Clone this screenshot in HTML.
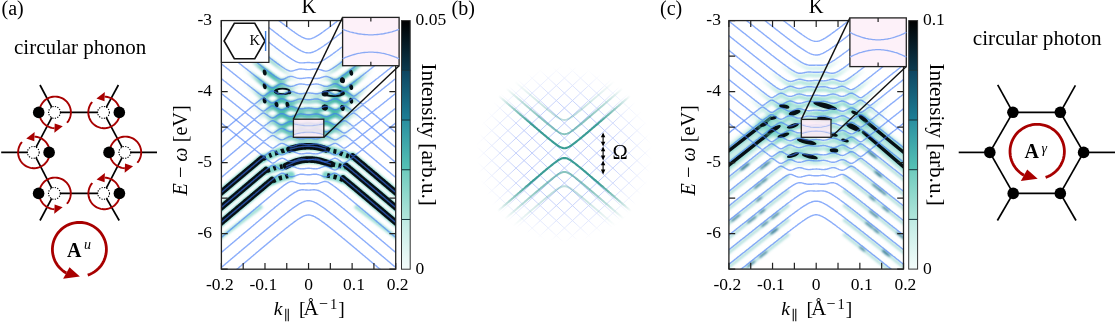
<!DOCTYPE html>
<html><head><meta charset="utf-8"><style>html,body{margin:0;padding:0;background:#fff;overflow:hidden}svg{display:block}</style></head><body>
<svg width="1115" height="322" viewBox="0 0 1115 322" font-family="'Liberation Serif', 'DejaVu Serif', serif">
<rect width="100%" height="100%" fill="#fff"/>
<text x="1.50" y="15.00" font-size="20" text-anchor="start" >(a)</text>
<text x="451.60" y="15.10" font-size="20" text-anchor="start" >(b)</text>
<text x="660.00" y="15.20" font-size="20" text-anchor="start" >(c)</text>
<text x="14.00" y="54.00" font-size="21" text-anchor="start" >circular phonon</text>
<text x="972.80" y="45.20" font-size="21.2" text-anchor="start" >circular photon</text>
<line x1="54.5" y1="112.4" x2="103.5" y2="112.4" stroke="#000" stroke-width="1.7"/>
<line x1="54.5" y1="112.4" x2="33.3" y2="152.4" stroke="#000" stroke-width="1.7"/>
<line x1="33.3" y1="152.4" x2="54.4" y2="193.4" stroke="#000" stroke-width="1.7"/>
<line x1="54.4" y1="193.4" x2="103.6" y2="193.4" stroke="#000" stroke-width="1.7"/>
<line x1="103.6" y1="193.4" x2="124.8" y2="152.4" stroke="#000" stroke-width="1.7"/>
<line x1="124.8" y1="152.4" x2="103.5" y2="112.4" stroke="#000" stroke-width="1.7"/>
<line x1="54.5" y1="112.4" x2="40.0" y2="85.0" stroke="#000" stroke-width="1.7"/>
<line x1="103.5" y1="112.4" x2="118.4" y2="85.0" stroke="#000" stroke-width="1.7"/>
<line x1="33.3" y1="152.4" x2="1.2" y2="152.4" stroke="#000" stroke-width="1.7"/>
<line x1="124.8" y1="152.4" x2="157.0" y2="152.4" stroke="#000" stroke-width="1.7"/>
<line x1="54.4" y1="193.4" x2="40.0" y2="220.5" stroke="#000" stroke-width="1.7"/>
<line x1="103.6" y1="193.4" x2="119.2" y2="220.5" stroke="#000" stroke-width="1.7"/>
<path d="M67.02,122.77 L67.91,121.65 L68.69,120.47 L69.35,119.21 L69.91,117.91 L70.34,116.56 L70.66,115.17 L70.84,113.76 L70.90,112.34 L70.83,110.93 L70.64,109.52 L70.31,108.14 L69.87,106.79 L69.31,105.49 L68.63,104.24 L67.84,103.06 L66.95,101.95 L65.97,100.93 L64.89,100.00 L63.74,99.17 L62.52,98.45 L61.24,97.84 L59.90,97.35 L58.53,96.98 L57.13,96.73 L55.72,96.61 L54.30,96.62 L52.89,96.76 L51.49,97.02 L50.13,97.40 L48.80,97.91 L47.52,98.53 L46.31,99.27 L45.17,100.11 L44.10,101.05 L43.13,102.09 L42.25,103.20 L41.48,104.39 L40.82,105.65 L40.27,106.96 L39.84,108.31 L39.53,109.70 L39.35,111.11 L39.30,112.52 L39.38,113.94 L39.58,115.35 L39.90,116.73 L40.35,118.08 L40.92,119.38 L41.61,120.62 L42.40,121.80 L43.29,122.90 L44.28,123.92 L45.36,124.84 L46.52,125.67 L47.74,126.38 L49.03,126.99 L50.36,127.47 L51.73,127.84 L53.13,128.08 L54.55,128.19" fill="none" stroke="#a80000" stroke-width="1.9"/>
<path d="M62.76,126.22 L54.39,132.79 L54.71,123.59 Z" fill="#a80000"/>
<path d="M92.18,102.03 L91.29,103.15 L90.51,104.33 L89.85,105.59 L89.29,106.89 L88.86,108.24 L88.54,109.63 L88.36,111.04 L88.30,112.46 L88.37,113.87 L88.56,115.28 L88.89,116.66 L89.33,118.01 L89.89,119.31 L90.57,120.56 L91.36,121.74 L92.25,122.85 L93.23,123.87 L94.31,124.80 L95.46,125.63 L96.68,126.35 L97.96,126.96 L99.30,127.45 L100.67,127.82 L102.07,128.07 L103.48,128.19 L104.90,128.18 L106.31,128.04 L107.71,127.78 L109.07,127.40 L110.40,126.89 L111.68,126.27 L112.89,125.53 L114.03,124.69 L115.10,123.75 L116.07,122.71 L116.95,121.60 L117.72,120.41 L118.38,119.15 L118.93,117.84 L119.36,116.49 L119.67,115.10 L119.85,113.69 L119.90,112.28 L119.82,110.86 L119.62,109.45 L119.30,108.07 L118.85,106.72 L118.28,105.42 L117.59,104.18 L116.80,103.00 L115.91,101.90 L114.92,100.88 L113.84,99.96 L112.68,99.13 L111.46,98.42 L110.17,97.81 L108.84,97.33 L107.47,96.96 L106.07,96.72 L104.65,96.61" fill="none" stroke="#a80000" stroke-width="1.9"/>
<path d="M96.44,98.58 L104.81,92.01 L104.49,101.21 Z" fill="#a80000"/>
<path d="M21.98,142.03 L21.09,143.15 L20.31,144.33 L19.65,145.59 L19.09,146.89 L18.66,148.24 L18.34,149.63 L18.16,151.04 L18.10,152.46 L18.17,153.87 L18.36,155.28 L18.69,156.66 L19.13,158.01 L19.69,159.31 L20.37,160.56 L21.16,161.74 L22.05,162.85 L23.03,163.87 L24.11,164.80 L25.26,165.63 L26.48,166.35 L27.76,166.96 L29.10,167.45 L30.47,167.82 L31.87,168.07 L33.28,168.19 L34.70,168.18 L36.11,168.04 L37.51,167.78 L38.87,167.40 L40.20,166.89 L41.48,166.27 L42.69,165.53 L43.83,164.69 L44.90,163.75 L45.87,162.71 L46.75,161.60 L47.52,160.41 L48.18,159.15 L48.73,157.84 L49.16,156.49 L49.47,155.10 L49.65,153.69 L49.70,152.28 L49.62,150.86 L49.42,149.45 L49.10,148.07 L48.65,146.72 L48.08,145.42 L47.39,144.18 L46.60,143.00 L45.71,141.90 L44.72,140.88 L43.64,139.96 L42.48,139.13 L41.26,138.42 L39.97,137.81 L38.64,137.33 L37.27,136.96 L35.87,136.72 L34.45,136.61" fill="none" stroke="#a80000" stroke-width="1.9"/>
<path d="M26.24,138.58 L34.61,132.01 L34.29,141.21 Z" fill="#a80000"/>
<path d="M137.32,162.77 L138.21,161.65 L138.99,160.47 L139.65,159.21 L140.21,157.91 L140.64,156.56 L140.96,155.17 L141.14,153.76 L141.20,152.34 L141.13,150.93 L140.94,149.52 L140.61,148.14 L140.17,146.79 L139.61,145.49 L138.93,144.24 L138.14,143.06 L137.25,141.95 L136.27,140.93 L135.19,140.00 L134.04,139.17 L132.82,138.45 L131.54,137.84 L130.20,137.35 L128.83,136.98 L127.43,136.73 L126.02,136.61 L124.60,136.62 L123.19,136.76 L121.79,137.02 L120.43,137.40 L119.10,137.91 L117.82,138.53 L116.61,139.27 L115.47,140.11 L114.40,141.05 L113.43,142.09 L112.55,143.20 L111.78,144.39 L111.12,145.65 L110.57,146.96 L110.14,148.31 L109.83,149.70 L109.65,151.11 L109.60,152.52 L109.68,153.94 L109.88,155.35 L110.20,156.73 L110.65,158.08 L111.22,159.38 L111.91,160.62 L112.70,161.80 L113.59,162.90 L114.58,163.92 L115.66,164.84 L116.82,165.67 L118.04,166.38 L119.33,166.99 L120.66,167.47 L122.03,167.84 L123.43,168.08 L124.85,168.19" fill="none" stroke="#a80000" stroke-width="1.9"/>
<path d="M133.06,166.22 L124.69,172.79 L125.01,163.59 Z" fill="#a80000"/>
<path d="M66.92,203.77 L67.81,202.65 L68.59,201.47 L69.25,200.21 L69.81,198.91 L70.24,197.56 L70.56,196.17 L70.74,194.76 L70.80,193.34 L70.73,191.93 L70.54,190.52 L70.21,189.14 L69.77,187.79 L69.21,186.49 L68.53,185.24 L67.74,184.06 L66.85,182.95 L65.87,181.93 L64.79,181.00 L63.64,180.17 L62.42,179.45 L61.14,178.84 L59.80,178.35 L58.43,177.98 L57.03,177.73 L55.62,177.61 L54.20,177.62 L52.79,177.76 L51.39,178.02 L50.03,178.40 L48.70,178.91 L47.42,179.53 L46.21,180.27 L45.07,181.11 L44.00,182.05 L43.03,183.09 L42.15,184.20 L41.38,185.39 L40.72,186.65 L40.17,187.96 L39.74,189.31 L39.43,190.70 L39.25,192.11 L39.20,193.52 L39.28,194.94 L39.48,196.35 L39.80,197.73 L40.25,199.08 L40.82,200.38 L41.51,201.62 L42.30,202.80 L43.19,203.90 L44.18,204.92 L45.26,205.84 L46.42,206.67 L47.64,207.38 L48.93,207.99 L50.26,208.47 L51.63,208.84 L53.03,209.08 L54.45,209.19" fill="none" stroke="#a80000" stroke-width="1.9"/>
<path d="M62.66,207.22 L54.29,213.79 L54.61,204.59 Z" fill="#a80000"/>
<path d="M92.28,183.03 L91.39,184.15 L90.61,185.33 L89.95,186.59 L89.39,187.89 L88.96,189.24 L88.64,190.63 L88.46,192.04 L88.40,193.46 L88.47,194.87 L88.66,196.28 L88.99,197.66 L89.43,199.01 L89.99,200.31 L90.67,201.56 L91.46,202.74 L92.35,203.85 L93.33,204.87 L94.41,205.80 L95.56,206.63 L96.78,207.35 L98.06,207.96 L99.40,208.45 L100.77,208.82 L102.17,209.07 L103.58,209.19 L105.00,209.18 L106.41,209.04 L107.81,208.78 L109.17,208.40 L110.50,207.89 L111.78,207.27 L112.99,206.53 L114.13,205.69 L115.20,204.75 L116.17,203.71 L117.05,202.60 L117.82,201.41 L118.48,200.15 L119.03,198.84 L119.46,197.49 L119.77,196.10 L119.95,194.69 L120.00,193.28 L119.92,191.86 L119.72,190.45 L119.40,189.07 L118.95,187.72 L118.38,186.42 L117.69,185.18 L116.90,184.00 L116.01,182.90 L115.02,181.88 L113.94,180.96 L112.78,180.13 L111.56,179.42 L110.27,178.81 L108.94,178.33 L107.57,177.96 L106.17,177.72 L104.75,177.61" fill="none" stroke="#a80000" stroke-width="1.9"/>
<path d="M96.54,179.58 L104.91,173.01 L104.59,182.21 Z" fill="#a80000"/>
<circle cx="54.5" cy="112.4" r="5.9" fill="#fff" stroke="#000" stroke-width="1.1" stroke-dasharray="1.2,1.3"/>
<circle cx="38.7" cy="112.4" r="5.8" fill="#000"/>
<circle cx="103.5" cy="112.4" r="5.9" fill="#fff" stroke="#000" stroke-width="1.1" stroke-dasharray="1.2,1.3"/>
<circle cx="119.3" cy="112.4" r="5.8" fill="#000"/>
<circle cx="33.3" cy="152.4" r="5.9" fill="#fff" stroke="#000" stroke-width="1.1" stroke-dasharray="1.2,1.3"/>
<circle cx="49.099999999999994" cy="152.4" r="5.8" fill="#000"/>
<circle cx="124.8" cy="152.4" r="5.9" fill="#fff" stroke="#000" stroke-width="1.1" stroke-dasharray="1.2,1.3"/>
<circle cx="109.0" cy="152.4" r="5.8" fill="#000"/>
<circle cx="54.4" cy="193.4" r="5.9" fill="#fff" stroke="#000" stroke-width="1.1" stroke-dasharray="1.2,1.3"/>
<circle cx="38.599999999999994" cy="193.4" r="5.8" fill="#000"/>
<circle cx="103.6" cy="193.4" r="5.9" fill="#fff" stroke="#000" stroke-width="1.1" stroke-dasharray="1.2,1.3"/>
<circle cx="119.39999999999999" cy="193.4" r="5.8" fill="#000"/>
<line x1="1012.9" y1="112.3" x2="1060.3" y2="112.3" stroke="#000" stroke-width="1.7"/>
<line x1="1012.9" y1="112.3" x2="989.8" y2="152.4" stroke="#000" stroke-width="1.7"/>
<line x1="989.8" y1="152.4" x2="1013.2" y2="193.4" stroke="#000" stroke-width="1.7"/>
<line x1="1013.2" y1="193.4" x2="1060.3" y2="193.4" stroke="#000" stroke-width="1.7"/>
<line x1="1060.3" y1="193.4" x2="1083.6" y2="152.4" stroke="#000" stroke-width="1.7"/>
<line x1="1083.6" y1="152.4" x2="1060.3" y2="112.3" stroke="#000" stroke-width="1.7"/>
<line x1="1012.9" y1="112.3" x2="997.7" y2="84.8" stroke="#000" stroke-width="1.7"/>
<line x1="1060.3" y1="112.3" x2="1075.4" y2="85.3" stroke="#000" stroke-width="1.7"/>
<line x1="989.8" y1="152.4" x2="958.7" y2="152.4" stroke="#000" stroke-width="1.7"/>
<line x1="1083.6" y1="152.4" x2="1115" y2="152.4" stroke="#000" stroke-width="1.7"/>
<line x1="1013.2" y1="193.4" x2="997.4" y2="220.5" stroke="#000" stroke-width="1.7"/>
<line x1="1060.3" y1="193.4" x2="1076.0" y2="220.5" stroke="#000" stroke-width="1.7"/>
<circle cx="1012.9" cy="112.3" r="5.8" fill="#000"/>
<circle cx="1060.3" cy="112.3" r="5.8" fill="#000"/>
<circle cx="989.8" cy="152.4" r="5.8" fill="#000"/>
<circle cx="1083.6" cy="152.4" r="5.8" fill="#000"/>
<circle cx="1013.2" cy="193.4" r="5.8" fill="#000"/>
<circle cx="1060.3" cy="193.4" r="5.8" fill="#000"/>
<path d="M87.74,275.08 L90.04,274.21 L92.26,273.14 L94.36,271.88 L96.34,270.42 L98.18,268.79 L99.87,267.01 L101.39,265.07 L102.72,263.01 L103.86,260.83 L104.80,258.56 L105.53,256.21 L106.04,253.81 L106.33,251.37 L106.40,248.91 L106.24,246.46 L105.86,244.03 L105.26,241.65 L104.45,239.33 L103.43,237.09 L102.21,234.96 L100.81,232.94 L99.22,231.07 L97.47,229.34 L95.57,227.78 L93.54,226.40 L91.39,225.21 L89.14,224.22 L86.81,223.44 L84.42,222.87 L81.99,222.52 L79.53,222.40 L77.08,222.50 L74.64,222.82 L72.25,223.37 L69.91,224.12 L67.65,225.09 L65.49,226.26 L63.44,227.62 L61.53,229.16 L59.76,230.87 L58.16,232.73 L56.73,234.73 L55.49,236.86 L54.45,239.08 L53.61,241.39 L52.99,243.77 L52.59,246.20 L52.41,248.65 L52.45,251.10 L52.72,253.55 L53.21,255.95 L53.91,258.31 L54.83,260.59 L55.95,262.78 L57.26,264.85 L58.76,266.80 L60.43,268.61 L62.25,270.25 L64.22,271.73 L66.31,273.01" fill="none" stroke="#a80000" stroke-width="2.8"/>
<path d="M79.87,276.40 L63.11,278.79 L69.51,267.24 Z" fill="#a80000"/>
<text x="67.00" y="257.20" font-size="20" text-anchor="start" font-weight="bold">A</text>
<text x="84.00" y="248.50" font-size="14" text-anchor="start" font-style="italic">u</text>
<path d="M1045.61,177.37 L1047.92,176.50 L1050.15,175.42 L1052.27,174.14 L1054.27,172.68 L1056.12,171.04 L1057.82,169.24 L1059.35,167.29 L1060.69,165.21 L1061.84,163.02 L1062.79,160.73 L1063.52,158.36 L1064.03,155.94 L1064.33,153.48 L1064.40,151.01 L1064.24,148.54 L1063.86,146.09 L1063.26,143.69 L1062.44,141.35 L1061.41,139.10 L1060.18,136.95 L1058.76,134.92 L1057.17,133.03 L1055.41,131.29 L1053.49,129.72 L1051.45,128.33 L1049.28,127.13 L1047.01,126.13 L1044.67,125.34 L1042.26,124.77 L1039.81,124.43 L1037.33,124.30 L1034.86,124.40 L1032.41,124.73 L1029.99,125.27 L1027.64,126.04 L1025.36,127.01 L1023.18,128.19 L1021.12,129.56 L1019.19,131.11 L1017.42,132.83 L1015.80,134.71 L1014.36,136.73 L1013.11,138.86 L1012.06,141.11 L1011.22,143.43 L1010.60,145.83 L1010.19,148.27 L1010.01,150.74 L1010.05,153.22 L1010.32,155.68 L1010.81,158.10 L1011.52,160.48 L1012.45,162.77 L1013.57,164.98 L1014.90,167.07 L1016.40,169.03 L1018.08,170.85 L1019.92,172.51 L1021.90,173.99 L1024.01,175.29" fill="none" stroke="#a80000" stroke-width="2.8"/>
<path d="M1037.67,178.70 L1020.81,181.06 L1027.21,169.52 Z" fill="#a80000"/>
<text x="1024.60" y="157.80" font-size="20" text-anchor="start" font-weight="bold">A</text>
<text x="1041.50" y="153.00" font-size="14" text-anchor="start" font-style="italic">γ</text>
<defs>
<clipPath id="clipA"><rect x="221.4" y="20.6" width="174.30" height="248.60"/></clipPath>
<clipPath id="clipC"><rect x="728.9" y="20.6" width="174.60" height="248.50"/></clipPath>
<filter id="blur2" x="-20%" y="-20%" width="140%" height="140%"><feGaussianBlur stdDeviation="2.2"/></filter>
<filter id="blur1" x="-20%" y="-20%" width="140%" height="140%"><feGaussianBlur stdDeviation="0.9"/></filter>
<filter id="blur15" x="-20%" y="-20%" width="140%" height="140%"><feGaussianBlur stdDeviation="1.3"/></filter>
<filter id="blur3" x="-30%" y="-30%" width="160%" height="160%"><feGaussianBlur stdDeviation="3.5"/></filter>
</defs>
<g clip-path="url(#clipA)">
<defs><filter id="mblur" x="-50%" y="-50%" width="200%" height="200%"><feGaussianBlur stdDeviation="7"/></filter><mask id="mhazeA" maskUnits="userSpaceOnUse" x="221" y="20" width="175" height="250"><g filter="url(#mblur)" fill="#fff"><ellipse cx="277" cy="98" rx="15" ry="44" transform="rotate(-22 277 98)"/><ellipse cx="339" cy="98" rx="15" ry="44" transform="rotate(22 339 98)"/><ellipse cx="308" cy="128" rx="34" ry="14"/><ellipse cx="308" cy="106" rx="26" ry="10" fill-opacity="0.6"/></g></mask></defs>
<g mask="url(#mhazeA)"><g filter="url(#blur1)" fill="none" stroke="#45b8aa" stroke-width="5.2" stroke-opacity="1">
<path d="M219.4,-10.2 L220.4,-9.4 L221.4,-8.6 L222.4,-7.8 L223.4,-7.0 L224.4,-6.2 L225.4,-5.5 L226.4,-4.7 L227.4,-3.9 L228.4,-3.1 L229.4,-2.3 L230.4,-1.5 L231.4,-0.7 L232.4,0.1 L233.4,0.9 L234.4,1.7 L235.4,2.5 L236.4,3.3 L237.4,4.1 L238.4,4.9 L239.4,5.7 L240.4,6.5 L241.4,7.3 L242.4,8.1 L243.4,8.9 L244.4,9.7 L245.4,10.5 L246.4,11.3 L247.4,12.0 L248.4,12.8 L249.4,13.6 L250.4,14.4 L251.4,15.2 L252.4,16.0 L253.4,16.8 L254.4,17.6 L255.4,18.4 L256.4,19.2 L257.4,20.0 L258.4,20.8 L259.4,21.5 L260.4,22.3 L261.4,23.1 L262.4,23.9 L263.4,24.7 L264.4,25.5 L265.4,26.3 L266.4,27.1 L267.4,27.8 L268.4,28.6 L269.4,29.4 L270.4,30.2 L271.4,31.0 L272.4,31.8 L273.4,32.5 L274.4,33.3 L275.4,34.1 L276.4,34.9 L277.4,35.6 L278.4,36.4 L279.4,37.2 L280.4,37.9 L281.4,38.7 L282.4,39.5 L283.4,40.2 L284.4,41.0 L285.4,41.7 L286.4,42.5 L287.4,43.2 L288.4,43.9 L289.4,44.7 L290.4,45.4 L291.4,46.1 L292.4,46.8 L293.4,47.5 L294.4,48.2 L295.4,48.9 L296.4,49.5 L297.4,50.2 L298.4,50.8 L299.4,51.4 L300.4,51.9 L301.4,52.4 L302.4,52.9 L303.4,53.3 L304.4,53.7 L305.4,54.0 L306.4,54.2 L307.4,54.4 L308.4,54.4 L309.4,54.4 L310.4,54.3 L311.4,54.1 L312.4,53.8 L313.4,53.4 L314.4,53.0 L315.4,52.5 L316.4,52.0 L317.4,51.5 L318.4,50.9 L319.4,50.3 L320.4,49.7 L321.4,49.0 L322.4,48.3 L323.4,47.7 L324.4,47.0 L325.4,46.3 L326.4,45.5 L327.4,44.8 L328.4,44.1 L329.4,43.4 L330.4,42.6 L331.4,41.9 L332.4,41.1 L333.4,40.4 L334.4,39.6 L335.4,38.8 L336.4,38.1 L337.4,37.3 L338.4,36.6 L339.4,35.8 L340.4,35.0 L341.4,34.2 L342.4,33.5 L343.4,32.7 L344.4,31.9 L345.4,31.1 L346.4,30.3 L347.4,29.6 L348.4,28.8 L349.4,28.0 L350.4,27.2 L351.4,26.4 L352.4,25.6 L353.4,24.9 L354.4,24.1 L355.4,23.3 L356.4,22.5 L357.4,21.7 L358.4,20.9 L359.4,20.1 L360.4,19.3 L361.4,18.5 L362.4,17.8 L363.4,17.0 L364.4,16.2 L365.4,15.4 L366.4,14.6 L367.4,13.8 L368.4,13.0 L369.4,12.2 L370.4,11.4 L371.4,10.6 L372.4,9.8 L373.4,9.0 L374.4,8.2 L375.4,7.4 L376.4,6.6 L377.4,5.9 L378.4,5.1 L379.4,4.3 L380.4,3.5 L381.4,2.7 L382.4,1.9 L383.4,1.1 L384.4,0.3 L385.4,-0.5 L386.4,-1.3 L387.4,-2.1 L388.4,-2.9 L389.4,-3.7 L390.4,-4.5 L391.4,-5.3 L392.4,-6.1 L393.4,-6.9 L394.4,-7.7 L395.4,-8.5 L396.4,-9.3 L397.4,-10.1 L398.4,-10.9"/>
<path d="M219.4,4.6 L220.4,5.4 L221.4,6.2 L222.4,7.0 L223.4,7.8 L224.4,8.6 L225.4,9.3 L226.4,10.1 L227.4,10.9 L228.4,11.7 L229.4,12.5 L230.4,13.3 L231.4,14.1 L232.4,14.9 L233.4,15.7 L234.4,16.5 L235.4,17.3 L236.4,18.1 L237.4,18.9 L238.4,19.7 L239.4,20.5 L240.4,21.3 L241.4,22.1 L242.4,22.9 L243.4,23.7 L244.4,24.5 L245.4,25.3 L246.4,26.1 L247.4,26.8 L248.4,27.6 L249.4,28.4 L250.4,29.2 L251.4,30.0 L252.4,30.8 L253.4,31.6 L254.4,32.4 L255.4,33.2 L256.4,34.0 L257.4,34.8 L258.4,35.5 L259.4,36.3 L260.4,37.1 L261.4,37.9 L262.4,38.7 L263.4,39.5 L264.4,40.3 L265.4,41.0 L266.4,41.8 L267.4,42.6 L268.4,43.4 L269.4,44.2 L270.4,44.9 L271.4,45.7 L272.4,46.5 L273.4,47.3 L274.4,48.0 L275.4,48.8 L276.4,49.6 L277.4,50.3 L278.4,51.1 L279.4,51.8 L280.4,52.6 L281.4,53.3 L282.4,54.1 L283.4,54.8 L284.4,55.5 L285.4,56.3 L286.4,57.0 L287.4,57.7 L288.4,58.4 L289.4,59.1 L290.4,59.7 L291.4,60.4 L292.4,61.0 L293.4,61.6 L294.4,62.2 L295.4,62.7 L296.4,63.2 L297.4,63.6 L298.4,64.0 L299.4,64.2 L300.4,64.4 L301.4,64.4 L302.4,64.4 L303.4,64.4 L304.4,64.3 L305.4,64.2 L306.4,64.1 L307.4,64.0 L308.4,64.0 L309.4,64.0 L310.4,64.1 L311.4,64.2 L312.4,64.2 L313.4,64.3 L314.4,64.4 L315.4,64.4 L316.4,64.4 L317.4,64.3 L318.4,64.0 L319.4,63.7 L320.4,63.3 L321.4,62.8 L322.4,62.3 L323.4,61.8 L324.4,61.2 L325.4,60.5 L326.4,59.9 L327.4,59.2 L328.4,58.5 L329.4,57.8 L330.4,57.1 L331.4,56.4 L332.4,55.7 L333.4,55.0 L334.4,54.2 L335.4,53.5 L336.4,52.7 L337.4,52.0 L338.4,51.2 L339.4,50.5 L340.4,49.7 L341.4,49.0 L342.4,48.2 L343.4,47.4 L344.4,46.6 L345.4,45.9 L346.4,45.1 L347.4,44.3 L348.4,43.5 L349.4,42.8 L350.4,42.0 L351.4,41.2 L352.4,40.4 L353.4,39.6 L354.4,38.9 L355.4,38.1 L356.4,37.3 L357.4,36.5 L358.4,35.7 L359.4,34.9 L360.4,34.1 L361.4,33.3 L362.4,32.5 L363.4,31.8 L364.4,31.0 L365.4,30.2 L366.4,29.4 L367.4,28.6 L368.4,27.8 L369.4,27.0 L370.4,26.2 L371.4,25.4 L372.4,24.6 L373.4,23.8 L374.4,23.0 L375.4,22.2 L376.4,21.4 L377.4,20.7 L378.4,19.9 L379.4,19.1 L380.4,18.3 L381.4,17.5 L382.4,16.7 L383.4,15.9 L384.4,15.1 L385.4,14.3 L386.4,13.5 L387.4,12.7 L388.4,11.9 L389.4,11.1 L390.4,10.3 L391.4,9.5 L392.4,8.7 L393.4,7.9 L394.4,7.1 L395.4,6.3 L396.4,5.5 L397.4,4.7 L398.4,3.9"/>
<path d="M219.4,19.4 L220.4,20.2 L221.4,21.0 L222.4,21.8 L223.4,22.6 L224.4,23.4 L225.4,24.1 L226.4,24.9 L227.4,25.7 L228.4,26.5 L229.4,27.3 L230.4,28.1 L231.4,28.9 L232.4,29.7 L233.4,30.5 L234.4,31.3 L235.4,32.1 L236.4,32.9 L237.4,33.7 L238.4,34.5 L239.4,35.3 L240.4,36.1 L241.4,36.9 L242.4,37.7 L243.4,38.5 L244.4,39.3 L245.4,40.1 L246.4,40.9 L247.4,41.6 L248.4,42.4 L249.4,43.2 L250.4,44.0 L251.4,44.8 L252.4,45.6 L253.4,46.4 L254.4,47.2 L255.4,48.0 L256.4,48.8 L257.4,49.5 L258.4,50.3 L259.4,51.1 L260.4,51.9 L261.4,52.7 L262.4,53.5 L263.4,54.3 L264.4,55.0 L265.4,55.8 L266.4,56.6 L267.4,57.4 L268.4,58.1 L269.4,58.9 L270.4,59.7 L271.4,60.4 L272.4,61.2 L273.4,62.0 L274.4,62.7 L275.4,63.5 L276.4,64.2 L277.4,65.0 L278.4,65.7 L279.4,66.4 L280.4,67.1 L281.4,67.8 L282.4,68.5 L283.4,69.2 L284.4,69.9 L285.4,70.5 L286.4,71.1 L287.4,71.6 L288.4,72.0 L289.4,72.4 L290.4,72.6 L291.4,72.6 L292.4,72.5 L293.4,72.3 L294.4,71.9 L295.4,71.6 L296.4,71.3 L297.4,71.0 L298.4,70.7 L299.4,70.6 L300.4,70.5 L301.4,70.5 L302.4,70.5 L303.4,70.6 L304.4,70.8 L305.4,70.9 L306.4,71.0 L307.4,71.1 L308.4,71.1 L309.4,71.1 L310.4,71.1 L311.4,70.9 L312.4,70.8 L313.4,70.7 L314.4,70.6 L315.4,70.5 L316.4,70.5 L317.4,70.5 L318.4,70.7 L319.4,70.9 L320.4,71.2 L321.4,71.5 L322.4,71.9 L323.4,72.2 L324.4,72.4 L325.4,72.6 L326.4,72.6 L327.4,72.4 L328.4,72.1 L329.4,71.7 L330.4,71.2 L331.4,70.6 L332.4,70.0 L333.4,69.3 L334.4,68.7 L335.4,68.0 L336.4,67.3 L337.4,66.6 L338.4,65.8 L339.4,65.1 L340.4,64.4 L341.4,63.6 L342.4,62.9 L343.4,62.1 L344.4,61.4 L345.4,60.6 L346.4,59.8 L347.4,59.1 L348.4,58.3 L349.4,57.5 L350.4,56.7 L351.4,56.0 L352.4,55.2 L353.4,54.4 L354.4,53.6 L355.4,52.8 L356.4,52.1 L357.4,51.3 L358.4,50.5 L359.4,49.7 L360.4,48.9 L361.4,48.1 L362.4,47.3 L363.4,46.6 L364.4,45.8 L365.4,45.0 L366.4,44.2 L367.4,43.4 L368.4,42.6 L369.4,41.8 L370.4,41.0 L371.4,40.2 L372.4,39.4 L373.4,38.6 L374.4,37.8 L375.4,37.0 L376.4,36.2 L377.4,35.5 L378.4,34.7 L379.4,33.9 L380.4,33.1 L381.4,32.3 L382.4,31.5 L383.4,30.7 L384.4,29.9 L385.4,29.1 L386.4,28.3 L387.4,27.5 L388.4,26.7 L389.4,25.9 L390.4,25.1 L391.4,24.3 L392.4,23.5 L393.4,22.7 L394.4,21.9 L395.4,21.1 L396.4,20.3 L397.4,19.5 L398.4,18.7"/>
<path d="M219.4,34.2 L220.4,35.0 L221.4,35.8 L222.4,36.6 L223.4,37.4 L224.4,38.2 L225.4,38.9 L226.4,39.7 L227.4,40.5 L228.4,41.3 L229.4,42.1 L230.4,42.9 L231.4,43.7 L232.4,44.5 L233.4,45.3 L234.4,46.1 L235.4,46.9 L236.4,47.7 L237.4,48.5 L238.4,49.3 L239.4,50.1 L240.4,50.9 L241.4,51.7 L242.4,52.5 L243.4,53.3 L244.4,54.1 L245.4,54.9 L246.4,55.6 L247.4,56.4 L248.4,57.2 L249.4,58.0 L250.4,58.8 L251.4,59.6 L252.4,60.4 L253.4,61.2 L254.4,62.0 L255.4,62.8 L256.4,63.6 L257.4,64.3 L258.4,65.1 L259.4,65.9 L260.4,66.7 L261.4,67.5 L262.4,68.2 L263.4,69.0 L264.4,69.8 L265.4,70.6 L266.4,71.3 L267.4,72.1 L268.4,72.9 L269.4,73.6 L270.4,74.4 L271.4,75.1 L272.4,75.9 L273.4,76.6 L274.4,77.3 L275.4,78.0 L276.4,78.7 L277.4,79.3 L278.4,79.9 L279.4,80.4 L280.4,80.8 L281.4,81.0 L282.4,80.9 L283.4,80.7 L284.4,80.3 L285.4,79.8 L286.4,79.3 L287.4,78.9 L288.4,78.4 L289.4,78.1 L290.4,77.9 L291.4,77.9 L292.4,78.0 L293.4,78.3 L294.4,78.6 L295.4,78.9 L296.4,79.3 L297.4,79.6 L298.4,79.8 L299.4,80.0 L300.4,80.0 L301.4,80.0 L302.4,79.9 L303.4,79.8 L304.4,79.7 L305.4,79.5 L306.4,79.4 L307.4,79.3 L308.4,79.3 L309.4,79.3 L310.4,79.4 L311.4,79.5 L312.4,79.6 L313.4,79.8 L314.4,79.9 L315.4,80.0 L316.4,80.1 L317.4,80.0 L318.4,79.8 L319.4,79.6 L320.4,79.3 L321.4,79.0 L322.4,78.6 L323.4,78.3 L324.4,78.1 L325.4,77.9 L326.4,77.9 L327.4,78.1 L328.4,78.4 L329.4,78.8 L330.4,79.2 L331.4,79.7 L332.4,80.2 L333.4,80.6 L334.4,80.9 L335.4,81.0 L336.4,80.8 L337.4,80.5 L338.4,80.0 L339.4,79.4 L340.4,78.8 L341.4,78.1 L342.4,77.4 L343.4,76.7 L344.4,76.0 L345.4,75.3 L346.4,74.5 L347.4,73.8 L348.4,73.0 L349.4,72.3 L350.4,71.5 L351.4,70.7 L352.4,70.0 L353.4,69.2 L354.4,68.4 L355.4,67.6 L356.4,66.8 L357.4,66.1 L358.4,65.3 L359.4,64.5 L360.4,63.7 L361.4,62.9 L362.4,62.1 L363.4,61.3 L364.4,60.6 L365.4,59.8 L366.4,59.0 L367.4,58.2 L368.4,57.4 L369.4,56.6 L370.4,55.8 L371.4,55.0 L372.4,54.2 L373.4,53.4 L374.4,52.6 L375.4,51.8 L376.4,51.0 L377.4,50.3 L378.4,49.5 L379.4,48.7 L380.4,47.9 L381.4,47.1 L382.4,46.3 L383.4,45.5 L384.4,44.7 L385.4,43.9 L386.4,43.1 L387.4,42.3 L388.4,41.5 L389.4,40.7 L390.4,39.9 L391.4,39.1 L392.4,38.3 L393.4,37.5 L394.4,36.7 L395.4,35.9 L396.4,35.1 L397.4,34.3 L398.4,33.5"/>
<path d="M219.4,49.0 L220.4,49.8 L221.4,50.6 L222.4,51.4 L223.4,52.2 L224.4,53.0 L225.4,53.7 L226.4,54.5 L227.4,55.3 L228.4,56.1 L229.4,56.9 L230.4,57.7 L231.4,58.5 L232.4,59.3 L233.4,60.1 L234.4,60.9 L235.4,61.7 L236.4,62.5 L237.4,63.3 L238.4,64.1 L239.4,64.9 L240.4,65.7 L241.4,66.5 L242.4,67.3 L243.4,68.1 L244.4,68.9 L245.4,69.7 L246.4,70.4 L247.4,71.2 L248.4,72.0 L249.4,72.8 L250.4,73.6 L251.4,74.4 L252.4,75.2 L253.4,76.0 L254.4,76.8 L255.4,77.6 L256.4,78.3 L257.4,79.1 L258.4,79.9 L259.4,80.7 L260.4,81.5 L261.4,82.2 L262.4,83.0 L263.4,83.8 L264.4,84.5 L265.4,85.3 L266.4,86.0 L267.4,86.7 L268.4,87.4 L269.4,88.1 L270.4,88.7 L271.4,89.2 L272.4,89.3 L273.4,89.2 L274.4,88.7 L275.4,88.2 L276.4,87.6 L277.4,86.9 L278.4,86.3 L279.4,85.8 L280.4,85.4 L281.4,85.2 L282.4,85.2 L283.4,85.5 L284.4,85.8 L285.4,86.3 L286.4,86.7 L287.4,87.2 L288.4,87.5 L289.4,87.8 L290.4,87.9 L291.4,87.9 L292.4,87.7 L293.4,87.4 L294.4,87.1 L295.4,86.7 L296.4,86.3 L297.4,86.0 L298.4,85.7 L299.4,85.5 L300.4,85.5 L301.4,85.5 L302.4,85.6 L303.4,85.7 L304.4,85.9 L305.4,86.0 L306.4,86.1 L307.4,86.2 L308.4,86.3 L309.4,86.2 L310.4,86.2 L311.4,86.0 L312.4,85.9 L313.4,85.7 L314.4,85.6 L315.4,85.5 L316.4,85.5 L317.4,85.5 L318.4,85.7 L319.4,85.9 L320.4,86.3 L321.4,86.6 L322.4,87.0 L323.4,87.4 L324.4,87.7 L325.4,87.9 L326.4,88.0 L327.4,87.9 L328.4,87.6 L329.4,87.3 L330.4,86.8 L331.4,86.4 L332.4,85.9 L333.4,85.5 L334.4,85.3 L335.4,85.2 L336.4,85.4 L337.4,85.7 L338.4,86.2 L339.4,86.8 L340.4,87.4 L341.4,88.1 L342.4,88.6 L343.4,89.1 L344.4,89.3 L345.4,89.2 L346.4,88.8 L347.4,88.2 L348.4,87.6 L349.4,86.9 L350.4,86.2 L351.4,85.4 L352.4,84.7 L353.4,83.9 L354.4,83.2 L355.4,82.4 L356.4,81.6 L357.4,80.8 L358.4,80.1 L359.4,79.3 L360.4,78.5 L361.4,77.7 L362.4,76.9 L363.4,76.1 L364.4,75.4 L365.4,74.6 L366.4,73.8 L367.4,73.0 L368.4,72.2 L369.4,71.4 L370.4,70.6 L371.4,69.8 L372.4,69.0 L373.4,68.2 L374.4,67.4 L375.4,66.6 L376.4,65.8 L377.4,65.1 L378.4,64.3 L379.4,63.5 L380.4,62.7 L381.4,61.9 L382.4,61.1 L383.4,60.3 L384.4,59.5 L385.4,58.7 L386.4,57.9 L387.4,57.1 L388.4,56.3 L389.4,55.5 L390.4,54.7 L391.4,53.9 L392.4,53.1 L393.4,52.3 L394.4,51.5 L395.4,50.7 L396.4,49.9 L397.4,49.1 L398.4,48.3"/>
<path d="M219.4,63.8 L220.4,64.6 L221.4,65.4 L222.4,66.2 L223.4,67.0 L224.4,67.8 L225.4,68.5 L226.4,69.3 L227.4,70.1 L228.4,70.9 L229.4,71.7 L230.4,72.5 L231.4,73.3 L232.4,74.1 L233.4,74.9 L234.4,75.7 L235.4,76.5 L236.4,77.3 L237.4,78.1 L238.4,78.9 L239.4,79.7 L240.4,80.5 L241.4,81.3 L242.4,82.1 L243.4,82.9 L244.4,83.7 L245.4,84.5 L246.4,85.2 L247.4,86.0 L248.4,86.8 L249.4,87.6 L250.4,88.4 L251.4,89.2 L252.4,90.0 L253.4,90.8 L254.4,91.6 L255.4,92.3 L256.4,93.1 L257.4,93.9 L258.4,94.6 L259.4,95.4 L260.4,96.1 L261.4,96.8 L262.4,97.4 L263.4,97.6 L264.4,97.2 L265.4,96.6 L266.4,95.9 L267.4,95.2 L268.4,94.5 L269.4,93.8 L270.4,93.1 L271.4,92.6 L272.4,92.4 L273.4,92.5 L274.4,92.9 L275.4,93.5 L276.4,94.0 L277.4,94.6 L278.4,95.2 L279.4,95.7 L280.4,96.0 L281.4,96.2 L282.4,96.1 L283.4,95.8 L284.4,95.4 L285.4,94.9 L286.4,94.3 L287.4,93.9 L288.4,93.4 L289.4,93.1 L290.4,93.0 L291.4,93.0 L292.4,93.1 L293.4,93.4 L294.4,93.7 L295.4,94.1 L296.4,94.4 L297.4,94.7 L298.4,95.0 L299.4,95.2 L300.4,95.2 L301.4,95.2 L302.4,95.1 L303.4,95.0 L304.4,94.8 L305.4,94.7 L306.4,94.6 L307.4,94.5 L308.4,94.4 L309.4,94.5 L310.4,94.5 L311.4,94.6 L312.4,94.8 L313.4,95.0 L314.4,95.1 L315.4,95.2 L316.4,95.2 L317.4,95.2 L318.4,95.0 L319.4,94.8 L320.4,94.5 L321.4,94.1 L322.4,93.8 L323.4,93.4 L324.4,93.1 L325.4,93.0 L326.4,92.9 L327.4,93.1 L328.4,93.4 L329.4,93.8 L330.4,94.2 L331.4,94.8 L332.4,95.3 L333.4,95.7 L334.4,96.0 L335.4,96.2 L336.4,96.1 L337.4,95.7 L338.4,95.3 L339.4,94.7 L340.4,94.2 L341.4,93.6 L342.4,93.0 L343.4,92.6 L344.4,92.4 L345.4,92.6 L346.4,93.0 L347.4,93.6 L348.4,94.3 L349.4,95.0 L350.4,95.8 L351.4,96.5 L352.4,97.1 L353.4,97.6 L354.4,97.5 L355.4,96.9 L356.4,96.3 L357.4,95.5 L358.4,94.8 L359.4,94.0 L360.4,93.3 L361.4,92.5 L362.4,91.7 L363.4,90.9 L364.4,90.1 L365.4,89.4 L366.4,88.6 L367.4,87.8 L368.4,87.0 L369.4,86.2 L370.4,85.4 L371.4,84.6 L372.4,83.8 L373.4,83.0 L374.4,82.2 L375.4,81.4 L376.4,80.6 L377.4,79.9 L378.4,79.1 L379.4,78.3 L380.4,77.5 L381.4,76.7 L382.4,75.9 L383.4,75.1 L384.4,74.3 L385.4,73.5 L386.4,72.7 L387.4,71.9 L388.4,71.1 L389.4,70.3 L390.4,69.5 L391.4,68.7 L392.4,67.9 L393.4,67.1 L394.4,66.3 L395.4,65.5 L396.4,64.7 L397.4,63.9 L398.4,63.1"/>
<path d="M219.4,78.6 L220.4,79.4 L221.4,80.2 L222.4,81.0 L223.4,81.8 L224.4,82.6 L225.4,83.3 L226.4,84.1 L227.4,84.9 L228.4,85.7 L229.4,86.5 L230.4,87.3 L231.4,88.1 L232.4,88.9 L233.4,89.7 L234.4,90.5 L235.4,91.3 L236.4,92.1 L237.4,92.9 L238.4,93.7 L239.4,94.5 L240.4,95.3 L241.4,96.1 L242.4,96.9 L243.4,97.7 L244.4,98.5 L245.4,99.3 L246.4,100.0 L247.4,100.8 L248.4,101.6 L249.4,102.4 L250.4,103.2 L251.4,104.0 L252.4,104.7 L253.4,105.4 L254.4,105.6 L255.4,105.1 L256.4,104.3 L257.4,103.5 L258.4,102.7 L259.4,101.9 L260.4,101.2 L261.4,100.4 L262.4,99.8 L263.4,99.6 L264.4,99.9 L265.4,100.5 L266.4,101.1 L267.4,101.8 L268.4,102.5 L269.4,103.2 L270.4,103.8 L271.4,104.3 L272.4,104.5 L273.4,104.3 L274.4,103.8 L275.4,103.2 L276.4,102.6 L277.4,101.9 L278.4,101.3 L279.4,100.8 L280.4,100.4 L281.4,100.2 L282.4,100.2 L283.4,100.5 L284.4,100.9 L285.4,101.3 L286.4,101.8 L287.4,102.3 L288.4,102.7 L289.4,102.9 L290.4,103.1 L291.4,103.0 L292.4,102.8 L293.4,102.5 L294.4,102.2 L295.4,101.8 L296.4,101.4 L297.4,101.0 L298.4,100.7 L299.4,100.5 L300.4,100.5 L301.4,100.5 L302.4,100.6 L303.4,100.7 L304.4,100.9 L305.4,101.0 L306.4,101.1 L307.4,101.2 L308.4,101.3 L309.4,101.2 L310.4,101.2 L311.4,101.0 L312.4,100.9 L313.4,100.7 L314.4,100.6 L315.4,100.5 L316.4,100.4 L317.4,100.5 L318.4,100.7 L319.4,101.0 L320.4,101.3 L321.4,101.7 L322.4,102.1 L323.4,102.5 L324.4,102.8 L325.4,103.0 L326.4,103.1 L327.4,103.0 L328.4,102.7 L329.4,102.4 L330.4,101.9 L331.4,101.4 L332.4,101.0 L333.4,100.6 L334.4,100.3 L335.4,100.2 L336.4,100.3 L337.4,100.7 L338.4,101.2 L339.4,101.8 L340.4,102.5 L341.4,103.1 L342.4,103.7 L343.4,104.2 L344.4,104.4 L345.4,104.3 L346.4,103.9 L347.4,103.3 L348.4,102.7 L349.4,102.0 L350.4,101.3 L351.4,100.6 L352.4,100.0 L353.4,99.6 L354.4,99.7 L355.4,100.3 L356.4,101.0 L357.4,101.8 L358.4,102.6 L359.4,103.4 L360.4,104.1 L361.4,104.9 L362.4,105.6 L363.4,105.5 L364.4,104.9 L365.4,104.1 L366.4,103.3 L367.4,102.6 L368.4,101.8 L369.4,101.0 L370.4,100.2 L371.4,99.4 L372.4,98.6 L373.4,97.8 L374.4,97.0 L375.4,96.2 L376.4,95.4 L377.4,94.7 L378.4,93.9 L379.4,93.1 L380.4,92.3 L381.4,91.5 L382.4,90.7 L383.4,89.9 L384.4,89.1 L385.4,88.3 L386.4,87.5 L387.4,86.7 L388.4,85.9 L389.4,85.1 L390.4,84.3 L391.4,83.5 L392.4,82.7 L393.4,81.9 L394.4,81.1 L395.4,80.3 L396.4,79.5 L397.4,78.7 L398.4,77.9"/>
<path d="M219.4,93.4 L220.4,94.2 L221.4,95.0 L222.4,95.8 L223.4,96.6 L224.4,97.4 L225.4,98.1 L226.4,98.9 L227.4,99.7 L228.4,100.5 L229.4,101.3 L230.4,102.1 L231.4,102.9 L232.4,103.7 L233.4,104.5 L234.4,105.3 L235.4,106.1 L236.4,106.9 L237.4,107.7 L238.4,108.5 L239.4,109.3 L240.4,110.1 L241.4,110.9 L242.4,111.7 L243.4,112.5 L244.4,113.2 L245.4,113.5 L246.4,112.7 L247.4,111.9 L248.4,111.1 L249.4,110.3 L250.4,109.4 L251.4,108.6 L252.4,107.8 L253.4,107.1 L254.4,106.8 L255.4,107.3 L256.4,108.0 L257.4,108.8 L258.4,109.6 L259.4,110.3 L260.4,111.1 L261.4,111.8 L262.4,112.4 L263.4,112.6 L264.4,112.3 L265.4,111.7 L266.4,110.9 L267.4,110.2 L268.4,109.4 L269.4,108.7 L270.4,108.1 L271.4,107.6 L272.4,107.3 L273.4,107.4 L274.4,107.9 L275.4,108.4 L276.4,109.0 L277.4,109.6 L278.4,110.2 L279.4,110.7 L280.4,111.1 L281.4,111.3 L282.4,111.2 L283.4,110.9 L284.4,110.4 L285.4,109.9 L286.4,109.4 L287.4,108.9 L288.4,108.4 L289.4,108.1 L290.4,107.9 L291.4,107.9 L292.4,108.1 L293.4,108.4 L294.4,108.7 L295.4,109.1 L296.4,109.4 L297.4,109.8 L298.4,110.0 L299.4,110.2 L300.4,110.3 L301.4,110.3 L302.4,110.2 L303.4,110.1 L304.4,109.9 L305.4,109.8 L306.4,109.6 L307.4,109.6 L308.4,109.5 L309.4,109.5 L310.4,109.6 L311.4,109.7 L312.4,109.9 L313.4,110.0 L314.4,110.2 L315.4,110.3 L316.4,110.3 L317.4,110.3 L318.4,110.1 L319.4,109.8 L320.4,109.5 L321.4,109.2 L322.4,108.8 L323.4,108.4 L324.4,108.1 L325.4,107.9 L326.4,107.9 L327.4,108.1 L328.4,108.4 L329.4,108.8 L330.4,109.3 L331.4,109.8 L332.4,110.3 L333.4,110.8 L334.4,111.1 L335.4,111.3 L336.4,111.1 L337.4,110.8 L338.4,110.3 L339.4,109.7 L340.4,109.1 L341.4,108.5 L342.4,108.0 L343.4,107.5 L344.4,107.3 L345.4,107.5 L346.4,108.0 L347.4,108.6 L348.4,109.3 L349.4,110.0 L350.4,110.8 L351.4,111.5 L352.4,112.2 L353.4,112.6 L354.4,112.5 L355.4,111.9 L356.4,111.2 L357.4,110.5 L358.4,109.7 L359.4,109.0 L360.4,108.2 L361.4,107.5 L362.4,106.9 L363.4,107.0 L364.4,107.7 L365.4,108.4 L366.4,109.3 L367.4,110.1 L368.4,110.9 L369.4,111.7 L370.4,112.6 L371.4,113.3 L372.4,113.3 L373.4,112.6 L374.4,111.8 L375.4,111.0 L376.4,110.2 L377.4,109.4 L378.4,108.7 L379.4,107.9 L380.4,107.1 L381.4,106.3 L382.4,105.5 L383.4,104.7 L384.4,103.9 L385.4,103.1 L386.4,102.3 L387.4,101.5 L388.4,100.7 L389.4,99.9 L390.4,99.1 L391.4,98.3 L392.4,97.5 L393.4,96.7 L394.4,95.9 L395.4,95.1 L396.4,94.3 L397.4,93.5 L398.4,92.7"/>
<path d="M219.4,108.2 L220.4,109.0 L221.4,109.8 L222.4,110.6 L223.4,111.4 L224.4,112.2 L225.4,112.9 L226.4,113.7 L227.4,114.5 L228.4,115.3 L229.4,116.1 L230.4,116.9 L231.4,117.7 L232.4,118.5 L233.4,119.3 L234.4,120.1 L235.4,120.9 L236.4,121.2 L237.4,120.3 L238.4,119.5 L239.4,118.7 L240.4,117.8 L241.4,117.0 L242.4,116.1 L243.4,115.3 L244.4,114.5 L245.4,114.2 L246.4,114.9 L247.4,115.7 L248.4,116.5 L249.4,117.2 L250.4,118.0 L251.4,118.8 L252.4,119.6 L253.4,120.3 L254.4,120.6 L255.4,120.1 L256.4,119.3 L257.4,118.5 L258.4,117.7 L259.4,116.9 L260.4,116.1 L261.4,115.4 L262.4,114.7 L263.4,114.4 L264.4,114.7 L265.4,115.3 L266.4,116.0 L267.4,116.7 L268.4,117.4 L269.4,118.1 L270.4,118.7 L271.4,119.3 L272.4,119.5 L273.4,119.3 L274.4,118.9 L275.4,118.3 L276.4,117.6 L277.4,117.0 L278.4,116.3 L279.4,115.8 L280.4,115.3 L281.4,115.1 L282.4,115.2 L283.4,115.4 L284.4,115.8 L285.4,116.3 L286.4,116.8 L287.4,117.3 L288.4,117.7 L289.4,118.0 L290.4,118.1 L291.4,118.1 L292.4,117.9 L293.4,117.6 L294.4,117.2 L295.4,116.8 L296.4,116.4 L297.4,116.0 L298.4,115.8 L299.4,115.5 L300.4,115.4 L301.4,115.4 L302.4,115.5 L303.4,115.7 L304.4,115.8 L305.4,116.0 L306.4,116.1 L307.4,116.2 L308.4,116.2 L309.4,116.2 L310.4,116.1 L311.4,116.0 L312.4,115.9 L313.4,115.7 L314.4,115.6 L315.4,115.5 L316.4,115.4 L317.4,115.5 L318.4,115.7 L319.4,116.0 L320.4,116.3 L321.4,116.7 L322.4,117.1 L323.4,117.5 L324.4,117.9 L325.4,118.1 L326.4,118.1 L327.4,118.0 L328.4,117.7 L329.4,117.3 L330.4,116.9 L331.4,116.4 L332.4,115.9 L333.4,115.5 L334.4,115.2 L335.4,115.1 L336.4,115.3 L337.4,115.7 L338.4,116.2 L339.4,116.8 L340.4,117.5 L341.4,118.1 L342.4,118.8 L343.4,119.3 L344.4,119.5 L345.4,119.3 L346.4,118.9 L347.4,118.2 L348.4,117.6 L349.4,116.9 L350.4,116.1 L351.4,115.4 L352.4,114.8 L353.4,114.4 L354.4,114.6 L355.4,115.2 L356.4,116.0 L357.4,116.7 L358.4,117.5 L359.4,118.4 L360.4,119.2 L361.4,119.9 L362.4,120.6 L363.4,120.4 L364.4,119.7 L365.4,119.0 L366.4,118.2 L367.4,117.4 L368.4,116.6 L369.4,115.8 L370.4,115.0 L371.4,114.3 L372.4,114.4 L373.4,115.1 L374.4,116.0 L375.4,116.8 L376.4,117.7 L377.4,118.5 L378.4,119.3 L379.4,120.2 L380.4,121.0 L381.4,121.1 L382.4,120.3 L383.4,119.5 L384.4,118.7 L385.4,117.9 L386.4,117.1 L387.4,116.3 L388.4,115.5 L389.4,114.7 L390.4,113.9 L391.4,113.1 L392.4,112.3 L393.4,111.5 L394.4,110.7 L395.4,109.9 L396.4,109.1 L397.4,108.3 L398.4,107.5"/>
<path d="M219.4,123.0 L220.4,123.8 L221.4,124.6 L222.4,125.4 L223.4,126.2 L224.4,127.0 L225.4,127.7 L226.4,128.5 L227.4,128.8 L228.4,127.9 L229.4,127.1 L230.4,126.3 L231.4,125.4 L232.4,124.6 L233.4,123.7 L234.4,122.9 L235.4,122.0 L236.4,121.7 L237.4,122.5 L238.4,123.3 L239.4,124.1 L240.4,124.9 L241.4,125.7 L242.4,126.5 L243.4,127.3 L244.4,128.0 L245.4,128.5 L246.4,127.7 L247.4,126.9 L248.4,126.1 L249.4,125.2 L250.4,124.4 L251.4,123.6 L252.4,122.8 L253.4,122.0 L254.4,121.6 L255.4,122.1 L256.4,122.9 L257.4,123.6 L258.4,124.4 L259.4,125.2 L260.4,125.9 L261.4,126.6 L262.4,127.3 L263.4,127.7 L264.4,127.3 L265.4,126.7 L266.4,125.9 L267.4,125.2 L268.4,124.4 L269.4,123.7 L270.4,123.0 L271.4,122.5 L272.4,122.2 L273.4,122.3 L274.4,122.7 L275.4,123.3 L276.4,123.9 L277.4,124.5 L278.4,125.1 L279.4,125.7 L280.4,126.1 L281.4,126.3 L282.4,126.3 L283.4,125.9 L284.4,125.5 L285.4,125.0 L286.4,124.4 L287.4,123.9 L288.4,123.4 L289.4,123.1 L290.4,122.9 L291.4,122.9 L292.4,123.0 L293.4,123.3 L294.4,123.7 L295.4,124.0 L296.4,124.4 L297.4,124.8 L298.4,125.0 L299.4,125.2 L300.4,125.3 L301.4,125.3 L302.4,125.3 L303.4,125.1 L304.4,125.0 L305.4,124.8 L306.4,124.7 L307.4,124.6 L308.4,124.6 L309.4,124.6 L310.4,124.7 L311.4,124.8 L312.4,125.0 L313.4,125.1 L314.4,125.2 L315.4,125.3 L316.4,125.4 L317.4,125.3 L318.4,125.1 L319.4,124.8 L320.4,124.5 L321.4,124.1 L322.4,123.7 L323.4,123.4 L324.4,123.1 L325.4,122.9 L326.4,122.9 L327.4,123.0 L328.4,123.4 L329.4,123.8 L330.4,124.3 L331.4,124.9 L332.4,125.4 L333.4,125.9 L334.4,126.2 L335.4,126.3 L336.4,126.2 L337.4,125.8 L338.4,125.2 L339.4,124.7 L340.4,124.0 L341.4,123.4 L342.4,122.8 L343.4,122.4 L344.4,122.2 L345.4,122.4 L346.4,122.9 L347.4,123.6 L348.4,124.3 L349.4,125.0 L350.4,125.8 L351.4,126.5 L352.4,127.2 L353.4,127.6 L354.4,127.4 L355.4,126.8 L356.4,126.1 L357.4,125.3 L358.4,124.5 L359.4,123.8 L360.4,123.0 L361.4,122.3 L362.4,121.7 L363.4,121.9 L364.4,122.6 L365.4,123.4 L366.4,124.2 L367.4,125.1 L368.4,125.9 L369.4,126.7 L370.4,127.6 L371.4,128.4 L372.4,128.2 L373.4,127.4 L374.4,126.6 L375.4,125.8 L376.4,125.0 L377.4,124.3 L378.4,123.5 L379.4,122.7 L380.4,121.9 L381.4,121.9 L382.4,122.7 L383.4,123.6 L384.4,124.4 L385.4,125.2 L386.4,126.1 L387.4,126.9 L388.4,127.8 L389.4,128.6 L390.4,128.7 L391.4,127.9 L392.4,127.1 L393.4,126.3 L394.4,125.5 L395.4,124.7 L396.4,123.9 L397.4,123.1 L398.4,122.3"/>
<path d="M219.4,135.6 L220.4,134.7 L221.4,133.9 L222.4,133.0 L223.4,132.2 L224.4,131.3 L225.4,130.5 L226.4,129.6 L227.4,129.3 L228.4,130.1 L229.4,130.9 L230.4,131.7 L231.4,132.5 L232.4,133.3 L233.4,134.1 L234.4,134.9 L235.4,135.7 L236.4,136.2 L237.4,135.3 L238.4,134.5 L239.4,133.7 L240.4,132.8 L241.4,132.0 L242.4,131.1 L243.4,130.3 L244.4,129.5 L245.4,129.0 L246.4,129.7 L247.4,130.5 L248.4,131.3 L249.4,132.0 L250.4,132.8 L251.4,133.6 L252.4,134.4 L253.4,135.1 L254.4,135.6 L255.4,135.1 L256.4,134.3 L257.4,133.5 L258.4,132.7 L259.4,131.9 L260.4,131.1 L261.4,130.3 L262.4,129.6 L263.4,129.2 L264.4,129.5 L265.4,130.1 L266.4,130.8 L267.4,131.6 L268.4,132.3 L269.4,133.0 L270.4,133.7 L271.4,134.2 L272.4,134.5 L273.4,134.4 L274.4,133.9 L275.4,133.3 L276.4,132.6 L277.4,132.0 L278.4,131.3 L279.4,130.7 L280.4,130.3 L281.4,130.0 L282.4,130.0 L283.4,130.3 L284.4,130.7 L285.4,131.2 L286.4,131.7 L287.4,132.2 L288.4,132.6 L289.4,133.0 L290.4,133.2 L291.4,133.2 L292.4,133.0 L293.4,132.7 L294.4,132.3 L295.4,131.9 L296.4,131.5 L297.4,131.1 L298.4,130.8 L299.4,130.6 L300.4,130.5 L301.4,130.4 L302.4,130.5 L303.4,130.6 L304.4,130.8 L305.4,131.0 L306.4,131.1 L307.4,131.2 L308.4,131.2 L309.4,131.2 L310.4,131.1 L311.4,131.0 L312.4,130.8 L313.4,130.7 L314.4,130.5 L315.4,130.4 L316.4,130.4 L317.4,130.5 L318.4,130.7 L319.4,131.0 L320.4,131.4 L321.4,131.8 L322.4,132.2 L323.4,132.6 L324.4,132.9 L325.4,133.1 L326.4,133.2 L327.4,133.0 L328.4,132.7 L329.4,132.3 L330.4,131.8 L331.4,131.3 L332.4,130.8 L333.4,130.4 L334.4,130.1 L335.4,130.0 L336.4,130.2 L337.4,130.6 L338.4,131.2 L339.4,131.8 L340.4,132.5 L341.4,133.2 L342.4,133.8 L343.4,134.3 L344.4,134.6 L345.4,134.3 L346.4,133.8 L347.4,133.1 L348.4,132.4 L349.4,131.7 L350.4,131.0 L351.4,130.3 L352.4,129.6 L353.4,129.2 L354.4,129.5 L355.4,130.2 L356.4,130.9 L357.4,131.7 L358.4,132.5 L359.4,133.4 L360.4,134.2 L361.4,135.0 L362.4,135.6 L363.4,135.3 L364.4,134.6 L365.4,133.8 L366.4,133.0 L367.4,132.2 L368.4,131.4 L369.4,130.6 L370.4,129.8 L371.4,129.1 L372.4,129.3 L373.4,130.1 L374.4,131.0 L375.4,131.8 L376.4,132.6 L377.4,133.5 L378.4,134.3 L379.4,135.2 L380.4,136.0 L381.4,135.9 L382.4,135.1 L383.4,134.3 L384.4,133.5 L385.4,132.7 L386.4,131.9 L387.4,131.1 L388.4,130.3 L389.4,129.5 L390.4,129.5 L391.4,130.3 L392.4,131.2 L393.4,132.0 L394.4,132.9 L395.4,133.7 L396.4,134.5 L397.4,135.4 L398.4,136.2"/>
<path d="M219.4,150.6 L220.4,149.7 L221.4,148.9 L222.4,148.0 L223.4,147.2 L224.4,146.3 L225.4,145.5 L226.4,144.6 L227.4,143.8 L228.4,142.9 L229.4,142.1 L230.4,141.3 L231.4,140.4 L232.4,139.6 L233.4,138.7 L234.4,137.9 L235.4,137.0 L236.4,136.5 L237.4,137.3 L238.4,138.1 L239.4,138.9 L240.4,139.7 L241.4,140.5 L242.4,141.3 L243.4,142.1 L244.4,142.9 L245.4,143.5 L246.4,142.7 L247.4,141.9 L248.4,141.1 L249.4,140.2 L250.4,139.4 L251.4,138.6 L252.4,137.8 L253.4,137.0 L254.4,136.4 L255.4,136.9 L256.4,137.7 L257.4,138.4 L258.4,139.2 L259.4,140.0 L260.4,140.7 L261.4,141.5 L262.4,142.2 L263.4,142.7 L264.4,142.4 L265.4,141.7 L266.4,141.0 L267.4,140.2 L268.4,139.4 L269.4,138.7 L270.4,138.0 L271.4,137.4 L272.4,137.0 L273.4,137.1 L274.4,137.5 L275.4,138.1 L276.4,138.8 L277.4,139.4 L278.4,140.0 L279.4,140.6 L280.4,141.1 L281.4,141.3 L282.4,141.3 L283.4,141.0 L284.4,140.6 L285.4,140.0 L286.4,139.5 L287.4,138.9 L288.4,138.5 L289.4,138.1 L290.4,137.9 L291.4,137.8 L292.4,138.0 L293.4,138.2 L294.4,138.6 L295.4,139.0 L296.4,139.4 L297.4,139.7 L298.4,140.0 L299.4,140.2 L300.4,140.3 L301.4,140.4 L302.4,140.3 L303.4,140.2 L304.4,140.0 L305.4,139.9 L306.4,139.8 L307.4,139.7 L308.4,139.7 L309.4,139.7 L310.4,139.8 L311.4,139.9 L312.4,140.0 L313.4,140.2 L314.4,140.3 L315.4,140.4 L316.4,140.4 L317.4,140.3 L318.4,140.1 L319.4,139.8 L320.4,139.4 L321.4,139.0 L322.4,138.7 L323.4,138.3 L324.4,138.0 L325.4,137.8 L326.4,137.8 L327.4,138.0 L328.4,138.4 L329.4,138.8 L330.4,139.4 L331.4,139.9 L332.4,140.5 L333.4,140.9 L334.4,141.3 L335.4,141.4 L336.4,141.1 L337.4,140.7 L338.4,140.2 L339.4,139.5 L340.4,138.9 L341.4,138.2 L342.4,137.6 L343.4,137.2 L344.4,137.0 L345.4,137.3 L346.4,137.8 L347.4,138.5 L348.4,139.3 L349.4,140.0 L350.4,140.8 L351.4,141.6 L352.4,142.3 L353.4,142.7 L354.4,142.3 L355.4,141.6 L356.4,140.9 L357.4,140.1 L358.4,139.4 L359.4,138.6 L360.4,137.8 L361.4,137.0 L362.4,136.4 L363.4,136.8 L364.4,137.6 L365.4,138.4 L366.4,139.2 L367.4,140.1 L368.4,140.9 L369.4,141.7 L370.4,142.6 L371.4,143.4 L372.4,143.0 L373.4,142.2 L374.4,141.4 L375.4,140.6 L376.4,139.9 L377.4,139.1 L378.4,138.3 L379.4,137.5 L380.4,136.7 L381.4,136.9 L382.4,137.7 L383.4,138.6 L384.4,139.4 L385.4,140.2 L386.4,141.1 L387.4,141.9 L388.4,142.8 L389.4,143.6 L390.4,144.5 L391.4,145.3 L392.4,146.2 L393.4,147.0 L394.4,147.9 L395.4,148.7 L396.4,149.5 L397.4,150.4 L398.4,151.2"/>
<path d="M219.4,165.6 L220.4,164.7 L221.4,163.9 L222.4,163.0 L223.4,162.2 L224.4,161.3 L225.4,160.5 L226.4,159.6 L227.4,158.8 L228.4,157.9 L229.4,157.1 L230.4,156.3 L231.4,155.4 L232.4,154.6 L233.4,153.7 L234.4,152.9 L235.4,152.0 L236.4,151.2 L237.4,150.3 L238.4,149.5 L239.4,148.7 L240.4,147.8 L241.4,147.0 L242.4,146.1 L243.4,145.3 L244.4,144.5 L245.4,143.8 L246.4,144.5 L247.4,145.3 L248.4,146.1 L249.4,146.8 L250.4,147.6 L251.4,148.4 L252.4,149.2 L253.4,150.0 L254.4,150.6 L255.4,150.1 L256.4,149.3 L257.4,148.5 L258.4,147.7 L259.4,146.9 L260.4,146.1 L261.4,145.3 L262.4,144.5 L263.4,144.0 L264.4,144.3 L265.4,144.9 L266.4,145.6 L267.4,146.4 L268.4,147.1 L269.4,147.8 L270.4,148.5 L271.4,149.2 L272.4,149.6 L273.4,149.5 L274.4,149.0 L275.4,148.4 L276.4,147.7 L277.4,147.0 L278.4,146.3 L279.4,145.7 L280.4,145.2 L281.4,144.9 L282.4,144.9 L283.4,145.1 L284.4,145.6 L285.4,146.1 L286.4,146.6 L287.4,147.1 L288.4,147.6 L289.4,147.9 L290.4,148.2 L291.4,148.2 L292.4,148.1 L293.4,147.8 L294.4,147.4 L295.4,147.0 L296.4,146.6 L297.4,146.2 L298.4,145.9 L299.4,145.6 L300.4,145.5 L301.4,145.5 L302.4,145.5 L303.4,145.6 L304.4,145.8 L305.4,145.9 L306.4,146.1 L307.4,146.1 L308.4,146.2 L309.4,146.2 L310.4,146.1 L311.4,146.0 L312.4,145.8 L313.4,145.7 L314.4,145.5 L315.4,145.5 L316.4,145.5 L317.4,145.6 L318.4,145.8 L319.4,146.1 L320.4,146.5 L321.4,146.9 L322.4,147.3 L323.4,147.7 L324.4,148.0 L325.4,148.2 L326.4,148.2 L327.4,148.0 L328.4,147.7 L329.4,147.2 L330.4,146.7 L331.4,146.2 L332.4,145.7 L333.4,145.2 L334.4,144.9 L335.4,144.9 L336.4,145.1 L337.4,145.6 L338.4,146.2 L339.4,146.9 L340.4,147.5 L341.4,148.2 L342.4,148.9 L343.4,149.4 L344.4,149.6 L345.4,149.3 L346.4,148.7 L347.4,148.0 L348.4,147.3 L349.4,146.5 L350.4,145.8 L351.4,145.0 L352.4,144.4 L353.4,144.0 L354.4,144.4 L355.4,145.1 L356.4,145.9 L357.4,146.7 L358.4,147.5 L359.4,148.4 L360.4,149.2 L361.4,150.0 L362.4,150.6 L363.4,150.1 L364.4,149.4 L365.4,148.6 L366.4,147.8 L367.4,147.0 L368.4,146.2 L369.4,145.4 L370.4,144.6 L371.4,143.9 L372.4,144.3 L373.4,145.1 L374.4,146.0 L375.4,146.8 L376.4,147.6 L377.4,148.5 L378.4,149.3 L379.4,150.2 L380.4,151.0 L381.4,151.9 L382.4,152.7 L383.4,153.5 L384.4,154.4 L385.4,155.2 L386.4,156.1 L387.4,156.9 L388.4,157.8 L389.4,158.6 L390.4,159.5 L391.4,160.3 L392.4,161.2 L393.4,162.0 L394.4,162.8 L395.4,163.7 L396.4,164.5 L397.4,165.4 L398.4,166.2"/>
<path d="M219.4,180.6 L220.4,179.7 L221.4,178.9 L222.4,178.0 L223.4,177.2 L224.4,176.3 L225.4,175.5 L226.4,174.6 L227.4,173.8 L228.4,172.9 L229.4,172.1 L230.4,171.3 L231.4,170.4 L232.4,169.6 L233.4,168.7 L234.4,167.9 L235.4,167.0 L236.4,166.2 L237.4,165.3 L238.4,164.5 L239.4,163.7 L240.4,162.8 L241.4,162.0 L242.4,161.1 L243.4,160.3 L244.4,159.4 L245.4,158.6 L246.4,157.8 L247.4,156.9 L248.4,156.1 L249.4,155.2 L250.4,154.4 L251.4,153.6 L252.4,152.7 L253.4,151.9 L254.4,151.2 L255.4,151.7 L256.4,152.4 L257.4,153.2 L258.4,154.0 L259.4,154.8 L260.4,155.6 L261.4,156.3 L262.4,157.1 L263.4,157.6 L264.4,157.5 L265.4,156.8 L266.4,156.0 L267.4,155.2 L268.4,154.4 L269.4,153.6 L270.4,152.9 L271.4,152.3 L272.4,151.8 L273.4,151.9 L274.4,152.3 L275.4,152.9 L276.4,153.6 L277.4,154.3 L278.4,154.9 L279.4,155.5 L280.4,156.0 L281.4,156.4 L282.4,156.4 L283.4,156.1 L284.4,155.7 L285.4,155.1 L286.4,154.6 L287.4,154.0 L288.4,153.5 L289.4,153.1 L290.4,152.9 L291.4,152.8 L292.4,152.9 L293.4,153.2 L294.4,153.5 L295.4,153.9 L296.4,154.3 L297.4,154.6 L298.4,155.0 L299.4,155.2 L300.4,155.3 L301.4,155.4 L302.4,155.3 L303.4,155.2 L304.4,155.1 L305.4,154.9 L306.4,154.8 L307.4,154.8 L308.4,154.7 L309.4,154.7 L310.4,154.8 L311.4,154.9 L312.4,155.1 L313.4,155.2 L314.4,155.3 L315.4,155.4 L316.4,155.3 L317.4,155.2 L318.4,155.0 L319.4,154.7 L320.4,154.4 L321.4,154.0 L322.4,153.6 L323.4,153.2 L324.4,152.9 L325.4,152.8 L326.4,152.8 L327.4,153.0 L328.4,153.4 L329.4,153.9 L330.4,154.4 L331.4,155.0 L332.4,155.6 L333.4,156.0 L334.4,156.4 L335.4,156.4 L336.4,156.1 L337.4,155.6 L338.4,155.0 L339.4,154.4 L340.4,153.7 L341.4,153.1 L342.4,152.4 L343.4,151.9 L344.4,151.8 L345.4,152.2 L346.4,152.8 L347.4,153.5 L348.4,154.3 L349.4,155.0 L350.4,155.8 L351.4,156.6 L352.4,157.3 L353.4,157.7 L354.4,157.2 L355.4,156.5 L356.4,155.7 L357.4,154.9 L358.4,154.2 L359.4,153.4 L360.4,152.6 L361.4,151.8 L362.4,151.2 L363.4,151.8 L364.4,152.6 L365.4,153.4 L366.4,154.2 L367.4,155.1 L368.4,155.9 L369.4,156.7 L370.4,157.6 L371.4,158.4 L372.4,159.3 L373.4,160.1 L374.4,161.0 L375.4,161.8 L376.4,162.6 L377.4,163.5 L378.4,164.3 L379.4,165.2 L380.4,166.0 L381.4,166.9 L382.4,167.7 L383.4,168.5 L384.4,169.4 L385.4,170.2 L386.4,171.1 L387.4,171.9 L388.4,172.8 L389.4,173.6 L390.4,174.5 L391.4,175.3 L392.4,176.2 L393.4,177.0 L394.4,177.8 L395.4,178.7 L396.4,179.5 L397.4,180.4 L398.4,181.2"/>
<path d="M219.4,195.6 L220.4,194.7 L221.4,193.9 L222.4,193.0 L223.4,192.2 L224.4,191.3 L225.4,190.5 L226.4,189.6 L227.4,188.8 L228.4,187.9 L229.4,187.1 L230.4,186.3 L231.4,185.4 L232.4,184.6 L233.4,183.7 L234.4,182.9 L235.4,182.0 L236.4,181.2 L237.4,180.3 L238.4,179.5 L239.4,178.7 L240.4,177.8 L241.4,177.0 L242.4,176.1 L243.4,175.3 L244.4,174.4 L245.4,173.6 L246.4,172.8 L247.4,171.9 L248.4,171.1 L249.4,170.2 L250.4,169.4 L251.4,168.5 L252.4,167.7 L253.4,166.9 L254.4,166.0 L255.4,165.2 L256.4,164.4 L257.4,163.5 L258.4,162.7 L259.4,161.9 L260.4,161.1 L261.4,160.2 L262.4,159.5 L263.4,158.9 L264.4,159.0 L265.4,159.7 L266.4,160.4 L267.4,161.2 L268.4,161.9 L269.4,162.7 L270.4,163.4 L271.4,164.1 L272.4,164.6 L273.4,164.6 L274.4,164.1 L275.4,163.4 L276.4,162.7 L277.4,162.0 L278.4,161.3 L279.4,160.7 L280.4,160.2 L281.4,159.8 L282.4,159.7 L283.4,160.0 L284.4,160.4 L285.4,160.9 L286.4,161.5 L287.4,162.0 L288.4,162.5 L289.4,162.9 L290.4,163.2 L291.4,163.2 L292.4,163.1 L293.4,162.9 L294.4,162.5 L295.4,162.1 L296.4,161.7 L297.4,161.3 L298.4,161.0 L299.4,160.7 L300.4,160.6 L301.4,160.5 L302.4,160.6 L303.4,160.7 L304.4,160.8 L305.4,160.9 L306.4,161.1 L307.4,161.1 L308.4,161.2 L309.4,161.1 L310.4,161.1 L311.4,161.0 L312.4,160.8 L313.4,160.7 L314.4,160.6 L315.4,160.5 L316.4,160.6 L317.4,160.7 L318.4,160.9 L319.4,161.2 L320.4,161.6 L321.4,162.0 L322.4,162.4 L323.4,162.8 L324.4,163.1 L325.4,163.2 L326.4,163.2 L327.4,163.0 L328.4,162.6 L329.4,162.1 L330.4,161.6 L331.4,161.0 L332.4,160.5 L333.4,160.1 L334.4,159.8 L335.4,159.8 L336.4,160.1 L337.4,160.6 L338.4,161.2 L339.4,161.9 L340.4,162.6 L341.4,163.3 L342.4,164.0 L343.4,164.5 L344.4,164.6 L345.4,164.2 L346.4,163.5 L347.4,162.8 L348.4,162.1 L349.4,161.3 L350.4,160.6 L351.4,159.8 L352.4,159.1 L353.4,158.8 L354.4,159.3 L355.4,160.1 L356.4,160.9 L357.4,161.7 L358.4,162.5 L359.4,163.4 L360.4,164.2 L361.4,165.0 L362.4,165.9 L363.4,166.7 L364.4,167.5 L365.4,168.4 L366.4,169.2 L367.4,170.1 L368.4,170.9 L369.4,171.7 L370.4,172.6 L371.4,173.4 L372.4,174.3 L373.4,175.1 L374.4,176.0 L375.4,176.8 L376.4,177.6 L377.4,178.5 L378.4,179.3 L379.4,180.2 L380.4,181.0 L381.4,181.9 L382.4,182.7 L383.4,183.5 L384.4,184.4 L385.4,185.2 L386.4,186.1 L387.4,186.9 L388.4,187.8 L389.4,188.6 L390.4,189.5 L391.4,190.3 L392.4,191.2 L393.4,192.0 L394.4,192.8 L395.4,193.7 L396.4,194.5 L397.4,195.4 L398.4,196.2"/>
<path d="M219.4,210.6 L220.4,209.7 L221.4,208.9 L222.4,208.0 L223.4,207.2 L224.4,206.3 L225.4,205.5 L226.4,204.6 L227.4,203.8 L228.4,202.9 L229.4,202.1 L230.4,201.3 L231.4,200.4 L232.4,199.6 L233.4,198.7 L234.4,197.9 L235.4,197.0 L236.4,196.2 L237.4,195.3 L238.4,194.5 L239.4,193.7 L240.4,192.8 L241.4,192.0 L242.4,191.1 L243.4,190.3 L244.4,189.4 L245.4,188.6 L246.4,187.7 L247.4,186.9 L248.4,186.1 L249.4,185.2 L250.4,184.4 L251.4,183.5 L252.4,182.7 L253.4,181.9 L254.4,181.0 L255.4,180.2 L256.4,179.3 L257.4,178.5 L258.4,177.7 L259.4,176.8 L260.4,176.0 L261.4,175.2 L262.4,174.3 L263.4,173.5 L264.4,172.7 L265.4,171.9 L266.4,171.1 L267.4,170.2 L268.4,169.4 L269.4,168.7 L270.4,167.9 L271.4,167.2 L272.4,166.7 L273.4,166.6 L274.4,167.1 L275.4,167.7 L276.4,168.4 L277.4,169.1 L278.4,169.8 L279.4,170.4 L280.4,171.0 L281.4,171.4 L282.4,171.5 L283.4,171.2 L284.4,170.8 L285.4,170.3 L286.4,169.7 L287.4,169.1 L288.4,168.6 L289.4,168.2 L290.4,167.9 L291.4,167.8 L292.4,167.9 L293.4,168.1 L294.4,168.4 L295.4,168.8 L296.4,169.2 L297.4,169.6 L298.4,169.9 L299.4,170.1 L300.4,170.3 L301.4,170.4 L302.4,170.3 L303.4,170.3 L304.4,170.1 L305.4,170.0 L306.4,169.9 L307.4,169.8 L308.4,169.8 L309.4,169.8 L310.4,169.9 L311.4,170.0 L312.4,170.1 L313.4,170.2 L314.4,170.3 L315.4,170.4 L316.4,170.3 L317.4,170.2 L318.4,169.9 L319.4,169.6 L320.4,169.3 L321.4,168.9 L322.4,168.5 L323.4,168.2 L324.4,167.9 L325.4,167.8 L326.4,167.8 L327.4,168.1 L328.4,168.5 L329.4,169.0 L330.4,169.6 L331.4,170.1 L332.4,170.7 L333.4,171.2 L334.4,171.5 L335.4,171.4 L336.4,171.1 L337.4,170.5 L338.4,169.9 L339.4,169.2 L340.4,168.5 L341.4,167.9 L342.4,167.2 L343.4,166.7 L344.4,166.6 L345.4,167.1 L346.4,167.7 L347.4,168.5 L348.4,169.3 L349.4,170.1 L350.4,170.9 L351.4,171.7 L352.4,172.5 L353.4,173.3 L354.4,174.2 L355.4,175.0 L356.4,175.8 L357.4,176.7 L358.4,177.5 L359.4,178.3 L360.4,179.2 L361.4,180.0 L362.4,180.9 L363.4,181.7 L364.4,182.5 L365.4,183.4 L366.4,184.2 L367.4,185.1 L368.4,185.9 L369.4,186.7 L370.4,187.6 L371.4,188.4 L372.4,189.3 L373.4,190.1 L374.4,191.0 L375.4,191.8 L376.4,192.6 L377.4,193.5 L378.4,194.3 L379.4,195.2 L380.4,196.0 L381.4,196.9 L382.4,197.7 L383.4,198.5 L384.4,199.4 L385.4,200.2 L386.4,201.1 L387.4,201.9 L388.4,202.8 L389.4,203.6 L390.4,204.5 L391.4,205.3 L392.4,206.2 L393.4,207.0 L394.4,207.8 L395.4,208.7 L396.4,209.5 L397.4,210.4 L398.4,211.2"/>
<path d="M219.4,225.6 L220.4,224.7 L221.4,223.9 L222.4,223.0 L223.4,222.2 L224.4,221.3 L225.4,220.5 L226.4,219.6 L227.4,218.8 L228.4,217.9 L229.4,217.1 L230.4,216.3 L231.4,215.4 L232.4,214.6 L233.4,213.7 L234.4,212.9 L235.4,212.0 L236.4,211.2 L237.4,210.3 L238.4,209.5 L239.4,208.7 L240.4,207.8 L241.4,207.0 L242.4,206.1 L243.4,205.3 L244.4,204.4 L245.4,203.6 L246.4,202.7 L247.4,201.9 L248.4,201.1 L249.4,200.2 L250.4,199.4 L251.4,198.5 L252.4,197.7 L253.4,196.9 L254.4,196.0 L255.4,195.2 L256.4,194.3 L257.4,193.5 L258.4,192.7 L259.4,191.8 L260.4,191.0 L261.4,190.2 L262.4,189.3 L263.4,188.5 L264.4,187.7 L265.4,186.8 L266.4,186.0 L267.4,185.2 L268.4,184.3 L269.4,183.5 L270.4,182.7 L271.4,181.9 L272.4,181.1 L273.4,180.3 L274.4,179.5 L275.4,178.7 L276.4,177.9 L277.4,177.2 L278.4,176.5 L279.4,175.8 L280.4,175.2 L281.4,174.8 L282.4,174.6 L283.4,174.8 L284.4,175.3 L285.4,175.8 L286.4,176.3 L287.4,176.9 L288.4,177.4 L289.4,177.8 L290.4,178.1 L291.4,178.3 L292.4,178.2 L293.4,178.0 L294.4,177.7 L295.4,177.3 L296.4,176.9 L297.4,176.5 L298.4,176.2 L299.4,175.9 L300.4,175.8 L301.4,175.7 L302.4,175.7 L303.4,175.8 L304.4,175.9 L305.4,176.0 L306.4,176.1 L307.4,176.2 L308.4,176.2 L309.4,176.2 L310.4,176.2 L311.4,176.1 L312.4,175.9 L313.4,175.8 L314.4,175.7 L315.4,175.7 L316.4,175.8 L317.4,175.9 L318.4,176.1 L319.4,176.5 L320.4,176.8 L321.4,177.2 L322.4,177.6 L323.4,178.0 L324.4,178.2 L325.4,178.3 L326.4,178.2 L327.4,177.9 L328.4,177.5 L329.4,177.0 L330.4,176.5 L331.4,175.9 L332.4,175.4 L333.4,174.9 L334.4,174.7 L335.4,174.7 L336.4,175.1 L337.4,175.7 L338.4,176.3 L339.4,177.0 L340.4,177.8 L341.4,178.5 L342.4,179.3 L343.4,180.1 L344.4,180.9 L345.4,181.7 L346.4,182.5 L347.4,183.4 L348.4,184.2 L349.4,185.0 L350.4,185.8 L351.4,186.7 L352.4,187.5 L353.4,188.3 L354.4,189.2 L355.4,190.0 L356.4,190.8 L357.4,191.7 L358.4,192.5 L359.4,193.3 L360.4,194.2 L361.4,195.0 L362.4,195.9 L363.4,196.7 L364.4,197.5 L365.4,198.4 L366.4,199.2 L367.4,200.1 L368.4,200.9 L369.4,201.7 L370.4,202.6 L371.4,203.4 L372.4,204.3 L373.4,205.1 L374.4,206.0 L375.4,206.8 L376.4,207.6 L377.4,208.5 L378.4,209.3 L379.4,210.2 L380.4,211.0 L381.4,211.9 L382.4,212.7 L383.4,213.5 L384.4,214.4 L385.4,215.2 L386.4,216.1 L387.4,216.9 L388.4,217.8 L389.4,218.6 L390.4,219.5 L391.4,220.3 L392.4,221.2 L393.4,222.0 L394.4,222.8 L395.4,223.7 L396.4,224.5 L397.4,225.4 L398.4,226.2"/>
</g></g>
<g filter="url(#blur1)" fill="none" stroke="#5cc9bb" stroke-width="7.6" stroke-opacity="0.8" stroke-linecap="round">
<path d="M214.0,198.6 L214.2,198.4 L214.5,198.2 L214.9,197.9 L215.3,197.6 L215.7,197.2 L216.1,196.8 L216.6,196.4 L217.1,196.0 L217.5,195.7 L218.0,195.3 L218.4,194.9 L218.8,194.6 L219.2,194.3 L219.6,193.9 L220.0,193.6 L220.3,193.3 L220.7,192.9 L221.1,192.6 L221.5,192.2 L221.9,191.9 L222.3,191.6 L222.7,191.2 L223.1,190.9 L223.5,190.6 L223.9,190.2 L224.3,189.9 L224.7,189.6 L225.1,189.2 L225.5,188.9 L225.9,188.6 L226.3,188.2 L226.7,187.9 L227.1,187.6 L227.5,187.2 L227.9,186.9 L228.3,186.5 L228.7,186.2 L229.1,185.9 L229.5,185.5 L229.9,185.2 L230.3,184.9 L230.7,184.5 L231.1,184.2 L231.5,183.9 L231.9,183.5 L232.2,183.2 L232.6,182.9 L233.0,182.5 L233.4,182.2 L233.8,181.9 L234.2,181.5 L234.6,181.2 L235.0,180.8 L235.4,180.5 L235.8,180.2 L236.2,179.8 L236.6,179.5 L237.0,179.2 L237.4,178.8 L237.8,178.5 L238.2,178.2 L238.6,177.8 L239.0,177.5 L239.4,177.2 L239.8,176.8 L240.2,176.5 L240.6,176.2 L241.0,175.8 L241.4,175.5 L241.8,175.2 L242.2,174.8 L242.6,174.5 L243.0,174.1 L243.4,173.8 L243.8,173.5 L244.1,173.1 L244.5,172.8 L244.9,172.5 L245.3,172.1 L245.7,171.8 L246.1,171.5 L246.5,171.1 L246.9,170.8 L247.3,170.5 L247.7,170.1 L248.1,169.8 L248.5,169.5 L248.9,169.1 L249.3,168.8 L249.7,168.5 L250.1,168.1 L250.5,167.8 L250.9,167.5 L251.3,167.1 L251.7,166.8 L252.1,166.5 L252.5,166.1 L252.9,165.8 L253.3,165.5 L253.7,165.1 L254.1,164.8 L254.5,164.5 L254.9,164.1 L255.3,163.8 L255.7,163.5 L256.0,163.1 L256.4,162.8 L256.8,162.5 L257.2,162.1 L257.6,161.8 L258.0,161.5 L258.5,161.1 L258.9,160.7 L259.4,160.3 L259.9,159.9 L260.3,159.6 L260.7,159.2 L261.1,158.9 L261.5,158.6 L261.8,158.3 L262.0,158.1"/>
<path d="M262.0,159.3 L262.2,159.2 L262.5,159.0 L262.9,158.9 L263.2,158.7 L263.6,158.5 L264.0,158.3 L264.5,158.1 L264.9,157.9 L265.4,157.6 L265.9,157.4 L266.4,157.2 L267.0,156.9 L267.5,156.6 L268.0,156.4 L268.5,156.1 L269.1,155.9 L269.6,155.7 L270.1,155.4 L270.6,155.2 L271.1,155.0 L271.6,154.8 L272.0,154.6 L272.5,154.4 L273.0,154.2 L273.5,154.0 L274.0,153.8 L274.4,153.6 L274.9,153.4 L275.4,153.3 L275.9,153.1 L276.3,152.9 L276.8,152.8 L277.3,152.6 L277.7,152.4 L278.2,152.3 L278.7,152.1 L279.1,152.0 L279.6,151.8 L280.1,151.7 L280.5,151.5 L281.0,151.4 L281.5,151.2 L282.0,151.1 L282.6,151.0 L283.2,150.8 L283.8,150.7 L284.3,150.5 L284.9,150.4 L285.5,150.2 L286.1,150.1 L286.6,150.0 L287.2,149.8 L287.7,149.7 L288.2,149.6 L288.6,149.5 L289.0,149.4 L289.4,149.3 L289.7,149.3 L290.0,149.2"/>
<path d="M289.5,149.3 L289.8,149.2 L290.1,149.1 L290.5,149.0 L290.9,148.9 L291.3,148.8 L291.8,148.7 L292.3,148.6 L292.8,148.4 L293.4,148.3 L294.0,148.1 L294.5,148.0 L295.1,147.8 L295.7,147.7 L296.3,147.5 L296.9,147.4 L297.4,147.3 L298.0,147.2 L298.5,147.1 L299.0,147.0 L299.5,146.9 L300.0,146.8 L300.6,146.8 L301.1,146.7 L301.6,146.7 L302.1,146.6 L302.6,146.5 L303.1,146.5 L303.6,146.5 L304.2,146.4 L304.7,146.4 L305.2,146.4 L305.7,146.3 L306.2,146.3 L306.7,146.3 L307.2,146.3 L307.7,146.3 L308.2,146.3 L308.7,146.3 L309.3,146.3 L309.8,146.3 L310.3,146.3 L310.8,146.4 L311.3,146.4 L311.8,146.4 L312.4,146.4 L312.9,146.5 L313.4,146.5 L313.9,146.6 L314.4,146.6 L314.9,146.7 L315.4,146.8 L316.0,146.8 L316.5,146.9 L317.0,147.0 L317.5,147.1 L318.0,147.2 L318.6,147.3 L319.2,147.4 L319.7,147.6 L320.3,147.7 L320.9,147.9 L321.5,148.0 L322.1,148.2 L322.6,148.3 L323.1,148.5 L323.7,148.6 L324.1,148.8 L324.6,148.9 L325.0,149.0 L325.4,149.1 L325.7,149.2 L326.0,149.3"/>
<path d="M326.0,149.3 L326.3,149.4 L326.6,149.4 L327.0,149.5 L327.4,149.6 L327.8,149.7 L328.3,149.8 L328.8,149.9 L329.4,150.0 L329.9,150.2 L330.5,150.3 L331.1,150.4 L331.7,150.5 L332.2,150.7 L332.8,150.8 L333.4,151.0 L334.0,151.1 L334.5,151.3 L335.0,151.4 L335.5,151.5 L335.9,151.7 L336.4,151.8 L336.9,152.0 L337.4,152.2 L337.9,152.3 L338.3,152.5 L338.8,152.7 L339.3,152.9 L339.8,153.0 L340.2,153.2 L340.7,153.4 L341.2,153.6 L341.7,153.8 L342.1,153.9 L342.6,154.1 L343.1,154.3 L343.5,154.4 L344.0,154.6 L344.5,154.8 L345.0,154.9 L345.6,155.1 L346.1,155.3 L346.7,155.5 L347.2,155.7 L347.8,155.8 L348.3,156.0 L348.9,156.2 L349.4,156.4 L349.9,156.5 L350.4,156.7 L350.8,156.8 L351.3,157.0 L351.7,157.1 L352.0,157.2 L352.3,157.3 L352.6,157.4"/>
<path d="M352.6,156.1 L352.8,156.3 L353.2,156.6 L353.5,156.9 L353.9,157.2 L354.4,157.6 L354.8,158.0 L355.3,158.4 L355.8,158.8 L356.3,159.2 L356.7,159.6 L357.2,160.0 L357.6,160.3 L358.0,160.7 L358.4,161.0 L358.8,161.4 L359.3,161.7 L359.7,162.1 L360.1,162.4 L360.5,162.8 L360.9,163.1 L361.3,163.5 L361.8,163.8 L362.2,164.2 L362.6,164.5 L363.0,164.9 L363.4,165.2 L363.8,165.6 L364.3,165.9 L364.7,166.3 L365.1,166.6 L365.5,167.0 L365.9,167.3 L366.3,167.7 L366.8,168.0 L367.2,168.4 L367.6,168.7 L368.0,169.1 L368.4,169.4 L368.8,169.8 L369.3,170.1 L369.7,170.5 L370.1,170.8 L370.5,171.2 L370.9,171.5 L371.3,171.9 L371.8,172.2 L372.2,172.6 L372.6,172.9 L373.0,173.3 L373.4,173.6 L373.8,174.0 L374.3,174.3 L374.7,174.7 L375.1,175.0 L375.5,175.4 L375.9,175.7 L376.3,176.1 L376.8,176.4 L377.2,176.8 L377.6,177.1 L378.0,177.5 L378.4,177.8 L378.8,178.2 L379.3,178.6 L379.7,178.9 L380.1,179.3 L380.5,179.6 L380.9,180.0 L381.3,180.3 L381.8,180.7 L382.2,181.0 L382.6,181.4 L383.0,181.7 L383.4,182.1 L383.8,182.4 L384.3,182.8 L384.7,183.1 L385.1,183.5 L385.5,183.8 L385.9,184.2 L386.3,184.5 L386.8,184.9 L387.2,185.2 L387.6,185.6 L388.0,185.9 L388.4,186.3 L388.8,186.6 L389.3,187.0 L389.6,187.3 L390.0,187.6 L390.4,188.0 L390.8,188.3 L391.2,188.6 L391.5,188.9 L391.9,189.3 L392.3,189.6 L392.7,189.9 L393.1,190.2 L393.5,190.5 L393.8,190.9 L394.2,191.2 L394.6,191.5 L395.0,191.8 L395.4,192.2 L395.7,192.5 L396.1,192.8 L396.5,193.1 L396.9,193.5 L397.3,193.8 L397.7,194.1 L398.0,194.4 L398.4,194.8 L398.8,195.1 L399.2,195.4 L399.7,195.8 L400.1,196.2 L400.6,196.6 L401.0,196.9 L401.4,197.3 L401.8,197.6 L402.2,197.9 L402.5,198.2 L402.8,198.4 L403.0,198.6"/>
<path d="M214.0,213.6 L214.2,213.4 L214.5,213.2 L214.8,212.9 L215.2,212.6 L215.6,212.2 L216.1,211.9 L216.5,211.5 L217.0,211.1 L217.4,210.7 L217.9,210.3 L218.3,210.0 L218.7,209.6 L219.1,209.3 L219.5,209.0 L219.9,208.6 L220.3,208.3 L220.7,208.0 L221.1,207.6 L221.5,207.3 L221.9,207.0 L222.3,206.6 L222.7,206.3 L223.1,206.0 L223.5,205.6 L223.8,205.3 L224.2,205.0 L224.6,204.6 L225.0,204.3 L225.4,204.0 L225.8,203.6 L226.2,203.3 L226.6,203.0 L227.0,202.6 L227.4,202.3 L227.8,202.0 L228.2,201.6 L228.6,201.3 L229.0,201.0 L229.4,200.6 L229.8,200.3 L230.2,200.0 L230.5,199.6 L230.9,199.3 L231.3,199.0 L231.7,198.6 L232.1,198.3 L232.5,198.0 L232.9,197.6 L233.3,197.3 L233.7,197.0 L234.1,196.6 L234.5,196.3 L234.9,196.0 L235.3,195.6 L235.7,195.3 L236.1,195.0 L236.5,194.6 L236.8,194.3 L237.2,194.0 L237.6,193.6 L238.0,193.3 L238.4,193.0 L238.8,192.6 L239.2,192.3 L239.6,192.0 L240.0,191.6 L240.4,191.3 L240.8,191.0 L241.2,190.6 L241.6,190.3 L242.0,190.0 L242.4,189.7 L242.8,189.3 L243.2,189.0 L243.5,188.7 L243.9,188.3 L244.3,188.0 L244.7,187.7 L245.1,187.3 L245.5,187.0 L245.9,186.7 L246.3,186.3 L246.7,186.0 L247.1,185.7 L247.5,185.3 L247.9,185.0 L248.3,184.7 L248.7,184.3 L249.1,184.0 L249.5,183.7 L249.8,183.3 L250.2,183.0 L250.6,182.7 L251.0,182.3 L251.4,182.0 L251.8,181.7 L252.2,181.4 L252.6,181.0 L253.0,180.7 L253.4,180.4 L253.8,180.0 L254.2,179.7 L254.6,179.4 L255.0,179.0 L255.4,178.7 L255.8,178.4 L256.2,178.0 L256.5,177.7 L256.9,177.4 L257.3,177.1 L257.7,176.7 L258.1,176.4 L258.5,176.1 L258.9,175.7 L259.3,175.4 L259.7,175.1 L260.1,174.7 L260.5,174.4 L260.9,174.1 L261.3,173.7 L261.7,173.4 L262.1,173.0 L262.6,172.7 L263.0,172.3 L263.5,171.9 L263.9,171.5 L264.4,171.2 L264.8,170.8 L265.2,170.5 L265.5,170.2 L265.8,170.0 L266.0,169.8"/>
<path d="M266.0,171.1 L266.3,171.0 L266.6,170.9 L266.9,170.8 L267.3,170.7 L267.7,170.5 L268.1,170.4 L268.6,170.2 L269.1,170.0 L269.6,169.8 L270.1,169.7 L270.6,169.5 L271.2,169.3 L271.7,169.1 L272.3,168.9 L272.8,168.7 L273.4,168.6 L273.9,168.4 L274.5,168.2 L275.0,168.1 L275.5,167.9 L276.0,167.8 L276.5,167.7 L277.0,167.6 L277.6,167.4 L278.1,167.3 L278.7,167.2 L279.3,167.1 L279.9,167.0 L280.4,166.9 L281.0,166.7 L281.6,166.6 L282.2,166.5 L282.7,166.4 L283.2,166.4 L283.8,166.3 L284.3,166.2 L284.7,166.1 L285.1,166.0 L285.5,166.0 L285.9,165.9 L286.2,165.9 L286.5,165.8"/>
<path d="M286.0,166.0 L286.3,165.9 L286.6,165.7 L286.9,165.6 L287.3,165.4 L287.7,165.2 L288.1,165.0 L288.6,164.8 L289.0,164.5 L289.5,164.3 L290.1,164.0 L290.6,163.8 L291.1,163.5 L291.7,163.3 L292.2,163.1 L292.8,162.8 L293.3,162.6 L293.9,162.4 L294.4,162.1 L295.0,161.9 L295.5,161.8 L296.0,161.6 L296.5,161.4 L297.0,161.3 L297.5,161.2 L298.0,161.0 L298.5,160.9 L299.0,160.8 L299.5,160.7 L300.0,160.5 L300.6,160.4 L301.1,160.3 L301.6,160.2 L302.1,160.1 L302.6,160.0 L303.1,160.0 L303.7,159.9 L304.2,159.8 L304.7,159.8 L305.2,159.7 L305.8,159.7 L306.3,159.6 L306.8,159.6 L307.3,159.6 L307.8,159.6 L308.3,159.5 L308.8,159.5 L309.3,159.5 L309.8,159.5 L310.3,159.5 L310.8,159.6 L311.3,159.6 L311.8,159.6 L312.3,159.6 L312.8,159.7 L313.3,159.7 L313.8,159.8 L314.3,159.8 L314.8,159.9 L315.3,160.0 L315.8,160.0 L316.4,160.1 L316.9,160.2 L317.5,160.3 L318.0,160.4 L318.5,160.5 L318.9,160.6 L319.4,160.7 L320.0,160.8 L320.5,161.0 L321.0,161.1 L321.6,161.3 L322.1,161.4 L322.7,161.6 L323.2,161.8 L323.8,161.9 L324.4,162.1 L324.9,162.3 L325.5,162.4 L326.0,162.6 L326.5,162.8 L327.1,162.9 L327.6,163.1 L328.0,163.3 L328.5,163.4 L329.0,163.6 L329.4,163.7 L329.8,163.8 L330.1,163.9 L330.4,164.0 L330.7,164.1 L331.0,164.2"/>
<path d="M331.0,164.2 L331.3,164.2 L331.6,164.3 L332.0,164.4 L332.5,164.4 L332.9,164.5 L333.5,164.6 L334.0,164.7 L334.6,164.8 L335.1,164.9 L335.7,165.0 L336.3,165.1 L336.9,165.2 L337.5,165.3 L338.0,165.4 L338.5,165.5 L339.0,165.6 L339.6,165.7 L340.1,165.8 L340.7,166.0 L341.3,166.1 L341.9,166.2 L342.4,166.3 L343.0,166.4 L343.5,166.6 L344.1,166.7 L344.5,166.8 L345.0,166.9 L345.4,167.0 L345.7,167.0 L346.0,167.1"/>
<path d="M346.0,165.6 L346.2,165.8 L346.5,166.1 L346.8,166.3 L347.2,166.6 L347.6,167.0 L348.0,167.3 L348.5,167.7 L349.0,168.1 L349.4,168.5 L349.9,168.9 L350.3,169.2 L350.8,169.6 L351.2,169.9 L351.6,170.3 L352.0,170.6 L352.4,170.9 L352.8,171.3 L353.2,171.6 L353.6,171.9 L354.0,172.3 L354.4,172.6 L354.8,172.9 L355.2,173.3 L355.6,173.6 L356.0,173.9 L356.4,174.3 L356.8,174.6 L357.2,174.9 L357.6,175.3 L358.0,175.6 L358.4,176.0 L358.8,176.3 L359.2,176.6 L359.6,177.0 L360.0,177.3 L360.3,177.6 L360.7,178.0 L361.1,178.3 L361.5,178.6 L361.9,179.0 L362.3,179.3 L362.7,179.6 L363.1,180.0 L363.5,180.3 L363.9,180.6 L364.3,181.0 L364.7,181.3 L365.1,181.6 L365.5,182.0 L365.9,182.3 L366.3,182.7 L366.7,183.0 L367.1,183.3 L367.5,183.7 L367.9,184.0 L368.3,184.3 L368.7,184.7 L369.1,185.0 L369.5,185.3 L369.9,185.7 L370.3,186.0 L370.7,186.3 L371.1,186.7 L371.5,187.0 L371.9,187.4 L372.3,187.7 L372.7,188.0 L373.1,188.4 L373.5,188.7 L373.9,189.0 L374.3,189.4 L374.7,189.7 L375.1,190.0 L375.5,190.4 L375.9,190.7 L376.3,191.0 L376.7,191.4 L377.1,191.7 L377.5,192.1 L377.9,192.4 L378.3,192.7 L378.7,193.1 L379.1,193.4 L379.5,193.7 L379.9,194.1 L380.3,194.4 L380.7,194.7 L381.1,195.1 L381.5,195.4 L381.9,195.8 L382.3,196.1 L382.7,196.4 L383.1,196.8 L383.5,197.1 L383.9,197.4 L384.3,197.8 L384.7,198.1 L385.1,198.5 L385.5,198.8 L385.9,199.1 L386.3,199.5 L386.7,199.8 L387.1,200.1 L387.5,200.5 L387.9,200.8 L388.3,201.1 L388.7,201.5 L389.0,201.8 L389.4,202.2 L389.8,202.5 L390.2,202.8 L390.6,203.2 L391.0,203.5 L391.4,203.8 L391.8,204.2 L392.2,204.5 L392.6,204.9 L393.0,205.2 L393.4,205.5 L393.8,205.9 L394.2,206.2 L394.6,206.5 L395.0,206.9 L395.4,207.2 L395.8,207.6 L396.2,207.9 L396.6,208.2 L397.0,208.6 L397.4,208.9 L397.8,209.2 L398.2,209.6 L398.7,210.0 L399.1,210.3 L399.6,210.7 L400.0,211.1 L400.5,211.5 L401.0,211.9 L401.4,212.3 L401.8,212.6 L402.2,212.9 L402.5,213.2 L402.8,213.4 L403.0,213.6"/>
<path d="M214.0,228.6 L214.2,228.4 L214.5,228.2 L214.9,227.9 L215.2,227.6 L215.6,227.2 L216.1,226.9 L216.5,226.5 L217.0,226.1 L217.5,225.7 L217.9,225.3 L218.4,224.9 L218.9,224.5 L219.3,224.2 L219.7,223.8 L220.1,223.5 L220.5,223.1 L220.9,222.8 L221.3,222.4 L221.7,222.1 L222.1,221.8 L222.5,221.4 L222.9,221.1 L223.3,220.7 L223.7,220.4 L224.1,220.0 L224.5,219.7 L225.0,219.4 L225.4,219.0 L225.8,218.7 L226.2,218.3 L226.6,218.0 L227.0,217.6 L227.4,217.3 L227.8,217.0 L228.2,216.6 L228.6,216.3 L229.0,215.9 L229.4,215.6 L229.8,215.2 L230.2,214.9 L230.6,214.6 L231.0,214.2 L231.4,213.9 L231.8,213.5 L232.3,213.2 L232.7,212.8 L233.1,212.5 L233.5,212.2 L233.9,211.8 L234.3,211.5 L234.7,211.1 L235.1,210.8 L235.5,210.4 L235.9,210.1 L236.3,209.8 L236.7,209.4 L237.1,209.1 L237.5,208.7 L237.9,208.4 L238.3,208.0 L238.7,207.7 L239.1,207.4 L239.6,207.0 L240.0,206.7 L240.4,206.3 L240.8,206.0 L241.2,205.7 L241.6,205.3 L242.0,205.0 L242.4,204.6 L242.8,204.3 L243.2,203.9 L243.6,203.6 L244.0,203.3 L244.4,202.9 L244.8,202.6 L245.2,202.2 L245.6,201.9 L246.0,201.5 L246.4,201.2 L246.9,200.9 L247.3,200.5 L247.7,200.2 L248.1,199.8 L248.5,199.5 L248.9,199.2 L249.3,198.8 L249.7,198.5 L250.1,198.1 L250.5,197.8 L250.9,197.5 L251.3,197.1 L251.7,196.8 L252.1,196.4 L252.5,196.1 L252.9,195.7 L253.3,195.4 L253.7,195.1 L254.2,194.7 L254.6,194.4 L255.0,194.0 L255.4,193.7 L255.8,193.4 L256.2,193.0 L256.6,192.7 L257.0,192.3 L257.4,192.0 L257.8,191.7 L258.2,191.3 L258.6,191.0 L259.0,190.6 L259.4,190.3 L259.8,190.0 L260.2,189.6 L260.6,189.3 L261.0,188.9 L261.5,188.6 L261.9,188.3 L262.3,187.9 L262.7,187.6 L263.1,187.2 L263.5,186.9 L263.9,186.6 L264.3,186.2 L264.7,185.9 L265.1,185.5 L265.5,185.2 L265.9,184.9 L266.3,184.5 L266.7,184.2 L267.1,183.8 L267.6,183.5 L268.1,183.1 L268.5,182.7 L269.0,182.3 L269.5,181.9 L269.9,181.5 L270.4,181.2 L270.8,180.8 L271.1,180.5 L271.5,180.2 L271.8,180.0 L272.0,179.8"/>
<path d="M272.0,181.4 L272.3,181.3 L272.6,181.2 L272.9,181.0 L273.3,180.9 L273.7,180.7 L274.1,180.5 L274.6,180.3 L275.1,180.1 L275.6,179.9 L276.1,179.7 L276.7,179.4 L277.2,179.2 L277.8,179.0 L278.3,178.8 L278.9,178.6 L279.4,178.4 L280.0,178.2 L280.5,178.0 L281.0,177.8 L281.5,177.6 L282.0,177.5 L282.5,177.3 L283.1,177.2 L283.7,177.0 L284.2,176.9 L284.8,176.7 L285.4,176.6 L286.0,176.4 L286.6,176.3 L287.1,176.1 L287.7,176.0 L288.2,175.9 L288.7,175.8 L289.2,175.6 L289.6,175.5 L290.0,175.4 L290.4,175.4 L290.7,175.3 L291.0,175.2"/>
<path d="M326.0,175.2 L326.3,175.3 L326.6,175.3 L327.0,175.4 L327.4,175.5 L327.9,175.5 L328.4,175.6 L328.9,175.7 L329.4,175.8 L330.0,175.9 L330.6,176.0 L331.2,176.1 L331.7,176.3 L332.3,176.4 L332.9,176.5 L333.5,176.6 L334.0,176.7 L334.5,176.9 L335.0,177.0 L335.5,177.2 L336.1,177.3 L336.7,177.5 L337.3,177.7 L337.8,177.9 L338.4,178.1 L339.0,178.3 L339.6,178.5 L340.1,178.7 L340.6,178.9 L341.1,179.1 L341.6,179.3 L342.0,179.4 L342.4,179.6 L342.7,179.7 L343.0,179.8"/>
<path d="M343.0,178.1 L343.2,178.3 L343.5,178.6 L343.8,178.8 L344.2,179.1 L344.5,179.4 L345.0,179.8 L345.4,180.1 L345.8,180.5 L346.3,180.9 L346.7,181.2 L347.2,181.6 L347.6,182.0 L348.1,182.3 L348.5,182.7 L348.8,183.0 L349.2,183.3 L349.6,183.6 L350.0,184.0 L350.4,184.3 L350.8,184.6 L351.2,184.9 L351.6,185.3 L352.0,185.6 L352.4,185.9 L352.7,186.3 L353.1,186.6 L353.5,186.9 L353.9,187.2 L354.3,187.6 L354.7,187.9 L355.1,188.2 L355.5,188.5 L355.9,188.9 L356.2,189.2 L356.6,189.5 L357.0,189.8 L357.4,190.2 L357.8,190.5 L358.2,190.8 L358.6,191.1 L359.0,191.5 L359.4,191.8 L359.8,192.1 L360.1,192.5 L360.5,192.8 L360.9,193.1 L361.3,193.4 L361.7,193.8 L362.1,194.1 L362.5,194.4 L362.9,194.7 L363.3,195.1 L363.6,195.4 L364.0,195.7 L364.4,196.1 L364.8,196.4 L365.2,196.7 L365.6,197.0 L366.0,197.4 L366.4,197.7 L366.8,198.0 L367.2,198.3 L367.5,198.7 L367.9,199.0 L368.3,199.3 L368.7,199.7 L369.1,200.0 L369.5,200.3 L369.9,200.6 L370.3,201.0 L370.7,201.3 L371.1,201.6 L371.4,202.0 L371.8,202.3 L372.2,202.6 L372.6,202.9 L373.0,203.3 L373.4,203.6 L373.8,203.9 L374.2,204.3 L374.6,204.6 L374.9,204.9 L375.3,205.2 L375.7,205.6 L376.1,205.9 L376.5,206.2 L376.9,206.6 L377.3,206.9 L377.7,207.2 L378.1,207.5 L378.5,207.9 L378.8,208.2 L379.2,208.5 L379.6,208.9 L380.0,209.2 L380.4,209.5 L380.8,209.8 L381.2,210.2 L381.6,210.5 L382.0,210.8 L382.4,211.2 L382.7,211.5 L383.1,211.8 L383.5,212.1 L383.9,212.5 L384.3,212.8 L384.7,213.1 L385.1,213.5 L385.5,213.8 L385.9,214.1 L386.2,214.5 L386.6,214.8 L387.0,215.1 L387.4,215.4 L387.8,215.8 L388.2,216.1 L388.6,216.4 L389.0,216.8 L389.4,217.1 L389.8,217.4 L390.1,217.7 L390.5,218.1 L390.9,218.4 L391.3,218.7 L391.7,219.1 L392.1,219.4 L392.5,219.7 L392.9,220.1 L393.3,220.4 L393.6,220.7 L394.0,221.0 L394.4,221.4 L394.8,221.7 L395.2,222.0 L395.6,222.4 L396.0,222.7 L396.4,223.0 L396.8,223.4 L397.2,223.7 L397.5,224.0 L397.9,224.4 L398.4,224.7 L398.8,225.1 L399.3,225.5 L399.7,225.8 L400.2,226.2 L400.6,226.6 L401.0,227.0 L401.5,227.3 L401.8,227.6 L402.2,227.9 L402.5,228.2 L402.8,228.4 L403.0,228.6"/>
</g>
<g filter="url(#blur1)" fill="none" stroke="#5cc9bb" stroke-width="4" stroke-opacity="0.55">
<path d="M214.0,242.8 L221.0,237.3 L262.0,206.0"/>
<path d="M403.0,242.8 L396.0,237.3 L355.0,206.0"/>
</g>
<g fill="none" stroke="#071015" stroke-linecap="round" stroke-linejoin="round">
<path d="M214.0,198.6 L214.2,198.4 L214.5,198.2 L214.9,197.9 L215.3,197.6 L215.7,197.2 L216.1,196.8 L216.6,196.4 L217.1,196.0 L217.5,195.7 L218.0,195.3 L218.4,194.9 L218.8,194.6 L219.2,194.3 L219.6,193.9 L220.0,193.6 L220.3,193.3 L220.7,192.9 L221.1,192.6 L221.5,192.2 L221.9,191.9 L222.3,191.6 L222.7,191.2 L223.1,190.9 L223.5,190.6 L223.9,190.2 L224.3,189.9 L224.7,189.6 L225.1,189.2 L225.5,188.9 L225.9,188.6 L226.3,188.2 L226.7,187.9 L227.1,187.6 L227.5,187.2 L227.9,186.9 L228.3,186.5 L228.7,186.2 L229.1,185.9 L229.5,185.5 L229.9,185.2 L230.3,184.9 L230.7,184.5 L231.1,184.2 L231.5,183.9 L231.9,183.5 L232.2,183.2 L232.6,182.9 L233.0,182.5 L233.4,182.2 L233.8,181.9 L234.2,181.5 L234.6,181.2 L235.0,180.8 L235.4,180.5 L235.8,180.2 L236.2,179.8 L236.6,179.5 L237.0,179.2 L237.4,178.8 L237.8,178.5 L238.2,178.2 L238.6,177.8 L239.0,177.5 L239.4,177.2 L239.8,176.8 L240.2,176.5 L240.6,176.2 L241.0,175.8 L241.4,175.5 L241.8,175.2 L242.2,174.8 L242.6,174.5 L243.0,174.1 L243.4,173.8 L243.8,173.5 L244.1,173.1 L244.5,172.8 L244.9,172.5 L245.3,172.1 L245.7,171.8 L246.1,171.5 L246.5,171.1 L246.9,170.8 L247.3,170.5 L247.7,170.1 L248.1,169.8 L248.5,169.5 L248.9,169.1 L249.3,168.8 L249.7,168.5 L250.1,168.1 L250.5,167.8 L250.9,167.5 L251.3,167.1 L251.7,166.8 L252.1,166.5 L252.5,166.1 L252.9,165.8 L253.3,165.5 L253.7,165.1 L254.1,164.8 L254.5,164.5 L254.9,164.1 L255.3,163.8 L255.7,163.5 L256.0,163.1 L256.4,162.8 L256.8,162.5 L257.2,162.1 L257.6,161.8 L258.0,161.5 L258.5,161.1 L258.9,160.7 L259.4,160.3 L259.9,159.9 L260.3,159.6 L260.7,159.2 L261.1,158.9 L261.5,158.6 L261.8,158.3 L262.0,158.1" stroke-width="6.0"/>
<path d="M262.9,158.9 L263.2,158.7 L263.6,158.5 L264.0,158.3 L264.5,158.1 L264.9,157.9 L265.4,157.6 L265.9,157.4 M269.1,155.9 L269.6,155.7 L270.1,155.4 L270.6,155.2 L271.1,155.0 L271.6,154.8 M274.9,153.4 L275.4,153.3 L275.9,153.1 L276.3,152.9 L276.8,152.8 L277.3,152.6 L277.7,152.4 M281.0,151.4 L281.5,151.2 L282.0,151.1 L282.6,151.0 L283.2,150.8 L283.8,150.7 L284.3,150.5 M287.7,149.7 L288.2,149.6 L288.6,149.5 L289.0,149.4 L289.4,149.3 L289.7,149.3 L290.0,149.2" stroke-width="4.6" stroke-linecap="butt"/>
<path d="M289.5,149.3 L289.8,149.2 L290.1,149.1 L290.5,149.0 L290.9,148.9 L291.3,148.8 L291.8,148.7 L292.3,148.6 L292.8,148.4 L293.4,148.3 L294.0,148.1 L294.5,148.0 L295.1,147.8 L295.7,147.7 L296.3,147.5 L296.9,147.4 L297.4,147.3 L298.0,147.2 L298.5,147.1 L299.0,147.0 L299.5,146.9 L300.0,146.8 L300.6,146.8 L301.1,146.7 L301.6,146.7 L302.1,146.6 L302.6,146.5 L303.1,146.5 L303.6,146.5 L304.2,146.4 L304.7,146.4 L305.2,146.4 L305.7,146.3 L306.2,146.3 L306.7,146.3 L307.2,146.3 L307.7,146.3 L308.2,146.3 L308.7,146.3 L309.3,146.3 L309.8,146.3 L310.3,146.3 L310.8,146.4 L311.3,146.4 L311.8,146.4 L312.4,146.4 L312.9,146.5 L313.4,146.5 L313.9,146.6 L314.4,146.6 L314.9,146.7 L315.4,146.8 L316.0,146.8 L316.5,146.9 L317.0,147.0 L317.5,147.1 L318.0,147.2 L318.6,147.3 L319.2,147.4 L319.7,147.6 L320.3,147.7 L320.9,147.9 L321.5,148.0 L322.1,148.2 L322.6,148.3 L323.1,148.5 L323.7,148.6 L324.1,148.8 L324.6,148.9 L325.0,149.0 L325.4,149.1 L325.7,149.2 L326.0,149.3" stroke-width="6.6"/>
<path d="M327.0,149.5 L327.4,149.6 L327.8,149.7 L328.3,149.8 L328.8,149.9 L329.4,150.0 L329.9,150.2 M333.4,151.0 L334.0,151.1 L334.5,151.3 L335.0,151.4 L335.5,151.5 L335.9,151.7 L336.4,151.8 M339.8,153.0 L340.2,153.2 L340.7,153.4 L341.2,153.6 L341.7,153.8 L342.1,153.9 L342.6,154.1 M346.1,155.3 L346.7,155.5 L347.2,155.7 L347.8,155.8 L348.3,156.0 L348.9,156.2 M352.0,157.2 L352.3,157.3 L352.6,157.4" stroke-width="4.6" stroke-linecap="butt"/>
<path d="M352.6,156.1 L352.8,156.3 L353.2,156.6 L353.5,156.9 L353.9,157.2 L354.4,157.6 L354.8,158.0 L355.3,158.4 L355.8,158.8 L356.3,159.2 L356.7,159.6 L357.2,160.0 L357.6,160.3 L358.0,160.7 L358.4,161.0 L358.8,161.4 L359.3,161.7 L359.7,162.1 L360.1,162.4 L360.5,162.8 L360.9,163.1 L361.3,163.5 L361.8,163.8 L362.2,164.2 L362.6,164.5 L363.0,164.9 L363.4,165.2 L363.8,165.6 L364.3,165.9 L364.7,166.3 L365.1,166.6 L365.5,167.0 L365.9,167.3 L366.3,167.7 L366.8,168.0 L367.2,168.4 L367.6,168.7 L368.0,169.1 L368.4,169.4 L368.8,169.8 L369.3,170.1 L369.7,170.5 L370.1,170.8 L370.5,171.2 L370.9,171.5 L371.3,171.9 L371.8,172.2 L372.2,172.6 L372.6,172.9 L373.0,173.3 L373.4,173.6 L373.8,174.0 L374.3,174.3 L374.7,174.7 L375.1,175.0 L375.5,175.4 L375.9,175.7 L376.3,176.1 L376.8,176.4 L377.2,176.8 L377.6,177.1 L378.0,177.5 L378.4,177.8 L378.8,178.2 L379.3,178.6 L379.7,178.9 L380.1,179.3 L380.5,179.6 L380.9,180.0 L381.3,180.3 L381.8,180.7 L382.2,181.0 L382.6,181.4 L383.0,181.7 L383.4,182.1 L383.8,182.4 L384.3,182.8 L384.7,183.1 L385.1,183.5 L385.5,183.8 L385.9,184.2 L386.3,184.5 L386.8,184.9 L387.2,185.2 L387.6,185.6 L388.0,185.9 L388.4,186.3 L388.8,186.6 L389.3,187.0 L389.6,187.3 L390.0,187.6 L390.4,188.0 L390.8,188.3 L391.2,188.6 L391.5,188.9 L391.9,189.3 L392.3,189.6 L392.7,189.9 L393.1,190.2 L393.5,190.5 L393.8,190.9 L394.2,191.2 L394.6,191.5 L395.0,191.8 L395.4,192.2 L395.7,192.5 L396.1,192.8 L396.5,193.1 L396.9,193.5 L397.3,193.8 L397.7,194.1 L398.0,194.4 L398.4,194.8 L398.8,195.1 L399.2,195.4 L399.7,195.8 L400.1,196.2 L400.6,196.6 L401.0,196.9 L401.4,197.3 L401.8,197.6 L402.2,197.9 L402.5,198.2 L402.8,198.4 L403.0,198.6" stroke-width="6.0"/>
<path d="M214.0,213.6 L214.2,213.4 L214.5,213.2 L214.8,212.9 L215.2,212.6 L215.6,212.2 L216.1,211.9 L216.5,211.5 L217.0,211.1 L217.4,210.7 L217.9,210.3 L218.3,210.0 L218.7,209.6 L219.1,209.3 L219.5,209.0 L219.9,208.6 L220.3,208.3 L220.7,208.0 L221.1,207.6 L221.5,207.3 L221.9,207.0 L222.3,206.6 L222.7,206.3 L223.1,206.0 L223.5,205.6 L223.8,205.3 L224.2,205.0 L224.6,204.6 L225.0,204.3 L225.4,204.0 L225.8,203.6 L226.2,203.3 L226.6,203.0 L227.0,202.6 L227.4,202.3 L227.8,202.0 L228.2,201.6 L228.6,201.3 L229.0,201.0 L229.4,200.6 L229.8,200.3 L230.2,200.0 L230.5,199.6 L230.9,199.3 L231.3,199.0 L231.7,198.6 L232.1,198.3 L232.5,198.0 L232.9,197.6 L233.3,197.3 L233.7,197.0 L234.1,196.6 L234.5,196.3 L234.9,196.0 L235.3,195.6 L235.7,195.3 L236.1,195.0 L236.5,194.6 L236.8,194.3 L237.2,194.0 L237.6,193.6 L238.0,193.3 L238.4,193.0 L238.8,192.6 L239.2,192.3 L239.6,192.0 L240.0,191.6 L240.4,191.3 L240.8,191.0 L241.2,190.6 L241.6,190.3 L242.0,190.0 L242.4,189.7 L242.8,189.3 L243.2,189.0 L243.5,188.7 L243.9,188.3 L244.3,188.0 L244.7,187.7 L245.1,187.3 L245.5,187.0 L245.9,186.7 L246.3,186.3 L246.7,186.0 L247.1,185.7 L247.5,185.3 L247.9,185.0 L248.3,184.7 L248.7,184.3 L249.1,184.0 L249.5,183.7 L249.8,183.3 L250.2,183.0 L250.6,182.7 L251.0,182.3 L251.4,182.0 L251.8,181.7 L252.2,181.4 L252.6,181.0 L253.0,180.7 L253.4,180.4 L253.8,180.0 L254.2,179.7 L254.6,179.4 L255.0,179.0 L255.4,178.7 L255.8,178.4 L256.2,178.0 L256.5,177.7 L256.9,177.4 L257.3,177.1 L257.7,176.7 L258.1,176.4 L258.5,176.1 L258.9,175.7 L259.3,175.4 L259.7,175.1 L260.1,174.7 L260.5,174.4 L260.9,174.1 L261.3,173.7 L261.7,173.4 L262.1,173.0 L262.6,172.7 L263.0,172.3 L263.5,171.9 L263.9,171.5 L264.4,171.2 L264.8,170.8 L265.2,170.5 L265.5,170.2 L265.8,170.0 L266.0,169.8" stroke-width="6.0"/>
<path d="M266.9,170.8 L267.3,170.7 L267.7,170.5 L268.1,170.4 L268.6,170.2 L269.1,170.0 L269.6,169.8 L270.1,169.7 M273.4,168.6 L273.9,168.4 L274.5,168.2 L275.0,168.1 L275.5,167.9 L276.0,167.8 M279.9,167.0 L280.4,166.9 L281.0,166.7 L281.6,166.6 L282.2,166.5 L282.7,166.4 M285.9,165.9 L286.2,165.9 L286.5,165.8" stroke-width="4.6" stroke-linecap="butt"/>
<path d="M286.0,166.0 L286.3,165.9 L286.6,165.7 L286.9,165.6 L287.3,165.4 L287.7,165.2 L288.1,165.0 L288.6,164.8 L289.0,164.5 L289.5,164.3 L290.1,164.0 L290.6,163.8 L291.1,163.5 L291.7,163.3 L292.2,163.1 L292.8,162.8 L293.3,162.6 L293.9,162.4 L294.4,162.1 L295.0,161.9 L295.5,161.8 L296.0,161.6 L296.5,161.4 L297.0,161.3 L297.5,161.2 L298.0,161.0 L298.5,160.9 L299.0,160.8 L299.5,160.7 L300.0,160.5 L300.6,160.4 L301.1,160.3 L301.6,160.2 L302.1,160.1 L302.6,160.0 L303.1,160.0 L303.7,159.9 L304.2,159.8 L304.7,159.8 L305.2,159.7 L305.8,159.7 L306.3,159.6 L306.8,159.6 L307.3,159.6 L307.8,159.6 L308.3,159.5 L308.8,159.5 L309.3,159.5 L309.8,159.5 L310.3,159.5 L310.8,159.6 L311.3,159.6 L311.8,159.6 L312.3,159.6 L312.8,159.7 L313.3,159.7 L313.8,159.8 L314.3,159.8 L314.8,159.9 L315.3,160.0 L315.8,160.0 L316.4,160.1 L316.9,160.2 L317.5,160.3 L318.0,160.4 L318.5,160.5 L318.9,160.6 L319.4,160.7 L320.0,160.8 L320.5,161.0 L321.0,161.1 L321.6,161.3 L322.1,161.4 L322.7,161.6 L323.2,161.8 L323.8,161.9 L324.4,162.1 L324.9,162.3 L325.5,162.4 L326.0,162.6 L326.5,162.8 L327.1,162.9 L327.6,163.1 L328.0,163.3 L328.5,163.4 L329.0,163.6 L329.4,163.7 L329.8,163.8 L330.1,163.9 L330.4,164.0 L330.7,164.1 L331.0,164.2" stroke-width="6.6"/>
<path d="M332.0,164.4 L332.5,164.4 L332.9,164.5 L333.5,164.6 L334.0,164.7 L334.6,164.8 L335.1,164.9 M338.5,165.5 L339.0,165.6 L339.6,165.7 L340.1,165.8 L340.7,166.0 L341.3,166.1 M345.0,166.9 L345.4,167.0 L345.7,167.0 L346.0,167.1" stroke-width="4.6" stroke-linecap="butt"/>
<path d="M346.0,165.6 L346.2,165.8 L346.5,166.1 L346.8,166.3 L347.2,166.6 L347.6,167.0 L348.0,167.3 L348.5,167.7 L349.0,168.1 L349.4,168.5 L349.9,168.9 L350.3,169.2 L350.8,169.6 L351.2,169.9 L351.6,170.3 L352.0,170.6 L352.4,170.9 L352.8,171.3 L353.2,171.6 L353.6,171.9 L354.0,172.3 L354.4,172.6 L354.8,172.9 L355.2,173.3 L355.6,173.6 L356.0,173.9 L356.4,174.3 L356.8,174.6 L357.2,174.9 L357.6,175.3 L358.0,175.6 L358.4,176.0 L358.8,176.3 L359.2,176.6 L359.6,177.0 L360.0,177.3 L360.3,177.6 L360.7,178.0 L361.1,178.3 L361.5,178.6 L361.9,179.0 L362.3,179.3 L362.7,179.6 L363.1,180.0 L363.5,180.3 L363.9,180.6 L364.3,181.0 L364.7,181.3 L365.1,181.6 L365.5,182.0 L365.9,182.3 L366.3,182.7 L366.7,183.0 L367.1,183.3 L367.5,183.7 L367.9,184.0 L368.3,184.3 L368.7,184.7 L369.1,185.0 L369.5,185.3 L369.9,185.7 L370.3,186.0 L370.7,186.3 L371.1,186.7 L371.5,187.0 L371.9,187.4 L372.3,187.7 L372.7,188.0 L373.1,188.4 L373.5,188.7 L373.9,189.0 L374.3,189.4 L374.7,189.7 L375.1,190.0 L375.5,190.4 L375.9,190.7 L376.3,191.0 L376.7,191.4 L377.1,191.7 L377.5,192.1 L377.9,192.4 L378.3,192.7 L378.7,193.1 L379.1,193.4 L379.5,193.7 L379.9,194.1 L380.3,194.4 L380.7,194.7 L381.1,195.1 L381.5,195.4 L381.9,195.8 L382.3,196.1 L382.7,196.4 L383.1,196.8 L383.5,197.1 L383.9,197.4 L384.3,197.8 L384.7,198.1 L385.1,198.5 L385.5,198.8 L385.9,199.1 L386.3,199.5 L386.7,199.8 L387.1,200.1 L387.5,200.5 L387.9,200.8 L388.3,201.1 L388.7,201.5 L389.0,201.8 L389.4,202.2 L389.8,202.5 L390.2,202.8 L390.6,203.2 L391.0,203.5 L391.4,203.8 L391.8,204.2 L392.2,204.5 L392.6,204.9 L393.0,205.2 L393.4,205.5 L393.8,205.9 L394.2,206.2 L394.6,206.5 L395.0,206.9 L395.4,207.2 L395.8,207.6 L396.2,207.9 L396.6,208.2 L397.0,208.6 L397.4,208.9 L397.8,209.2 L398.2,209.6 L398.7,210.0 L399.1,210.3 L399.6,210.7 L400.0,211.1 L400.5,211.5 L401.0,211.9 L401.4,212.3 L401.8,212.6 L402.2,212.9 L402.5,213.2 L402.8,213.4 L403.0,213.6" stroke-width="6.0"/>
<path d="M214.0,228.6 L214.2,228.4 L214.5,228.2 L214.9,227.9 L215.2,227.6 L215.6,227.2 L216.1,226.9 L216.5,226.5 L217.0,226.1 L217.5,225.7 L217.9,225.3 L218.4,224.9 L218.9,224.5 L219.3,224.2 L219.7,223.8 L220.1,223.5 L220.5,223.1 L220.9,222.8 L221.3,222.4 L221.7,222.1 L222.1,221.8 L222.5,221.4 L222.9,221.1 L223.3,220.7 L223.7,220.4 L224.1,220.0 L224.5,219.7 L225.0,219.4 L225.4,219.0 L225.8,218.7 L226.2,218.3 L226.6,218.0 L227.0,217.6 L227.4,217.3 L227.8,217.0 L228.2,216.6 L228.6,216.3 L229.0,215.9 L229.4,215.6 L229.8,215.2 L230.2,214.9 L230.6,214.6 L231.0,214.2 L231.4,213.9 L231.8,213.5 L232.3,213.2 L232.7,212.8 L233.1,212.5 L233.5,212.2 L233.9,211.8 L234.3,211.5 L234.7,211.1 L235.1,210.8 L235.5,210.4 L235.9,210.1 L236.3,209.8 L236.7,209.4 L237.1,209.1 L237.5,208.7 L237.9,208.4 L238.3,208.0 L238.7,207.7 L239.1,207.4 L239.6,207.0 L240.0,206.7 L240.4,206.3 L240.8,206.0 L241.2,205.7 L241.6,205.3 L242.0,205.0 L242.4,204.6 L242.8,204.3 L243.2,203.9 L243.6,203.6 L244.0,203.3 L244.4,202.9 L244.8,202.6 L245.2,202.2 L245.6,201.9 L246.0,201.5 L246.4,201.2 L246.9,200.9 L247.3,200.5 L247.7,200.2 L248.1,199.8 L248.5,199.5 L248.9,199.2 L249.3,198.8 L249.7,198.5 L250.1,198.1 L250.5,197.8 L250.9,197.5 L251.3,197.1 L251.7,196.8 L252.1,196.4 L252.5,196.1 L252.9,195.7 L253.3,195.4 L253.7,195.1 L254.2,194.7 L254.6,194.4 L255.0,194.0 L255.4,193.7 L255.8,193.4 L256.2,193.0 L256.6,192.7 L257.0,192.3 L257.4,192.0 L257.8,191.7 L258.2,191.3 L258.6,191.0 L259.0,190.6 L259.4,190.3 L259.8,190.0 L260.2,189.6 L260.6,189.3 L261.0,188.9 L261.5,188.6 L261.9,188.3 L262.3,187.9 L262.7,187.6 L263.1,187.2 L263.5,186.9 L263.9,186.6 L264.3,186.2 L264.7,185.9 L265.1,185.5 L265.5,185.2 L265.9,184.9 L266.3,184.5 L266.7,184.2 L267.1,183.8 L267.6,183.5 L268.1,183.1 L268.5,182.7 L269.0,182.3 L269.5,181.9 L269.9,181.5 L270.4,181.2 L270.8,180.8 L271.1,180.5 L271.5,180.2 L271.8,180.0 L272.0,179.8" stroke-width="6.0"/>
<path d="M272.9,181.0 L273.3,180.9 L273.7,180.7 L274.1,180.5 L274.6,180.3 L275.1,180.1 L275.6,179.9 M278.9,178.6 L279.4,178.4 L280.0,178.2 L280.5,178.0 L281.0,177.8 L281.5,177.6 L282.0,177.5 M285.4,176.6 L286.0,176.4 L286.6,176.3 L287.1,176.1 L287.7,176.0 L288.2,175.9" stroke-width="4.6" stroke-linecap="butt"/>
<path d="M327.0,175.4 L327.4,175.5 L327.9,175.5 L328.4,175.6 L328.9,175.7 L329.4,175.8 L330.0,175.9 M333.5,176.6 L334.0,176.7 L334.5,176.9 L335.0,177.0 L335.5,177.2 L336.1,177.3 L336.7,177.5 M340.1,178.7 L340.6,178.9 L341.1,179.1 L341.6,179.3 L342.0,179.4 L342.4,179.6 L342.7,179.7" stroke-width="4.6" stroke-linecap="butt"/>
<path d="M343.0,178.1 L343.2,178.3 L343.5,178.6 L343.8,178.8 L344.2,179.1 L344.5,179.4 L345.0,179.8 L345.4,180.1 L345.8,180.5 L346.3,180.9 L346.7,181.2 L347.2,181.6 L347.6,182.0 L348.1,182.3 L348.5,182.7 L348.8,183.0 L349.2,183.3 L349.6,183.6 L350.0,184.0 L350.4,184.3 L350.8,184.6 L351.2,184.9 L351.6,185.3 L352.0,185.6 L352.4,185.9 L352.7,186.3 L353.1,186.6 L353.5,186.9 L353.9,187.2 L354.3,187.6 L354.7,187.9 L355.1,188.2 L355.5,188.5 L355.9,188.9 L356.2,189.2 L356.6,189.5 L357.0,189.8 L357.4,190.2 L357.8,190.5 L358.2,190.8 L358.6,191.1 L359.0,191.5 L359.4,191.8 L359.8,192.1 L360.1,192.5 L360.5,192.8 L360.9,193.1 L361.3,193.4 L361.7,193.8 L362.1,194.1 L362.5,194.4 L362.9,194.7 L363.3,195.1 L363.6,195.4 L364.0,195.7 L364.4,196.1 L364.8,196.4 L365.2,196.7 L365.6,197.0 L366.0,197.4 L366.4,197.7 L366.8,198.0 L367.2,198.3 L367.5,198.7 L367.9,199.0 L368.3,199.3 L368.7,199.7 L369.1,200.0 L369.5,200.3 L369.9,200.6 L370.3,201.0 L370.7,201.3 L371.1,201.6 L371.4,202.0 L371.8,202.3 L372.2,202.6 L372.6,202.9 L373.0,203.3 L373.4,203.6 L373.8,203.9 L374.2,204.3 L374.6,204.6 L374.9,204.9 L375.3,205.2 L375.7,205.6 L376.1,205.9 L376.5,206.2 L376.9,206.6 L377.3,206.9 L377.7,207.2 L378.1,207.5 L378.5,207.9 L378.8,208.2 L379.2,208.5 L379.6,208.9 L380.0,209.2 L380.4,209.5 L380.8,209.8 L381.2,210.2 L381.6,210.5 L382.0,210.8 L382.4,211.2 L382.7,211.5 L383.1,211.8 L383.5,212.1 L383.9,212.5 L384.3,212.8 L384.7,213.1 L385.1,213.5 L385.5,213.8 L385.9,214.1 L386.2,214.5 L386.6,214.8 L387.0,215.1 L387.4,215.4 L387.8,215.8 L388.2,216.1 L388.6,216.4 L389.0,216.8 L389.4,217.1 L389.8,217.4 L390.1,217.7 L390.5,218.1 L390.9,218.4 L391.3,218.7 L391.7,219.1 L392.1,219.4 L392.5,219.7 L392.9,220.1 L393.3,220.4 L393.6,220.7 L394.0,221.0 L394.4,221.4 L394.8,221.7 L395.2,222.0 L395.6,222.4 L396.0,222.7 L396.4,223.0 L396.8,223.4 L397.2,223.7 L397.5,224.0 L397.9,224.4 L398.4,224.7 L398.8,225.1 L399.3,225.5 L399.7,225.8 L400.2,226.2 L400.6,226.6 L401.0,227.0 L401.5,227.3 L401.8,227.6 L402.2,227.9 L402.5,228.2 L402.8,228.4 L403.0,228.6" stroke-width="6.0"/>
</g>
<g fill="none" stroke="#3e76f7" stroke-opacity="0.6" stroke-width="1.3">
<path d="M289.5,149.3 L289.8,149.2 L290.1,149.1 L290.5,149.0 L290.9,148.9 L291.3,148.8 L291.8,148.7 L292.3,148.6 L292.8,148.4 L293.4,148.3 L294.0,148.1 L294.5,148.0 L295.1,147.8 L295.7,147.7 L296.3,147.5 L296.9,147.4 L297.4,147.3 L298.0,147.2 L298.5,147.1 L299.0,147.0 L299.5,146.9 L300.0,146.8 L300.6,146.8 L301.1,146.7 L301.6,146.7 L302.1,146.6 L302.6,146.5 L303.1,146.5 L303.6,146.5 L304.2,146.4 L304.7,146.4 L305.2,146.4 L305.7,146.3 L306.2,146.3 L306.7,146.3 L307.2,146.3 L307.7,146.3 L308.2,146.3 L308.7,146.3 L309.3,146.3 L309.8,146.3 L310.3,146.3 L310.8,146.4 L311.3,146.4 L311.8,146.4 L312.4,146.4 L312.9,146.5 L313.4,146.5 L313.9,146.6 L314.4,146.6 L314.9,146.7 L315.4,146.8 L316.0,146.8 L316.5,146.9 L317.0,147.0 L317.5,147.1 L318.0,147.2 L318.6,147.3 L319.2,147.4 L319.7,147.6 L320.3,147.7 L320.9,147.9 L321.5,148.0 L322.1,148.2 L322.6,148.3 L323.1,148.5 L323.7,148.6 L324.1,148.8 L324.6,148.9 L325.0,149.0 L325.4,149.1 L325.7,149.2 L326.0,149.3"/>
<path d="M286.0,166.0 L286.3,165.9 L286.6,165.7 L286.9,165.6 L287.3,165.4 L287.7,165.2 L288.1,165.0 L288.6,164.8 L289.0,164.5 L289.5,164.3 L290.1,164.0 L290.6,163.8 L291.1,163.5 L291.7,163.3 L292.2,163.1 L292.8,162.8 L293.3,162.6 L293.9,162.4 L294.4,162.1 L295.0,161.9 L295.5,161.8 L296.0,161.6 L296.5,161.4 L297.0,161.3 L297.5,161.2 L298.0,161.0 L298.5,160.9 L299.0,160.8 L299.5,160.7 L300.0,160.5 L300.6,160.4 L301.1,160.3 L301.6,160.2 L302.1,160.1 L302.6,160.0 L303.1,160.0 L303.7,159.9 L304.2,159.8 L304.7,159.8 L305.2,159.7 L305.8,159.7 L306.3,159.6 L306.8,159.6 L307.3,159.6 L307.8,159.6 L308.3,159.5 L308.8,159.5 L309.3,159.5 L309.8,159.5 L310.3,159.5 L310.8,159.6 L311.3,159.6 L311.8,159.6 L312.3,159.6 L312.8,159.7 L313.3,159.7 L313.8,159.8 L314.3,159.8 L314.8,159.9 L315.3,160.0 L315.8,160.0 L316.4,160.1 L316.9,160.2 L317.5,160.3 L318.0,160.4 L318.5,160.5 L318.9,160.6 L319.4,160.7 L320.0,160.8 L320.5,161.0 L321.0,161.1 L321.6,161.3 L322.1,161.4 L322.7,161.6 L323.2,161.8 L323.8,161.9 L324.4,162.1 L324.9,162.3 L325.5,162.4 L326.0,162.6 L326.5,162.8 L327.1,162.9 L327.6,163.1 L328.0,163.3 L328.5,163.4 L329.0,163.6 L329.4,163.7 L329.8,163.8 L330.1,163.9 L330.4,164.0 L330.7,164.1 L331.0,164.2"/>
</g>
<g fill="#071015">
<ellipse cx="264.7" cy="72.5" rx="1.9" ry="3.0" transform="rotate(-12 264.7 72.5)"/>
<ellipse cx="264.7" cy="86.2" rx="1.9" ry="3.0" transform="rotate(-12 264.7 86.2)"/>
<ellipse cx="264.6" cy="100.5" rx="1.9" ry="3.0" transform="rotate(-12 264.6 100.5)"/>
<ellipse cx="351.2" cy="72.7" rx="1.9" ry="3.0" transform="rotate(-12 351.2 72.7)"/>
<ellipse cx="351.2" cy="87.0" rx="1.9" ry="3.0" transform="rotate(-12 351.2 87.0)"/>
<ellipse cx="351.2" cy="100.7" rx="1.9" ry="3.0" transform="rotate(-12 351.2 100.7)"/>
<ellipse cx="342.6" cy="80.3" rx="1.9" ry="3.0" transform="rotate(-12 342.6 80.3)"/>
<ellipse cx="324.8" cy="107.6" rx="1.9" ry="3.0" transform="rotate(-12 324.8 107.6)"/>
<ellipse cx="342.6" cy="108.0" rx="1.9" ry="3.0" transform="rotate(-12 342.6 108.0)"/>
<ellipse cx="287.5" cy="104.8" rx="1.9" ry="3.0" transform="rotate(-12 287.5 104.8)"/>
<ellipse cx="276.5" cy="104.4" rx="1.9" ry="3.0" transform="rotate(-12 276.5 104.4)"/>
</g>
<g fill="none" stroke="#071015" stroke-width="1.7">
<ellipse cx="282.5" cy="91.4" rx="7.2" ry="2.7"/>
<ellipse cx="333.8" cy="93.2" rx="8.8" ry="3.0"/>
</g>
<g fill="#071015"><ellipse cx="325.0" cy="93.4" rx="3.4" ry="3.0"/><ellipse cx="342.6" cy="93.2" rx="2.2" ry="2.4"/><ellipse cx="276" cy="91.5" rx="2.2" ry="2.1"/><ellipse cx="289.5" cy="92.4" rx="1.8" ry="1.8"/><ellipse cx="324.9" cy="107.4" rx="3.2" ry="2.8"/><ellipse cx="342.4" cy="107.6" rx="2.3" ry="2.3"/><ellipse cx="342.4" cy="80.2" rx="2.5" ry="2.6"/></g>
</g>
<g clip-path="url(#clipA)" fill="none" stroke="#3e76f7" stroke-opacity="0.6" stroke-width="1.4" stroke-linejoin="round">
<path d="M219.4,-26.5 L220.2,-25.9 L220.9,-25.3 L221.7,-24.7 L222.4,-24.1 L223.2,-23.5 L223.9,-22.9 L224.7,-22.3 L225.4,-21.8 L226.2,-21.2 L226.9,-20.6 L227.7,-20.0 L228.4,-19.4 L229.2,-18.8 L229.9,-18.2 L230.7,-17.6 L231.4,-17.0 L232.2,-16.4 L232.9,-15.8 L233.7,-15.2 L234.4,-14.6 L235.2,-14.0 L235.9,-13.4 L236.7,-12.8 L237.4,-12.2 L238.2,-11.6 L238.9,-11.0 L239.7,-10.4 L240.4,-9.8 L241.2,-9.2 L241.9,-8.6 L242.7,-8.0 L243.4,-7.4 L244.2,-6.8 L244.9,-6.2 L245.7,-5.6 L246.4,-5.0 L247.2,-4.4 L247.9,-3.8 L248.7,-3.3 L249.4,-2.7 L250.2,-2.1 L250.9,-1.5 L251.7,-0.9 L252.4,-0.3 L253.2,0.3 L253.9,0.9 L254.7,1.5 L255.4,2.1 L256.1,2.7 L256.9,3.3 L257.6,3.9 L258.4,4.5 L259.1,5.1 L259.9,5.7 L260.6,6.3 L261.4,6.8 L262.1,7.4 L262.9,8.0 L263.6,8.6 L264.4,9.2 L265.1,9.8 L265.9,10.4 L266.6,11.0 L267.4,11.6 L268.1,12.2 L268.9,12.8 L269.6,13.3 L270.4,13.9 L271.1,14.5 L271.9,15.1 L272.6,15.7 L273.4,16.3 L274.1,16.9 L274.9,17.5 L275.6,18.0 L276.4,18.6 L277.1,19.2 L277.9,19.8 L278.6,20.4 L279.4,21.0 L280.1,21.5 L280.9,22.1 L281.6,22.7 L282.4,23.3 L283.1,23.9 L283.9,24.4 L284.6,25.0 L285.4,25.6 L286.1,26.1 L286.9,26.7 L287.6,27.3 L288.4,27.8 L289.1,28.4 L289.9,29.0 L290.6,29.5 L291.4,30.1 L292.1,30.6 L292.9,31.2 L293.6,31.7 L294.4,32.2 L295.1,32.8 L295.9,33.3 L296.6,33.8 L297.4,34.3 L298.1,34.8 L298.9,35.3 L299.6,35.7 L300.4,36.2 L301.1,36.6 L301.9,37.0 L302.6,37.4 L303.4,37.7 L304.1,38.1 L304.9,38.3 L305.6,38.6 L306.4,38.8 L307.1,38.9 L307.9,39.0 L308.6,39.0 L309.4,39.0 L310.1,38.9 L310.9,38.7 L311.6,38.5 L312.4,38.2 L313.1,37.9 L313.9,37.6 L314.6,37.2 L315.4,36.8 L316.1,36.4 L316.9,36.0 L317.6,35.5 L318.4,35.1 L319.1,34.6 L319.9,34.1 L320.6,33.6 L321.4,33.1 L322.1,32.5 L322.9,32.0 L323.6,31.5 L324.4,30.9 L325.1,30.4 L325.9,29.8 L326.6,29.3 L327.4,28.7 L328.1,28.2 L328.9,27.6 L329.6,27.0 L330.4,26.5 L331.1,25.9 L331.9,25.3 L332.6,24.8 L333.4,24.2 L334.1,23.6 L334.9,23.0 L335.6,22.5 L336.4,21.9 L337.1,21.3 L337.9,20.7 L338.6,20.1 L339.4,19.6 L340.1,19.0 L340.9,18.4 L341.6,17.8 L342.4,17.2 L343.1,16.6 L343.9,16.1 L344.6,15.5 L345.4,14.9 L346.1,14.3 L346.9,13.7 L347.6,13.1 L348.4,12.5 L349.1,11.9 L349.9,11.3 L350.6,10.8 L351.4,10.2 L352.1,9.6 L352.9,9.0 L353.6,8.4 L354.4,7.8 L355.1,7.2 L355.9,6.6 L356.6,6.0 L357.4,5.4 L358.1,4.8 L358.9,4.2 L359.6,3.6 L360.4,3.0 L361.1,2.5 L361.9,1.9 L362.6,1.3 L363.4,0.7 L364.1,0.1 L364.9,-0.5 L365.6,-1.1 L366.4,-1.7 L367.1,-2.3 L367.9,-2.9 L368.6,-3.5 L369.4,-4.1 L370.1,-4.7 L370.9,-5.3 L371.6,-5.9 L372.4,-6.5 L373.1,-7.1 L373.9,-7.7 L374.6,-8.3 L375.4,-8.9 L376.1,-9.5 L376.9,-10.0 L377.6,-10.6 L378.4,-11.2 L379.1,-11.8 L379.9,-12.4 L380.6,-13.0 L381.4,-13.6 L382.1,-14.2 L382.9,-14.8 L383.6,-15.4 L384.4,-16.0 L385.1,-16.6 L385.9,-17.2 L386.6,-17.8 L387.4,-18.4 L388.1,-19.0 L388.9,-19.6 L389.6,-20.2 L390.4,-20.8 L391.1,-21.4 L391.9,-22.0 L392.6,-22.6 L393.4,-23.2 L394.1,-23.8 L394.9,-24.4 L395.6,-25.0 L396.4,-25.6 L397.1,-26.2 L397.9,-26.8"/>
<path d="M219.4,-11.7 L220.2,-11.1 L220.9,-10.5 L221.7,-9.9 L222.4,-9.3 L223.2,-8.7 L223.9,-8.1 L224.7,-7.5 L225.4,-7.0 L226.2,-6.4 L226.9,-5.8 L227.7,-5.2 L228.4,-4.6 L229.2,-4.0 L229.9,-3.4 L230.7,-2.8 L231.4,-2.2 L232.2,-1.6 L232.9,-1.0 L233.7,-0.4 L234.4,0.2 L235.2,0.8 L235.9,1.4 L236.7,2.0 L237.4,2.6 L238.2,3.2 L238.9,3.8 L239.7,4.4 L240.4,5.0 L241.2,5.6 L241.9,6.2 L242.7,6.8 L243.4,7.4 L244.2,8.0 L244.9,8.6 L245.7,9.2 L246.4,9.8 L247.2,10.4 L247.9,10.9 L248.7,11.5 L249.4,12.1 L250.2,12.7 L250.9,13.3 L251.7,13.9 L252.4,14.5 L253.2,15.1 L253.9,15.7 L254.7,16.3 L255.4,16.9 L256.1,17.5 L256.9,18.1 L257.6,18.7 L258.4,19.3 L259.1,19.9 L259.9,20.4 L260.6,21.0 L261.4,21.6 L262.1,22.2 L262.9,22.8 L263.6,23.4 L264.4,24.0 L265.1,24.6 L265.9,25.2 L266.6,25.8 L267.4,26.3 L268.1,26.9 L268.9,27.5 L269.6,28.1 L270.4,28.7 L271.1,29.3 L271.9,29.9 L272.6,30.4 L273.4,31.0 L274.1,31.6 L274.9,32.2 L275.6,32.8 L276.4,33.4 L277.1,33.9 L277.9,34.5 L278.6,35.1 L279.4,35.7 L280.1,36.2 L280.9,36.8 L281.6,37.4 L282.4,38.0 L283.1,38.5 L283.9,39.1 L284.6,39.7 L285.4,40.2 L286.1,40.8 L286.9,41.3 L287.6,41.9 L288.4,42.4 L289.1,43.0 L289.9,43.5 L290.6,44.1 L291.4,44.6 L292.1,45.1 L292.9,45.7 L293.6,46.2 L294.4,46.7 L295.1,47.2 L295.9,47.7 L296.6,48.2 L297.4,48.7 L298.1,49.1 L298.9,49.6 L299.6,50.0 L300.4,50.4 L301.1,50.8 L301.9,51.2 L302.6,51.5 L303.4,51.8 L304.1,52.1 L304.9,52.4 L305.6,52.6 L306.4,52.7 L307.1,52.8 L307.9,52.9 L308.6,52.9 L309.4,52.9 L310.1,52.8 L310.9,52.7 L311.6,52.5 L312.4,52.3 L313.1,52.0 L313.9,51.7 L314.6,51.4 L315.4,51.0 L316.1,50.7 L316.9,50.3 L317.6,49.8 L318.4,49.4 L319.1,48.9 L319.9,48.5 L320.6,48.0 L321.4,47.5 L322.1,47.0 L322.9,46.5 L323.6,46.0 L324.4,45.5 L325.1,44.9 L325.9,44.4 L326.6,43.9 L327.4,43.3 L328.1,42.8 L328.9,42.2 L329.6,41.7 L330.4,41.1 L331.1,40.6 L331.9,40.0 L332.6,39.4 L333.4,38.9 L334.1,38.3 L334.9,37.7 L335.6,37.2 L336.4,36.6 L337.1,36.0 L337.9,35.4 L338.6,34.9 L339.4,34.3 L340.1,33.7 L340.9,33.1 L341.6,32.5 L342.4,32.0 L343.1,31.4 L343.9,30.8 L344.6,30.2 L345.4,29.6 L346.1,29.0 L346.9,28.5 L347.6,27.9 L348.4,27.3 L349.1,26.7 L349.9,26.1 L350.6,25.5 L351.4,24.9 L352.1,24.3 L352.9,23.8 L353.6,23.2 L354.4,22.6 L355.1,22.0 L355.9,21.4 L356.6,20.8 L357.4,20.2 L358.1,19.6 L358.9,19.0 L359.6,18.4 L360.4,17.8 L361.1,17.2 L361.9,16.7 L362.6,16.1 L363.4,15.5 L364.1,14.9 L364.9,14.3 L365.6,13.7 L366.4,13.1 L367.1,12.5 L367.9,11.9 L368.6,11.3 L369.4,10.7 L370.1,10.1 L370.9,9.5 L371.6,8.9 L372.4,8.3 L373.1,7.7 L373.9,7.1 L374.6,6.5 L375.4,5.9 L376.1,5.3 L376.9,4.8 L377.6,4.2 L378.4,3.6 L379.1,3.0 L379.9,2.4 L380.6,1.8 L381.4,1.2 L382.1,0.6 L382.9,-0.0 L383.6,-0.6 L384.4,-1.2 L385.1,-1.8 L385.9,-2.4 L386.6,-3.0 L387.4,-3.6 L388.1,-4.2 L388.9,-4.8 L389.6,-5.4 L390.4,-6.0 L391.1,-6.6 L391.9,-7.2 L392.6,-7.8 L393.4,-8.4 L394.1,-9.0 L394.9,-9.6 L395.6,-10.2 L396.4,-10.8 L397.1,-11.4 L397.9,-12.0"/>
<path d="M219.4,3.1 L220.2,3.7 L220.9,4.3 L221.7,4.9 L222.4,5.5 L223.2,6.1 L223.9,6.7 L224.7,7.3 L225.4,7.8 L226.2,8.4 L226.9,9.0 L227.7,9.6 L228.4,10.2 L229.2,10.8 L229.9,11.4 L230.7,12.0 L231.4,12.6 L232.2,13.2 L232.9,13.8 L233.7,14.4 L234.4,15.0 L235.2,15.6 L235.9,16.2 L236.7,16.8 L237.4,17.4 L238.2,18.0 L238.9,18.6 L239.7,19.2 L240.4,19.8 L241.2,20.4 L241.9,21.0 L242.7,21.6 L243.4,22.2 L244.2,22.8 L244.9,23.4 L245.7,24.0 L246.4,24.6 L247.2,25.1 L247.9,25.7 L248.7,26.3 L249.4,26.9 L250.2,27.5 L250.9,28.1 L251.7,28.7 L252.4,29.3 L253.2,29.9 L253.9,30.5 L254.7,31.1 L255.4,31.7 L256.1,32.3 L256.9,32.9 L257.6,33.5 L258.4,34.0 L259.1,34.6 L259.9,35.2 L260.6,35.8 L261.4,36.4 L262.1,37.0 L262.9,37.6 L263.6,38.2 L264.4,38.8 L265.1,39.4 L265.9,39.9 L266.6,40.5 L267.4,41.1 L268.1,41.7 L268.9,42.3 L269.6,42.9 L270.4,43.4 L271.1,44.0 L271.9,44.6 L272.6,45.2 L273.4,45.8 L274.1,46.3 L274.9,46.9 L275.6,47.5 L276.4,48.1 L277.1,48.6 L277.9,49.2 L278.6,49.8 L279.4,50.3 L280.1,50.9 L280.9,51.5 L281.6,52.0 L282.4,52.6 L283.1,53.1 L283.9,53.7 L284.6,54.2 L285.4,54.8 L286.1,55.3 L286.9,55.8 L287.6,56.4 L288.4,56.9 L289.1,57.4 L289.9,57.9 L290.6,58.4 L291.4,58.9 L292.1,59.4 L292.9,59.8 L293.6,60.3 L294.4,60.7 L295.1,61.1 L295.9,61.5 L296.6,61.8 L297.4,62.1 L298.1,62.4 L298.9,62.6 L299.6,62.8 L300.4,62.9 L301.1,62.9 L301.9,62.9 L302.6,62.9 L303.4,62.9 L304.1,62.8 L304.9,62.7 L305.6,62.6 L306.4,62.6 L307.1,62.5 L307.9,62.5 L308.6,62.5 L309.4,62.5 L310.1,62.6 L310.9,62.6 L311.6,62.7 L312.4,62.7 L313.1,62.8 L313.9,62.9 L314.6,62.9 L315.4,62.9 L316.1,62.9 L316.9,62.8 L317.6,62.7 L318.4,62.5 L319.1,62.3 L319.9,62.0 L320.6,61.7 L321.4,61.3 L322.1,61.0 L322.9,60.5 L323.6,60.1 L324.4,59.7 L325.1,59.2 L325.9,58.7 L326.6,58.2 L327.4,57.7 L328.1,57.2 L328.9,56.7 L329.6,56.2 L330.4,55.6 L331.1,55.1 L331.9,54.6 L332.6,54.0 L333.4,53.5 L334.1,52.9 L334.9,52.4 L335.6,51.8 L336.4,51.2 L337.1,50.7 L337.9,50.1 L338.6,49.5 L339.4,49.0 L340.1,48.4 L340.9,47.8 L341.6,47.3 L342.4,46.7 L343.1,46.1 L343.9,45.5 L344.6,45.0 L345.4,44.4 L346.1,43.8 L346.9,43.2 L347.6,42.6 L348.4,42.0 L349.1,41.5 L349.9,40.9 L350.6,40.3 L351.4,39.7 L352.1,39.1 L352.9,38.5 L353.6,37.9 L354.4,37.4 L355.1,36.8 L355.9,36.2 L356.6,35.6 L357.4,35.0 L358.1,34.4 L358.9,33.8 L359.6,33.2 L360.4,32.6 L361.1,32.0 L361.9,31.4 L362.6,30.9 L363.4,30.3 L364.1,29.7 L364.9,29.1 L365.6,28.5 L366.4,27.9 L367.1,27.3 L367.9,26.7 L368.6,26.1 L369.4,25.5 L370.1,24.9 L370.9,24.3 L371.6,23.7 L372.4,23.1 L373.1,22.5 L373.9,21.9 L374.6,21.3 L375.4,20.7 L376.1,20.1 L376.9,19.5 L377.6,19.0 L378.4,18.4 L379.1,17.8 L379.9,17.2 L380.6,16.6 L381.4,16.0 L382.1,15.4 L382.9,14.8 L383.6,14.2 L384.4,13.6 L385.1,13.0 L385.9,12.4 L386.6,11.8 L387.4,11.2 L388.1,10.6 L388.9,10.0 L389.6,9.4 L390.4,8.8 L391.1,8.2 L391.9,7.6 L392.6,7.0 L393.4,6.4 L394.1,5.8 L394.9,5.2 L395.6,4.6 L396.4,4.0 L397.1,3.4 L397.9,2.8"/>
<path d="M219.4,17.9 L220.2,18.5 L220.9,19.1 L221.7,19.7 L222.4,20.3 L223.2,20.9 L223.9,21.5 L224.7,22.1 L225.4,22.6 L226.2,23.2 L226.9,23.8 L227.7,24.4 L228.4,25.0 L229.2,25.6 L229.9,26.2 L230.7,26.8 L231.4,27.4 L232.2,28.0 L232.9,28.6 L233.7,29.2 L234.4,29.8 L235.2,30.4 L235.9,31.0 L236.7,31.6 L237.4,32.2 L238.2,32.8 L238.9,33.4 L239.7,34.0 L240.4,34.6 L241.2,35.2 L241.9,35.8 L242.7,36.4 L243.4,37.0 L244.2,37.6 L244.9,38.2 L245.7,38.8 L246.4,39.4 L247.2,39.9 L247.9,40.5 L248.7,41.1 L249.4,41.7 L250.2,42.3 L250.9,42.9 L251.7,43.5 L252.4,44.1 L253.2,44.7 L253.9,45.3 L254.7,45.9 L255.4,46.5 L256.1,47.1 L256.9,47.7 L257.6,48.2 L258.4,48.8 L259.1,49.4 L259.9,50.0 L260.6,50.6 L261.4,51.2 L262.1,51.8 L262.9,52.4 L263.6,53.0 L264.4,53.5 L265.1,54.1 L265.9,54.7 L266.6,55.3 L267.4,55.9 L268.1,56.4 L268.9,57.0 L269.6,57.6 L270.4,58.2 L271.1,58.8 L271.9,59.3 L272.6,59.9 L273.4,60.5 L274.1,61.0 L274.9,61.6 L275.6,62.2 L276.4,62.7 L277.1,63.3 L277.9,63.8 L278.6,64.4 L279.4,64.9 L280.1,65.5 L280.9,66.0 L281.6,66.5 L282.4,67.0 L283.1,67.5 L283.9,68.0 L284.6,68.5 L285.4,69.0 L286.1,69.4 L286.9,69.8 L287.6,70.2 L288.4,70.5 L289.1,70.8 L289.9,71.0 L290.6,71.1 L291.4,71.1 L292.1,71.0 L292.9,70.9 L293.6,70.7 L294.4,70.4 L295.1,70.2 L295.9,69.9 L296.6,69.7 L297.4,69.5 L298.1,69.3 L298.9,69.1 L299.6,69.0 L300.4,69.0 L301.1,69.0 L301.9,69.0 L302.6,69.1 L303.4,69.1 L304.1,69.3 L304.9,69.4 L305.6,69.5 L306.4,69.5 L307.1,69.6 L307.9,69.6 L308.6,69.6 L309.4,69.6 L310.1,69.6 L310.9,69.5 L311.6,69.4 L312.4,69.3 L313.1,69.2 L313.9,69.1 L314.6,69.0 L315.4,69.0 L316.1,69.0 L316.9,69.0 L317.6,69.1 L318.4,69.2 L319.1,69.4 L319.9,69.6 L320.6,69.8 L321.4,70.0 L322.1,70.3 L322.9,70.5 L323.6,70.8 L324.4,70.9 L325.1,71.1 L325.9,71.1 L326.6,71.1 L327.4,70.9 L328.1,70.7 L328.9,70.4 L329.6,70.1 L330.4,69.7 L331.1,69.2 L331.9,68.8 L332.6,68.3 L333.4,67.8 L334.1,67.3 L334.9,66.8 L335.6,66.3 L336.4,65.8 L337.1,65.3 L337.9,64.7 L338.6,64.2 L339.4,63.6 L340.1,63.1 L340.9,62.5 L341.6,61.9 L342.4,61.4 L343.1,60.8 L343.9,60.2 L344.6,59.7 L345.4,59.1 L346.1,58.5 L346.9,58.0 L347.6,57.4 L348.4,56.8 L349.1,56.2 L349.9,55.6 L350.6,55.1 L351.4,54.5 L352.1,53.9 L352.9,53.3 L353.6,52.7 L354.4,52.1 L355.1,51.5 L355.9,51.0 L356.6,50.4 L357.4,49.8 L358.1,49.2 L358.9,48.6 L359.6,48.0 L360.4,47.4 L361.1,46.8 L361.9,46.2 L362.6,45.6 L363.4,45.1 L364.1,44.5 L364.9,43.9 L365.6,43.3 L366.4,42.7 L367.1,42.1 L367.9,41.5 L368.6,40.9 L369.4,40.3 L370.1,39.7 L370.9,39.1 L371.6,38.5 L372.4,37.9 L373.1,37.3 L373.9,36.7 L374.6,36.1 L375.4,35.5 L376.1,34.9 L376.9,34.3 L377.6,33.8 L378.4,33.2 L379.1,32.6 L379.9,32.0 L380.6,31.4 L381.4,30.8 L382.1,30.2 L382.9,29.6 L383.6,29.0 L384.4,28.4 L385.1,27.8 L385.9,27.2 L386.6,26.6 L387.4,26.0 L388.1,25.4 L388.9,24.8 L389.6,24.2 L390.4,23.6 L391.1,23.0 L391.9,22.4 L392.6,21.8 L393.4,21.2 L394.1,20.6 L394.9,20.0 L395.6,19.4 L396.4,18.8 L397.1,18.2 L397.9,17.6"/>
<path d="M219.4,32.7 L220.2,33.3 L220.9,33.9 L221.7,34.5 L222.4,35.1 L223.2,35.7 L223.9,36.3 L224.7,36.9 L225.4,37.4 L226.2,38.0 L226.9,38.6 L227.7,39.2 L228.4,39.8 L229.2,40.4 L229.9,41.0 L230.7,41.6 L231.4,42.2 L232.2,42.8 L232.9,43.4 L233.7,44.0 L234.4,44.6 L235.2,45.2 L235.9,45.8 L236.7,46.4 L237.4,47.0 L238.2,47.6 L238.9,48.2 L239.7,48.8 L240.4,49.4 L241.2,50.0 L241.9,50.6 L242.7,51.2 L243.4,51.8 L244.2,52.4 L244.9,53.0 L245.7,53.6 L246.4,54.1 L247.2,54.7 L247.9,55.3 L248.7,55.9 L249.4,56.5 L250.2,57.1 L250.9,57.7 L251.7,58.3 L252.4,58.9 L253.2,59.5 L253.9,60.1 L254.7,60.7 L255.4,61.3 L256.1,61.9 L256.9,62.4 L257.6,63.0 L258.4,63.6 L259.1,64.2 L259.9,64.8 L260.6,65.4 L261.4,66.0 L262.1,66.6 L262.9,67.1 L263.6,67.7 L264.4,68.3 L265.1,68.9 L265.9,69.5 L266.6,70.0 L267.4,70.6 L268.1,71.2 L268.9,71.8 L269.6,72.3 L270.4,72.9 L271.1,73.4 L271.9,74.0 L272.6,74.5 L273.4,75.1 L274.1,75.6 L274.9,76.2 L275.6,76.7 L276.4,77.2 L277.1,77.7 L277.9,78.1 L278.6,78.5 L279.4,78.9 L280.1,79.2 L280.9,79.4 L281.6,79.5 L282.4,79.4 L283.1,79.2 L283.9,79.0 L284.6,78.7 L285.4,78.3 L286.1,77.9 L286.9,77.6 L287.6,77.2 L288.4,76.9 L289.1,76.7 L289.9,76.5 L290.6,76.4 L291.4,76.4 L292.1,76.5 L292.9,76.6 L293.6,76.8 L294.4,77.1 L295.1,77.3 L295.9,77.6 L296.6,77.8 L297.4,78.1 L298.1,78.3 L298.9,78.4 L299.6,78.5 L300.4,78.5 L301.1,78.5 L301.9,78.5 L302.6,78.4 L303.4,78.3 L304.1,78.2 L304.9,78.1 L305.6,78.0 L306.4,77.9 L307.1,77.9 L307.9,77.8 L308.6,77.8 L309.4,77.8 L310.1,77.9 L310.9,77.9 L311.6,78.0 L312.4,78.1 L313.1,78.3 L313.9,78.4 L314.6,78.5 L315.4,78.5 L316.1,78.5 L316.9,78.5 L317.6,78.5 L318.4,78.3 L319.1,78.2 L319.9,78.0 L320.6,77.7 L321.4,77.5 L322.1,77.2 L322.9,77.0 L323.6,76.8 L324.4,76.6 L325.1,76.5 L325.9,76.4 L326.6,76.5 L327.4,76.6 L328.1,76.8 L328.9,77.1 L329.6,77.4 L330.4,77.7 L331.1,78.1 L331.9,78.4 L332.6,78.8 L333.4,79.1 L334.1,79.3 L334.9,79.5 L335.6,79.5 L336.4,79.3 L337.1,79.1 L337.9,78.8 L338.6,78.4 L339.4,77.9 L340.1,77.5 L340.9,77.0 L341.6,76.5 L342.4,75.9 L343.1,75.4 L343.9,74.9 L344.6,74.3 L345.4,73.8 L346.1,73.2 L346.9,72.7 L347.6,72.1 L348.4,71.5 L349.1,71.0 L349.9,70.4 L350.6,69.8 L351.4,69.2 L352.1,68.6 L352.9,68.1 L353.6,67.5 L354.4,66.9 L355.1,66.3 L355.9,65.7 L356.6,65.2 L357.4,64.6 L358.1,64.0 L358.9,63.4 L359.6,62.8 L360.4,62.2 L361.1,61.6 L361.9,61.0 L362.6,60.4 L363.4,59.8 L364.1,59.3 L364.9,58.7 L365.6,58.1 L366.4,57.5 L367.1,56.9 L367.9,56.3 L368.6,55.7 L369.4,55.1 L370.1,54.5 L370.9,53.9 L371.6,53.3 L372.4,52.7 L373.1,52.1 L373.9,51.5 L374.6,50.9 L375.4,50.3 L376.1,49.7 L376.9,49.1 L377.6,48.6 L378.4,48.0 L379.1,47.4 L379.9,46.8 L380.6,46.2 L381.4,45.6 L382.1,45.0 L382.9,44.4 L383.6,43.8 L384.4,43.2 L385.1,42.6 L385.9,42.0 L386.6,41.4 L387.4,40.8 L388.1,40.2 L388.9,39.6 L389.6,39.0 L390.4,38.4 L391.1,37.8 L391.9,37.2 L392.6,36.6 L393.4,36.0 L394.1,35.4 L394.9,34.8 L395.6,34.2 L396.4,33.6 L397.1,33.0 L397.9,32.4"/>
<path d="M219.4,47.5 L220.2,48.1 L220.9,48.7 L221.7,49.3 L222.4,49.9 L223.2,50.5 L223.9,51.1 L224.7,51.7 L225.4,52.2 L226.2,52.8 L226.9,53.4 L227.7,54.0 L228.4,54.6 L229.2,55.2 L229.9,55.8 L230.7,56.4 L231.4,57.0 L232.2,57.6 L232.9,58.2 L233.7,58.8 L234.4,59.4 L235.2,60.0 L235.9,60.6 L236.7,61.2 L237.4,61.8 L238.2,62.4 L238.9,63.0 L239.7,63.6 L240.4,64.2 L241.2,64.8 L241.9,65.4 L242.7,66.0 L243.4,66.6 L244.2,67.2 L244.9,67.8 L245.7,68.4 L246.4,68.9 L247.2,69.5 L247.9,70.1 L248.7,70.7 L249.4,71.3 L250.2,71.9 L250.9,72.5 L251.7,73.1 L252.4,73.7 L253.2,74.3 L253.9,74.9 L254.7,75.5 L255.4,76.1 L256.1,76.6 L256.9,77.2 L257.6,77.8 L258.4,78.4 L259.1,79.0 L259.9,79.6 L260.6,80.2 L261.4,80.7 L262.1,81.3 L262.9,81.9 L263.6,82.5 L264.4,83.0 L265.1,83.6 L265.9,84.2 L266.6,84.7 L267.4,85.2 L268.1,85.8 L268.9,86.3 L269.6,86.8 L270.4,87.2 L271.1,87.6 L271.9,87.8 L272.6,87.8 L273.4,87.7 L274.1,87.4 L274.9,87.0 L275.6,86.5 L276.4,86.1 L277.1,85.6 L277.9,85.1 L278.6,84.7 L279.4,84.3 L280.1,84.0 L280.9,83.8 L281.6,83.7 L282.4,83.7 L283.1,83.9 L283.9,84.2 L284.6,84.5 L285.4,84.8 L286.1,85.1 L286.9,85.5 L287.6,85.8 L288.4,86.0 L289.1,86.3 L289.9,86.4 L290.6,86.5 L291.4,86.4 L292.1,86.3 L292.9,86.1 L293.6,85.9 L294.4,85.6 L295.1,85.3 L295.9,85.0 L296.6,84.7 L297.4,84.5 L298.1,84.3 L298.9,84.1 L299.6,84.0 L300.4,84.0 L301.1,84.0 L301.9,84.0 L302.6,84.1 L303.4,84.2 L304.1,84.3 L304.9,84.4 L305.6,84.6 L306.4,84.6 L307.1,84.7 L307.9,84.7 L308.6,84.8 L309.4,84.7 L310.1,84.7 L310.9,84.6 L311.6,84.5 L312.4,84.4 L313.1,84.3 L313.9,84.2 L314.6,84.1 L315.4,84.0 L316.1,84.0 L316.9,84.0 L317.6,84.1 L318.4,84.2 L319.1,84.4 L319.9,84.6 L320.6,84.8 L321.4,85.1 L322.1,85.4 L322.9,85.7 L323.6,86.0 L324.4,86.2 L325.1,86.3 L325.9,86.4 L326.6,86.4 L327.4,86.4 L328.1,86.2 L328.9,85.9 L329.6,85.7 L330.4,85.3 L331.1,85.0 L331.9,84.7 L332.6,84.3 L333.4,84.0 L334.1,83.8 L334.9,83.7 L335.6,83.7 L336.4,83.9 L337.1,84.1 L337.9,84.5 L338.6,84.9 L339.4,85.3 L340.1,85.8 L340.9,86.2 L341.6,86.7 L342.4,87.1 L343.1,87.5 L343.9,87.8 L344.6,87.8 L345.4,87.7 L346.1,87.4 L346.9,87.0 L347.6,86.6 L348.4,86.1 L349.1,85.6 L349.9,85.0 L350.6,84.5 L351.4,83.9 L352.1,83.4 L352.9,82.8 L353.6,82.2 L354.4,81.7 L355.1,81.1 L355.9,80.5 L356.6,79.9 L357.4,79.3 L358.1,78.8 L358.9,78.2 L359.6,77.6 L360.4,77.0 L361.1,76.4 L361.9,75.8 L362.6,75.2 L363.4,74.6 L364.1,74.0 L364.9,73.5 L365.6,72.9 L366.4,72.3 L367.1,71.7 L367.9,71.1 L368.6,70.5 L369.4,69.9 L370.1,69.3 L370.9,68.7 L371.6,68.1 L372.4,67.5 L373.1,66.9 L373.9,66.3 L374.6,65.7 L375.4,65.1 L376.1,64.5 L376.9,63.9 L377.6,63.4 L378.4,62.8 L379.1,62.2 L379.9,61.6 L380.6,61.0 L381.4,60.4 L382.1,59.8 L382.9,59.2 L383.6,58.6 L384.4,58.0 L385.1,57.4 L385.9,56.8 L386.6,56.2 L387.4,55.6 L388.1,55.0 L388.9,54.4 L389.6,53.8 L390.4,53.2 L391.1,52.6 L391.9,52.0 L392.6,51.4 L393.4,50.8 L394.1,50.2 L394.9,49.6 L395.6,49.0 L396.4,48.4 L397.1,47.8 L397.9,47.2"/>
<path d="M219.4,62.3 L220.2,62.9 L220.9,63.5 L221.7,64.1 L222.4,64.7 L223.2,65.3 L223.9,65.9 L224.7,66.5 L225.4,67.0 L226.2,67.6 L226.9,68.2 L227.7,68.8 L228.4,69.4 L229.2,70.0 L229.9,70.6 L230.7,71.2 L231.4,71.8 L232.2,72.4 L232.9,73.0 L233.7,73.6 L234.4,74.2 L235.2,74.8 L235.9,75.4 L236.7,76.0 L237.4,76.6 L238.2,77.2 L238.9,77.8 L239.7,78.4 L240.4,79.0 L241.2,79.6 L241.9,80.2 L242.7,80.8 L243.4,81.4 L244.2,82.0 L244.9,82.6 L245.7,83.2 L246.4,83.7 L247.2,84.3 L247.9,84.9 L248.7,85.5 L249.4,86.1 L250.2,86.7 L250.9,87.3 L251.7,87.9 L252.4,88.5 L253.2,89.1 L253.9,89.7 L254.7,90.2 L255.4,90.8 L256.1,91.4 L256.9,92.0 L257.6,92.6 L258.4,93.1 L259.1,93.7 L259.9,94.3 L260.6,94.8 L261.4,95.3 L262.1,95.8 L262.9,96.0 L263.6,96.0 L264.4,95.7 L265.1,95.3 L265.9,94.8 L266.6,94.2 L267.4,93.7 L268.1,93.1 L268.9,92.6 L269.6,92.1 L270.4,91.6 L271.1,91.2 L271.9,91.0 L272.6,90.9 L273.4,91.0 L274.1,91.3 L274.9,91.7 L275.6,92.1 L276.4,92.5 L277.1,93.0 L277.9,93.4 L278.6,93.8 L279.4,94.2 L280.1,94.4 L280.9,94.6 L281.6,94.7 L282.4,94.6 L283.1,94.4 L283.9,94.1 L284.6,93.7 L285.4,93.4 L286.1,93.0 L286.9,92.6 L287.6,92.2 L288.4,91.9 L289.1,91.7 L289.9,91.5 L290.6,91.4 L291.4,91.5 L292.1,91.6 L292.9,91.7 L293.6,91.9 L294.4,92.2 L295.1,92.5 L295.9,92.7 L296.6,93.0 L297.4,93.2 L298.1,93.4 L298.9,93.6 L299.6,93.7 L300.4,93.7 L301.1,93.7 L301.9,93.7 L302.6,93.6 L303.4,93.5 L304.1,93.4 L304.9,93.2 L305.6,93.1 L306.4,93.1 L307.1,93.0 L307.9,92.9 L308.6,92.9 L309.4,93.0 L310.1,93.0 L310.9,93.1 L311.6,93.2 L312.4,93.3 L313.1,93.4 L313.9,93.5 L314.6,93.6 L315.4,93.7 L316.1,93.7 L316.9,93.7 L317.6,93.7 L318.4,93.5 L319.1,93.4 L319.9,93.1 L320.6,92.9 L321.4,92.6 L322.1,92.4 L322.9,92.1 L323.6,91.9 L324.4,91.6 L325.1,91.5 L325.9,91.4 L326.6,91.5 L327.4,91.6 L328.1,91.8 L328.9,92.1 L329.6,92.4 L330.4,92.7 L331.1,93.1 L331.9,93.5 L332.6,93.9 L333.4,94.2 L334.1,94.5 L334.9,94.6 L335.6,94.7 L336.4,94.6 L337.1,94.3 L337.9,94.0 L338.6,93.7 L339.4,93.2 L340.1,92.8 L340.9,92.4 L341.6,91.9 L342.4,91.5 L343.1,91.2 L343.9,91.0 L344.6,90.9 L345.4,91.1 L346.1,91.4 L346.9,91.8 L347.6,92.3 L348.4,92.8 L349.1,93.3 L349.9,93.9 L350.6,94.4 L351.4,95.0 L352.1,95.5 L352.9,95.9 L353.6,96.1 L354.4,96.0 L355.1,95.6 L355.9,95.1 L356.6,94.6 L357.4,94.0 L358.1,93.5 L358.9,92.9 L359.6,92.3 L360.4,91.8 L361.1,91.2 L361.9,90.6 L362.6,90.0 L363.4,89.4 L364.1,88.8 L364.9,88.2 L365.6,87.7 L366.4,87.1 L367.1,86.5 L367.9,85.9 L368.6,85.3 L369.4,84.7 L370.1,84.1 L370.9,83.5 L371.6,82.9 L372.4,82.3 L373.1,81.7 L373.9,81.1 L374.6,80.5 L375.4,79.9 L376.1,79.3 L376.9,78.7 L377.6,78.2 L378.4,77.6 L379.1,77.0 L379.9,76.4 L380.6,75.8 L381.4,75.2 L382.1,74.6 L382.9,74.0 L383.6,73.4 L384.4,72.8 L385.1,72.2 L385.9,71.6 L386.6,71.0 L387.4,70.4 L388.1,69.8 L388.9,69.2 L389.6,68.6 L390.4,68.0 L391.1,67.4 L391.9,66.8 L392.6,66.2 L393.4,65.6 L394.1,65.0 L394.9,64.4 L395.6,63.8 L396.4,63.2 L397.1,62.6 L397.9,62.0"/>
<path d="M219.4,77.1 L220.2,77.7 L220.9,78.3 L221.7,78.9 L222.4,79.5 L223.2,80.1 L223.9,80.7 L224.7,81.3 L225.4,81.8 L226.2,82.4 L226.9,83.0 L227.7,83.6 L228.4,84.2 L229.2,84.8 L229.9,85.4 L230.7,86.0 L231.4,86.6 L232.2,87.2 L232.9,87.8 L233.7,88.4 L234.4,89.0 L235.2,89.6 L235.9,90.2 L236.7,90.8 L237.4,91.4 L238.2,92.0 L238.9,92.6 L239.7,93.2 L240.4,93.8 L241.2,94.4 L241.9,95.0 L242.7,95.6 L243.4,96.2 L244.2,96.8 L244.9,97.4 L245.7,97.9 L246.4,98.5 L247.2,99.1 L247.9,99.7 L248.7,100.3 L249.4,100.9 L250.2,101.5 L250.9,102.1 L251.7,102.6 L252.4,103.2 L253.2,103.7 L253.9,104.1 L254.7,104.0 L255.4,103.6 L256.1,103.0 L256.9,102.4 L257.6,101.8 L258.4,101.2 L259.1,100.6 L259.9,100.0 L260.6,99.5 L261.4,98.9 L262.1,98.5 L262.9,98.1 L263.6,98.1 L264.4,98.4 L265.1,98.8 L265.9,99.3 L266.6,99.8 L267.4,100.3 L268.1,100.8 L268.9,101.4 L269.6,101.8 L270.4,102.3 L271.1,102.7 L271.9,102.9 L272.6,102.9 L273.4,102.8 L274.1,102.4 L274.9,102.0 L275.6,101.6 L276.4,101.1 L277.1,100.6 L277.9,100.1 L278.6,99.7 L279.4,99.3 L280.1,99.0 L280.9,98.8 L281.6,98.7 L282.4,98.7 L283.1,98.9 L283.9,99.2 L284.6,99.5 L285.4,99.8 L286.1,100.2 L286.9,100.5 L287.6,100.9 L288.4,101.2 L289.1,101.4 L289.9,101.5 L290.6,101.6 L291.4,101.5 L292.1,101.4 L292.9,101.2 L293.6,100.9 L294.4,100.7 L295.1,100.4 L295.9,100.1 L296.6,99.8 L297.4,99.5 L298.1,99.3 L298.9,99.1 L299.6,99.0 L300.4,99.0 L301.1,99.0 L301.9,99.0 L302.6,99.1 L303.4,99.2 L304.1,99.3 L304.9,99.4 L305.6,99.6 L306.4,99.6 L307.1,99.7 L307.9,99.8 L308.6,99.8 L309.4,99.7 L310.1,99.7 L310.9,99.6 L311.6,99.5 L312.4,99.4 L313.1,99.3 L313.9,99.1 L314.6,99.0 L315.4,99.0 L316.1,98.9 L316.9,99.0 L317.6,99.0 L318.4,99.2 L319.1,99.4 L319.9,99.6 L320.6,99.9 L321.4,100.2 L322.1,100.5 L322.9,100.8 L323.6,101.0 L324.4,101.3 L325.1,101.5 L325.9,101.6 L326.6,101.6 L327.4,101.5 L328.1,101.3 L328.9,101.0 L329.6,100.7 L330.4,100.4 L331.1,100.1 L331.9,99.7 L332.6,99.4 L333.4,99.1 L334.1,98.8 L334.9,98.7 L335.6,98.7 L336.4,98.8 L337.1,99.1 L337.9,99.5 L338.6,99.9 L339.4,100.3 L340.1,100.8 L340.9,101.3 L341.6,101.8 L342.4,102.2 L343.1,102.6 L343.9,102.9 L344.6,103.0 L345.4,102.8 L346.1,102.5 L346.9,102.1 L347.6,101.6 L348.4,101.2 L349.1,100.6 L349.9,100.1 L350.6,99.6 L351.4,99.1 L352.1,98.6 L352.9,98.2 L353.6,98.1 L354.4,98.2 L355.1,98.6 L355.9,99.1 L356.6,99.7 L357.4,100.3 L358.1,100.9 L358.9,101.5 L359.6,102.1 L360.4,102.6 L361.1,103.2 L361.9,103.8 L362.6,104.1 L363.4,104.0 L364.1,103.5 L364.9,103.0 L365.6,102.4 L366.4,101.8 L367.1,101.3 L367.9,100.7 L368.6,100.1 L369.4,99.5 L370.1,98.9 L370.9,98.3 L371.6,97.7 L372.4,97.1 L373.1,96.5 L373.9,95.9 L374.6,95.3 L375.4,94.7 L376.1,94.1 L376.9,93.5 L377.6,93.0 L378.4,92.4 L379.1,91.8 L379.9,91.2 L380.6,90.6 L381.4,90.0 L382.1,89.4 L382.9,88.8 L383.6,88.2 L384.4,87.6 L385.1,87.0 L385.9,86.4 L386.6,85.8 L387.4,85.2 L388.1,84.6 L388.9,84.0 L389.6,83.4 L390.4,82.8 L391.1,82.2 L391.9,81.6 L392.6,81.0 L393.4,80.4 L394.1,79.8 L394.9,79.2 L395.6,78.6 L396.4,78.0 L397.1,77.4 L397.9,76.8"/>
<path d="M219.4,91.9 L220.2,92.5 L220.9,93.1 L221.7,93.7 L222.4,94.3 L223.2,94.9 L223.9,95.5 L224.7,96.1 L225.4,96.6 L226.2,97.2 L226.9,97.8 L227.7,98.4 L228.4,99.0 L229.2,99.6 L229.9,100.2 L230.7,100.8 L231.4,101.4 L232.2,102.0 L232.9,102.6 L233.7,103.2 L234.4,103.8 L235.2,104.4 L235.9,105.0 L236.7,105.6 L237.4,106.2 L238.2,106.8 L238.9,107.4 L239.7,108.0 L240.4,108.6 L241.2,109.2 L241.9,109.8 L242.7,110.4 L243.4,111.0 L244.2,111.5 L244.9,112.0 L245.7,111.8 L246.4,111.2 L247.2,110.6 L247.9,110.0 L248.7,109.4 L249.4,108.8 L250.2,108.1 L250.9,107.5 L251.7,106.9 L252.4,106.3 L253.2,105.8 L253.9,105.3 L254.7,105.4 L255.4,105.8 L256.1,106.4 L256.9,106.9 L257.6,107.5 L258.4,108.1 L259.1,108.6 L259.9,109.2 L260.6,109.7 L261.4,110.3 L262.1,110.7 L262.9,111.1 L263.6,111.1 L264.4,110.8 L265.1,110.3 L265.9,109.8 L266.6,109.2 L267.4,108.7 L268.1,108.1 L268.9,107.6 L269.6,107.1 L270.4,106.6 L271.1,106.2 L271.9,105.9 L272.6,105.8 L273.4,105.9 L274.1,106.2 L274.9,106.6 L275.6,107.1 L276.4,107.5 L277.1,108.0 L277.9,108.4 L278.6,108.8 L279.4,109.2 L280.1,109.5 L280.9,109.7 L281.6,109.8 L282.4,109.7 L283.1,109.5 L283.9,109.2 L284.6,108.8 L285.4,108.4 L286.1,108.0 L286.9,107.6 L287.6,107.3 L288.4,106.9 L289.1,106.7 L289.9,106.5 L290.6,106.4 L291.4,106.4 L292.1,106.5 L292.9,106.7 L293.6,106.9 L294.4,107.2 L295.1,107.5 L295.9,107.8 L296.6,108.0 L297.4,108.3 L298.1,108.5 L298.9,108.7 L299.6,108.8 L300.4,108.8 L301.1,108.8 L301.9,108.8 L302.6,108.7 L303.4,108.6 L304.1,108.5 L304.9,108.3 L305.6,108.2 L306.4,108.1 L307.1,108.1 L307.9,108.0 L308.6,108.0 L309.4,108.0 L310.1,108.1 L310.9,108.2 L311.6,108.3 L312.4,108.4 L313.1,108.5 L313.9,108.6 L314.6,108.7 L315.4,108.8 L316.1,108.8 L316.9,108.8 L317.6,108.7 L318.4,108.6 L319.1,108.4 L319.9,108.2 L320.6,107.9 L321.4,107.7 L322.1,107.4 L322.9,107.1 L323.6,106.8 L324.4,106.6 L325.1,106.5 L325.9,106.4 L326.6,106.4 L327.4,106.6 L328.1,106.8 L328.9,107.1 L329.6,107.4 L330.4,107.8 L331.1,108.2 L331.9,108.6 L332.6,108.9 L333.4,109.3 L334.1,109.6 L334.9,109.7 L335.6,109.8 L336.4,109.6 L337.1,109.4 L337.9,109.1 L338.6,108.7 L339.4,108.2 L340.1,107.8 L340.9,107.3 L341.6,106.9 L342.4,106.5 L343.1,106.1 L343.9,105.9 L344.6,105.8 L345.4,106.0 L346.1,106.3 L346.9,106.8 L347.6,107.3 L348.4,107.8 L349.1,108.3 L349.9,108.9 L350.6,109.5 L351.4,110.0 L352.1,110.5 L352.9,110.9 L353.6,111.1 L354.4,111.0 L355.1,110.6 L355.9,110.1 L356.6,109.5 L357.4,109.0 L358.1,108.4 L358.9,107.8 L359.6,107.3 L360.4,106.7 L361.1,106.1 L361.9,105.6 L362.6,105.3 L363.4,105.5 L364.1,106.0 L364.9,106.5 L365.6,107.2 L366.4,107.8 L367.1,108.4 L367.9,109.0 L368.6,109.6 L369.4,110.2 L370.1,110.9 L370.9,111.5 L371.6,112.0 L372.4,111.8 L373.1,111.3 L373.9,110.7 L374.6,110.1 L375.4,109.5 L376.1,108.9 L376.9,108.3 L377.6,107.8 L378.4,107.2 L379.1,106.6 L379.9,106.0 L380.6,105.4 L381.4,104.8 L382.1,104.2 L382.9,103.6 L383.6,103.0 L384.4,102.4 L385.1,101.8 L385.9,101.2 L386.6,100.6 L387.4,100.0 L388.1,99.4 L388.9,98.8 L389.6,98.2 L390.4,97.6 L391.1,97.0 L391.9,96.4 L392.6,95.8 L393.4,95.2 L394.1,94.6 L394.9,94.0 L395.6,93.4 L396.4,92.8 L397.1,92.2 L397.9,91.6"/>
<path d="M219.4,106.7 L220.2,107.3 L220.9,107.9 L221.7,108.5 L222.4,109.1 L223.2,109.7 L223.9,110.3 L224.7,110.9 L225.4,111.4 L226.2,112.0 L226.9,112.6 L227.7,113.2 L228.4,113.8 L229.2,114.4 L229.9,115.0 L230.7,115.6 L231.4,116.2 L232.2,116.8 L232.9,117.4 L233.7,118.0 L234.4,118.6 L235.2,119.2 L235.9,119.8 L236.7,119.5 L237.4,118.8 L238.2,118.2 L238.9,117.6 L239.7,116.9 L240.4,116.3 L241.2,115.7 L241.9,115.1 L242.7,114.4 L243.4,113.8 L244.2,113.2 L244.9,112.7 L245.7,112.8 L246.4,113.4 L247.2,114.0 L247.9,114.6 L248.7,115.2 L249.4,115.7 L250.2,116.3 L250.9,116.9 L251.7,117.5 L252.4,118.1 L253.2,118.6 L253.9,119.1 L254.7,119.1 L255.4,118.6 L256.1,118.0 L256.9,117.4 L257.6,116.8 L258.4,116.2 L259.1,115.6 L259.9,115.0 L260.6,114.4 L261.4,113.9 L262.1,113.4 L262.9,113.0 L263.6,112.9 L264.4,113.2 L265.1,113.7 L265.9,114.2 L266.6,114.7 L267.4,115.2 L268.1,115.7 L268.9,116.3 L269.6,116.8 L270.4,117.2 L271.1,117.6 L271.9,117.9 L272.6,118.0 L273.4,117.8 L274.1,117.5 L274.9,117.1 L275.6,116.6 L276.4,116.1 L277.1,115.6 L277.9,115.1 L278.6,114.7 L279.4,114.3 L280.1,113.9 L280.9,113.7 L281.6,113.6 L282.4,113.7 L283.1,113.8 L283.9,114.1 L284.6,114.4 L285.4,114.8 L286.1,115.2 L286.9,115.5 L287.6,115.9 L288.4,116.2 L289.1,116.4 L289.9,116.6 L290.6,116.6 L291.4,116.6 L292.1,116.5 L292.9,116.3 L293.6,116.0 L294.4,115.7 L295.1,115.4 L295.9,115.1 L296.6,114.8 L297.4,114.5 L298.1,114.3 L298.9,114.1 L299.6,114.0 L300.4,113.9 L301.1,113.9 L301.9,114.0 L302.6,114.1 L303.4,114.2 L304.1,114.3 L304.9,114.4 L305.6,114.5 L306.4,114.6 L307.1,114.7 L307.9,114.7 L308.6,114.7 L309.4,114.7 L310.1,114.7 L310.9,114.6 L311.6,114.5 L312.4,114.4 L313.1,114.2 L313.9,114.1 L314.6,114.0 L315.4,114.0 L316.1,113.9 L316.9,114.0 L317.6,114.1 L318.4,114.2 L319.1,114.4 L319.9,114.7 L320.6,114.9 L321.4,115.2 L322.1,115.5 L322.9,115.8 L323.6,116.1 L324.4,116.4 L325.1,116.5 L325.9,116.6 L326.6,116.6 L327.4,116.5 L328.1,116.3 L328.9,116.1 L329.6,115.7 L330.4,115.4 L331.1,115.0 L331.9,114.7 L332.6,114.3 L333.4,114.0 L334.1,113.7 L334.9,113.6 L335.6,113.6 L336.4,113.8 L337.1,114.1 L337.9,114.4 L338.6,114.9 L339.4,115.3 L340.1,115.8 L340.9,116.3 L341.6,116.8 L342.4,117.3 L343.1,117.7 L343.9,117.9 L344.6,118.0 L345.4,117.8 L346.1,117.5 L346.9,117.1 L347.6,116.6 L348.4,116.1 L349.1,115.5 L349.9,115.0 L350.6,114.5 L351.4,113.9 L352.1,113.5 L352.9,113.1 L353.6,112.9 L354.4,113.1 L355.1,113.6 L355.9,114.1 L356.6,114.7 L357.4,115.2 L358.1,115.8 L358.9,116.4 L359.6,117.1 L360.4,117.7 L361.1,118.3 L361.9,118.8 L362.6,119.2 L363.4,118.9 L364.1,118.4 L364.9,117.8 L365.6,117.3 L366.4,116.7 L367.1,116.1 L367.9,115.5 L368.6,114.9 L369.4,114.3 L370.1,113.7 L370.9,113.2 L371.6,112.7 L372.4,112.9 L373.1,113.4 L373.9,114.1 L374.6,114.7 L375.4,115.3 L376.1,115.9 L376.9,116.6 L377.6,117.2 L378.4,117.8 L379.1,118.5 L379.9,119.1 L380.6,119.7 L381.4,119.6 L382.1,119.0 L382.9,118.4 L383.6,117.8 L384.4,117.2 L385.1,116.6 L385.9,116.0 L386.6,115.4 L387.4,114.8 L388.1,114.2 L388.9,113.6 L389.6,113.0 L390.4,112.4 L391.1,111.8 L391.9,111.2 L392.6,110.6 L393.4,110.0 L394.1,109.4 L394.9,108.8 L395.6,108.2 L396.4,107.6 L397.1,107.0 L397.9,106.4"/>
<path d="M219.4,121.5 L220.2,122.1 L220.9,122.7 L221.7,123.3 L222.4,123.9 L223.2,124.5 L223.9,125.1 L224.7,125.7 L225.4,126.2 L226.2,126.8 L226.9,127.4 L227.7,127.1 L228.4,126.4 L229.2,125.8 L229.9,125.2 L230.7,124.5 L231.4,123.9 L232.2,123.3 L232.9,122.6 L233.7,122.0 L234.4,121.4 L235.2,120.8 L235.9,120.1 L236.7,120.4 L237.4,121.0 L238.2,121.6 L238.9,122.2 L239.7,122.8 L240.4,123.4 L241.2,124.0 L241.9,124.6 L242.7,125.2 L243.4,125.8 L244.2,126.4 L244.9,126.9 L245.7,126.8 L246.4,126.2 L247.2,125.6 L247.9,125.0 L248.7,124.4 L249.4,123.7 L250.2,123.1 L250.9,122.5 L251.7,121.9 L252.4,121.3 L253.2,120.7 L253.9,120.2 L254.7,120.2 L255.4,120.6 L256.1,121.2 L256.9,121.7 L257.6,122.3 L258.4,122.9 L259.1,123.5 L259.9,124.0 L260.6,124.6 L261.4,125.1 L262.1,125.6 L262.9,126.0 L263.6,126.1 L264.4,125.8 L265.1,125.4 L265.9,124.8 L266.6,124.3 L267.4,123.7 L268.1,123.1 L268.9,122.6 L269.6,122.0 L270.4,121.5 L271.1,121.1 L271.9,120.8 L272.6,120.7 L273.4,120.8 L274.1,121.1 L274.9,121.5 L275.6,121.9 L276.4,122.4 L277.1,122.9 L277.9,123.3 L278.6,123.8 L279.4,124.2 L280.1,124.5 L280.9,124.7 L281.6,124.8 L282.4,124.8 L283.1,124.5 L283.9,124.2 L284.6,123.9 L285.4,123.5 L286.1,123.1 L286.9,122.7 L287.6,122.3 L288.4,121.9 L289.1,121.7 L289.9,121.5 L290.6,121.4 L291.4,121.4 L292.1,121.5 L292.9,121.7 L293.6,121.9 L294.4,122.2 L295.1,122.4 L295.9,122.7 L296.6,123.0 L297.4,123.3 L298.1,123.5 L298.9,123.7 L299.6,123.8 L300.4,123.8 L301.1,123.9 L301.9,123.8 L302.6,123.7 L303.4,123.6 L304.1,123.5 L304.9,123.4 L305.6,123.3 L306.4,123.2 L307.1,123.1 L307.9,123.1 L308.6,123.1 L309.4,123.1 L310.1,123.2 L310.9,123.2 L311.6,123.3 L312.4,123.5 L313.1,123.6 L313.9,123.7 L314.6,123.8 L315.4,123.8 L316.1,123.9 L316.9,123.8 L317.6,123.7 L318.4,123.6 L319.1,123.4 L319.9,123.2 L320.6,122.9 L321.4,122.6 L322.1,122.3 L322.9,122.0 L323.6,121.8 L324.4,121.6 L325.1,121.4 L325.9,121.4 L326.6,121.4 L327.4,121.5 L328.1,121.8 L328.9,122.1 L329.6,122.4 L330.4,122.8 L331.1,123.2 L331.9,123.6 L332.6,124.0 L333.4,124.4 L334.1,124.6 L334.9,124.8 L335.6,124.8 L336.4,124.7 L337.1,124.4 L337.9,124.0 L338.6,123.6 L339.4,123.2 L340.1,122.7 L340.9,122.2 L341.6,121.8 L342.4,121.3 L343.1,121.0 L343.9,120.7 L344.6,120.7 L345.4,120.9 L346.1,121.2 L346.9,121.7 L347.6,122.2 L348.4,122.8 L349.1,123.3 L349.9,123.9 L350.6,124.5 L351.4,125.0 L352.1,125.6 L352.9,126.0 L353.6,126.2 L354.4,125.9 L355.1,125.5 L355.9,124.9 L356.6,124.4 L357.4,123.8 L358.1,123.2 L358.9,122.7 L359.6,122.1 L360.4,121.5 L361.1,120.9 L361.9,120.4 L362.6,120.1 L363.4,120.4 L364.1,120.9 L364.9,121.5 L365.6,122.1 L366.4,122.7 L367.1,123.4 L367.9,124.0 L368.6,124.6 L369.4,125.2 L370.1,125.9 L370.9,126.5 L371.6,127.0 L372.4,126.7 L373.1,126.1 L373.9,125.5 L374.6,124.9 L375.4,124.3 L376.1,123.7 L376.9,123.2 L377.6,122.6 L378.4,122.0 L379.1,121.4 L379.9,120.8 L380.6,120.2 L381.4,120.4 L382.1,121.0 L382.9,121.6 L383.6,122.3 L384.4,122.9 L385.1,123.5 L385.9,124.2 L386.6,124.8 L387.4,125.4 L388.1,126.1 L388.9,126.7 L389.6,127.3 L390.4,127.2 L391.1,126.6 L391.9,126.0 L392.6,125.4 L393.4,124.8 L394.1,124.2 L394.9,123.6 L395.6,123.0 L396.4,122.4 L397.1,121.8 L397.9,121.2"/>
<path d="M219.4,134.1 L220.2,133.4 L220.9,132.8 L221.7,132.2 L222.4,131.5 L223.2,130.9 L223.9,130.3 L224.7,129.6 L225.4,129.0 L226.2,128.3 L226.9,127.7 L227.7,128.0 L228.4,128.6 L229.2,129.2 L229.9,129.8 L230.7,130.4 L231.4,131.0 L232.2,131.6 L232.9,132.2 L233.7,132.8 L234.4,133.4 L235.2,134.0 L235.9,134.6 L236.7,134.5 L237.4,133.8 L238.2,133.2 L238.9,132.6 L239.7,131.9 L240.4,131.3 L241.2,130.7 L241.9,130.1 L242.7,129.4 L243.4,128.8 L244.2,128.2 L244.9,127.6 L245.7,127.6 L246.4,128.2 L247.2,128.8 L247.9,129.4 L248.7,130.0 L249.4,130.5 L250.2,131.1 L250.9,131.7 L251.7,132.3 L252.4,132.9 L253.2,133.5 L253.9,134.0 L254.7,134.1 L255.4,133.6 L256.1,133.0 L256.9,132.4 L257.6,131.8 L258.4,131.2 L259.1,130.6 L259.9,130.0 L260.6,129.4 L261.4,128.8 L262.1,128.3 L262.9,127.9 L263.6,127.7 L264.4,128.0 L265.1,128.4 L265.9,129.0 L266.6,129.5 L267.4,130.1 L268.1,130.6 L268.9,131.1 L269.6,131.7 L270.4,132.2 L271.1,132.6 L271.9,132.9 L272.6,133.1 L273.4,132.9 L274.1,132.6 L274.9,132.1 L275.6,131.7 L276.4,131.1 L277.1,130.6 L277.9,130.1 L278.6,129.7 L279.4,129.2 L280.1,128.9 L280.9,128.6 L281.6,128.5 L282.4,128.5 L283.1,128.7 L283.9,129.0 L284.6,129.3 L285.4,129.7 L286.1,130.1 L286.9,130.5 L287.6,130.8 L288.4,131.1 L289.1,131.4 L289.9,131.6 L290.6,131.7 L291.4,131.7 L292.1,131.5 L292.9,131.3 L293.6,131.1 L294.4,130.8 L295.1,130.5 L295.9,130.2 L296.6,129.9 L297.4,129.6 L298.1,129.4 L298.9,129.2 L299.6,129.0 L300.4,129.0 L301.1,128.9 L301.9,129.0 L302.6,129.0 L303.4,129.1 L304.1,129.3 L304.9,129.4 L305.6,129.5 L306.4,129.6 L307.1,129.7 L307.9,129.7 L308.6,129.7 L309.4,129.7 L310.1,129.6 L310.9,129.5 L311.6,129.4 L312.4,129.3 L313.1,129.2 L313.9,129.1 L314.6,129.0 L315.4,128.9 L316.1,128.9 L316.9,129.0 L317.6,129.1 L318.4,129.2 L319.1,129.5 L319.9,129.7 L320.6,130.0 L321.4,130.3 L322.1,130.6 L322.9,130.9 L323.6,131.2 L324.4,131.4 L325.1,131.6 L325.9,131.7 L326.6,131.7 L327.4,131.5 L328.1,131.3 L328.9,131.0 L329.6,130.7 L330.4,130.3 L331.1,129.9 L331.9,129.6 L332.6,129.2 L333.4,128.9 L334.1,128.6 L334.9,128.5 L335.6,128.5 L336.4,128.7 L337.1,129.0 L337.9,129.4 L338.6,129.9 L339.4,130.3 L340.1,130.8 L340.9,131.3 L341.6,131.8 L342.4,132.3 L343.1,132.7 L343.9,133.0 L344.6,133.0 L345.4,132.8 L346.1,132.4 L346.9,132.0 L347.6,131.5 L348.4,130.9 L349.1,130.4 L349.9,129.8 L350.6,129.3 L351.4,128.8 L352.1,128.3 L352.9,127.9 L353.6,127.7 L354.4,128.0 L355.1,128.5 L355.9,129.0 L356.6,129.6 L357.4,130.2 L358.1,130.8 L358.9,131.4 L359.6,132.1 L360.4,132.7 L361.1,133.3 L361.9,133.8 L362.6,134.1 L363.4,133.8 L364.1,133.2 L364.9,132.7 L365.6,132.1 L366.4,131.5 L367.1,130.9 L367.9,130.3 L368.6,129.7 L369.4,129.1 L370.1,128.5 L370.9,128.0 L371.6,127.5 L372.4,127.8 L373.1,128.4 L373.9,129.0 L374.6,129.7 L375.4,130.3 L376.1,130.9 L376.9,131.6 L377.6,132.2 L378.4,132.8 L379.1,133.5 L379.9,134.1 L380.6,134.7 L381.4,134.4 L382.1,133.8 L382.9,133.2 L383.6,132.6 L384.4,132.0 L385.1,131.4 L385.9,130.8 L386.6,130.2 L387.4,129.6 L388.1,129.0 L388.9,128.4 L389.6,127.8 L390.4,128.0 L391.1,128.6 L391.9,129.2 L392.6,129.9 L393.4,130.5 L394.1,131.1 L394.9,131.8 L395.6,132.4 L396.4,133.0 L397.1,133.7 L397.9,134.3"/>
<path d="M219.4,149.1 L220.2,148.4 L220.9,147.8 L221.7,147.2 L222.4,146.5 L223.2,145.9 L223.9,145.3 L224.7,144.6 L225.4,144.0 L226.2,143.3 L226.9,142.7 L227.7,142.1 L228.4,141.4 L229.2,140.8 L229.9,140.2 L230.7,139.5 L231.4,138.9 L232.2,138.3 L232.9,137.6 L233.7,137.0 L234.4,136.4 L235.2,135.7 L235.9,135.1 L236.7,135.2 L237.4,135.8 L238.2,136.4 L238.9,137.0 L239.7,137.6 L240.4,138.2 L241.2,138.8 L241.9,139.4 L242.7,140.0 L243.4,140.6 L244.2,141.2 L244.9,141.7 L245.7,141.8 L246.4,141.2 L247.2,140.6 L247.9,140.0 L248.7,139.4 L249.4,138.7 L250.2,138.1 L250.9,137.5 L251.7,136.9 L252.4,136.3 L253.2,135.6 L253.9,135.1 L254.7,135.0 L255.4,135.4 L256.1,136.0 L256.9,136.5 L257.6,137.1 L258.4,137.7 L259.1,138.3 L259.9,138.9 L260.6,139.4 L261.4,140.0 L262.1,140.5 L262.9,141.0 L263.6,141.2 L264.4,140.9 L265.1,140.4 L265.9,139.8 L266.6,139.3 L267.4,138.7 L268.1,138.1 L268.9,137.5 L269.6,137.0 L270.4,136.5 L271.1,136.0 L271.9,135.6 L272.6,135.5 L273.4,135.6 L274.1,135.9 L274.9,136.3 L275.6,136.8 L276.4,137.3 L277.1,137.8 L277.9,138.2 L278.6,138.7 L279.4,139.1 L280.1,139.5 L280.9,139.7 L281.6,139.9 L282.4,139.8 L283.1,139.6 L283.9,139.3 L284.6,138.9 L285.4,138.5 L286.1,138.1 L286.9,137.7 L287.6,137.3 L288.4,137.0 L289.1,136.7 L289.9,136.5 L290.6,136.3 L291.4,136.3 L292.1,136.4 L292.9,136.6 L293.6,136.8 L294.4,137.1 L295.1,137.4 L295.9,137.7 L296.6,138.0 L297.4,138.2 L298.1,138.4 L298.9,138.6 L299.6,138.8 L300.4,138.8 L301.1,138.9 L301.9,138.8 L302.6,138.8 L303.4,138.7 L304.1,138.6 L304.9,138.5 L305.6,138.4 L306.4,138.3 L307.1,138.2 L307.9,138.2 L308.6,138.2 L309.4,138.2 L310.1,138.2 L310.9,138.3 L311.6,138.4 L312.4,138.5 L313.1,138.6 L313.9,138.7 L314.6,138.8 L315.4,138.9 L316.1,138.9 L316.9,138.8 L317.6,138.7 L318.4,138.6 L319.1,138.4 L319.9,138.1 L320.6,137.8 L321.4,137.5 L322.1,137.3 L322.9,137.0 L323.6,136.7 L324.4,136.5 L325.1,136.4 L325.9,136.3 L326.6,136.4 L327.4,136.5 L328.1,136.8 L328.9,137.1 L329.6,137.5 L330.4,137.9 L331.1,138.3 L331.9,138.7 L332.6,139.1 L333.4,139.4 L334.1,139.7 L334.9,139.9 L335.6,139.8 L336.4,139.6 L337.1,139.3 L337.9,138.9 L338.6,138.5 L339.4,138.0 L340.1,137.6 L340.9,137.1 L341.6,136.6 L342.4,136.1 L343.1,135.8 L343.9,135.5 L344.6,135.5 L345.4,135.8 L346.1,136.2 L346.9,136.7 L347.6,137.2 L348.4,137.8 L349.1,138.3 L349.9,138.9 L350.6,139.5 L351.4,140.1 L352.1,140.6 L352.9,141.1 L353.6,141.2 L354.4,140.8 L355.1,140.3 L355.9,139.8 L356.6,139.2 L357.4,138.6 L358.1,138.1 L358.9,137.5 L359.6,136.9 L360.4,136.3 L361.1,135.7 L361.9,135.2 L362.6,134.9 L363.4,135.3 L364.1,135.9 L364.9,136.5 L365.6,137.1 L366.4,137.7 L367.1,138.4 L367.9,139.0 L368.6,139.6 L369.4,140.2 L370.1,140.9 L370.9,141.5 L371.6,142.0 L372.4,141.5 L373.1,140.9 L373.9,140.3 L374.6,139.7 L375.4,139.1 L376.1,138.5 L376.9,138.0 L377.6,137.4 L378.4,136.8 L379.1,136.2 L379.9,135.6 L380.6,135.0 L381.4,135.4 L382.1,136.0 L382.9,136.6 L383.6,137.3 L384.4,137.9 L385.1,138.5 L385.9,139.2 L386.6,139.8 L387.4,140.4 L388.1,141.1 L388.9,141.7 L389.6,142.3 L390.4,143.0 L391.1,143.6 L391.9,144.2 L392.6,144.9 L393.4,145.5 L394.1,146.1 L394.9,146.8 L395.6,147.4 L396.4,148.0 L397.1,148.7 L397.9,149.3"/>
<path d="M219.4,164.1 L220.2,163.4 L220.9,162.8 L221.7,162.2 L222.4,161.5 L223.2,160.9 L223.9,160.3 L224.7,159.6 L225.4,159.0 L226.2,158.3 L226.9,157.7 L227.7,157.1 L228.4,156.4 L229.2,155.8 L229.9,155.2 L230.7,154.5 L231.4,153.9 L232.2,153.3 L232.9,152.6 L233.7,152.0 L234.4,151.4 L235.2,150.7 L235.9,150.1 L236.7,149.5 L237.4,148.8 L238.2,148.2 L238.9,147.6 L239.7,146.9 L240.4,146.3 L241.2,145.7 L241.9,145.0 L242.7,144.4 L243.4,143.8 L244.2,143.2 L244.9,142.5 L245.7,142.4 L246.4,143.0 L247.2,143.6 L247.9,144.2 L248.7,144.8 L249.4,145.3 L250.2,145.9 L250.9,146.5 L251.7,147.1 L252.4,147.7 L253.2,148.3 L253.9,148.8 L254.7,149.1 L255.4,148.6 L256.1,148.0 L256.9,147.4 L257.6,146.8 L258.4,146.2 L259.1,145.6 L259.9,145.0 L260.6,144.4 L261.4,143.8 L262.1,143.2 L262.9,142.7 L263.6,142.5 L264.4,142.8 L265.1,143.2 L265.9,143.8 L266.6,144.3 L267.4,144.9 L268.1,145.4 L268.9,146.0 L269.6,146.5 L270.4,147.0 L271.1,147.5 L271.9,147.9 L272.6,148.1 L273.4,148.0 L274.1,147.7 L274.9,147.2 L275.6,146.7 L276.4,146.2 L277.1,145.7 L277.9,145.2 L278.6,144.7 L279.4,144.2 L280.1,143.8 L280.9,143.5 L281.6,143.4 L282.4,143.4 L283.1,143.6 L283.9,143.8 L284.6,144.2 L285.4,144.6 L286.1,145.0 L286.9,145.4 L287.6,145.7 L288.4,146.1 L289.1,146.4 L289.9,146.6 L290.6,146.7 L291.4,146.7 L292.1,146.6 L292.9,146.4 L293.6,146.2 L294.4,145.9 L295.1,145.6 L295.9,145.3 L296.6,145.0 L297.4,144.7 L298.1,144.4 L298.9,144.2 L299.6,144.1 L300.4,144.0 L301.1,144.0 L301.9,144.0 L302.6,144.0 L303.4,144.1 L304.1,144.2 L304.9,144.4 L305.6,144.5 L306.4,144.6 L307.1,144.6 L307.9,144.7 L308.6,144.7 L309.4,144.7 L310.1,144.6 L310.9,144.5 L311.6,144.4 L312.4,144.3 L313.1,144.2 L313.9,144.1 L314.6,144.0 L315.4,144.0 L316.1,144.0 L316.9,144.0 L317.6,144.1 L318.4,144.3 L319.1,144.5 L319.9,144.8 L320.6,145.1 L321.4,145.4 L322.1,145.7 L322.9,146.0 L323.6,146.3 L324.4,146.5 L325.1,146.7 L325.9,146.7 L326.6,146.7 L327.4,146.5 L328.1,146.3 L328.9,145.9 L329.6,145.6 L330.4,145.2 L331.1,144.8 L331.9,144.4 L332.6,144.1 L333.4,143.7 L334.1,143.5 L334.9,143.4 L335.6,143.4 L336.4,143.6 L337.1,144.0 L337.9,144.4 L338.6,144.9 L339.4,145.4 L340.1,145.9 L340.9,146.4 L341.6,146.9 L342.4,147.4 L343.1,147.8 L343.9,148.1 L344.6,148.0 L345.4,147.8 L346.1,147.3 L346.9,146.8 L347.6,146.3 L348.4,145.8 L349.1,145.2 L349.9,144.6 L350.6,144.1 L351.4,143.5 L352.1,143.0 L352.9,142.6 L353.6,142.5 L354.4,142.9 L355.1,143.4 L355.9,144.0 L356.6,144.6 L357.4,145.2 L358.1,145.8 L358.9,146.4 L359.6,147.1 L360.4,147.7 L361.1,148.3 L361.9,148.9 L362.6,149.1 L363.4,148.6 L364.1,148.1 L364.9,147.5 L365.6,146.9 L366.4,146.3 L367.1,145.7 L367.9,145.1 L368.6,144.5 L369.4,143.9 L370.1,143.3 L370.9,142.7 L371.6,142.3 L372.4,142.8 L373.1,143.4 L373.9,144.0 L374.6,144.7 L375.4,145.3 L376.1,145.9 L376.9,146.6 L377.6,147.2 L378.4,147.8 L379.1,148.5 L379.9,149.1 L380.6,149.7 L381.4,150.4 L382.1,151.0 L382.9,151.6 L383.6,152.3 L384.4,152.9 L385.1,153.5 L385.9,154.2 L386.6,154.8 L387.4,155.4 L388.1,156.1 L388.9,156.7 L389.6,157.3 L390.4,158.0 L391.1,158.6 L391.9,159.2 L392.6,159.9 L393.4,160.5 L394.1,161.1 L394.9,161.8 L395.6,162.4 L396.4,163.0 L397.1,163.7 L397.9,164.3"/>
<path d="M219.4,179.1 L220.2,178.4 L220.9,177.8 L221.7,177.2 L222.4,176.5 L223.2,175.9 L223.9,175.2 L224.7,174.6 L225.4,174.0 L226.2,173.3 L226.9,172.7 L227.7,172.1 L228.4,171.4 L229.2,170.8 L229.9,170.2 L230.7,169.5 L231.4,168.9 L232.2,168.3 L232.9,167.6 L233.7,167.0 L234.4,166.4 L235.2,165.7 L235.9,165.1 L236.7,164.5 L237.4,163.8 L238.2,163.2 L238.9,162.6 L239.7,161.9 L240.4,161.3 L241.2,160.7 L241.9,160.0 L242.7,159.4 L243.4,158.8 L244.2,158.1 L244.9,157.5 L245.7,156.9 L246.4,156.3 L247.2,155.6 L247.9,155.0 L248.7,154.4 L249.4,153.7 L250.2,153.1 L250.9,152.5 L251.7,151.9 L252.4,151.2 L253.2,150.6 L253.9,150.0 L254.7,149.7 L255.4,150.2 L256.1,150.7 L256.9,151.3 L257.6,151.9 L258.4,152.5 L259.1,153.1 L259.9,153.7 L260.6,154.3 L261.4,154.8 L262.1,155.4 L262.9,155.9 L263.6,156.2 L264.4,156.0 L265.1,155.4 L265.9,154.9 L266.6,154.3 L267.4,153.7 L268.1,153.1 L268.9,152.5 L269.6,152.0 L270.4,151.4 L271.1,150.9 L271.9,150.5 L272.6,150.3 L273.4,150.4 L274.1,150.7 L274.9,151.1 L275.6,151.6 L276.4,152.1 L277.1,152.6 L277.9,153.1 L278.6,153.6 L279.4,154.0 L280.1,154.4 L280.9,154.7 L281.6,154.9 L282.4,154.9 L283.1,154.7 L283.9,154.4 L284.6,154.0 L285.4,153.6 L286.1,153.2 L286.9,152.8 L287.6,152.4 L288.4,152.0 L289.1,151.7 L289.9,151.5 L290.6,151.3 L291.4,151.3 L292.1,151.4 L292.9,151.5 L293.6,151.7 L294.4,152.0 L295.1,152.3 L295.9,152.6 L296.6,152.9 L297.4,153.1 L298.1,153.4 L298.9,153.6 L299.6,153.7 L300.4,153.8 L301.1,153.9 L301.9,153.9 L302.6,153.8 L303.4,153.7 L304.1,153.6 L304.9,153.5 L305.6,153.4 L306.4,153.3 L307.1,153.3 L307.9,153.2 L308.6,153.2 L309.4,153.2 L310.1,153.3 L310.9,153.4 L311.6,153.5 L312.4,153.6 L313.1,153.7 L313.9,153.8 L314.6,153.8 L315.4,153.9 L316.1,153.9 L316.9,153.8 L317.6,153.7 L318.4,153.5 L319.1,153.3 L319.9,153.0 L320.6,152.8 L321.4,152.5 L322.1,152.2 L322.9,151.9 L323.6,151.6 L324.4,151.4 L325.1,151.3 L325.9,151.3 L326.6,151.4 L327.4,151.5 L328.1,151.8 L328.9,152.1 L329.6,152.5 L330.4,152.9 L331.1,153.4 L331.9,153.8 L332.6,154.2 L333.4,154.5 L334.1,154.8 L334.9,154.9 L335.6,154.8 L336.4,154.6 L337.1,154.3 L337.9,153.8 L338.6,153.4 L339.4,152.9 L340.1,152.4 L340.9,151.9 L341.6,151.4 L342.4,150.9 L343.1,150.5 L343.9,150.3 L344.6,150.3 L345.4,150.7 L346.1,151.1 L346.9,151.6 L347.6,152.2 L348.4,152.8 L349.1,153.3 L349.9,153.9 L350.6,154.5 L351.4,155.1 L352.1,155.7 L352.9,156.1 L353.6,156.1 L354.4,155.7 L355.1,155.2 L355.9,154.6 L356.6,154.0 L357.4,153.4 L358.1,152.9 L358.9,152.3 L359.6,151.7 L360.4,151.1 L361.1,150.5 L361.9,150.0 L362.6,149.8 L363.4,150.3 L364.1,150.9 L364.9,151.5 L365.6,152.1 L366.4,152.7 L367.1,153.4 L367.9,154.0 L368.6,154.6 L369.4,155.2 L370.1,155.9 L370.9,156.5 L371.6,157.1 L372.4,157.8 L373.1,158.4 L373.9,159.0 L374.6,159.7 L375.4,160.3 L376.1,160.9 L376.9,161.6 L377.6,162.2 L378.4,162.8 L379.1,163.5 L379.9,164.1 L380.6,164.7 L381.4,165.4 L382.1,166.0 L382.9,166.6 L383.6,167.3 L384.4,167.9 L385.1,168.5 L385.9,169.2 L386.6,169.8 L387.4,170.4 L388.1,171.1 L388.9,171.7 L389.6,172.3 L390.4,173.0 L391.1,173.6 L391.9,174.2 L392.6,174.9 L393.4,175.5 L394.1,176.1 L394.9,176.8 L395.6,177.4 L396.4,178.0 L397.1,178.7 L397.9,179.3"/>
<path d="M219.4,194.1 L220.2,193.4 L220.9,192.8 L221.7,192.2 L222.4,191.5 L223.2,190.9 L223.9,190.2 L224.7,189.6 L225.4,189.0 L226.2,188.3 L226.9,187.7 L227.7,187.1 L228.4,186.4 L229.2,185.8 L229.9,185.2 L230.7,184.5 L231.4,183.9 L232.2,183.3 L232.9,182.6 L233.7,182.0 L234.4,181.4 L235.2,180.7 L235.9,180.1 L236.7,179.5 L237.4,178.8 L238.2,178.2 L238.9,177.6 L239.7,176.9 L240.4,176.3 L241.2,175.7 L241.9,175.0 L242.7,174.4 L243.4,173.8 L244.2,173.1 L244.9,172.5 L245.7,171.9 L246.4,171.3 L247.2,170.6 L247.9,170.0 L248.7,169.4 L249.4,168.7 L250.2,168.1 L250.9,167.5 L251.7,166.8 L252.4,166.2 L253.2,165.6 L253.9,165.0 L254.7,164.3 L255.4,163.7 L256.1,163.1 L256.9,162.4 L257.6,161.8 L258.4,161.2 L259.1,160.6 L259.9,160.0 L260.6,159.3 L261.4,158.7 L262.1,158.2 L262.9,157.6 L263.6,157.3 L264.4,157.5 L265.1,158.0 L265.9,158.5 L266.6,159.1 L267.4,159.7 L268.1,160.2 L268.9,160.8 L269.6,161.4 L270.4,161.9 L271.1,162.4 L271.9,162.8 L272.6,163.1 L273.4,163.1 L274.1,162.7 L274.9,162.3 L275.6,161.8 L276.4,161.2 L277.1,160.7 L277.9,160.2 L278.6,159.7 L279.4,159.2 L280.1,158.8 L280.9,158.5 L281.6,158.3 L282.4,158.2 L283.1,158.4 L283.9,158.7 L284.6,159.0 L285.4,159.4 L286.1,159.8 L286.9,160.3 L287.6,160.6 L288.4,161.0 L289.1,161.3 L289.9,161.5 L290.6,161.7 L291.4,161.7 L292.1,161.7 L292.9,161.5 L293.6,161.3 L294.4,161.0 L295.1,160.7 L295.9,160.4 L296.6,160.1 L297.4,159.8 L298.1,159.5 L298.9,159.3 L299.6,159.2 L300.4,159.1 L301.1,159.0 L301.9,159.0 L302.6,159.1 L303.4,159.2 L304.1,159.3 L304.9,159.4 L305.6,159.5 L306.4,159.6 L307.1,159.6 L307.9,159.7 L308.6,159.7 L309.4,159.6 L310.1,159.6 L310.9,159.5 L311.6,159.4 L312.4,159.3 L313.1,159.2 L313.9,159.1 L314.6,159.1 L315.4,159.0 L316.1,159.0 L316.9,159.1 L317.6,159.2 L318.4,159.4 L319.1,159.6 L319.9,159.9 L320.6,160.2 L321.4,160.5 L322.1,160.8 L322.9,161.1 L323.6,161.4 L324.4,161.6 L325.1,161.7 L325.9,161.7 L326.6,161.6 L327.4,161.5 L328.1,161.2 L328.9,160.9 L329.6,160.5 L330.4,160.1 L331.1,159.7 L331.9,159.3 L332.6,158.9 L333.4,158.6 L334.1,158.3 L334.9,158.2 L335.6,158.3 L336.4,158.6 L337.1,158.9 L337.9,159.4 L338.6,159.9 L339.4,160.4 L340.1,160.9 L340.9,161.5 L341.6,162.0 L342.4,162.5 L343.1,162.9 L343.9,163.1 L344.6,163.0 L345.4,162.7 L346.1,162.2 L346.9,161.7 L347.6,161.1 L348.4,160.6 L349.1,160.0 L349.9,159.4 L350.6,158.9 L351.4,158.3 L352.1,157.8 L352.9,157.4 L353.6,157.4 L354.4,157.8 L355.1,158.4 L355.9,159.0 L356.6,159.6 L357.4,160.2 L358.1,160.8 L358.9,161.4 L359.6,162.1 L360.4,162.7 L361.1,163.3 L361.9,163.9 L362.6,164.6 L363.4,165.2 L364.1,165.8 L364.9,166.5 L365.6,167.1 L366.4,167.7 L367.1,168.3 L367.9,169.0 L368.6,169.6 L369.4,170.2 L370.1,170.9 L370.9,171.5 L371.6,172.1 L372.4,172.8 L373.1,173.4 L373.9,174.0 L374.6,174.7 L375.4,175.3 L376.1,175.9 L376.9,176.6 L377.6,177.2 L378.4,177.8 L379.1,178.5 L379.9,179.1 L380.6,179.7 L381.4,180.4 L382.1,181.0 L382.9,181.6 L383.6,182.3 L384.4,182.9 L385.1,183.5 L385.9,184.2 L386.6,184.8 L387.4,185.4 L388.1,186.1 L388.9,186.7 L389.6,187.3 L390.4,188.0 L391.1,188.6 L391.9,189.2 L392.6,189.9 L393.4,190.5 L394.1,191.1 L394.9,191.8 L395.6,192.4 L396.4,193.0 L397.1,193.7 L397.9,194.3"/>
<path d="M219.4,209.1 L220.2,208.4 L220.9,207.8 L221.7,207.2 L222.4,206.5 L223.2,205.9 L223.9,205.2 L224.7,204.6 L225.4,204.0 L226.2,203.3 L226.9,202.7 L227.7,202.1 L228.4,201.4 L229.2,200.8 L229.9,200.2 L230.7,199.5 L231.4,198.9 L232.2,198.3 L232.9,197.6 L233.7,197.0 L234.4,196.4 L235.2,195.7 L235.9,195.1 L236.7,194.5 L237.4,193.8 L238.2,193.2 L238.9,192.6 L239.7,191.9 L240.4,191.3 L241.2,190.7 L241.9,190.0 L242.7,189.4 L243.4,188.8 L244.2,188.1 L244.9,187.5 L245.7,186.9 L246.4,186.2 L247.2,185.6 L247.9,185.0 L248.7,184.4 L249.4,183.7 L250.2,183.1 L250.9,182.5 L251.7,181.8 L252.4,181.2 L253.2,180.6 L253.9,179.9 L254.7,179.3 L255.4,178.7 L256.1,178.1 L256.9,177.4 L257.6,176.8 L258.4,176.2 L259.1,175.5 L259.9,174.9 L260.6,174.3 L261.4,173.7 L262.1,173.1 L262.9,172.4 L263.6,171.8 L264.4,171.2 L265.1,170.6 L265.9,170.0 L266.6,169.3 L267.4,168.7 L268.1,168.1 L268.9,167.5 L269.6,167.0 L270.4,166.4 L271.1,165.9 L271.9,165.4 L272.6,165.1 L273.4,165.1 L274.1,165.4 L274.9,165.9 L275.6,166.4 L276.4,166.9 L277.1,167.4 L277.9,167.9 L278.6,168.4 L279.4,168.9 L280.1,169.3 L280.9,169.7 L281.6,169.9 L282.4,170.0 L283.1,169.8 L283.9,169.5 L284.6,169.2 L285.4,168.8 L286.1,168.3 L286.9,167.9 L287.6,167.5 L288.4,167.1 L289.1,166.8 L289.9,166.5 L290.6,166.3 L291.4,166.3 L292.1,166.3 L292.9,166.5 L293.6,166.7 L294.4,166.9 L295.1,167.2 L295.9,167.5 L296.6,167.8 L297.4,168.1 L298.1,168.3 L298.9,168.5 L299.6,168.7 L300.4,168.8 L301.1,168.8 L301.9,168.9 L302.6,168.8 L303.4,168.8 L304.1,168.7 L304.9,168.6 L305.6,168.5 L306.4,168.4 L307.1,168.4 L307.9,168.3 L308.6,168.3 L309.4,168.3 L310.1,168.4 L310.9,168.4 L311.6,168.5 L312.4,168.6 L313.1,168.7 L313.9,168.8 L314.6,168.8 L315.4,168.9 L316.1,168.8 L316.9,168.8 L317.6,168.6 L318.4,168.4 L319.1,168.2 L319.9,168.0 L320.6,167.7 L321.4,167.4 L322.1,167.1 L322.9,166.8 L323.6,166.6 L324.4,166.4 L325.1,166.3 L325.9,166.3 L326.6,166.4 L327.4,166.6 L328.1,166.9 L328.9,167.2 L329.6,167.6 L330.4,168.1 L331.1,168.5 L331.9,168.9 L332.6,169.3 L333.4,169.7 L334.1,169.9 L334.9,170.0 L335.6,169.9 L336.4,169.6 L337.1,169.2 L337.9,168.7 L338.6,168.2 L339.4,167.7 L340.1,167.2 L340.9,166.7 L341.6,166.2 L342.4,165.7 L343.1,165.3 L343.9,165.1 L344.6,165.2 L345.4,165.6 L346.1,166.1 L346.9,166.6 L347.6,167.2 L348.4,167.8 L349.1,168.4 L349.9,169.0 L350.6,169.6 L351.4,170.2 L352.1,170.8 L352.9,171.4 L353.6,172.1 L354.4,172.7 L355.1,173.3 L355.9,173.9 L356.6,174.5 L357.4,175.2 L358.1,175.8 L358.9,176.4 L359.6,177.1 L360.4,177.7 L361.1,178.3 L361.9,178.9 L362.6,179.6 L363.4,180.2 L364.1,180.8 L364.9,181.5 L365.6,182.1 L366.4,182.7 L367.1,183.3 L367.9,184.0 L368.6,184.6 L369.4,185.2 L370.1,185.9 L370.9,186.5 L371.6,187.1 L372.4,187.8 L373.1,188.4 L373.9,189.0 L374.6,189.7 L375.4,190.3 L376.1,190.9 L376.9,191.6 L377.6,192.2 L378.4,192.8 L379.1,193.5 L379.9,194.1 L380.6,194.7 L381.4,195.4 L382.1,196.0 L382.9,196.6 L383.6,197.3 L384.4,197.9 L385.1,198.5 L385.9,199.2 L386.6,199.8 L387.4,200.4 L388.1,201.1 L388.9,201.7 L389.6,202.3 L390.4,203.0 L391.1,203.6 L391.9,204.2 L392.6,204.9 L393.4,205.5 L394.1,206.1 L394.9,206.8 L395.6,207.4 L396.4,208.0 L397.1,208.7 L397.9,209.3"/>
<path d="M219.4,224.1 L220.2,223.4 L220.9,222.8 L221.7,222.2 L222.4,221.5 L223.2,220.9 L223.9,220.2 L224.7,219.6 L225.4,219.0 L226.2,218.3 L226.9,217.7 L227.7,217.1 L228.4,216.4 L229.2,215.8 L229.9,215.2 L230.7,214.5 L231.4,213.9 L232.2,213.3 L232.9,212.6 L233.7,212.0 L234.4,211.4 L235.2,210.7 L235.9,210.1 L236.7,209.5 L237.4,208.8 L238.2,208.2 L238.9,207.6 L239.7,206.9 L240.4,206.3 L241.2,205.7 L241.9,205.0 L242.7,204.4 L243.4,203.8 L244.2,203.1 L244.9,202.5 L245.7,201.9 L246.4,201.2 L247.2,200.6 L247.9,200.0 L248.7,199.4 L249.4,198.7 L250.2,198.1 L250.9,197.5 L251.7,196.8 L252.4,196.2 L253.2,195.6 L253.9,194.9 L254.7,194.3 L255.4,193.7 L256.1,193.0 L256.9,192.4 L257.6,191.8 L258.4,191.2 L259.1,190.5 L259.9,189.9 L260.6,189.3 L261.4,188.7 L262.1,188.0 L262.9,187.4 L263.6,186.8 L264.4,186.2 L265.1,185.5 L265.9,184.9 L266.6,184.3 L267.4,183.7 L268.1,183.1 L268.9,182.4 L269.6,181.8 L270.4,181.2 L271.1,180.6 L271.9,180.0 L272.6,179.4 L273.4,178.8 L274.1,178.2 L274.9,177.6 L275.6,177.0 L276.4,176.4 L277.1,175.9 L277.9,175.3 L278.6,174.8 L279.4,174.3 L280.1,173.8 L280.9,173.5 L281.6,173.2 L282.4,173.1 L283.1,173.3 L283.9,173.5 L284.6,173.9 L285.4,174.3 L286.1,174.7 L286.9,175.1 L287.6,175.5 L288.4,175.9 L289.1,176.2 L289.9,176.5 L290.6,176.7 L291.4,176.8 L292.1,176.8 L292.9,176.6 L293.6,176.4 L294.4,176.2 L295.1,175.9 L295.9,175.6 L296.6,175.3 L297.4,175.0 L298.1,174.8 L298.9,174.6 L299.6,174.4 L300.4,174.3 L301.1,174.2 L301.9,174.2 L302.6,174.2 L303.4,174.3 L304.1,174.4 L304.9,174.5 L305.6,174.6 L306.4,174.6 L307.1,174.7 L307.9,174.7 L308.6,174.7 L309.4,174.7 L310.1,174.7 L310.9,174.6 L311.6,174.5 L312.4,174.4 L313.1,174.3 L313.9,174.3 L314.6,174.2 L315.4,174.2 L316.1,174.2 L316.9,174.3 L317.6,174.5 L318.4,174.6 L319.1,174.9 L319.9,175.1 L320.6,175.4 L321.4,175.7 L322.1,176.0 L322.9,176.3 L323.6,176.5 L324.4,176.7 L325.1,176.8 L325.9,176.8 L326.6,176.6 L327.4,176.4 L328.1,176.1 L328.9,175.8 L329.6,175.4 L330.4,175.0 L331.1,174.5 L331.9,174.1 L332.6,173.7 L333.4,173.4 L334.1,173.2 L334.9,173.1 L335.6,173.3 L336.4,173.6 L337.1,174.0 L337.9,174.5 L338.6,175.0 L339.4,175.5 L340.1,176.1 L340.9,176.7 L341.6,177.2 L342.4,177.8 L343.1,178.4 L343.9,179.0 L344.6,179.6 L345.4,180.2 L346.1,180.8 L346.9,181.5 L347.6,182.1 L348.4,182.7 L349.1,183.3 L349.9,183.9 L350.6,184.5 L351.4,185.2 L352.1,185.8 L352.9,186.4 L353.6,187.0 L354.4,187.7 L355.1,188.3 L355.9,188.9 L356.6,189.5 L357.4,190.2 L358.1,190.8 L358.9,191.4 L359.6,192.0 L360.4,192.7 L361.1,193.3 L361.9,193.9 L362.6,194.6 L363.4,195.2 L364.1,195.8 L364.9,196.5 L365.6,197.1 L366.4,197.7 L367.1,198.3 L367.9,199.0 L368.6,199.6 L369.4,200.2 L370.1,200.9 L370.9,201.5 L371.6,202.1 L372.4,202.8 L373.1,203.4 L373.9,204.0 L374.6,204.7 L375.4,205.3 L376.1,205.9 L376.9,206.6 L377.6,207.2 L378.4,207.8 L379.1,208.5 L379.9,209.1 L380.6,209.7 L381.4,210.4 L382.1,211.0 L382.9,211.6 L383.6,212.3 L384.4,212.9 L385.1,213.5 L385.9,214.2 L386.6,214.8 L387.4,215.4 L388.1,216.1 L388.9,216.7 L389.6,217.3 L390.4,218.0 L391.1,218.6 L391.9,219.2 L392.6,219.9 L393.4,220.5 L394.1,221.1 L394.9,221.8 L395.6,222.4 L396.4,223.0 L397.1,223.7 L397.9,224.3"/>
<path d="M219.4,239.1 L220.2,238.4 L220.9,237.8 L221.7,237.2 L222.4,236.5 L223.2,235.9 L223.9,235.2 L224.7,234.6 L225.4,234.0 L226.2,233.3 L226.9,232.7 L227.7,232.1 L228.4,231.4 L229.2,230.8 L229.9,230.2 L230.7,229.5 L231.4,228.9 L232.2,228.3 L232.9,227.6 L233.7,227.0 L234.4,226.4 L235.2,225.7 L235.9,225.1 L236.7,224.5 L237.4,223.8 L238.2,223.2 L238.9,222.6 L239.7,221.9 L240.4,221.3 L241.2,220.7 L241.9,220.0 L242.7,219.4 L243.4,218.8 L244.2,218.1 L244.9,217.5 L245.7,216.9 L246.4,216.2 L247.2,215.6 L247.9,215.0 L248.7,214.4 L249.4,213.7 L250.2,213.1 L250.9,212.5 L251.7,211.8 L252.4,211.2 L253.2,210.6 L253.9,209.9 L254.7,209.3 L255.4,208.7 L256.1,208.0 L256.9,207.4 L257.6,206.8 L258.4,206.2 L259.1,205.5 L259.9,204.9 L260.6,204.3 L261.4,203.6 L262.1,203.0 L262.9,202.4 L263.6,201.8 L264.4,201.1 L265.1,200.5 L265.9,199.9 L266.6,199.3 L267.4,198.6 L268.1,198.0 L268.9,197.4 L269.6,196.8 L270.4,196.2 L271.1,195.5 L271.9,194.9 L272.6,194.3 L273.4,193.7 L274.1,193.1 L274.9,192.5 L275.6,191.9 L276.4,191.3 L277.1,190.7 L277.9,190.1 L278.6,189.5 L279.4,188.9 L280.1,188.3 L280.9,187.7 L281.6,187.1 L282.4,186.6 L283.1,186.0 L283.9,185.4 L284.6,184.9 L285.4,184.4 L286.1,183.9 L286.9,183.4 L287.6,182.9 L288.4,182.5 L289.1,182.1 L289.9,181.8 L290.6,181.6 L291.4,181.5 L292.1,181.4 L292.9,181.5 L293.6,181.7 L294.4,181.9 L295.1,182.2 L295.9,182.5 L296.6,182.7 L297.4,183.0 L298.1,183.2 L298.9,183.4 L299.6,183.6 L300.4,183.7 L301.1,183.8 L301.9,183.9 L302.6,183.8 L303.4,183.8 L304.1,183.8 L304.9,183.7 L305.6,183.6 L306.4,183.6 L307.1,183.5 L307.9,183.5 L308.6,183.5 L309.4,183.5 L310.1,183.5 L310.9,183.6 L311.6,183.7 L312.4,183.7 L313.1,183.8 L313.9,183.8 L314.6,183.9 L315.4,183.8 L316.1,183.8 L316.9,183.7 L317.6,183.6 L318.4,183.4 L319.1,183.2 L319.9,182.9 L320.6,182.6 L321.4,182.4 L322.1,182.1 L322.9,181.8 L323.6,181.6 L324.4,181.5 L325.1,181.4 L325.9,181.5 L326.6,181.7 L327.4,181.9 L328.1,182.2 L328.9,182.6 L329.6,183.1 L330.4,183.6 L331.1,184.1 L331.9,184.6 L332.6,185.1 L333.4,185.7 L334.1,186.2 L334.9,186.8 L335.6,187.4 L336.4,187.9 L337.1,188.5 L337.9,189.1 L338.6,189.7 L339.4,190.3 L340.1,190.9 L340.9,191.5 L341.6,192.1 L342.4,192.7 L343.1,193.3 L343.9,193.9 L344.6,194.6 L345.4,195.2 L346.1,195.8 L346.9,196.4 L347.6,197.0 L348.4,197.7 L349.1,198.3 L349.9,198.9 L350.6,199.5 L351.4,200.1 L352.1,200.8 L352.9,201.4 L353.6,202.0 L354.4,202.6 L355.1,203.3 L355.9,203.9 L356.6,204.5 L357.4,205.2 L358.1,205.8 L358.9,206.4 L359.6,207.0 L360.4,207.7 L361.1,208.3 L361.9,208.9 L362.6,209.6 L363.4,210.2 L364.1,210.8 L364.9,211.4 L365.6,212.1 L366.4,212.7 L367.1,213.3 L367.9,214.0 L368.6,214.6 L369.4,215.2 L370.1,215.9 L370.9,216.5 L371.6,217.1 L372.4,217.8 L373.1,218.4 L373.9,219.0 L374.6,219.7 L375.4,220.3 L376.1,220.9 L376.9,221.6 L377.6,222.2 L378.4,222.8 L379.1,223.5 L379.9,224.1 L380.6,224.7 L381.4,225.4 L382.1,226.0 L382.9,226.6 L383.6,227.3 L384.4,227.9 L385.1,228.5 L385.9,229.2 L386.6,229.8 L387.4,230.4 L388.1,231.1 L388.9,231.7 L389.6,232.3 L390.4,233.0 L391.1,233.6 L391.9,234.2 L392.6,234.9 L393.4,235.5 L394.1,236.1 L394.9,236.8 L395.6,237.4 L396.4,238.0 L397.1,238.7 L397.9,239.3"/>
<path d="M219.4,254.1 L220.2,253.4 L220.9,252.8 L221.7,252.2 L222.4,251.5 L223.2,250.9 L223.9,250.2 L224.7,249.6 L225.4,249.0 L226.2,248.3 L226.9,247.7 L227.7,247.1 L228.4,246.4 L229.2,245.8 L229.9,245.2 L230.7,244.5 L231.4,243.9 L232.2,243.3 L232.9,242.6 L233.7,242.0 L234.4,241.4 L235.2,240.7 L235.9,240.1 L236.7,239.5 L237.4,238.8 L238.2,238.2 L238.9,237.6 L239.7,236.9 L240.4,236.3 L241.2,235.7 L241.9,235.0 L242.7,234.4 L243.4,233.8 L244.2,233.1 L244.9,232.5 L245.7,231.9 L246.4,231.2 L247.2,230.6 L247.9,230.0 L248.7,229.4 L249.4,228.7 L250.2,228.1 L250.9,227.5 L251.7,226.8 L252.4,226.2 L253.2,225.6 L253.9,224.9 L254.7,224.3 L255.4,223.7 L256.1,223.0 L256.9,222.4 L257.6,221.8 L258.4,221.2 L259.1,220.5 L259.9,219.9 L260.6,219.3 L261.4,218.6 L262.1,218.0 L262.9,217.4 L263.6,216.8 L264.4,216.1 L265.1,215.5 L265.9,214.9 L266.6,214.3 L267.4,213.6 L268.1,213.0 L268.9,212.4 L269.6,211.8 L270.4,211.1 L271.1,210.5 L271.9,209.9 L272.6,209.3 L273.4,208.7 L274.1,208.1 L274.9,207.4 L275.6,206.8 L276.4,206.2 L277.1,205.6 L277.9,205.0 L278.6,204.4 L279.4,203.8 L280.1,203.2 L280.9,202.6 L281.6,202.0 L282.4,201.4 L283.1,200.8 L283.9,200.2 L284.6,199.6 L285.4,199.0 L286.1,198.5 L286.9,197.9 L287.6,197.3 L288.4,196.8 L289.1,196.2 L289.9,195.7 L290.6,195.1 L291.4,194.6 L292.1,194.1 L292.9,193.6 L293.6,193.1 L294.4,192.6 L295.1,192.2 L295.9,191.8 L296.6,191.4 L297.4,191.0 L298.1,190.7 L298.9,190.4 L299.6,190.2 L300.4,190.0 L301.1,189.9 L301.9,189.8 L302.6,189.8 L303.4,189.8 L304.1,189.9 L304.9,189.9 L305.6,190.0 L306.4,190.0 L307.1,190.0 L307.9,190.1 L308.6,190.1 L309.4,190.1 L310.1,190.0 L310.9,190.0 L311.6,189.9 L312.4,189.9 L313.1,189.8 L313.9,189.8 L314.6,189.8 L315.4,189.9 L316.1,190.0 L316.9,190.1 L317.6,190.3 L318.4,190.5 L319.1,190.8 L319.9,191.2 L320.6,191.5 L321.4,192.0 L322.1,192.4 L322.9,192.8 L323.6,193.3 L324.4,193.8 L325.1,194.3 L325.9,194.8 L326.6,195.3 L327.4,195.9 L328.1,196.4 L328.9,197.0 L329.6,197.5 L330.4,198.1 L331.1,198.7 L331.9,199.3 L332.6,199.8 L333.4,200.4 L334.1,201.0 L334.9,201.6 L335.6,202.2 L336.4,202.8 L337.1,203.4 L337.9,204.0 L338.6,204.6 L339.4,205.2 L340.1,205.8 L340.9,206.5 L341.6,207.1 L342.4,207.7 L343.1,208.3 L343.9,208.9 L344.6,209.5 L345.4,210.2 L346.1,210.8 L346.9,211.4 L347.6,212.0 L348.4,212.6 L349.1,213.3 L349.9,213.9 L350.6,214.5 L351.4,215.1 L352.1,215.8 L352.9,216.4 L353.6,217.0 L354.4,217.6 L355.1,218.3 L355.9,218.9 L356.6,219.5 L357.4,220.2 L358.1,220.8 L358.9,221.4 L359.6,222.0 L360.4,222.7 L361.1,223.3 L361.9,223.9 L362.6,224.6 L363.4,225.2 L364.1,225.8 L364.9,226.4 L365.6,227.1 L366.4,227.7 L367.1,228.3 L367.9,229.0 L368.6,229.6 L369.4,230.2 L370.1,230.9 L370.9,231.5 L371.6,232.1 L372.4,232.8 L373.1,233.4 L373.9,234.0 L374.6,234.7 L375.4,235.3 L376.1,235.9 L376.9,236.6 L377.6,237.2 L378.4,237.8 L379.1,238.5 L379.9,239.1 L380.6,239.7 L381.4,240.4 L382.1,241.0 L382.9,241.6 L383.6,242.3 L384.4,242.9 L385.1,243.5 L385.9,244.2 L386.6,244.8 L387.4,245.4 L388.1,246.1 L388.9,246.7 L389.6,247.3 L390.4,248.0 L391.1,248.6 L391.9,249.2 L392.6,249.9 L393.4,250.5 L394.1,251.1 L394.9,251.8 L395.6,252.4 L396.4,253.0 L397.1,253.7 L397.9,254.3"/>
<path d="M219.4,269.1 L220.2,268.4 L220.9,267.8 L221.7,267.2 L222.4,266.5 L223.2,265.9 L223.9,265.2 L224.7,264.6 L225.4,264.0 L226.2,263.3 L226.9,262.7 L227.7,262.1 L228.4,261.4 L229.2,260.8 L229.9,260.2 L230.7,259.5 L231.4,258.9 L232.2,258.3 L232.9,257.6 L233.7,257.0 L234.4,256.4 L235.2,255.7 L235.9,255.1 L236.7,254.5 L237.4,253.8 L238.2,253.2 L238.9,252.6 L239.7,251.9 L240.4,251.3 L241.2,250.7 L241.9,250.0 L242.7,249.4 L243.4,248.8 L244.2,248.1 L244.9,247.5 L245.7,246.9 L246.4,246.2 L247.2,245.6 L247.9,245.0 L248.7,244.4 L249.4,243.7 L250.2,243.1 L250.9,242.5 L251.7,241.8 L252.4,241.2 L253.2,240.6 L253.9,239.9 L254.7,239.3 L255.4,238.7 L256.1,238.0 L256.9,237.4 L257.6,236.8 L258.4,236.2 L259.1,235.5 L259.9,234.9 L260.6,234.3 L261.4,233.6 L262.1,233.0 L262.9,232.4 L263.6,231.8 L264.4,231.1 L265.1,230.5 L265.9,229.9 L266.6,229.3 L267.4,228.6 L268.1,228.0 L268.9,227.4 L269.6,226.8 L270.4,226.1 L271.1,225.5 L271.9,224.9 L272.6,224.3 L273.4,223.7 L274.1,223.0 L274.9,222.4 L275.6,221.8 L276.4,221.2 L277.1,220.6 L277.9,220.0 L278.6,219.3 L279.4,218.7 L280.1,218.1 L280.9,217.5 L281.6,216.9 L282.4,216.3 L283.1,215.7 L283.9,215.1 L284.6,214.5 L285.4,213.9 L286.1,213.3 L286.9,212.7 L287.6,212.1 L288.4,211.6 L289.1,211.0 L289.9,210.4 L290.6,209.8 L291.4,209.3 L292.1,208.7 L292.9,208.2 L293.6,207.6 L294.4,207.1 L295.1,206.6 L295.9,206.1 L296.6,205.6 L297.4,205.1 L298.1,204.6 L298.9,204.1 L299.6,203.7 L300.4,203.3 L301.1,202.9 L301.9,202.5 L302.6,202.1 L303.4,201.8 L304.1,201.5 L304.9,201.3 L305.6,201.1 L306.4,200.9 L307.1,200.8 L307.9,200.8 L308.6,200.8 L309.4,200.8 L310.1,200.9 L310.9,201.0 L311.6,201.2 L312.4,201.4 L313.1,201.6 L313.9,201.9 L314.6,202.3 L315.4,202.6 L316.1,203.0 L316.9,203.4 L317.6,203.9 L318.4,204.3 L319.1,204.8 L319.9,205.3 L320.6,205.8 L321.4,206.3 L322.1,206.8 L322.9,207.3 L323.6,207.8 L324.4,208.4 L325.1,208.9 L325.9,209.5 L326.6,210.1 L327.4,210.6 L328.1,211.2 L328.9,211.8 L329.6,212.4 L330.4,213.0 L331.1,213.6 L331.9,214.1 L332.6,214.7 L333.4,215.3 L334.1,215.9 L334.9,216.5 L335.6,217.1 L336.4,217.8 L337.1,218.4 L337.9,219.0 L338.6,219.6 L339.4,220.2 L340.1,220.8 L340.9,221.4 L341.6,222.0 L342.4,222.7 L343.1,223.3 L343.9,223.9 L344.6,224.5 L345.4,225.1 L346.1,225.8 L346.9,226.4 L347.6,227.0 L348.4,227.6 L349.1,228.3 L349.9,228.9 L350.6,229.5 L351.4,230.1 L352.1,230.8 L352.9,231.4 L353.6,232.0 L354.4,232.6 L355.1,233.3 L355.9,233.9 L356.6,234.5 L357.4,235.2 L358.1,235.8 L358.9,236.4 L359.6,237.0 L360.4,237.7 L361.1,238.3 L361.9,238.9 L362.6,239.6 L363.4,240.2 L364.1,240.8 L364.9,241.4 L365.6,242.1 L366.4,242.7 L367.1,243.3 L367.9,244.0 L368.6,244.6 L369.4,245.2 L370.1,245.9 L370.9,246.5 L371.6,247.1 L372.4,247.8 L373.1,248.4 L373.9,249.0 L374.6,249.7 L375.4,250.3 L376.1,250.9 L376.9,251.6 L377.6,252.2 L378.4,252.8 L379.1,253.5 L379.9,254.1 L380.6,254.7 L381.4,255.4 L382.1,256.0 L382.9,256.6 L383.6,257.3 L384.4,257.9 L385.1,258.5 L385.9,259.2 L386.6,259.8 L387.4,260.4 L388.1,261.1 L388.9,261.7 L389.6,262.3 L390.4,263.0 L391.1,263.6 L391.9,264.2 L392.6,264.9 L393.4,265.5 L394.1,266.1 L394.9,266.8 L395.6,267.4 L396.4,268.0 L397.1,268.7 L397.9,269.3"/>
<path d="M219.4,284.1 L220.2,283.4 L220.9,282.8 L221.7,282.2 L222.4,281.5 L223.2,280.9 L223.9,280.2 L224.7,279.6 L225.4,279.0 L226.2,278.3 L226.9,277.7 L227.7,277.1 L228.4,276.4 L229.2,275.8 L229.9,275.2 L230.7,274.5 L231.4,273.9 L232.2,273.3 L232.9,272.6 L233.7,272.0 L234.4,271.4 L235.2,270.7 L235.9,270.1 L236.7,269.5 L237.4,268.8 L238.2,268.2 L238.9,267.6 L239.7,266.9 L240.4,266.3 L241.2,265.7 L241.9,265.0 L242.7,264.4 L243.4,263.8 L244.2,263.1 L244.9,262.5 L245.7,261.9 L246.4,261.2 L247.2,260.6 L247.9,260.0 L248.7,259.4 L249.4,258.7 L250.2,258.1 L250.9,257.5 L251.7,256.8 L252.4,256.2 L253.2,255.6 L253.9,254.9 L254.7,254.3 L255.4,253.7 L256.1,253.0 L256.9,252.4 L257.6,251.8 L258.4,251.2 L259.1,250.5 L259.9,249.9 L260.6,249.3 L261.4,248.6 L262.1,248.0 L262.9,247.4 L263.6,246.8 L264.4,246.1 L265.1,245.5 L265.9,244.9 L266.6,244.3 L267.4,243.6 L268.1,243.0 L268.9,242.4 L269.6,241.8 L270.4,241.1 L271.1,240.5 L271.9,239.9 L272.6,239.3 L273.4,238.6 L274.1,238.0 L274.9,237.4 L275.6,236.8 L276.4,236.2 L277.1,235.6 L277.9,234.9 L278.6,234.3 L279.4,233.7 L280.1,233.1 L280.9,232.5 L281.6,231.9 L282.4,231.3 L283.1,230.7 L283.9,230.1 L284.6,229.4 L285.4,228.8 L286.1,228.2 L286.9,227.6 L287.6,227.1 L288.4,226.5 L289.1,225.9 L289.9,225.3 L290.6,224.7 L291.4,224.1 L292.1,223.6 L292.9,223.0 L293.6,222.4 L294.4,221.9 L295.1,221.3 L295.9,220.8 L296.6,220.3 L297.4,219.7 L298.1,219.2 L298.9,218.8 L299.6,218.3 L300.4,217.8 L301.1,217.4 L301.9,217.0 L302.6,216.6 L303.4,216.2 L304.1,215.9 L304.9,215.6 L305.6,215.4 L306.4,215.2 L307.1,215.1 L307.9,215.0 L308.6,215.0 L309.4,215.0 L310.1,215.1 L310.9,215.3 L311.6,215.5 L312.4,215.7 L313.1,216.0 L313.9,216.4 L314.6,216.7 L315.4,217.1 L316.1,217.6 L316.9,218.0 L317.6,218.5 L318.4,218.9 L319.1,219.4 L319.9,220.0 L320.6,220.5 L321.4,221.0 L322.1,221.6 L322.9,222.1 L323.6,222.7 L324.4,223.2 L325.1,223.8 L325.9,224.4 L326.6,224.9 L327.4,225.5 L328.1,226.1 L328.9,226.7 L329.6,227.3 L330.4,227.9 L331.1,228.5 L331.9,229.1 L332.6,229.7 L333.4,230.3 L334.1,230.9 L334.9,231.5 L335.6,232.1 L336.4,232.7 L337.1,233.3 L337.9,234.0 L338.6,234.6 L339.4,235.2 L340.1,235.8 L340.9,236.4 L341.6,237.0 L342.4,237.7 L343.1,238.3 L343.9,238.9 L344.6,239.5 L345.4,240.1 L346.1,240.8 L346.9,241.4 L347.6,242.0 L348.4,242.6 L349.1,243.3 L349.9,243.9 L350.6,244.5 L351.4,245.1 L352.1,245.8 L352.9,246.4 L353.6,247.0 L354.4,247.6 L355.1,248.3 L355.9,248.9 L356.6,249.5 L357.4,250.2 L358.1,250.8 L358.9,251.4 L359.6,252.0 L360.4,252.7 L361.1,253.3 L361.9,253.9 L362.6,254.6 L363.4,255.2 L364.1,255.8 L364.9,256.4 L365.6,257.1 L366.4,257.7 L367.1,258.3 L367.9,259.0 L368.6,259.6 L369.4,260.2 L370.1,260.9 L370.9,261.5 L371.6,262.1 L372.4,262.8 L373.1,263.4 L373.9,264.0 L374.6,264.7 L375.4,265.3 L376.1,265.9 L376.9,266.6 L377.6,267.2 L378.4,267.8 L379.1,268.5 L379.9,269.1 L380.6,269.7 L381.4,270.4 L382.1,271.0 L382.9,271.6 L383.6,272.3 L384.4,272.9 L385.1,273.5 L385.9,274.2 L386.6,274.8 L387.4,275.4 L388.1,276.1 L388.9,276.7 L389.6,277.3 L390.4,278.0 L391.1,278.6 L391.9,279.2 L392.6,279.9 L393.4,280.5 L394.1,281.1 L394.9,281.8 L395.6,282.4 L396.4,283.0 L397.1,283.7 L397.9,284.3"/>
</g>
<path d="M221.40,269.20 v-6.3 M221.40,20.60 v6.3 M243.19,269.20 v-6.3 M243.19,20.60 v6.3 M264.98,269.20 v-6.3 M264.98,20.60 v6.3 M286.76,269.20 v-6.3 M286.76,20.60 v6.3 M308.55,269.20 v-6.3 M308.55,20.60 v6.3 M330.34,269.20 v-6.3 M330.34,20.60 v6.3 M352.12,269.20 v-6.3 M352.12,20.60 v6.3 M373.91,269.20 v-6.3 M373.91,20.60 v6.3 M395.70,269.20 v-6.3 M395.70,20.60 v6.3 M221.40,20.60 h6.3 M395.70,20.60 h-6.3 M221.40,56.11 h6.3 M395.70,56.11 h-6.3 M221.40,91.63 h6.3 M395.70,91.63 h-6.3 M221.40,127.14 h6.3 M395.70,127.14 h-6.3 M221.40,162.66 h6.3 M395.70,162.66 h-6.3 M221.40,198.17 h6.3 M395.70,198.17 h-6.3 M221.40,233.69 h6.3 M395.70,233.69 h-6.3 M221.40,269.20 h6.3 M395.70,269.20 h-6.3" stroke="#222" stroke-width="1.2" fill="none"/>
<rect x="221.40" y="20.60" width="174.30" height="248.60" fill="none" stroke="#222" stroke-width="1.3"/>
<text x="212.00" y="24.90" font-size="17.5" text-anchor="end" >-3</text>
<text x="212.00" y="95.93" font-size="17.5" text-anchor="end" >-4</text>
<text x="212.00" y="166.96" font-size="17.5" text-anchor="end" >-5</text>
<text x="212.00" y="237.99" font-size="17.5" text-anchor="end" >-6</text>
<text x="219.80" y="289.60" font-size="17.5" text-anchor="middle" >-0.2</text>
<text x="263.38" y="289.60" font-size="17.5" text-anchor="middle" >-0.1</text>
<text x="308.55" y="289.60" font-size="17.5" text-anchor="middle" >0</text>
<text x="354.02" y="289.60" font-size="17.5" text-anchor="middle" >0.1</text>
<text x="397.60" y="289.60" font-size="17.5" text-anchor="middle" >0.2</text>
<text x="273.65" y="315.3" font-size="19.5" font-style="italic">k</text>
<text x="283.95" y="319.6" font-size="13.5">∥</text>
<text x="298.95" y="315.3" font-size="19.5">[</text>
<text x="303.55" y="315.3" font-size="20" transform="translate(303.55,0) scale(1.04,1) translate(-303.55,0)">Å</text>
<text x="318.95" y="309.4" font-size="16">−</text>
<text x="329.95" y="309.4" font-size="14.5">1</text>
<text x="338.15" y="315.3" font-size="19.5">]</text>
<text transform="translate(187.40,150.40) rotate(-90)" font-size="20.2" text-anchor="middle"><tspan font-style="italic">E</tspan> − <tspan font-style="italic">ω</tspan> [eV]</text>
<text x="308.80" y="13.30" font-size="20.5" text-anchor="middle" >K</text>
<defs><linearGradient id="cbg401_0" x1="0" y1="0" x2="0" y2="1"><stop offset="0" stop-color="#000000"/><stop offset="1" stop-color="#0c3a50"/></linearGradient></defs>
<rect x="401.50" y="20.60" width="8.70" height="50.02" fill="url(#cbg401_0)"/>
<defs><linearGradient id="cbg401_1" x1="0" y1="0" x2="0" y2="1"><stop offset="0" stop-color="#0e4560"/><stop offset="1" stop-color="#1d7f97"/></linearGradient></defs>
<rect x="401.50" y="70.32" width="8.70" height="50.02" fill="url(#cbg401_1)"/>
<line x1="401.50" x2="410.20" y1="70.32" y2="70.32" stroke="#12333b" stroke-opacity="1" stroke-width="1.0"/>
<defs><linearGradient id="cbg401_2" x1="0" y1="0" x2="0" y2="1"><stop offset="0" stop-color="#2a8fa0"/><stop offset="1" stop-color="#57c3b6"/></linearGradient></defs>
<rect x="401.50" y="120.04" width="8.70" height="50.02" fill="url(#cbg401_2)"/>
<line x1="401.50" x2="410.20" y1="120.04" y2="120.04" stroke="#12333b" stroke-opacity="1" stroke-width="1.0"/>
<defs><linearGradient id="cbg401_3" x1="0" y1="0" x2="0" y2="1"><stop offset="0" stop-color="#6fcbbd"/><stop offset="1" stop-color="#b2e6dc"/></linearGradient></defs>
<rect x="401.50" y="169.76" width="8.70" height="50.02" fill="url(#cbg401_3)"/>
<line x1="401.50" x2="410.20" y1="169.76" y2="169.76" stroke="#12333b" stroke-opacity="1" stroke-width="1.0"/>
<defs><linearGradient id="cbg401_4" x1="0" y1="0" x2="0" y2="1"><stop offset="0" stop-color="#bfebe3"/><stop offset="1" stop-color="#f4fcfb"/></linearGradient></defs>
<rect x="401.50" y="219.48" width="8.70" height="50.02" fill="url(#cbg401_4)"/>
<line x1="401.50" x2="410.20" y1="219.48" y2="219.48" stroke="#12333b" stroke-opacity="1" stroke-width="1.0"/>
<rect x="401.50" y="20.60" width="8.70" height="248.60" fill="none" stroke="#333" stroke-width="1"/>
<text x="415.50" y="24.80" font-size="17.5" text-anchor="start" >0.05</text>
<text x="415.50" y="273.70" font-size="17.5" text-anchor="start" >0</text>
<text transform="translate(422.20,134.70) rotate(90)" font-size="21.3" text-anchor="middle">Intensity [arb.u.]</text>
<defs><radialGradient id="fadeB" gradientUnits="userSpaceOnUse" cx="564.4" cy="154.1" r="88"><stop offset="0" stop-color="#fff"/><stop offset="0.5" stop-color="#fff"/><stop offset="0.78" stop-color="#fff" stop-opacity="0.5"/><stop offset="1" stop-color="#fff" stop-opacity="0"/></radialGradient><mask id="maskB" maskUnits="userSpaceOnUse" x="476.4" y="65.1" width="176" height="176"><rect x="476.4" y="65.1" width="176" height="176" fill="url(#fadeB)"/></mask></defs>
<g mask="url(#maskB)">
<path d="M464.4,36.1 L664.4,-149.9 M464.4,-149.9 L664.4,36.1 M464.4,51.1 L664.4,-134.9 M464.4,-134.9 L664.4,51.1 M464.4,66.1 L664.4,-119.9 M464.4,-119.9 L664.4,66.1 M464.4,81.1 L664.4,-104.9 M464.4,-104.9 L664.4,81.1 M464.4,96.1 L664.4,-89.9 M464.4,-89.9 L664.4,96.1 M464.4,111.1 L664.4,-74.9 M464.4,-74.9 L664.4,111.1 M464.4,126.1 L664.4,-59.9 M464.4,-59.9 L664.4,126.1 M464.4,141.1 L664.4,-44.9 M464.4,-44.9 L664.4,141.1 M464.4,156.1 L664.4,-29.9 M464.4,-29.9 L664.4,156.1 M464.4,171.1 L664.4,-14.9 M464.4,-14.9 L664.4,171.1 M464.4,186.1 L664.4,0.1 M464.4,0.1 L664.4,186.1 M464.4,201.1 L664.4,15.1 M464.4,15.1 L664.4,201.1 M464.4,216.1 L664.4,30.1 M464.4,30.1 L664.4,216.1 M464.4,231.1 L664.4,45.1 M464.4,45.1 L664.4,231.1 M464.4,246.1 L664.4,60.1 M464.4,60.1 L664.4,246.1 M464.4,261.1 L664.4,75.1 M464.4,75.1 L664.4,261.1 M464.4,276.1 L664.4,90.1 M464.4,90.1 L664.4,276.1 M464.4,291.1 L664.4,105.1 M464.4,105.1 L664.4,291.1 M464.4,306.1 L664.4,120.1 M464.4,120.1 L664.4,306.1 M464.4,321.1 L664.4,135.1 M464.4,135.1 L664.4,321.1 M464.4,336.1 L664.4,150.1 M464.4,150.1 L664.4,336.1 M464.4,351.1 L664.4,165.1 M464.4,165.1 L664.4,351.1 M464.4,366.1 L664.4,180.1 M464.4,180.1 L664.4,366.1 M464.4,381.1 L664.4,195.1 M464.4,195.1 L664.4,381.1 M464.4,396.1 L664.4,210.1 M464.4,210.1 L664.4,396.1 M464.4,411.1 L664.4,225.1 M464.4,225.1 L664.4,411.1 M464.4,426.1 L664.4,240.1 M464.4,240.1 L664.4,426.1 M464.4,441.1 L664.4,255.1 M464.4,255.1 L664.4,441.1 M464.4,456.1 L664.4,270.1 M464.4,270.1 L664.4,456.1" stroke="#c0cdfb" stroke-width="1.0" fill="none"/>
<path d="M469.4,70.4 L470.4,71.3 L471.4,72.1 L472.4,73.0 L473.4,73.9 L474.4,74.7 L475.4,75.6 L476.4,76.5 L477.4,77.3 L478.4,78.2 L479.4,79.1 L480.4,79.9 L481.4,80.8 L482.4,81.7 L483.4,82.6 L484.4,83.4 L485.4,84.3 L486.4,85.2 L487.4,86.0 L488.4,86.9 L489.4,87.8 L490.4,88.6 L491.4,89.5 L492.4,90.4 L493.4,91.2 L494.4,92.1 L495.4,93.0 L496.4,93.8 L497.4,94.7 L498.4,95.6 L499.4,96.4 L500.4,97.3 L501.4,98.2 L502.4,99.0 L503.4,99.9 L504.4,100.8 L505.4,101.6 L506.4,102.5 L507.4,103.4 L508.4,104.2 L509.4,105.1 L510.4,106.0 L511.4,106.8 L512.4,107.7 L513.4,108.5 L514.4,109.4 L515.4,110.3 L516.4,111.1 L517.4,112.0 L518.4,112.9 L519.4,113.7 L520.4,114.6 L521.4,115.5 L522.4,116.3 L523.4,117.2 L524.4,118.0 L525.4,118.9 L526.4,119.8 L527.4,120.6 L528.4,121.5 L529.4,122.3 L530.4,123.2 L531.4,124.1 L532.4,124.9 L533.4,125.8 L534.4,126.6 L535.4,127.5 L536.4,128.3 L537.4,129.2 L538.4,130.0 L539.4,130.9 L540.4,131.7 L541.4,132.6 L542.4,133.4 L543.4,134.3 L544.4,135.1 L545.4,135.9 L546.4,136.8 L547.4,137.6 L548.4,138.4 L549.4,139.2 L550.4,140.0 L551.4,140.8 L552.4,141.6 L553.4,142.4 L554.4,143.2 L555.4,143.9 L556.4,144.6 L557.4,145.3 L558.4,146.0 L559.4,146.6 L560.4,147.1 L561.4,147.6 L562.4,147.9 L563.4,148.1 L564.4,148.2 L565.4,148.1 L566.4,147.9 L567.4,147.6 L568.4,147.1 L569.4,146.6 L570.4,146.0 L571.4,145.3 L572.4,144.6 L573.4,143.9 L574.4,143.2 L575.4,142.4 L576.4,141.6 L577.4,140.8 L578.4,140.0 L579.4,139.2 L580.4,138.4 L581.4,137.6 L582.4,136.8 L583.4,135.9 L584.4,135.1 L585.4,134.3 L586.4,133.4 L587.4,132.6 L588.4,131.7 L589.4,130.9 L590.4,130.0 L591.4,129.2 L592.4,128.3 L593.4,127.5 L594.4,126.6 L595.4,125.8 L596.4,124.9 L597.4,124.1 L598.4,123.2 L599.4,122.3 L600.4,121.5 L601.4,120.6 L602.4,119.8 L603.4,118.9 L604.4,118.0 L605.4,117.2 L606.4,116.3 L607.4,115.5 L608.4,114.6 L609.4,113.7 L610.4,112.9 L611.4,112.0 L612.4,111.1 L613.4,110.3 L614.4,109.4 L615.4,108.5 L616.4,107.7 L617.4,106.8 L618.4,106.0 L619.4,105.1 L620.4,104.2 L621.4,103.4 L622.4,102.5 L623.4,101.6 L624.4,100.8 L625.4,99.9 L626.4,99.0 L627.4,98.2 L628.4,97.3 L629.4,96.4 L630.4,95.6 L631.4,94.7 L632.4,93.8 L633.4,93.0 L634.4,92.1 L635.4,91.2 L636.4,90.4 L637.4,89.5 L638.4,88.6 L639.4,87.8 L640.4,86.9 L641.4,86.0 L642.4,85.2 L643.4,84.3 L644.4,83.4 L645.4,82.6 L646.4,81.7 L647.4,80.8 L648.4,79.9 L649.4,79.1 L650.4,78.2 L651.4,77.3 L652.4,76.5 L653.4,75.6 L654.4,74.7 L655.4,73.9 L656.4,73.0 L657.4,72.1 L658.4,71.3 L659.4,70.4" fill="none" stroke="#3b9d95" stroke-opacity="1.0" stroke-width="2.1"/>
<path d="M469.4,56.4 L470.4,57.3 L471.4,58.1 L472.4,59.0 L473.4,59.9 L474.4,60.7 L475.4,61.6 L476.4,62.5 L477.4,63.3 L478.4,64.2 L479.4,65.1 L480.4,65.9 L481.4,66.8 L482.4,67.7 L483.4,68.6 L484.4,69.4 L485.4,70.3 L486.4,71.2 L487.4,72.0 L488.4,72.9 L489.4,73.8 L490.4,74.6 L491.4,75.5 L492.4,76.4 L493.4,77.2 L494.4,78.1 L495.4,79.0 L496.4,79.8 L497.4,80.7 L498.4,81.6 L499.4,82.4 L500.4,83.3 L501.4,84.2 L502.4,85.0 L503.4,85.9 L504.4,86.8 L505.4,87.6 L506.4,88.5 L507.4,89.4 L508.4,90.2 L509.4,91.1 L510.4,92.0 L511.4,92.8 L512.4,93.7 L513.4,94.5 L514.4,95.4 L515.4,96.3 L516.4,97.1 L517.4,98.0 L518.4,98.9 L519.4,99.7 L520.4,100.6 L521.4,101.5 L522.4,102.3 L523.4,103.2 L524.4,104.0 L525.4,104.9 L526.4,105.8 L527.4,106.6 L528.4,107.5 L529.4,108.3 L530.4,109.2 L531.4,110.1 L532.4,110.9 L533.4,111.8 L534.4,112.6 L535.4,113.5 L536.4,114.3 L537.4,115.2 L538.4,116.0 L539.4,116.9 L540.4,117.7 L541.4,118.6 L542.4,119.4 L543.4,120.3 L544.4,121.1 L545.4,121.9 L546.4,122.8 L547.4,123.6 L548.4,124.4 L549.4,125.2 L550.4,126.0 L551.4,126.8 L552.4,127.6 L553.4,128.4 L554.4,129.2 L555.4,129.9 L556.4,130.6 L557.4,131.3 L558.4,132.0 L559.4,132.6 L560.4,133.1 L561.4,133.6 L562.4,133.9 L563.4,134.1 L564.4,134.2 L565.4,134.1 L566.4,133.9 L567.4,133.6 L568.4,133.1 L569.4,132.6 L570.4,132.0 L571.4,131.3 L572.4,130.6 L573.4,129.9 L574.4,129.2 L575.4,128.4 L576.4,127.6 L577.4,126.8 L578.4,126.0 L579.4,125.2 L580.4,124.4 L581.4,123.6 L582.4,122.8 L583.4,121.9 L584.4,121.1 L585.4,120.3 L586.4,119.4 L587.4,118.6 L588.4,117.7 L589.4,116.9 L590.4,116.0 L591.4,115.2 L592.4,114.3 L593.4,113.5 L594.4,112.6 L595.4,111.8 L596.4,110.9 L597.4,110.1 L598.4,109.2 L599.4,108.3 L600.4,107.5 L601.4,106.6 L602.4,105.8 L603.4,104.9 L604.4,104.0 L605.4,103.2 L606.4,102.3 L607.4,101.5 L608.4,100.6 L609.4,99.7 L610.4,98.9 L611.4,98.0 L612.4,97.1 L613.4,96.3 L614.4,95.4 L615.4,94.5 L616.4,93.7 L617.4,92.8 L618.4,92.0 L619.4,91.1 L620.4,90.2 L621.4,89.4 L622.4,88.5 L623.4,87.6 L624.4,86.8 L625.4,85.9 L626.4,85.0 L627.4,84.2 L628.4,83.3 L629.4,82.4 L630.4,81.6 L631.4,80.7 L632.4,79.8 L633.4,79.0 L634.4,78.1 L635.4,77.2 L636.4,76.4 L637.4,75.5 L638.4,74.6 L639.4,73.8 L640.4,72.9 L641.4,72.0 L642.4,71.2 L643.4,70.3 L644.4,69.4 L645.4,68.6 L646.4,67.7 L647.4,66.8 L648.4,65.9 L649.4,65.1 L650.4,64.2 L651.4,63.3 L652.4,62.5 L653.4,61.6 L654.4,60.7 L655.4,59.9 L656.4,59.0 L657.4,58.1 L658.4,57.3 L659.4,56.4" fill="none" stroke="#3b9d95" stroke-opacity="0.6" stroke-width="2.0"/>
<path d="M469.4,42.2 L470.4,43.1 L471.4,43.9 L472.4,44.8 L473.4,45.7 L474.4,46.5 L475.4,47.4 L476.4,48.3 L477.4,49.1 L478.4,50.0 L479.4,50.9 L480.4,51.7 L481.4,52.6 L482.4,53.5 L483.4,54.4 L484.4,55.2 L485.4,56.1 L486.4,57.0 L487.4,57.8 L488.4,58.7 L489.4,59.6 L490.4,60.4 L491.4,61.3 L492.4,62.2 L493.4,63.0 L494.4,63.9 L495.4,64.8 L496.4,65.6 L497.4,66.5 L498.4,67.4 L499.4,68.2 L500.4,69.1 L501.4,70.0 L502.4,70.8 L503.4,71.7 L504.4,72.6 L505.4,73.4 L506.4,74.3 L507.4,75.2 L508.4,76.0 L509.4,76.9 L510.4,77.8 L511.4,78.6 L512.4,79.5 L513.4,80.3 L514.4,81.2 L515.4,82.1 L516.4,82.9 L517.4,83.8 L518.4,84.7 L519.4,85.5 L520.4,86.4 L521.4,87.3 L522.4,88.1 L523.4,89.0 L524.4,89.8 L525.4,90.7 L526.4,91.6 L527.4,92.4 L528.4,93.3 L529.4,94.1 L530.4,95.0 L531.4,95.9 L532.4,96.7 L533.4,97.6 L534.4,98.4 L535.4,99.3 L536.4,100.1 L537.4,101.0 L538.4,101.8 L539.4,102.7 L540.4,103.5 L541.4,104.4 L542.4,105.2 L543.4,106.1 L544.4,106.9 L545.4,107.7 L546.4,108.6 L547.4,109.4 L548.4,110.2 L549.4,111.0 L550.4,111.8 L551.4,112.6 L552.4,113.4 L553.4,114.2 L554.4,115.0 L555.4,115.7 L556.4,116.4 L557.4,117.1 L558.4,117.8 L559.4,118.4 L560.4,118.9 L561.4,119.4 L562.4,119.7 L563.4,119.9 L564.4,120.0 L565.4,119.9 L566.4,119.7 L567.4,119.4 L568.4,118.9 L569.4,118.4 L570.4,117.8 L571.4,117.1 L572.4,116.4 L573.4,115.7 L574.4,115.0 L575.4,114.2 L576.4,113.4 L577.4,112.6 L578.4,111.8 L579.4,111.0 L580.4,110.2 L581.4,109.4 L582.4,108.6 L583.4,107.7 L584.4,106.9 L585.4,106.1 L586.4,105.2 L587.4,104.4 L588.4,103.5 L589.4,102.7 L590.4,101.8 L591.4,101.0 L592.4,100.1 L593.4,99.3 L594.4,98.4 L595.4,97.6 L596.4,96.7 L597.4,95.9 L598.4,95.0 L599.4,94.1 L600.4,93.3 L601.4,92.4 L602.4,91.6 L603.4,90.7 L604.4,89.8 L605.4,89.0 L606.4,88.1 L607.4,87.3 L608.4,86.4 L609.4,85.5 L610.4,84.7 L611.4,83.8 L612.4,82.9 L613.4,82.1 L614.4,81.2 L615.4,80.3 L616.4,79.5 L617.4,78.6 L618.4,77.8 L619.4,76.9 L620.4,76.0 L621.4,75.2 L622.4,74.3 L623.4,73.4 L624.4,72.6 L625.4,71.7 L626.4,70.8 L627.4,70.0 L628.4,69.1 L629.4,68.2 L630.4,67.4 L631.4,66.5 L632.4,65.6 L633.4,64.8 L634.4,63.9 L635.4,63.0 L636.4,62.2 L637.4,61.3 L638.4,60.4 L639.4,59.6 L640.4,58.7 L641.4,57.8 L642.4,57.0 L643.4,56.1 L644.4,55.2 L645.4,54.4 L646.4,53.5 L647.4,52.6 L648.4,51.7 L649.4,50.9 L650.4,50.0 L651.4,49.1 L652.4,48.3 L653.4,47.4 L654.4,46.5 L655.4,45.7 L656.4,44.8 L657.4,43.9 L658.4,43.1 L659.4,42.2" fill="none" stroke="#3b9d95" stroke-opacity="0.32" stroke-width="1.9"/>
<path d="M469.4,235.8 L470.4,234.9 L471.4,234.1 L472.4,233.2 L473.4,232.3 L474.4,231.5 L475.4,230.6 L476.4,229.7 L477.4,228.9 L478.4,228.0 L479.4,227.1 L480.4,226.3 L481.4,225.4 L482.4,224.5 L483.4,223.6 L484.4,222.8 L485.4,221.9 L486.4,221.0 L487.4,220.2 L488.4,219.3 L489.4,218.4 L490.4,217.6 L491.4,216.7 L492.4,215.8 L493.4,215.0 L494.4,214.1 L495.4,213.2 L496.4,212.4 L497.4,211.5 L498.4,210.6 L499.4,209.8 L500.4,208.9 L501.4,208.0 L502.4,207.2 L503.4,206.3 L504.4,205.4 L505.4,204.6 L506.4,203.7 L507.4,202.8 L508.4,202.0 L509.4,201.1 L510.4,200.2 L511.4,199.4 L512.4,198.5 L513.4,197.7 L514.4,196.8 L515.4,195.9 L516.4,195.1 L517.4,194.2 L518.4,193.3 L519.4,192.5 L520.4,191.6 L521.4,190.7 L522.4,189.9 L523.4,189.0 L524.4,188.2 L525.4,187.3 L526.4,186.4 L527.4,185.6 L528.4,184.7 L529.4,183.9 L530.4,183.0 L531.4,182.1 L532.4,181.3 L533.4,180.4 L534.4,179.6 L535.4,178.7 L536.4,177.9 L537.4,177.0 L538.4,176.2 L539.4,175.3 L540.4,174.5 L541.4,173.6 L542.4,172.8 L543.4,171.9 L544.4,171.1 L545.4,170.3 L546.4,169.4 L547.4,168.6 L548.4,167.8 L549.4,167.0 L550.4,166.2 L551.4,165.4 L552.4,164.6 L553.4,163.8 L554.4,163.0 L555.4,162.3 L556.4,161.6 L557.4,160.9 L558.4,160.2 L559.4,159.6 L560.4,159.1 L561.4,158.6 L562.4,158.3 L563.4,158.1 L564.4,158.0 L565.4,158.1 L566.4,158.3 L567.4,158.6 L568.4,159.1 L569.4,159.6 L570.4,160.2 L571.4,160.9 L572.4,161.6 L573.4,162.3 L574.4,163.0 L575.4,163.8 L576.4,164.6 L577.4,165.4 L578.4,166.2 L579.4,167.0 L580.4,167.8 L581.4,168.6 L582.4,169.4 L583.4,170.3 L584.4,171.1 L585.4,171.9 L586.4,172.8 L587.4,173.6 L588.4,174.5 L589.4,175.3 L590.4,176.2 L591.4,177.0 L592.4,177.9 L593.4,178.7 L594.4,179.6 L595.4,180.4 L596.4,181.3 L597.4,182.1 L598.4,183.0 L599.4,183.9 L600.4,184.7 L601.4,185.6 L602.4,186.4 L603.4,187.3 L604.4,188.2 L605.4,189.0 L606.4,189.9 L607.4,190.7 L608.4,191.6 L609.4,192.5 L610.4,193.3 L611.4,194.2 L612.4,195.1 L613.4,195.9 L614.4,196.8 L615.4,197.7 L616.4,198.5 L617.4,199.4 L618.4,200.2 L619.4,201.1 L620.4,202.0 L621.4,202.8 L622.4,203.7 L623.4,204.6 L624.4,205.4 L625.4,206.3 L626.4,207.2 L627.4,208.0 L628.4,208.9 L629.4,209.8 L630.4,210.6 L631.4,211.5 L632.4,212.4 L633.4,213.2 L634.4,214.1 L635.4,215.0 L636.4,215.8 L637.4,216.7 L638.4,217.6 L639.4,218.4 L640.4,219.3 L641.4,220.2 L642.4,221.0 L643.4,221.9 L644.4,222.8 L645.4,223.6 L646.4,224.5 L647.4,225.4 L648.4,226.3 L649.4,227.1 L650.4,228.0 L651.4,228.9 L652.4,229.7 L653.4,230.6 L654.4,231.5 L655.4,232.3 L656.4,233.2 L657.4,234.1 L658.4,234.9 L659.4,235.8" fill="none" stroke="#3b9d95" stroke-opacity="1.0" stroke-width="2.1"/>
<path d="M469.4,249.8 L470.4,248.9 L471.4,248.1 L472.4,247.2 L473.4,246.3 L474.4,245.5 L475.4,244.6 L476.4,243.7 L477.4,242.9 L478.4,242.0 L479.4,241.1 L480.4,240.3 L481.4,239.4 L482.4,238.5 L483.4,237.6 L484.4,236.8 L485.4,235.9 L486.4,235.0 L487.4,234.2 L488.4,233.3 L489.4,232.4 L490.4,231.6 L491.4,230.7 L492.4,229.8 L493.4,229.0 L494.4,228.1 L495.4,227.2 L496.4,226.4 L497.4,225.5 L498.4,224.6 L499.4,223.8 L500.4,222.9 L501.4,222.0 L502.4,221.2 L503.4,220.3 L504.4,219.4 L505.4,218.6 L506.4,217.7 L507.4,216.8 L508.4,216.0 L509.4,215.1 L510.4,214.2 L511.4,213.4 L512.4,212.5 L513.4,211.7 L514.4,210.8 L515.4,209.9 L516.4,209.1 L517.4,208.2 L518.4,207.3 L519.4,206.5 L520.4,205.6 L521.4,204.7 L522.4,203.9 L523.4,203.0 L524.4,202.2 L525.4,201.3 L526.4,200.4 L527.4,199.6 L528.4,198.7 L529.4,197.9 L530.4,197.0 L531.4,196.1 L532.4,195.3 L533.4,194.4 L534.4,193.6 L535.4,192.7 L536.4,191.9 L537.4,191.0 L538.4,190.2 L539.4,189.3 L540.4,188.5 L541.4,187.6 L542.4,186.8 L543.4,185.9 L544.4,185.1 L545.4,184.3 L546.4,183.4 L547.4,182.6 L548.4,181.8 L549.4,181.0 L550.4,180.2 L551.4,179.4 L552.4,178.6 L553.4,177.8 L554.4,177.0 L555.4,176.3 L556.4,175.6 L557.4,174.9 L558.4,174.2 L559.4,173.6 L560.4,173.1 L561.4,172.6 L562.4,172.3 L563.4,172.1 L564.4,172.0 L565.4,172.1 L566.4,172.3 L567.4,172.6 L568.4,173.1 L569.4,173.6 L570.4,174.2 L571.4,174.9 L572.4,175.6 L573.4,176.3 L574.4,177.0 L575.4,177.8 L576.4,178.6 L577.4,179.4 L578.4,180.2 L579.4,181.0 L580.4,181.8 L581.4,182.6 L582.4,183.4 L583.4,184.3 L584.4,185.1 L585.4,185.9 L586.4,186.8 L587.4,187.6 L588.4,188.5 L589.4,189.3 L590.4,190.2 L591.4,191.0 L592.4,191.9 L593.4,192.7 L594.4,193.6 L595.4,194.4 L596.4,195.3 L597.4,196.1 L598.4,197.0 L599.4,197.9 L600.4,198.7 L601.4,199.6 L602.4,200.4 L603.4,201.3 L604.4,202.2 L605.4,203.0 L606.4,203.9 L607.4,204.7 L608.4,205.6 L609.4,206.5 L610.4,207.3 L611.4,208.2 L612.4,209.1 L613.4,209.9 L614.4,210.8 L615.4,211.7 L616.4,212.5 L617.4,213.4 L618.4,214.2 L619.4,215.1 L620.4,216.0 L621.4,216.8 L622.4,217.7 L623.4,218.6 L624.4,219.4 L625.4,220.3 L626.4,221.2 L627.4,222.0 L628.4,222.9 L629.4,223.8 L630.4,224.6 L631.4,225.5 L632.4,226.4 L633.4,227.2 L634.4,228.1 L635.4,229.0 L636.4,229.8 L637.4,230.7 L638.4,231.6 L639.4,232.4 L640.4,233.3 L641.4,234.2 L642.4,235.0 L643.4,235.9 L644.4,236.8 L645.4,237.6 L646.4,238.5 L647.4,239.4 L648.4,240.3 L649.4,241.1 L650.4,242.0 L651.4,242.9 L652.4,243.7 L653.4,244.6 L654.4,245.5 L655.4,246.3 L656.4,247.2 L657.4,248.1 L658.4,248.9 L659.4,249.8" fill="none" stroke="#3b9d95" stroke-opacity="0.6" stroke-width="2.0"/>
<path d="M469.4,264.0 L470.4,263.1 L471.4,262.3 L472.4,261.4 L473.4,260.5 L474.4,259.7 L475.4,258.8 L476.4,257.9 L477.4,257.1 L478.4,256.2 L479.4,255.3 L480.4,254.5 L481.4,253.6 L482.4,252.7 L483.4,251.8 L484.4,251.0 L485.4,250.1 L486.4,249.2 L487.4,248.4 L488.4,247.5 L489.4,246.6 L490.4,245.8 L491.4,244.9 L492.4,244.0 L493.4,243.2 L494.4,242.3 L495.4,241.4 L496.4,240.6 L497.4,239.7 L498.4,238.8 L499.4,238.0 L500.4,237.1 L501.4,236.2 L502.4,235.4 L503.4,234.5 L504.4,233.6 L505.4,232.8 L506.4,231.9 L507.4,231.0 L508.4,230.2 L509.4,229.3 L510.4,228.4 L511.4,227.6 L512.4,226.7 L513.4,225.9 L514.4,225.0 L515.4,224.1 L516.4,223.3 L517.4,222.4 L518.4,221.5 L519.4,220.7 L520.4,219.8 L521.4,218.9 L522.4,218.1 L523.4,217.2 L524.4,216.4 L525.4,215.5 L526.4,214.6 L527.4,213.8 L528.4,212.9 L529.4,212.1 L530.4,211.2 L531.4,210.3 L532.4,209.5 L533.4,208.6 L534.4,207.8 L535.4,206.9 L536.4,206.1 L537.4,205.2 L538.4,204.4 L539.4,203.5 L540.4,202.7 L541.4,201.8 L542.4,201.0 L543.4,200.1 L544.4,199.3 L545.4,198.5 L546.4,197.6 L547.4,196.8 L548.4,196.0 L549.4,195.2 L550.4,194.4 L551.4,193.6 L552.4,192.8 L553.4,192.0 L554.4,191.2 L555.4,190.5 L556.4,189.8 L557.4,189.1 L558.4,188.4 L559.4,187.8 L560.4,187.3 L561.4,186.8 L562.4,186.5 L563.4,186.3 L564.4,186.2 L565.4,186.3 L566.4,186.5 L567.4,186.8 L568.4,187.3 L569.4,187.8 L570.4,188.4 L571.4,189.1 L572.4,189.8 L573.4,190.5 L574.4,191.2 L575.4,192.0 L576.4,192.8 L577.4,193.6 L578.4,194.4 L579.4,195.2 L580.4,196.0 L581.4,196.8 L582.4,197.6 L583.4,198.5 L584.4,199.3 L585.4,200.1 L586.4,201.0 L587.4,201.8 L588.4,202.7 L589.4,203.5 L590.4,204.4 L591.4,205.2 L592.4,206.1 L593.4,206.9 L594.4,207.8 L595.4,208.6 L596.4,209.5 L597.4,210.3 L598.4,211.2 L599.4,212.1 L600.4,212.9 L601.4,213.8 L602.4,214.6 L603.4,215.5 L604.4,216.4 L605.4,217.2 L606.4,218.1 L607.4,218.9 L608.4,219.8 L609.4,220.7 L610.4,221.5 L611.4,222.4 L612.4,223.3 L613.4,224.1 L614.4,225.0 L615.4,225.9 L616.4,226.7 L617.4,227.6 L618.4,228.4 L619.4,229.3 L620.4,230.2 L621.4,231.0 L622.4,231.9 L623.4,232.8 L624.4,233.6 L625.4,234.5 L626.4,235.4 L627.4,236.2 L628.4,237.1 L629.4,238.0 L630.4,238.8 L631.4,239.7 L632.4,240.6 L633.4,241.4 L634.4,242.3 L635.4,243.2 L636.4,244.0 L637.4,244.9 L638.4,245.8 L639.4,246.6 L640.4,247.5 L641.4,248.4 L642.4,249.2 L643.4,250.1 L644.4,251.0 L645.4,251.8 L646.4,252.7 L647.4,253.6 L648.4,254.5 L649.4,255.3 L650.4,256.2 L651.4,257.1 L652.4,257.9 L653.4,258.8 L654.4,259.7 L655.4,260.5 L656.4,261.4 L657.4,262.3 L658.4,263.1 L659.4,264.0" fill="none" stroke="#3b9d95" stroke-opacity="0.32" stroke-width="1.9"/>
</g>
<line x1="603.1" y1="135.5" x2="603.1" y2="143.5" stroke="#000" stroke-width="1.1"/>
<path d="M603.1,132.5 l-2.2,4.8 l4.4,0 Z M603.1,146.5 l-2.2,-4.8 l4.4,0 Z" fill="#000"/>
<line x1="603.1" y1="149.5" x2="603.1" y2="157.4" stroke="#000" stroke-width="1.1"/>
<path d="M603.1,146.5 l-2.2,4.8 l4.4,0 Z M603.1,160.4 l-2.2,-4.8 l4.4,0 Z" fill="#000"/>
<line x1="603.1" y1="163.4" x2="603.1" y2="171.4" stroke="#000" stroke-width="1.1"/>
<path d="M603.1,160.4 l-2.2,4.8 l4.4,0 Z M603.1,174.4 l-2.2,-4.8 l4.4,0 Z" fill="#000"/>
<text x="612.60" y="159.10" font-size="20.5" text-anchor="start" >Ω</text>
<g clip-path="url(#clipC)">
<g filter="url(#blur1)" fill="none" stroke-linecap="round">
<path d="M788.2,234.8 L787.2,235.6 L786.2,236.3 L785.2,237.1 L784.2,237.9 L783.2,238.7 L782.2,239.5 L781.2,240.2 L780.2,241.0 L779.2,241.8 L778.2,242.6 L777.2,243.4 L776.2,244.2 L775.2,244.9 L774.2,245.7 L773.2,246.5 L772.2,247.3 L771.2,248.1 L770.2,248.9 L769.2,249.7 L768.2,250.5 L767.2,251.3 L766.2,252.0 L765.2,252.8 L764.2,253.6 L763.2,254.4 L762.2,255.2 L761.2,256.0 L760.2,256.8 L759.2,257.6 L758.2,258.4 L757.2,259.2 L756.2,260.0 L755.2,260.8 L754.2,261.6 L753.2,262.4 L752.2,263.2 L751.2,263.9 L750.2,264.7 L749.2,265.5 L748.2,266.3 L747.2,267.1 L746.2,267.9 L745.2,268.7 L744.2,269.5 L743.2,270.3 L742.2,271.1 L741.2,271.9 L740.2,272.7 L739.2,273.5 L738.2,274.3 L737.2,275.1 L736.2,275.9 L735.2,276.7 L734.2,277.5 L733.2,278.3 L732.2,279.1 L731.2,279.9 L730.2,280.7 L729.2,281.5 L728.2,282.3 L727.2,283.1 L726.2,283.8 L725.2,284.6 L724.2,285.4 L723.2,286.2 L722.2,287.0" stroke="#55bab2" stroke-width="3.0" stroke-opacity="0.42"/>
<path d="M754.2,261.6 L753.2,262.4 L752.2,263.2 L751.2,263.9 L750.2,264.7 L749.2,265.5 L748.2,266.3" stroke="#1d6a8a" stroke-width="2.2" stroke-opacity="0.75"/>
<path d="M766.2,252.0 L765.2,252.8 L764.2,253.6 L763.2,254.4 L762.2,255.2 L761.2,256.0 L760.2,256.8" stroke="#1d6a8a" stroke-width="2.2" stroke-opacity="0.75"/>
<path d="M844.2,234.8 L845.2,235.6 L846.2,236.3 L847.2,237.1 L848.2,237.9 L849.2,238.7 L850.2,239.5 L851.2,240.2 L852.2,241.0 L853.2,241.8 L854.2,242.6 L855.2,243.4 L856.2,244.2 L857.2,244.9 L858.2,245.7 L859.2,246.5 L860.2,247.3 L861.2,248.1 L862.2,248.9 L863.2,249.7 L864.2,250.5 L865.2,251.3 L866.2,252.0 L867.2,252.8 L868.2,253.6 L869.2,254.4 L870.2,255.2 L871.2,256.0 L872.2,256.8 L873.2,257.6 L874.2,258.4 L875.2,259.2 L876.2,260.0 L877.2,260.8 L878.2,261.6 L879.2,262.4 L880.2,263.2 L881.2,263.9 L882.2,264.7 L883.2,265.5 L884.2,266.3 L885.2,267.1 L886.2,267.9 L887.2,268.7 L888.2,269.5 L889.2,270.3 L890.2,271.1 L891.2,271.9 L892.2,272.7 L893.2,273.5 L894.2,274.3 L895.2,275.1 L896.2,275.9 L897.2,276.7 L898.2,277.5 L899.2,278.3 L900.2,279.1 L901.2,279.9 L902.2,280.7 L903.2,281.5 L904.2,282.3 L905.2,283.1 L906.2,283.8 L907.2,284.6 L908.2,285.4 L909.2,286.2 L910.2,287.0" stroke="#55bab2" stroke-width="3.0" stroke-opacity="0.42"/>
<path d="M892.2,272.7 L893.2,273.5 L894.2,274.3 L895.2,275.1 L896.2,275.9 L897.2,276.7 L898.2,277.5 L899.2,278.3 L900.2,279.1" stroke="#1d6a8a" stroke-width="2.2" stroke-opacity="0.75"/>
<path d="M860.2,247.3 L861.2,248.1 L862.2,248.9 L863.2,249.7 L864.2,250.5" stroke="#1d6a8a" stroke-width="2.2" stroke-opacity="0.75"/>
<path d="M788.2,220.2 L787.2,221.0 L786.2,221.7 L785.2,222.5 L784.2,223.3 L783.2,224.1 L782.2,224.9 L781.2,225.6 L780.2,226.4 L779.2,227.2 L778.2,228.0 L777.2,228.8 L776.2,229.6 L775.2,230.3 L774.2,231.1 L773.2,231.9 L772.2,232.7 L771.2,233.5 L770.2,234.3 L769.2,235.1 L768.2,235.9 L767.2,236.7 L766.2,237.4 L765.2,238.2 L764.2,239.0 L763.2,239.8 L762.2,240.6 L761.2,241.4 L760.2,242.2 L759.2,243.0 L758.2,243.8 L757.2,244.6 L756.2,245.4 L755.2,246.2 L754.2,247.0 L753.2,247.8 L752.2,248.6 L751.2,249.3 L750.2,250.1 L749.2,250.9 L748.2,251.7 L747.2,252.5 L746.2,253.3 L745.2,254.1 L744.2,254.9 L743.2,255.7 L742.2,256.5 L741.2,257.3 L740.2,258.1 L739.2,258.9 L738.2,259.7 L737.2,260.5 L736.2,261.3 L735.2,262.1 L734.2,262.9 L733.2,263.7 L732.2,264.5 L731.2,265.3 L730.2,266.1 L729.2,266.9 L728.2,267.7 L727.2,268.5 L726.2,269.2 L725.2,270.0 L724.2,270.8 L723.2,271.6 L722.2,272.4" stroke="#55bab2" stroke-width="3.0" stroke-opacity="0.42"/>
<path d="M776.2,229.6 L775.2,230.3 L774.2,231.1 L773.2,231.9 L772.2,232.7 L771.2,233.5" stroke="#1d6a8a" stroke-width="2.2" stroke-opacity="0.75"/>
<path d="M777.2,228.8 L776.2,229.6 L775.2,230.3 L774.2,231.1 L773.2,231.9 L772.2,232.7" stroke="#1d6a8a" stroke-width="2.2" stroke-opacity="0.75"/>
<path d="M844.2,220.2 L845.2,221.0 L846.2,221.7 L847.2,222.5 L848.2,223.3 L849.2,224.1 L850.2,224.9 L851.2,225.6 L852.2,226.4 L853.2,227.2 L854.2,228.0 L855.2,228.8 L856.2,229.6 L857.2,230.3 L858.2,231.1 L859.2,231.9 L860.2,232.7 L861.2,233.5 L862.2,234.3 L863.2,235.1 L864.2,235.9 L865.2,236.7 L866.2,237.4 L867.2,238.2 L868.2,239.0 L869.2,239.8 L870.2,240.6 L871.2,241.4 L872.2,242.2 L873.2,243.0 L874.2,243.8 L875.2,244.6 L876.2,245.4 L877.2,246.2 L878.2,247.0 L879.2,247.8 L880.2,248.6 L881.2,249.3 L882.2,250.1 L883.2,250.9 L884.2,251.7 L885.2,252.5 L886.2,253.3 L887.2,254.1 L888.2,254.9 L889.2,255.7 L890.2,256.5 L891.2,257.3 L892.2,258.1 L893.2,258.9 L894.2,259.7 L895.2,260.5 L896.2,261.3 L897.2,262.1 L898.2,262.9 L899.2,263.7 L900.2,264.5 L901.2,265.3 L902.2,266.1 L903.2,266.9 L904.2,267.7 L905.2,268.5 L906.2,269.2 L907.2,270.0 L908.2,270.8 L909.2,271.6 L910.2,272.4" stroke="#55bab2" stroke-width="3.0" stroke-opacity="0.42"/>
<path d="M883.2,250.9 L884.2,251.7 L885.2,252.5 L886.2,253.3 L887.2,254.1" stroke="#1d6a8a" stroke-width="2.2" stroke-opacity="0.75"/>
<path d="M883.2,250.9 L884.2,251.7 L885.2,252.5 L886.2,253.3 L887.2,254.1 L888.2,254.9 L889.2,255.7" stroke="#1d6a8a" stroke-width="2.2" stroke-opacity="0.75"/>
<path d="M788.2,205.6 L787.2,206.4 L786.2,207.1 L785.2,207.9 L784.2,208.7 L783.2,209.5 L782.2,210.3 L781.2,211.0 L780.2,211.8 L779.2,212.6 L778.2,213.4 L777.2,214.2 L776.2,215.0 L775.2,215.7 L774.2,216.5 L773.2,217.3 L772.2,218.1 L771.2,218.9 L770.2,219.7 L769.2,220.5 L768.2,221.3 L767.2,222.1 L766.2,222.8 L765.2,223.6 L764.2,224.4 L763.2,225.2 L762.2,226.0 L761.2,226.8 L760.2,227.6 L759.2,228.4 L758.2,229.2 L757.2,230.0 L756.2,230.8 L755.2,231.6 L754.2,232.4 L753.2,233.2 L752.2,234.0 L751.2,234.7 L750.2,235.5 L749.2,236.3 L748.2,237.1 L747.2,237.9 L746.2,238.7 L745.2,239.5 L744.2,240.3 L743.2,241.1 L742.2,241.9 L741.2,242.7 L740.2,243.5 L739.2,244.3 L738.2,245.1 L737.2,245.9 L736.2,246.7 L735.2,247.5 L734.2,248.3 L733.2,249.1 L732.2,249.9 L731.2,250.7 L730.2,251.5 L729.2,252.3 L728.2,253.1 L727.2,253.9 L726.2,254.6 L725.2,255.4 L724.2,256.2 L723.2,257.0 L722.2,257.8" stroke="#55bab2" stroke-width="3.0" stroke-opacity="0.42"/>
<path d="M778.2,213.4 L777.2,214.2 L776.2,215.0 L775.2,215.7 L774.2,216.5 L773.2,217.3 L772.2,218.1" stroke="#1d6a8a" stroke-width="2.2" stroke-opacity="0.75"/>
<path d="M767.2,222.1 L766.2,222.8 L765.2,223.6 L764.2,224.4 L763.2,225.2 L762.2,226.0" stroke="#1d6a8a" stroke-width="2.2" stroke-opacity="0.75"/>
<path d="M844.2,205.6 L845.2,206.4 L846.2,207.1 L847.2,207.9 L848.2,208.7 L849.2,209.5 L850.2,210.3 L851.2,211.0 L852.2,211.8 L853.2,212.6 L854.2,213.4 L855.2,214.2 L856.2,215.0 L857.2,215.7 L858.2,216.5 L859.2,217.3 L860.2,218.1 L861.2,218.9 L862.2,219.7 L863.2,220.5 L864.2,221.3 L865.2,222.1 L866.2,222.8 L867.2,223.6 L868.2,224.4 L869.2,225.2 L870.2,226.0 L871.2,226.8 L872.2,227.6 L873.2,228.4 L874.2,229.2 L875.2,230.0 L876.2,230.8 L877.2,231.6 L878.2,232.4 L879.2,233.2 L880.2,234.0 L881.2,234.7 L882.2,235.5 L883.2,236.3 L884.2,237.1 L885.2,237.9 L886.2,238.7 L887.2,239.5 L888.2,240.3 L889.2,241.1 L890.2,241.9 L891.2,242.7 L892.2,243.5 L893.2,244.3 L894.2,245.1 L895.2,245.9 L896.2,246.7 L897.2,247.5 L898.2,248.3 L899.2,249.1 L900.2,249.9 L901.2,250.7 L902.2,251.5 L903.2,252.3 L904.2,253.1 L905.2,253.9 L906.2,254.6 L907.2,255.4 L908.2,256.2 L909.2,257.0 L910.2,257.8" stroke="#55bab2" stroke-width="3.0" stroke-opacity="0.42"/>
<path d="M866.2,222.8 L867.2,223.6 L868.2,224.4 L869.2,225.2 L870.2,226.0 L871.2,226.8 L872.2,227.6" stroke="#1d6a8a" stroke-width="2.2" stroke-opacity="0.75"/>
<path d="M874.2,229.2 L875.2,230.0 L876.2,230.8 L877.2,231.6 L878.2,232.4" stroke="#1d6a8a" stroke-width="2.2" stroke-opacity="0.75"/>
<path d="M788.2,191.0 L787.2,191.8 L786.2,192.5 L785.2,193.3 L784.2,194.1 L783.2,194.9 L782.2,195.7 L781.2,196.4 L780.2,197.2 L779.2,198.0 L778.2,198.8 L777.2,199.6 L776.2,200.4 L775.2,201.1 L774.2,201.9 L773.2,202.7 L772.2,203.5 L771.2,204.3 L770.2,205.1 L769.2,205.9 L768.2,206.7 L767.2,207.5 L766.2,208.2 L765.2,209.0 L764.2,209.8 L763.2,210.6 L762.2,211.4 L761.2,212.2 L760.2,213.0 L759.2,213.8 L758.2,214.6 L757.2,215.4 L756.2,216.2 L755.2,217.0 L754.2,217.8 L753.2,218.6 L752.2,219.4 L751.2,220.1 L750.2,220.9 L749.2,221.7 L748.2,222.5 L747.2,223.3 L746.2,224.1 L745.2,224.9 L744.2,225.7 L743.2,226.5 L742.2,227.3 L741.2,228.1 L740.2,228.9 L739.2,229.7 L738.2,230.5 L737.2,231.3 L736.2,232.1 L735.2,232.9 L734.2,233.7 L733.2,234.5 L732.2,235.3 L731.2,236.1 L730.2,236.9 L729.2,237.7 L728.2,238.5 L727.2,239.3 L726.2,240.0 L725.2,240.8 L724.2,241.6 L723.2,242.4 L722.2,243.2" stroke="#55bab2" stroke-width="3.0" stroke-opacity="0.42"/>
<path d="M755.2,217.0 L754.2,217.8 L753.2,218.6 L752.2,219.4 L751.2,220.1 L750.2,220.9 L749.2,221.7 L748.2,222.5" stroke="#1d6a8a" stroke-width="2.2" stroke-opacity="0.75"/>
<path d="M764.2,209.8 L763.2,210.6 L762.2,211.4 L761.2,212.2 L760.2,213.0" stroke="#1d6a8a" stroke-width="2.2" stroke-opacity="0.75"/>
<path d="M844.2,191.0 L845.2,191.8 L846.2,192.5 L847.2,193.3 L848.2,194.1 L849.2,194.9 L850.2,195.7 L851.2,196.4 L852.2,197.2 L853.2,198.0 L854.2,198.8 L855.2,199.6 L856.2,200.4 L857.2,201.1 L858.2,201.9 L859.2,202.7 L860.2,203.5 L861.2,204.3 L862.2,205.1 L863.2,205.9 L864.2,206.7 L865.2,207.5 L866.2,208.2 L867.2,209.0 L868.2,209.8 L869.2,210.6 L870.2,211.4 L871.2,212.2 L872.2,213.0 L873.2,213.8 L874.2,214.6 L875.2,215.4 L876.2,216.2 L877.2,217.0 L878.2,217.8 L879.2,218.6 L880.2,219.4 L881.2,220.1 L882.2,220.9 L883.2,221.7 L884.2,222.5 L885.2,223.3 L886.2,224.1 L887.2,224.9 L888.2,225.7 L889.2,226.5 L890.2,227.3 L891.2,228.1 L892.2,228.9 L893.2,229.7 L894.2,230.5 L895.2,231.3 L896.2,232.1 L897.2,232.9 L898.2,233.7 L899.2,234.5 L900.2,235.3 L901.2,236.1 L902.2,236.9 L903.2,237.7 L904.2,238.5 L905.2,239.3 L906.2,240.0 L907.2,240.8 L908.2,241.6 L909.2,242.4 L910.2,243.2" stroke="#55bab2" stroke-width="3.0" stroke-opacity="0.42"/>
<path d="M870.2,211.4 L871.2,212.2 L872.2,213.0 L873.2,213.8 L874.2,214.6 L875.2,215.4 L876.2,216.2 L877.2,217.0" stroke="#1d6a8a" stroke-width="2.2" stroke-opacity="0.75"/>
<path d="M897.2,232.9 L898.2,233.7 L899.2,234.5 L900.2,235.3 L901.2,236.1 L902.2,236.9 L903.2,237.7" stroke="#1d6a8a" stroke-width="2.2" stroke-opacity="0.75"/>
<path d="M788.2,176.4 L787.2,177.2 L786.2,177.9 L785.2,178.7 L784.2,179.5 L783.2,180.3 L782.2,181.1 L781.2,181.8 L780.2,182.6 L779.2,183.4 L778.2,184.2 L777.2,185.0 L776.2,185.8 L775.2,186.5 L774.2,187.3 L773.2,188.1 L772.2,188.9 L771.2,189.7 L770.2,190.5 L769.2,191.3 L768.2,192.1 L767.2,192.9 L766.2,193.6 L765.2,194.4 L764.2,195.2 L763.2,196.0 L762.2,196.8 L761.2,197.6 L760.2,198.4 L759.2,199.2 L758.2,200.0 L757.2,200.8 L756.2,201.6 L755.2,202.4 L754.2,203.2 L753.2,204.0 L752.2,204.8 L751.2,205.5 L750.2,206.3 L749.2,207.1 L748.2,207.9 L747.2,208.7 L746.2,209.5 L745.2,210.3 L744.2,211.1 L743.2,211.9 L742.2,212.7 L741.2,213.5 L740.2,214.3 L739.2,215.1 L738.2,215.9 L737.2,216.7 L736.2,217.5 L735.2,218.3 L734.2,219.1 L733.2,219.9 L732.2,220.7 L731.2,221.5 L730.2,222.3 L729.2,223.1 L728.2,223.9 L727.2,224.7 L726.2,225.4 L725.2,226.2 L724.2,227.0 L723.2,227.8 L722.2,228.6" stroke="#55bab2" stroke-width="3.0" stroke-opacity="0.42"/>
<path d="M739.2,215.1 L738.2,215.9 L737.2,216.7 L736.2,217.5 L735.2,218.3 L734.2,219.1 L733.2,219.9 L732.2,220.7" stroke="#1d6a8a" stroke-width="2.2" stroke-opacity="0.75"/>
<path d="M761.2,197.6 L760.2,198.4 L759.2,199.2 L758.2,200.0 L757.2,200.8" stroke="#1d6a8a" stroke-width="2.2" stroke-opacity="0.75"/>
<path d="M844.2,176.4 L845.2,177.2 L846.2,177.9 L847.2,178.7 L848.2,179.5 L849.2,180.3 L850.2,181.1 L851.2,181.8 L852.2,182.6 L853.2,183.4 L854.2,184.2 L855.2,185.0 L856.2,185.8 L857.2,186.5 L858.2,187.3 L859.2,188.1 L860.2,188.9 L861.2,189.7 L862.2,190.5 L863.2,191.3 L864.2,192.1 L865.2,192.9 L866.2,193.6 L867.2,194.4 L868.2,195.2 L869.2,196.0 L870.2,196.8 L871.2,197.6 L872.2,198.4 L873.2,199.2 L874.2,200.0 L875.2,200.8 L876.2,201.6 L877.2,202.4 L878.2,203.2 L879.2,204.0 L880.2,204.8 L881.2,205.5 L882.2,206.3 L883.2,207.1 L884.2,207.9 L885.2,208.7 L886.2,209.5 L887.2,210.3 L888.2,211.1 L889.2,211.9 L890.2,212.7 L891.2,213.5 L892.2,214.3 L893.2,215.1 L894.2,215.9 L895.2,216.7 L896.2,217.5 L897.2,218.3 L898.2,219.1 L899.2,219.9 L900.2,220.7 L901.2,221.5 L902.2,222.3 L903.2,223.1 L904.2,223.9 L905.2,224.7 L906.2,225.4 L907.2,226.2 L908.2,227.0 L909.2,227.8 L910.2,228.6" stroke="#55bab2" stroke-width="3.0" stroke-opacity="0.42"/>
<path d="M883.2,207.1 L884.2,207.9 L885.2,208.7 L886.2,209.5 L887.2,210.3 L888.2,211.1" stroke="#1d6a8a" stroke-width="2.2" stroke-opacity="0.75"/>
<path d="M870.2,196.8 L871.2,197.6 L872.2,198.4 L873.2,199.2 L874.2,200.0" stroke="#1d6a8a" stroke-width="2.2" stroke-opacity="0.75"/>
<path d="M788.2,161.8 L787.2,162.6 L786.2,163.3 L785.2,164.1 L784.2,164.9 L783.2,165.7 L782.2,166.5 L781.2,167.2 L780.2,168.0 L779.2,168.8 L778.2,169.6 L777.2,170.4 L776.2,171.2 L775.2,171.9 L774.2,172.7 L773.2,173.5 L772.2,174.3 L771.2,175.1 L770.2,175.9 L769.2,176.7 L768.2,177.5 L767.2,178.3 L766.2,179.0 L765.2,179.8 L764.2,180.6 L763.2,181.4 L762.2,182.2 L761.2,183.0 L760.2,183.8 L759.2,184.6 L758.2,185.4 L757.2,186.2 L756.2,187.0 L755.2,187.8 L754.2,188.6 L753.2,189.4 L752.2,190.2 L751.2,190.9 L750.2,191.7 L749.2,192.5 L748.2,193.3 L747.2,194.1 L746.2,194.9 L745.2,195.7 L744.2,196.5 L743.2,197.3 L742.2,198.1 L741.2,198.9 L740.2,199.7 L739.2,200.5 L738.2,201.3 L737.2,202.1 L736.2,202.9 L735.2,203.7 L734.2,204.5 L733.2,205.3 L732.2,206.1 L731.2,206.9 L730.2,207.7 L729.2,208.5 L728.2,209.3 L727.2,210.1 L726.2,210.8 L725.2,211.6 L724.2,212.4 L723.2,213.2 L722.2,214.0" stroke="#55bab2" stroke-width="3.0" stroke-opacity="0.42"/>
<path d="M760.2,183.8 L759.2,184.6 L758.2,185.4 L757.2,186.2 L756.2,187.0 L755.2,187.8" stroke="#1d6a8a" stroke-width="2.2" stroke-opacity="0.75"/>
<path d="M766.2,179.0 L765.2,179.8 L764.2,180.6 L763.2,181.4 L762.2,182.2" stroke="#1d6a8a" stroke-width="2.2" stroke-opacity="0.75"/>
<path d="M844.2,161.8 L845.2,162.6 L846.2,163.3 L847.2,164.1 L848.2,164.9 L849.2,165.7 L850.2,166.5 L851.2,167.2 L852.2,168.0 L853.2,168.8 L854.2,169.6 L855.2,170.4 L856.2,171.2 L857.2,171.9 L858.2,172.7 L859.2,173.5 L860.2,174.3 L861.2,175.1 L862.2,175.9 L863.2,176.7 L864.2,177.5 L865.2,178.3 L866.2,179.0 L867.2,179.8 L868.2,180.6 L869.2,181.4 L870.2,182.2 L871.2,183.0 L872.2,183.8 L873.2,184.6 L874.2,185.4 L875.2,186.2 L876.2,187.0 L877.2,187.8 L878.2,188.6 L879.2,189.4 L880.2,190.2 L881.2,190.9 L882.2,191.7 L883.2,192.5 L884.2,193.3 L885.2,194.1 L886.2,194.9 L887.2,195.7 L888.2,196.5 L889.2,197.3 L890.2,198.1 L891.2,198.9 L892.2,199.7 L893.2,200.5 L894.2,201.3 L895.2,202.1 L896.2,202.9 L897.2,203.7 L898.2,204.5 L899.2,205.3 L900.2,206.1 L901.2,206.9 L902.2,207.7 L903.2,208.5 L904.2,209.3 L905.2,210.1 L906.2,210.8 L907.2,211.6 L908.2,212.4 L909.2,213.2 L910.2,214.0" stroke="#55bab2" stroke-width="3.0" stroke-opacity="0.42"/>
<path d="M873.2,184.6 L874.2,185.4 L875.2,186.2 L876.2,187.0 L877.2,187.8 L878.2,188.6 L879.2,189.4 L880.2,190.2" stroke="#1d6a8a" stroke-width="2.2" stroke-opacity="0.75"/>
<path d="M880.2,190.2 L881.2,190.9 L882.2,191.7 L883.2,192.5 L884.2,193.3 L885.2,194.1" stroke="#1d6a8a" stroke-width="2.2" stroke-opacity="0.75"/>
<path d="M788.2,147.2 L787.2,148.0 L786.2,148.7 L785.2,149.5 L784.2,150.3 L783.2,151.1 L782.2,151.9 L781.2,152.6 L780.2,153.4 L779.2,154.2 L778.2,155.0 L777.2,155.8 L776.2,156.6 L775.2,157.3 L774.2,158.1 L773.2,158.9 L772.2,159.7 L771.2,160.5 L770.2,161.3 L769.2,162.1 L768.2,162.9 L767.2,163.7 L766.2,164.4 L765.2,165.2 L764.2,166.0 L763.2,166.8 L762.2,167.6 L761.2,168.4 L760.2,169.2 L759.2,170.0 L758.2,170.8 L757.2,171.6 L756.2,172.4 L755.2,173.2 L754.2,174.0 L753.2,174.8 L752.2,175.6 L751.2,176.3 L750.2,177.1 L749.2,177.9 L748.2,178.7 L747.2,179.5 L746.2,180.3 L745.2,181.1 L744.2,181.9 L743.2,182.7 L742.2,183.5 L741.2,184.3 L740.2,185.1 L739.2,185.9 L738.2,186.7 L737.2,187.5 L736.2,188.3 L735.2,189.1 L734.2,189.9 L733.2,190.7 L732.2,191.5 L731.2,192.3 L730.2,193.1 L729.2,193.9 L728.2,194.7 L727.2,195.5 L726.2,196.2 L725.2,197.0 L724.2,197.8 L723.2,198.6 L722.2,199.4" stroke="#55bab2" stroke-width="3.0" stroke-opacity="0.42"/>
<path d="M766.2,164.4 L765.2,165.2 L764.2,166.0 L763.2,166.8 L762.2,167.6 L761.2,168.4" stroke="#1d6a8a" stroke-width="2.2" stroke-opacity="0.75"/>
<path d="M769.2,162.1 L768.2,162.9 L767.2,163.7 L766.2,164.4 L765.2,165.2" stroke="#1d6a8a" stroke-width="2.2" stroke-opacity="0.75"/>
<path d="M844.2,147.2 L845.2,148.0 L846.2,148.7 L847.2,149.5 L848.2,150.3 L849.2,151.1 L850.2,151.9 L851.2,152.6 L852.2,153.4 L853.2,154.2 L854.2,155.0 L855.2,155.8 L856.2,156.6 L857.2,157.3 L858.2,158.1 L859.2,158.9 L860.2,159.7 L861.2,160.5 L862.2,161.3 L863.2,162.1 L864.2,162.9 L865.2,163.7 L866.2,164.4 L867.2,165.2 L868.2,166.0 L869.2,166.8 L870.2,167.6 L871.2,168.4 L872.2,169.2 L873.2,170.0 L874.2,170.8 L875.2,171.6 L876.2,172.4 L877.2,173.2 L878.2,174.0 L879.2,174.8 L880.2,175.6 L881.2,176.3 L882.2,177.1 L883.2,177.9 L884.2,178.7 L885.2,179.5 L886.2,180.3 L887.2,181.1 L888.2,181.9 L889.2,182.7 L890.2,183.5 L891.2,184.3 L892.2,185.1 L893.2,185.9 L894.2,186.7 L895.2,187.5 L896.2,188.3 L897.2,189.1 L898.2,189.9 L899.2,190.7 L900.2,191.5 L901.2,192.3 L902.2,193.1 L903.2,193.9 L904.2,194.7 L905.2,195.5 L906.2,196.2 L907.2,197.0 L908.2,197.8 L909.2,198.6 L910.2,199.4" stroke="#55bab2" stroke-width="3.0" stroke-opacity="0.42"/>
<path d="M877.2,173.2 L878.2,174.0 L879.2,174.8 L880.2,175.6 L881.2,176.3" stroke="#1d6a8a" stroke-width="2.2" stroke-opacity="0.75"/>
<path d="M875.2,171.6 L876.2,172.4 L877.2,173.2 L878.2,174.0 L879.2,174.8 L880.2,175.6" stroke="#1d6a8a" stroke-width="2.2" stroke-opacity="0.75"/>
<path d="M788.2,132.6 L787.2,133.4 L786.2,134.1 L785.2,134.9 L784.2,135.7 L783.2,136.5 L782.2,137.3 L781.2,138.0 L780.2,138.8 L779.2,139.6 L778.2,140.4 L777.2,141.2 L776.2,142.0 L775.2,142.7 L774.2,143.5 L773.2,144.3 L772.2,145.1 L771.2,145.9 L770.2,146.7 L769.2,147.5 L768.2,148.3 L767.2,149.1 L766.2,149.8 L765.2,150.6 L764.2,151.4 L763.2,152.2 L762.2,153.0 L761.2,153.8 L760.2,154.6 L759.2,155.4 L758.2,156.2 L757.2,157.0 L756.2,157.8 L755.2,158.6 L754.2,159.4 L753.2,160.2 L752.2,161.0 L751.2,161.7 L750.2,162.5 L749.2,163.3 L748.2,164.1 L747.2,164.9 L746.2,165.7 L745.2,166.5 L744.2,167.3 L743.2,168.1 L742.2,168.9 L741.2,169.7 L740.2,170.5 L739.2,171.3 L738.2,172.1 L737.2,172.9 L736.2,173.7 L735.2,174.5 L734.2,175.3 L733.2,176.1 L732.2,176.9 L731.2,177.7 L730.2,178.5 L729.2,179.3 L728.2,180.1 L727.2,180.9 L726.2,181.6 L725.2,182.4 L724.2,183.2 L723.2,184.0 L722.2,184.8" stroke="#55bab2" stroke-width="3.0" stroke-opacity="0.42"/>
<path d="M748.2,164.1 L747.2,164.9 L746.2,165.7 L745.2,166.5 L744.2,167.3 L743.2,168.1 L742.2,168.9 L741.2,169.7" stroke="#1d6a8a" stroke-width="2.2" stroke-opacity="0.75"/>
<path d="M748.2,164.1 L747.2,164.9 L746.2,165.7 L745.2,166.5 L744.2,167.3 L743.2,168.1 L742.2,168.9" stroke="#1d6a8a" stroke-width="2.2" stroke-opacity="0.75"/>
<path d="M844.2,132.6 L845.2,133.4 L846.2,134.1 L847.2,134.9 L848.2,135.7 L849.2,136.5 L850.2,137.3 L851.2,138.0 L852.2,138.8 L853.2,139.6 L854.2,140.4 L855.2,141.2 L856.2,142.0 L857.2,142.7 L858.2,143.5 L859.2,144.3 L860.2,145.1 L861.2,145.9 L862.2,146.7 L863.2,147.5 L864.2,148.3 L865.2,149.1 L866.2,149.8 L867.2,150.6 L868.2,151.4 L869.2,152.2 L870.2,153.0 L871.2,153.8 L872.2,154.6 L873.2,155.4 L874.2,156.2 L875.2,157.0 L876.2,157.8 L877.2,158.6 L878.2,159.4 L879.2,160.2 L880.2,161.0 L881.2,161.7 L882.2,162.5 L883.2,163.3 L884.2,164.1 L885.2,164.9 L886.2,165.7 L887.2,166.5 L888.2,167.3 L889.2,168.1 L890.2,168.9 L891.2,169.7 L892.2,170.5 L893.2,171.3 L894.2,172.1 L895.2,172.9 L896.2,173.7 L897.2,174.5 L898.2,175.3 L899.2,176.1 L900.2,176.9 L901.2,177.7 L902.2,178.5 L903.2,179.3 L904.2,180.1 L905.2,180.9 L906.2,181.6 L907.2,182.4 L908.2,183.2 L909.2,184.0 L910.2,184.8" stroke="#55bab2" stroke-width="3.0" stroke-opacity="0.42"/>
<path d="M870.2,153.0 L871.2,153.8 L872.2,154.6 L873.2,155.4 L874.2,156.2 L875.2,157.0 L876.2,157.8" stroke="#1d6a8a" stroke-width="2.2" stroke-opacity="0.75"/>
<path d="M868.2,151.4 L869.2,152.2 L870.2,153.0 L871.2,153.8 L872.2,154.6 L873.2,155.4 L874.2,156.2" stroke="#1d6a8a" stroke-width="2.2" stroke-opacity="0.75"/>
<path d="M788.2,118.0 L787.2,118.8 L786.2,119.5 L785.2,120.3 L784.2,121.1 L783.2,121.9 L782.2,122.7 L781.2,123.4 L780.2,124.2 L779.2,125.0 L778.2,125.8 L777.2,126.6 L776.2,127.4 L775.2,128.1 L774.2,128.9 L773.2,129.7 L772.2,130.5 L771.2,131.3 L770.2,132.1 L769.2,132.9 L768.2,133.7 L767.2,134.5 L766.2,135.2 L765.2,136.0 L764.2,136.8 L763.2,137.6 L762.2,138.4 L761.2,139.2 L760.2,140.0 L759.2,140.8 L758.2,141.6 L757.2,142.4 L756.2,143.2 L755.2,144.0 L754.2,144.8 L753.2,145.6 L752.2,146.4 L751.2,147.1 L750.2,147.9 L749.2,148.7 L748.2,149.5 L747.2,150.3 L746.2,151.1 L745.2,151.9 L744.2,152.7 L743.2,153.5 L742.2,154.3 L741.2,155.1 L740.2,155.9 L739.2,156.7 L738.2,157.5 L737.2,158.3 L736.2,159.1 L735.2,159.9 L734.2,160.7 L733.2,161.5 L732.2,162.3 L731.2,163.1 L730.2,163.9 L729.2,164.7 L728.2,165.5 L727.2,166.3 L726.2,167.0 L725.2,167.8 L724.2,168.6 L723.2,169.4 L722.2,170.2" stroke="#55bab2" stroke-width="3.0" stroke-opacity="0.3"/>
<path d="M764.2,136.8 L763.2,137.6 L762.2,138.4 L761.2,139.2 L760.2,140.0 L759.2,140.8" stroke="#1d6a8a" stroke-width="2.2" stroke-opacity="0.75"/>
<path d="M775.2,128.1 L774.2,128.9 L773.2,129.7 L772.2,130.5 L771.2,131.3" stroke="#1d6a8a" stroke-width="2.2" stroke-opacity="0.75"/>
<path d="M844.2,118.0 L845.2,118.8 L846.2,119.5 L847.2,120.3 L848.2,121.1 L849.2,121.9 L850.2,122.7 L851.2,123.4 L852.2,124.2 L853.2,125.0 L854.2,125.8 L855.2,126.6 L856.2,127.4 L857.2,128.1 L858.2,128.9 L859.2,129.7 L860.2,130.5 L861.2,131.3 L862.2,132.1 L863.2,132.9 L864.2,133.7 L865.2,134.5 L866.2,135.2 L867.2,136.0 L868.2,136.8 L869.2,137.6 L870.2,138.4 L871.2,139.2 L872.2,140.0 L873.2,140.8 L874.2,141.6 L875.2,142.4 L876.2,143.2 L877.2,144.0 L878.2,144.8 L879.2,145.6 L880.2,146.4 L881.2,147.1 L882.2,147.9 L883.2,148.7 L884.2,149.5 L885.2,150.3 L886.2,151.1 L887.2,151.9 L888.2,152.7 L889.2,153.5 L890.2,154.3 L891.2,155.1 L892.2,155.9 L893.2,156.7 L894.2,157.5 L895.2,158.3 L896.2,159.1 L897.2,159.9 L898.2,160.7 L899.2,161.5 L900.2,162.3 L901.2,163.1 L902.2,163.9 L903.2,164.7 L904.2,165.5 L905.2,166.3 L906.2,167.0 L907.2,167.8 L908.2,168.6 L909.2,169.4 L910.2,170.2" stroke="#55bab2" stroke-width="3.0" stroke-opacity="0.3"/>
<path d="M898.2,160.7 L899.2,161.5 L900.2,162.3 L901.2,163.1 L902.2,163.9" stroke="#1d6a8a" stroke-width="2.2" stroke-opacity="0.75"/>
<path d="M884.2,149.5 L885.2,150.3 L886.2,151.1 L887.2,151.9 L888.2,152.7 L889.2,153.5 L890.2,154.3" stroke="#1d6a8a" stroke-width="2.2" stroke-opacity="0.75"/>
<path d="M788.2,103.4 L787.2,104.2 L786.2,104.9 L785.2,105.7 L784.2,106.5 L783.2,107.3 L782.2,108.1 L781.2,108.8 L780.2,109.6 L779.2,110.4 L778.2,111.2 L777.2,112.0 L776.2,112.8 L775.2,113.5 L774.2,114.3 L773.2,115.1 L772.2,115.9 L771.2,116.7 L770.2,117.5 L769.2,118.3 L768.2,119.1 L767.2,119.9 L766.2,120.6 L765.2,121.4 L764.2,122.2 L763.2,123.0 L762.2,123.8 L761.2,124.6 L760.2,125.4 L759.2,126.2 L758.2,127.0 L757.2,127.8 L756.2,128.6 L755.2,129.4 L754.2,130.2 L753.2,131.0 L752.2,131.8 L751.2,132.5 L750.2,133.3 L749.2,134.1 L748.2,134.9 L747.2,135.7 L746.2,136.5 L745.2,137.3 L744.2,138.1 L743.2,138.9 L742.2,139.7 L741.2,140.5 L740.2,141.3 L739.2,142.1 L738.2,142.9 L737.2,143.7 L736.2,144.5 L735.2,145.3 L734.2,146.1 L733.2,146.9 L732.2,147.7 L731.2,148.5 L730.2,149.3 L729.2,150.1 L728.2,150.9 L727.2,151.7 L726.2,152.4 L725.2,153.2 L724.2,154.0 L723.2,154.8 L722.2,155.6" stroke="#55bab2" stroke-width="3.0" stroke-opacity="0.3"/>
<path d="M746.2,136.5 L745.2,137.3 L744.2,138.1 L743.2,138.9 L742.2,139.7 L741.2,140.5" stroke="#1d6a8a" stroke-width="2.2" stroke-opacity="0.75"/>
<path d="M751.2,132.5 L750.2,133.3 L749.2,134.1 L748.2,134.9 L747.2,135.7" stroke="#1d6a8a" stroke-width="2.2" stroke-opacity="0.75"/>
<path d="M844.2,103.4 L845.2,104.2 L846.2,104.9 L847.2,105.7 L848.2,106.5 L849.2,107.3 L850.2,108.1 L851.2,108.8 L852.2,109.6 L853.2,110.4 L854.2,111.2 L855.2,112.0 L856.2,112.8 L857.2,113.5 L858.2,114.3 L859.2,115.1 L860.2,115.9 L861.2,116.7 L862.2,117.5 L863.2,118.3 L864.2,119.1 L865.2,119.9 L866.2,120.6 L867.2,121.4 L868.2,122.2 L869.2,123.0 L870.2,123.8 L871.2,124.6 L872.2,125.4 L873.2,126.2 L874.2,127.0 L875.2,127.8 L876.2,128.6 L877.2,129.4 L878.2,130.2 L879.2,131.0 L880.2,131.8 L881.2,132.5 L882.2,133.3 L883.2,134.1 L884.2,134.9 L885.2,135.7 L886.2,136.5 L887.2,137.3 L888.2,138.1 L889.2,138.9 L890.2,139.7 L891.2,140.5 L892.2,141.3 L893.2,142.1 L894.2,142.9 L895.2,143.7 L896.2,144.5 L897.2,145.3 L898.2,146.1 L899.2,146.9 L900.2,147.7 L901.2,148.5 L902.2,149.3 L903.2,150.1 L904.2,150.9 L905.2,151.7 L906.2,152.4 L907.2,153.2 L908.2,154.0 L909.2,154.8 L910.2,155.6" stroke="#55bab2" stroke-width="3.0" stroke-opacity="0.3"/>
<path d="M857.2,113.5 L858.2,114.3 L859.2,115.1 L860.2,115.9 L861.2,116.7" stroke="#1d6a8a" stroke-width="2.2" stroke-opacity="0.75"/>
<path d="M861.2,116.7 L862.2,117.5 L863.2,118.3 L864.2,119.1 L865.2,119.9" stroke="#1d6a8a" stroke-width="2.2" stroke-opacity="0.75"/>
</g>
<defs><radialGradient id="hazeC" cx="0.5" cy="0.5" r="0.5"><stop offset="0" stop-color="#fff" stop-opacity="1"/><stop offset="0.6" stop-color="#fff" stop-opacity="0.7"/><stop offset="1" stop-color="#fff" stop-opacity="0"/></radialGradient><mask id="mhazeC" maskUnits="userSpaceOnUse" x="729" y="20" width="175" height="250"><rect x="745" y="55" width="145" height="120" fill="url(#hazeC)"/></mask></defs>
<g mask="url(#mhazeC)"><g filter="url(#blur1)" fill="none" stroke="#5cc9bb" stroke-width="4" stroke-opacity="0.6">
<path d="M726.9,-6.7 L727.9,-5.9 L728.9,-5.1 L729.9,-4.3 L730.9,-3.5 L731.9,-2.7 L732.9,-1.9 L733.9,-1.1 L734.9,-0.3 L735.9,0.5 L736.9,1.3 L737.9,2.1 L738.9,2.9 L739.9,3.7 L740.9,4.5 L741.9,5.3 L742.9,6.1 L743.9,6.8 L744.9,7.6 L745.9,8.4 L746.9,9.2 L747.9,10.0 L748.9,10.8 L749.9,11.6 L750.9,12.4 L751.9,13.2 L752.9,14.0 L753.9,14.8 L754.9,15.6 L755.9,16.4 L756.9,17.2 L757.9,18.0 L758.9,18.8 L759.9,19.6 L760.9,20.3 L761.9,21.1 L762.9,21.9 L763.9,22.7 L764.9,23.5 L765.9,24.3 L766.9,25.1 L767.9,25.9 L768.9,26.7 L769.9,27.5 L770.9,28.2 L771.9,29.0 L772.9,29.8 L773.9,30.6 L774.9,31.4 L775.9,32.2 L776.9,32.9 L777.9,33.7 L778.9,34.5 L779.9,35.3 L780.9,36.1 L781.9,36.8 L782.9,37.6 L783.9,38.4 L784.9,39.2 L785.9,39.9 L786.9,40.7 L787.9,41.5 L788.9,42.2 L789.9,43.0 L790.9,43.7 L791.9,44.5 L792.9,45.2 L793.9,46.0 L794.9,46.7 L795.9,47.5 L796.9,48.2 L797.9,48.9 L798.9,49.6 L799.9,50.3 L800.9,51.0 L801.9,51.7 L802.9,52.4 L803.9,53.0 L804.9,53.7 L805.9,54.3 L806.9,54.9 L807.9,55.5 L808.9,56.0 L809.9,56.5 L810.9,56.9 L811.9,57.3 L812.9,57.6 L813.9,57.8 L814.9,58.0 L815.9,58.0 L816.9,58.0 L817.9,57.9 L818.9,57.7 L819.9,57.5 L820.9,57.1 L821.9,56.7 L822.9,56.3 L823.9,55.8 L824.9,55.2 L825.9,54.7 L826.9,54.1 L827.9,53.4 L828.9,52.8 L829.9,52.1 L830.9,51.4 L831.9,50.8 L832.9,50.1 L833.9,49.3 L834.9,48.6 L835.9,47.9 L836.9,47.2 L837.9,46.4 L838.9,45.7 L839.9,44.9 L840.9,44.2 L841.9,43.4 L842.9,42.7 L843.9,41.9 L844.9,41.2 L845.9,40.4 L846.9,39.6 L847.9,38.9 L848.9,38.1 L849.9,37.3 L850.9,36.5 L851.9,35.8 L852.9,35.0 L853.9,34.2 L854.9,33.4 L855.9,32.6 L856.9,31.9 L857.9,31.1 L858.9,30.3 L859.9,29.5 L860.9,28.7 L861.9,27.9 L862.9,27.1 L863.9,26.4 L864.9,25.6 L865.9,24.8 L866.9,24.0 L867.9,23.2 L868.9,22.4 L869.9,21.6 L870.9,20.8 L871.9,20.0 L872.9,19.2 L873.9,18.4 L874.9,17.7 L875.9,16.9 L876.9,16.1 L877.9,15.3 L878.9,14.5 L879.9,13.7 L880.9,12.9 L881.9,12.1 L882.9,11.3 L883.9,10.5 L884.9,9.7 L885.9,8.9 L886.9,8.1 L887.9,7.3 L888.9,6.5 L889.9,5.7 L890.9,4.9 L891.9,4.1 L892.9,3.3 L893.9,2.6 L894.9,1.8 L895.9,1.0 L896.9,0.2 L897.9,-0.6 L898.9,-1.4 L899.9,-2.2 L900.9,-3.0 L901.9,-3.8 L902.9,-4.6 L903.9,-5.4 L904.9,-6.2 L905.9,-7.0"/>
<path d="M726.9,7.9 L727.9,8.7 L728.9,9.5 L729.9,10.3 L730.9,11.1 L731.9,11.9 L732.9,12.7 L733.9,13.5 L734.9,14.3 L735.9,15.1 L736.9,15.9 L737.9,16.7 L738.9,17.5 L739.9,18.3 L740.9,19.1 L741.9,19.9 L742.9,20.7 L743.9,21.4 L744.9,22.2 L745.9,23.0 L746.9,23.8 L747.9,24.6 L748.9,25.4 L749.9,26.2 L750.9,27.0 L751.9,27.8 L752.9,28.6 L753.9,29.4 L754.9,30.2 L755.9,31.0 L756.9,31.8 L757.9,32.6 L758.9,33.4 L759.9,34.1 L760.9,34.9 L761.9,35.7 L762.9,36.5 L763.9,37.3 L764.9,38.1 L765.9,38.9 L766.9,39.7 L767.9,40.5 L768.9,41.2 L769.9,42.0 L770.9,42.8 L771.9,43.6 L772.9,44.4 L773.9,45.2 L774.9,45.9 L775.9,46.7 L776.9,47.5 L777.9,48.3 L778.9,49.0 L779.9,49.8 L780.9,50.6 L781.9,51.4 L782.9,52.1 L783.9,52.9 L784.9,53.6 L785.9,54.4 L786.9,55.1 L787.9,55.9 L788.9,56.6 L789.9,57.4 L790.9,58.1 L791.9,58.8 L792.9,59.6 L793.9,60.3 L794.9,61.0 L795.9,61.7 L796.9,62.4 L797.9,63.0 L798.9,63.7 L799.9,64.3 L800.9,64.9 L801.9,65.5 L802.9,66.0 L803.9,66.5 L804.9,67.0 L805.9,67.4 L806.9,67.7 L807.9,67.9 L808.9,68.1 L809.9,68.2 L810.9,68.3 L811.9,68.3 L812.9,68.2 L813.9,68.2 L814.9,68.2 L815.9,68.1 L816.9,68.1 L817.9,68.2 L818.9,68.2 L819.9,68.2 L820.9,68.3 L821.9,68.2 L822.9,68.2 L823.9,68.1 L824.9,67.9 L825.9,67.6 L826.9,67.2 L827.9,66.8 L828.9,66.3 L829.9,65.8 L830.9,65.3 L831.9,64.7 L832.9,64.1 L833.9,63.4 L834.9,62.8 L835.9,62.1 L836.9,61.4 L837.9,60.7 L838.9,60.0 L839.9,59.3 L840.9,58.6 L841.9,57.8 L842.9,57.1 L843.9,56.3 L844.9,55.6 L845.9,54.8 L846.9,54.1 L847.9,53.3 L848.9,52.6 L849.9,51.8 L850.9,51.0 L851.9,50.3 L852.9,49.5 L853.9,48.7 L854.9,48.0 L855.9,47.2 L856.9,46.4 L857.9,45.6 L858.9,44.8 L859.9,44.1 L860.9,43.3 L861.9,42.5 L862.9,41.7 L863.9,40.9 L864.9,40.1 L865.9,39.4 L866.9,38.6 L867.9,37.8 L868.9,37.0 L869.9,36.2 L870.9,35.4 L871.9,34.6 L872.9,33.8 L873.9,33.0 L874.9,32.2 L875.9,31.5 L876.9,30.7 L877.9,29.9 L878.9,29.1 L879.9,28.3 L880.9,27.5 L881.9,26.7 L882.9,25.9 L883.9,25.1 L884.9,24.3 L885.9,23.5 L886.9,22.7 L887.9,21.9 L888.9,21.1 L889.9,20.3 L890.9,19.5 L891.9,18.7 L892.9,17.9 L893.9,17.2 L894.9,16.4 L895.9,15.6 L896.9,14.8 L897.9,14.0 L898.9,13.2 L899.9,12.4 L900.9,11.6 L901.9,10.8 L902.9,10.0 L903.9,9.2 L904.9,8.4 L905.9,7.6"/>
<path d="M726.9,22.5 L727.9,23.3 L728.9,24.1 L729.9,24.9 L730.9,25.7 L731.9,26.5 L732.9,27.3 L733.9,28.1 L734.9,28.9 L735.9,29.7 L736.9,30.5 L737.9,31.3 L738.9,32.1 L739.9,32.9 L740.9,33.7 L741.9,34.5 L742.9,35.3 L743.9,36.0 L744.9,36.8 L745.9,37.6 L746.9,38.4 L747.9,39.2 L748.9,40.0 L749.9,40.8 L750.9,41.6 L751.9,42.4 L752.9,43.2 L753.9,44.0 L754.9,44.8 L755.9,45.6 L756.9,46.4 L757.9,47.2 L758.9,47.9 L759.9,48.7 L760.9,49.5 L761.9,50.3 L762.9,51.1 L763.9,51.9 L764.9,52.7 L765.9,53.5 L766.9,54.3 L767.9,55.0 L768.9,55.8 L769.9,56.6 L770.9,57.4 L771.9,58.2 L772.9,58.9 L773.9,59.7 L774.9,60.5 L775.9,61.3 L776.9,62.0 L777.9,62.8 L778.9,63.6 L779.9,64.3 L780.9,65.1 L781.9,65.8 L782.9,66.6 L783.9,67.3 L784.9,68.1 L785.9,68.8 L786.9,69.5 L787.9,70.2 L788.9,70.9 L789.9,71.6 L790.9,72.3 L791.9,72.9 L792.9,73.5 L793.9,74.1 L794.9,74.7 L795.9,75.2 L796.9,75.6 L797.9,75.9 L798.9,76.2 L799.9,76.3 L800.9,76.3 L801.9,76.1 L802.9,76.0 L803.9,75.8 L804.9,75.5 L805.9,75.3 L806.9,75.1 L807.9,75.0 L808.9,75.0 L809.9,75.0 L810.9,75.0 L811.9,75.1 L812.9,75.2 L813.9,75.2 L814.9,75.3 L815.9,75.3 L816.9,75.3 L817.9,75.3 L818.9,75.2 L819.9,75.1 L820.9,75.0 L821.9,75.0 L822.9,75.0 L823.9,75.0 L824.9,75.1 L825.9,75.2 L826.9,75.4 L827.9,75.6 L828.9,75.8 L829.9,76.0 L830.9,76.2 L831.9,76.3 L832.9,76.2 L833.9,76.1 L834.9,75.8 L835.9,75.5 L836.9,75.0 L837.9,74.5 L838.9,73.9 L839.9,73.3 L840.9,72.7 L841.9,72.0 L842.9,71.3 L843.9,70.6 L844.9,69.9 L845.9,69.2 L846.9,68.5 L847.9,67.8 L848.9,67.0 L849.9,66.3 L850.9,65.5 L851.9,64.8 L852.9,64.0 L853.9,63.3 L854.9,62.5 L855.9,61.7 L856.9,61.0 L857.9,60.2 L858.9,59.4 L859.9,58.6 L860.9,57.9 L861.9,57.1 L862.9,56.3 L863.9,55.5 L864.9,54.7 L865.9,53.9 L866.9,53.2 L867.9,52.4 L868.9,51.6 L869.9,50.8 L870.9,50.0 L871.9,49.2 L872.9,48.4 L873.9,47.6 L874.9,46.8 L875.9,46.1 L876.9,45.3 L877.9,44.5 L878.9,43.7 L879.9,42.9 L880.9,42.1 L881.9,41.3 L882.9,40.5 L883.9,39.7 L884.9,38.9 L885.9,38.1 L886.9,37.3 L887.9,36.5 L888.9,35.7 L889.9,34.9 L890.9,34.1 L891.9,33.3 L892.9,32.5 L893.9,31.8 L894.9,31.0 L895.9,30.2 L896.9,29.4 L897.9,28.6 L898.9,27.8 L899.9,27.0 L900.9,26.2 L901.9,25.4 L902.9,24.6 L903.9,23.8 L904.9,23.0 L905.9,22.2"/>
<path d="M726.9,37.1 L727.9,37.9 L728.9,38.7 L729.9,39.5 L730.9,40.3 L731.9,41.1 L732.9,41.9 L733.9,42.7 L734.9,43.5 L735.9,44.3 L736.9,45.1 L737.9,45.9 L738.9,46.7 L739.9,47.5 L740.9,48.3 L741.9,49.1 L742.9,49.9 L743.9,50.6 L744.9,51.4 L745.9,52.2 L746.9,53.0 L747.9,53.8 L748.9,54.6 L749.9,55.4 L750.9,56.2 L751.9,57.0 L752.9,57.8 L753.9,58.6 L754.9,59.4 L755.9,60.2 L756.9,61.0 L757.9,61.8 L758.9,62.5 L759.9,63.3 L760.9,64.1 L761.9,64.9 L762.9,65.7 L763.9,66.5 L764.9,67.3 L765.9,68.0 L766.9,68.8 L767.9,69.6 L768.9,70.4 L769.9,71.2 L770.9,71.9 L771.9,72.7 L772.9,73.5 L773.9,74.2 L774.9,75.0 L775.9,75.8 L776.9,76.5 L777.9,77.3 L778.9,78.0 L779.9,78.7 L780.9,79.5 L781.9,80.2 L782.9,80.9 L783.9,81.5 L784.9,82.2 L785.9,82.8 L786.9,83.4 L787.9,83.8 L788.9,84.2 L789.9,84.4 L790.9,84.5 L791.9,84.3 L792.9,84.1 L793.9,83.7 L794.9,83.4 L795.9,83.0 L796.9,82.7 L797.9,82.5 L798.9,82.3 L799.9,82.3 L800.9,82.3 L801.9,82.5 L802.9,82.7 L803.9,83.0 L804.9,83.3 L805.9,83.5 L806.9,83.7 L807.9,83.8 L808.9,83.9 L809.9,83.9 L810.9,83.8 L811.9,83.7 L812.9,83.6 L813.9,83.5 L814.9,83.4 L815.9,83.4 L816.9,83.4 L817.9,83.4 L818.9,83.5 L819.9,83.6 L820.9,83.7 L821.9,83.8 L822.9,83.9 L823.9,83.9 L824.9,83.8 L825.9,83.6 L826.9,83.4 L827.9,83.2 L828.9,82.9 L829.9,82.6 L830.9,82.4 L831.9,82.3 L832.9,82.3 L833.9,82.4 L834.9,82.6 L835.9,82.8 L836.9,83.2 L837.9,83.5 L838.9,83.9 L839.9,84.2 L840.9,84.4 L841.9,84.5 L842.9,84.4 L843.9,84.1 L844.9,83.7 L845.9,83.1 L846.9,82.6 L847.9,81.9 L848.9,81.3 L849.9,80.6 L850.9,79.9 L851.9,79.2 L852.9,78.5 L853.9,77.7 L854.9,77.0 L855.9,76.2 L856.9,75.5 L857.9,74.7 L858.9,73.9 L859.9,73.2 L860.9,72.4 L861.9,71.6 L862.9,70.9 L863.9,70.1 L864.9,69.3 L865.9,68.5 L866.9,67.7 L867.9,67.0 L868.9,66.2 L869.9,65.4 L870.9,64.6 L871.9,63.8 L872.9,63.0 L873.9,62.2 L874.9,61.4 L875.9,60.6 L876.9,59.9 L877.9,59.1 L878.9,58.3 L879.9,57.5 L880.9,56.7 L881.9,55.9 L882.9,55.1 L883.9,54.3 L884.9,53.5 L885.9,52.7 L886.9,51.9 L887.9,51.1 L888.9,50.3 L889.9,49.5 L890.9,48.7 L891.9,47.9 L892.9,47.1 L893.9,46.3 L894.9,45.6 L895.9,44.8 L896.9,44.0 L897.9,43.2 L898.9,42.4 L899.9,41.6 L900.9,40.8 L901.9,40.0 L902.9,39.2 L903.9,38.4 L904.9,37.6 L905.9,36.8"/>
<path d="M726.9,51.7 L727.9,52.5 L728.9,53.3 L729.9,54.1 L730.9,54.9 L731.9,55.7 L732.9,56.5 L733.9,57.3 L734.9,58.1 L735.9,58.9 L736.9,59.7 L737.9,60.5 L738.9,61.3 L739.9,62.1 L740.9,62.9 L741.9,63.7 L742.9,64.5 L743.9,65.2 L744.9,66.0 L745.9,66.8 L746.9,67.6 L747.9,68.4 L748.9,69.2 L749.9,70.0 L750.9,70.8 L751.9,71.6 L752.9,72.4 L753.9,73.2 L754.9,74.0 L755.9,74.8 L756.9,75.6 L757.9,76.3 L758.9,77.1 L759.9,77.9 L760.9,78.7 L761.9,79.5 L762.9,80.3 L763.9,81.1 L764.9,81.8 L765.9,82.6 L766.9,83.4 L767.9,84.2 L768.9,84.9 L769.9,85.7 L770.9,86.5 L771.9,87.2 L772.9,88.0 L773.9,88.7 L774.9,89.4 L775.9,90.1 L776.9,90.8 L777.9,91.4 L778.9,92.0 L779.9,92.4 L780.9,92.6 L781.9,92.5 L782.9,92.2 L783.9,91.8 L784.9,91.3 L785.9,90.8 L786.9,90.3 L787.9,89.9 L788.9,89.5 L789.9,89.3 L790.9,89.3 L791.9,89.5 L792.9,89.7 L793.9,90.1 L794.9,90.5 L795.9,90.8 L796.9,91.1 L797.9,91.4 L798.9,91.5 L799.9,91.5 L800.9,91.3 L801.9,91.1 L802.9,90.8 L803.9,90.6 L804.9,90.3 L805.9,90.0 L806.9,89.8 L807.9,89.7 L808.9,89.7 L809.9,89.7 L810.9,89.7 L811.9,89.8 L812.9,90.0 L813.9,90.1 L814.9,90.1 L815.9,90.2 L816.9,90.2 L817.9,90.1 L818.9,90.0 L819.9,89.9 L820.9,89.8 L821.9,89.7 L822.9,89.7 L823.9,89.7 L824.9,89.7 L825.9,89.9 L826.9,90.1 L827.9,90.4 L828.9,90.7 L829.9,91.0 L830.9,91.2 L831.9,91.4 L832.9,91.5 L833.9,91.4 L834.9,91.3 L835.9,91.0 L836.9,90.7 L837.9,90.3 L838.9,89.9 L839.9,89.6 L840.9,89.4 L841.9,89.3 L842.9,89.4 L843.9,89.6 L844.9,90.0 L845.9,90.5 L846.9,91.0 L847.9,91.5 L848.9,92.0 L849.9,92.4 L850.9,92.6 L851.9,92.6 L852.9,92.3 L853.9,91.8 L854.9,91.2 L855.9,90.5 L856.9,89.8 L857.9,89.1 L858.9,88.4 L859.9,87.7 L860.9,86.9 L861.9,86.2 L862.9,85.4 L863.9,84.6 L864.9,83.9 L865.9,83.1 L866.9,82.3 L867.9,81.5 L868.9,80.7 L869.9,80.0 L870.9,79.2 L871.9,78.4 L872.9,77.6 L873.9,76.8 L874.9,76.0 L875.9,75.2 L876.9,74.5 L877.9,73.7 L878.9,72.9 L879.9,72.1 L880.9,71.3 L881.9,70.5 L882.9,69.7 L883.9,68.9 L884.9,68.1 L885.9,67.3 L886.9,66.5 L887.9,65.7 L888.9,64.9 L889.9,64.1 L890.9,63.3 L891.9,62.5 L892.9,61.7 L893.9,60.9 L894.9,60.2 L895.9,59.4 L896.9,58.6 L897.9,57.8 L898.9,57.0 L899.9,56.2 L900.9,55.4 L901.9,54.6 L902.9,53.8 L903.9,53.0 L904.9,52.2 L905.9,51.4"/>
<path d="M726.9,66.3 L727.9,67.1 L728.9,67.9 L729.9,68.7 L730.9,69.5 L731.9,70.3 L732.9,71.1 L733.9,71.9 L734.9,72.7 L735.9,73.5 L736.9,74.3 L737.9,75.1 L738.9,75.9 L739.9,76.7 L740.9,77.5 L741.9,78.3 L742.9,79.1 L743.9,79.8 L744.9,80.6 L745.9,81.4 L746.9,82.2 L747.9,83.0 L748.9,83.8 L749.9,84.6 L750.9,85.4 L751.9,86.2 L752.9,87.0 L753.9,87.8 L754.9,88.6 L755.9,89.4 L756.9,90.1 L757.9,90.9 L758.9,91.7 L759.9,92.5 L760.9,93.3 L761.9,94.1 L762.9,94.8 L763.9,95.6 L764.9,96.4 L765.9,97.1 L766.9,97.9 L767.9,98.6 L768.9,99.3 L769.9,100.0 L770.9,100.5 L771.9,100.6 L772.9,100.4 L773.9,99.9 L774.9,99.2 L775.9,98.6 L776.9,98.0 L777.9,97.4 L778.9,96.8 L779.9,96.4 L780.9,96.2 L781.9,96.3 L782.9,96.6 L783.9,97.0 L784.9,97.5 L785.9,98.1 L786.9,98.6 L787.9,99.0 L788.9,99.3 L789.9,99.4 L790.9,99.4 L791.9,99.2 L792.9,98.8 L793.9,98.5 L794.9,98.1 L795.9,97.7 L796.9,97.4 L797.9,97.1 L798.9,97.0 L799.9,97.0 L800.9,97.2 L801.9,97.4 L802.9,97.7 L803.9,97.9 L804.9,98.2 L805.9,98.5 L806.9,98.7 L807.9,98.8 L808.9,98.8 L809.9,98.8 L810.9,98.7 L811.9,98.6 L812.9,98.5 L813.9,98.4 L814.9,98.3 L815.9,98.3 L816.9,98.3 L817.9,98.3 L818.9,98.4 L819.9,98.5 L820.9,98.7 L821.9,98.8 L822.9,98.8 L823.9,98.8 L824.9,98.8 L825.9,98.6 L826.9,98.4 L827.9,98.1 L828.9,97.8 L829.9,97.5 L830.9,97.3 L831.9,97.1 L832.9,97.0 L833.9,97.1 L834.9,97.2 L835.9,97.5 L836.9,97.8 L837.9,98.2 L838.9,98.6 L839.9,99.0 L840.9,99.3 L841.9,99.4 L842.9,99.4 L843.9,99.2 L844.9,98.8 L845.9,98.4 L846.9,97.9 L847.9,97.3 L848.9,96.9 L849.9,96.4 L850.9,96.2 L851.9,96.3 L852.9,96.5 L853.9,97.0 L854.9,97.6 L855.9,98.2 L856.9,98.9 L857.9,99.5 L858.9,100.1 L859.9,100.5 L860.9,100.6 L861.9,100.3 L862.9,99.7 L863.9,99.1 L864.9,98.3 L865.9,97.6 L866.9,96.8 L867.9,96.1 L868.9,95.3 L869.9,94.5 L870.9,93.8 L871.9,93.0 L872.9,92.2 L873.9,91.4 L874.9,90.6 L875.9,89.8 L876.9,89.0 L877.9,88.3 L878.9,87.5 L879.9,86.7 L880.9,85.9 L881.9,85.1 L882.9,84.3 L883.9,83.5 L884.9,82.7 L885.9,81.9 L886.9,81.1 L887.9,80.3 L888.9,79.5 L889.9,78.7 L890.9,77.9 L891.9,77.1 L892.9,76.3 L893.9,75.5 L894.9,74.8 L895.9,74.0 L896.9,73.2 L897.9,72.4 L898.9,71.6 L899.9,70.8 L900.9,70.0 L901.9,69.2 L902.9,68.4 L903.9,67.6 L904.9,66.8 L905.9,66.0"/>
<path d="M726.9,80.9 L727.9,81.7 L728.9,82.5 L729.9,83.3 L730.9,84.1 L731.9,84.9 L732.9,85.7 L733.9,86.5 L734.9,87.3 L735.9,88.1 L736.9,88.9 L737.9,89.7 L738.9,90.5 L739.9,91.3 L740.9,92.1 L741.9,92.9 L742.9,93.7 L743.9,94.4 L744.9,95.2 L745.9,96.0 L746.9,96.8 L747.9,97.6 L748.9,98.4 L749.9,99.2 L750.9,100.0 L751.9,100.8 L752.9,101.6 L753.9,102.4 L754.9,103.2 L755.9,103.9 L756.9,104.7 L757.9,105.5 L758.9,106.3 L759.9,107.0 L760.9,107.7 L761.9,108.3 L762.9,108.4 L763.9,107.9 L764.9,107.2 L765.9,106.5 L766.9,105.8 L767.9,105.0 L768.9,104.3 L769.9,103.7 L770.9,103.2 L771.9,103.1 L772.9,103.3 L773.9,103.8 L774.9,104.5 L775.9,105.1 L776.9,105.7 L777.9,106.3 L778.9,106.9 L779.9,107.3 L780.9,107.4 L781.9,107.3 L782.9,107.0 L783.9,106.5 L784.9,106.0 L785.9,105.4 L786.9,104.9 L787.9,104.5 L788.9,104.2 L789.9,104.0 L790.9,104.1 L791.9,104.3 L792.9,104.6 L793.9,105.0 L794.9,105.4 L795.9,105.7 L796.9,106.0 L797.9,106.3 L798.9,106.4 L799.9,106.3 L800.9,106.2 L801.9,105.9 L802.9,105.6 L803.9,105.3 L804.9,105.0 L805.9,104.7 L806.9,104.5 L807.9,104.4 L808.9,104.3 L809.9,104.4 L810.9,104.5 L811.9,104.6 L812.9,104.7 L813.9,104.8 L814.9,104.9 L815.9,104.9 L816.9,104.9 L817.9,104.9 L818.9,104.8 L819.9,104.6 L820.9,104.5 L821.9,104.4 L822.9,104.4 L823.9,104.4 L824.9,104.4 L825.9,104.6 L826.9,104.8 L827.9,105.1 L828.9,105.4 L829.9,105.7 L830.9,106.0 L831.9,106.2 L832.9,106.3 L833.9,106.3 L834.9,106.2 L835.9,105.9 L836.9,105.6 L837.9,105.2 L838.9,104.8 L839.9,104.4 L840.9,104.2 L841.9,104.0 L842.9,104.1 L843.9,104.3 L844.9,104.7 L845.9,105.1 L846.9,105.6 L847.9,106.2 L848.9,106.7 L849.9,107.1 L850.9,107.4 L851.9,107.4 L852.9,107.1 L853.9,106.7 L854.9,106.1 L855.9,105.5 L856.9,104.8 L857.9,104.2 L858.9,103.6 L859.9,103.2 L860.9,103.1 L861.9,103.4 L862.9,104.0 L863.9,104.6 L864.9,105.3 L865.9,106.0 L866.9,106.8 L867.9,107.5 L868.9,108.1 L869.9,108.5 L870.9,108.1 L871.9,107.5 L872.9,106.7 L873.9,106.0 L874.9,105.2 L875.9,104.4 L876.9,103.6 L877.9,102.8 L878.9,102.1 L879.9,101.3 L880.9,100.5 L881.9,99.7 L882.9,98.9 L883.9,98.1 L884.9,97.3 L885.9,96.5 L886.9,95.7 L887.9,94.9 L888.9,94.1 L889.9,93.3 L890.9,92.5 L891.9,91.7 L892.9,90.9 L893.9,90.1 L894.9,89.4 L895.9,88.6 L896.9,87.8 L897.9,87.0 L898.9,86.2 L899.9,85.4 L900.9,84.6 L901.9,83.8 L902.9,83.0 L903.9,82.2 L904.9,81.4 L905.9,80.6"/>
<path d="M726.9,95.5 L727.9,96.3 L728.9,97.1 L729.9,97.9 L730.9,98.7 L731.9,99.5 L732.9,100.3 L733.9,101.1 L734.9,101.9 L735.9,102.7 L736.9,103.5 L737.9,104.3 L738.9,105.1 L739.9,105.9 L740.9,106.7 L741.9,107.5 L742.9,108.2 L743.9,109.0 L744.9,109.8 L745.9,110.6 L746.9,111.4 L747.9,112.2 L748.9,113.0 L749.9,113.8 L750.9,114.6 L751.9,115.3 L752.9,116.0 L753.9,115.9 L754.9,115.2 L755.9,114.4 L756.9,113.6 L757.9,112.9 L758.9,112.1 L759.9,111.4 L760.9,110.6 L761.9,110.1 L762.9,110.0 L763.9,110.5 L764.9,111.2 L765.9,111.9 L766.9,112.7 L767.9,113.4 L768.9,114.1 L769.9,114.7 L770.9,115.2 L771.9,115.4 L772.9,115.1 L773.9,114.5 L774.9,113.9 L775.9,113.2 L776.9,112.6 L777.9,112.0 L778.9,111.4 L779.9,111.0 L780.9,110.9 L781.9,111.0 L782.9,111.3 L783.9,111.8 L784.9,112.3 L785.9,112.9 L786.9,113.4 L787.9,113.8 L788.9,114.1 L789.9,114.2 L790.9,114.2 L791.9,113.9 L792.9,113.6 L793.9,113.2 L794.9,112.8 L795.9,112.4 L796.9,112.0 L797.9,111.8 L798.9,111.7 L799.9,111.7 L800.9,111.9 L801.9,112.1 L802.9,112.4 L803.9,112.7 L804.9,113.0 L805.9,113.3 L806.9,113.5 L807.9,113.6 L808.9,113.7 L809.9,113.6 L810.9,113.5 L811.9,113.4 L812.9,113.3 L813.9,113.2 L814.9,113.1 L815.9,113.1 L816.9,113.1 L817.9,113.1 L818.9,113.2 L819.9,113.3 L820.9,113.5 L821.9,113.6 L822.9,113.7 L823.9,113.7 L824.9,113.6 L825.9,113.4 L826.9,113.2 L827.9,112.9 L828.9,112.6 L829.9,112.3 L830.9,112.0 L831.9,111.8 L832.9,111.7 L833.9,111.7 L834.9,111.9 L835.9,112.2 L836.9,112.5 L837.9,112.9 L838.9,113.3 L839.9,113.7 L840.9,114.0 L841.9,114.2 L842.9,114.2 L843.9,114.0 L844.9,113.6 L845.9,113.2 L846.9,112.7 L847.9,112.1 L848.9,111.6 L849.9,111.2 L850.9,110.9 L851.9,110.9 L852.9,111.2 L853.9,111.6 L854.9,112.2 L855.9,112.8 L856.9,113.5 L857.9,114.1 L858.9,114.8 L859.9,115.2 L860.9,115.4 L861.9,115.0 L862.9,114.5 L863.9,113.8 L864.9,113.1 L865.9,112.4 L866.9,111.6 L867.9,110.9 L868.9,110.3 L869.9,109.9 L870.9,110.3 L871.9,110.9 L872.9,111.7 L873.9,112.4 L874.9,113.2 L875.9,113.9 L876.9,114.7 L877.9,115.5 L878.9,116.1 L879.9,115.8 L880.9,115.0 L881.9,114.3 L882.9,113.5 L883.9,112.7 L884.9,111.9 L885.9,111.1 L886.9,110.3 L887.9,109.5 L888.9,108.7 L889.9,107.9 L890.9,107.1 L891.9,106.3 L892.9,105.5 L893.9,104.7 L894.9,104.0 L895.9,103.2 L896.9,102.4 L897.9,101.6 L898.9,100.8 L899.9,100.0 L900.9,99.2 L901.9,98.4 L902.9,97.6 L903.9,96.8 L904.9,96.0 L905.9,95.2"/>
<path d="M726.9,110.1 L727.9,110.9 L728.9,111.7 L729.9,112.5 L730.9,113.3 L731.9,114.1 L732.9,114.9 L733.9,115.7 L734.9,116.5 L735.9,117.3 L736.9,118.1 L737.9,118.9 L738.9,119.7 L739.9,120.5 L740.9,121.3 L741.9,122.0 L742.9,122.8 L743.9,123.6 L744.9,123.1 L745.9,122.4 L746.9,121.6 L747.9,120.8 L748.9,120.0 L749.9,119.2 L750.9,118.4 L751.9,117.7 L752.9,117.0 L753.9,117.1 L754.9,117.8 L755.9,118.6 L756.9,119.4 L757.9,120.2 L758.9,120.9 L759.9,121.7 L760.9,122.4 L761.9,123.0 L762.9,123.1 L763.9,122.5 L764.9,121.8 L765.9,121.1 L766.9,120.4 L767.9,119.6 L768.9,118.9 L769.9,118.3 L770.9,117.8 L771.9,117.6 L772.9,117.9 L773.9,118.5 L774.9,119.1 L775.9,119.8 L776.9,120.5 L777.9,121.1 L778.9,121.6 L779.9,122.0 L780.9,122.2 L781.9,122.1 L782.9,121.7 L783.9,121.2 L784.9,120.6 L785.9,120.1 L786.9,119.6 L787.9,119.1 L788.9,118.8 L789.9,118.7 L790.9,118.7 L791.9,119.0 L792.9,119.3 L793.9,119.7 L794.9,120.1 L795.9,120.5 L796.9,120.8 L797.9,121.1 L798.9,121.1 L799.9,121.1 L800.9,120.9 L801.9,120.7 L802.9,120.4 L803.9,120.0 L804.9,119.7 L805.9,119.4 L806.9,119.2 L807.9,119.1 L808.9,119.0 L809.9,119.1 L810.9,119.2 L811.9,119.3 L812.9,119.4 L813.9,119.5 L814.9,119.6 L815.9,119.7 L816.9,119.6 L817.9,119.6 L818.9,119.5 L819.9,119.4 L820.9,119.2 L821.9,119.1 L822.9,119.1 L823.9,119.1 L824.9,119.1 L825.9,119.3 L826.9,119.5 L827.9,119.8 L828.9,120.2 L829.9,120.5 L830.9,120.8 L831.9,121.0 L832.9,121.1 L833.9,121.1 L834.9,121.0 L835.9,120.7 L836.9,120.4 L837.9,120.0 L838.9,119.6 L839.9,119.2 L840.9,118.9 L841.9,118.7 L842.9,118.7 L843.9,118.9 L844.9,119.3 L845.9,119.8 L846.9,120.3 L847.9,120.8 L848.9,121.4 L849.9,121.8 L850.9,122.1 L851.9,122.2 L852.9,121.9 L853.9,121.4 L854.9,120.8 L855.9,120.2 L856.9,119.5 L857.9,118.9 L858.9,118.3 L859.9,117.8 L860.9,117.6 L861.9,118.0 L862.9,118.5 L863.9,119.2 L864.9,119.9 L865.9,120.7 L866.9,121.4 L867.9,122.1 L868.9,122.8 L869.9,123.2 L870.9,122.8 L871.9,122.1 L872.9,121.4 L873.9,120.6 L874.9,119.8 L875.9,119.1 L876.9,118.3 L877.9,117.5 L878.9,116.9 L879.9,117.2 L880.9,118.0 L881.9,118.7 L882.9,119.5 L883.9,120.3 L884.9,121.1 L885.9,121.9 L886.9,122.7 L887.9,123.4 L888.9,123.3 L889.9,122.5 L890.9,121.7 L891.9,120.9 L892.9,120.1 L893.9,119.3 L894.9,118.6 L895.9,117.8 L896.9,117.0 L897.9,116.2 L898.9,115.4 L899.9,114.6 L900.9,113.8 L901.9,113.0 L902.9,112.2 L903.9,111.4 L904.9,110.6 L905.9,109.8"/>
<path d="M726.9,124.7 L727.9,125.5 L728.9,126.3 L729.9,127.1 L730.9,127.9 L731.9,128.7 L732.9,129.5 L733.9,130.3 L734.9,131.0 L735.9,130.3 L736.9,129.5 L737.9,128.7 L738.9,127.9 L739.9,127.1 L740.9,126.3 L741.9,125.6 L742.9,124.8 L743.9,124.0 L744.9,124.5 L745.9,125.3 L746.9,126.0 L747.9,126.8 L748.9,127.6 L749.9,128.4 L750.9,129.2 L751.9,130.0 L752.9,130.7 L753.9,130.5 L754.9,129.8 L755.9,129.0 L756.9,128.2 L757.9,127.5 L758.9,126.7 L759.9,125.9 L760.9,125.2 L761.9,124.6 L762.9,124.6 L763.9,125.1 L764.9,125.8 L765.9,126.6 L766.9,127.3 L767.9,128.0 L768.9,128.7 L769.9,129.4 L770.9,129.9 L771.9,130.1 L772.9,129.8 L773.9,129.2 L774.9,128.5 L775.9,127.9 L776.9,127.2 L777.9,126.6 L778.9,126.0 L779.9,125.6 L780.9,125.5 L781.9,125.6 L782.9,126.0 L783.9,126.5 L784.9,127.0 L785.9,127.6 L786.9,128.1 L787.9,128.5 L788.9,128.9 L789.9,129.0 L790.9,128.9 L791.9,128.7 L792.9,128.3 L793.9,127.9 L794.9,127.5 L795.9,127.1 L796.9,126.7 L797.9,126.5 L798.9,126.4 L799.9,126.4 L800.9,126.6 L801.9,126.9 L802.9,127.2 L803.9,127.5 L804.9,127.8 L805.9,128.1 L806.9,128.3 L807.9,128.4 L808.9,128.4 L809.9,128.4 L810.9,128.3 L811.9,128.2 L812.9,128.0 L813.9,127.9 L814.9,127.8 L815.9,127.8 L816.9,127.8 L817.9,127.9 L818.9,128.0 L819.9,128.1 L820.9,128.2 L821.9,128.4 L822.9,128.4 L823.9,128.4 L824.9,128.4 L825.9,128.2 L826.9,128.0 L827.9,127.7 L828.9,127.4 L829.9,127.0 L830.9,126.7 L831.9,126.5 L832.9,126.4 L833.9,126.4 L834.9,126.6 L835.9,126.8 L836.9,127.2 L837.9,127.6 L838.9,128.1 L839.9,128.5 L840.9,128.8 L841.9,129.0 L842.9,129.0 L843.9,128.7 L844.9,128.4 L845.9,127.9 L846.9,127.4 L847.9,126.8 L848.9,126.3 L849.9,125.8 L850.9,125.5 L851.9,125.5 L852.9,125.8 L853.9,126.2 L854.9,126.8 L855.9,127.5 L856.9,128.1 L857.9,128.8 L858.9,129.4 L859.9,129.9 L860.9,130.1 L861.9,129.7 L862.9,129.2 L863.9,128.5 L864.9,127.7 L865.9,127.0 L866.9,126.3 L867.9,125.5 L868.9,124.9 L869.9,124.5 L870.9,124.8 L871.9,125.5 L872.9,126.2 L873.9,127.0 L874.9,127.8 L875.9,128.6 L876.9,129.3 L877.9,130.1 L878.9,130.7 L879.9,130.4 L880.9,129.7 L881.9,128.9 L882.9,128.1 L883.9,127.3 L884.9,126.5 L885.9,125.7 L886.9,124.9 L887.9,124.2 L888.9,124.3 L889.9,125.1 L890.9,125.9 L891.9,126.7 L892.9,127.5 L893.9,128.3 L894.9,129.0 L895.9,129.8 L896.9,130.6 L897.9,130.8 L898.9,130.0 L899.9,129.2 L900.9,128.4 L901.9,127.6 L902.9,126.8 L903.9,126.0 L904.9,125.2 L905.9,124.4"/>
<path d="M726.9,137.5 L727.9,136.7 L728.9,135.9 L729.9,135.1 L730.9,134.3 L731.9,133.5 L732.9,132.7 L733.9,131.9 L734.9,131.2 L735.9,131.9 L736.9,132.7 L737.9,133.5 L738.9,134.3 L739.9,135.1 L740.9,135.9 L741.9,136.7 L742.9,137.4 L743.9,138.2 L744.9,137.7 L745.9,137.0 L746.9,136.2 L747.9,135.4 L748.9,134.6 L749.9,133.8 L750.9,133.0 L751.9,132.2 L752.9,131.6 L753.9,131.7 L754.9,132.4 L755.9,133.2 L756.9,134.0 L757.9,134.8 L758.9,135.6 L759.9,136.3 L760.9,137.1 L761.9,137.7 L762.9,137.8 L763.9,137.2 L764.9,136.5 L765.9,135.7 L766.9,135.0 L767.9,134.2 L768.9,133.5 L769.9,132.9 L770.9,132.3 L771.9,132.2 L772.9,132.5 L773.9,133.1 L774.9,133.8 L775.9,134.5 L776.9,135.1 L777.9,135.8 L778.9,136.3 L779.9,136.8 L780.9,136.9 L781.9,136.8 L782.9,136.4 L783.9,135.9 L784.9,135.3 L785.9,134.7 L786.9,134.2 L787.9,133.8 L788.9,133.5 L789.9,133.3 L790.9,133.4 L791.9,133.6 L792.9,134.0 L793.9,134.4 L794.9,134.8 L795.9,135.2 L796.9,135.6 L797.9,135.8 L798.9,135.9 L799.9,135.8 L800.9,135.7 L801.9,135.4 L802.9,135.1 L803.9,134.8 L804.9,134.4 L805.9,134.2 L806.9,133.9 L807.9,133.8 L808.9,133.8 L809.9,133.8 L810.9,133.9 L811.9,134.0 L812.9,134.2 L813.9,134.3 L814.9,134.4 L815.9,134.4 L816.9,134.4 L817.9,134.3 L818.9,134.2 L819.9,134.1 L820.9,134.0 L821.9,133.9 L822.9,133.8 L823.9,133.8 L824.9,133.9 L825.9,134.0 L826.9,134.3 L827.9,134.6 L828.9,134.9 L829.9,135.2 L830.9,135.5 L831.9,135.8 L832.9,135.9 L833.9,135.9 L834.9,135.7 L835.9,135.4 L836.9,135.1 L837.9,134.7 L838.9,134.2 L839.9,133.8 L840.9,133.5 L841.9,133.3 L842.9,133.4 L843.9,133.6 L844.9,133.9 L845.9,134.4 L846.9,135.0 L847.9,135.5 L848.9,136.1 L849.9,136.5 L850.9,136.9 L851.9,136.9 L852.9,136.6 L853.9,136.1 L854.9,135.5 L855.9,134.9 L856.9,134.2 L857.9,133.5 L858.9,132.9 L859.9,132.4 L860.9,132.2 L861.9,132.5 L862.9,133.1 L863.9,133.8 L864.9,134.5 L865.9,135.3 L866.9,136.0 L867.9,136.7 L868.9,137.4 L869.9,137.8 L870.9,137.5 L871.9,136.8 L872.9,136.0 L873.9,135.2 L874.9,134.5 L875.9,133.7 L876.9,132.9 L877.9,132.1 L878.9,131.5 L879.9,131.8 L880.9,132.6 L881.9,133.3 L882.9,134.1 L883.9,134.9 L884.9,135.7 L885.9,136.5 L886.9,137.3 L887.9,138.0 L888.9,137.9 L889.9,137.1 L890.9,136.3 L891.9,135.5 L892.9,134.7 L893.9,134.0 L894.9,133.2 L895.9,132.4 L896.9,131.6 L897.9,131.4 L898.9,132.2 L899.9,133.0 L900.9,133.8 L901.9,134.6 L902.9,135.4 L903.9,136.2 L904.9,137.0 L905.9,137.8"/>
<path d="M726.9,152.1 L727.9,151.3 L728.9,150.5 L729.9,149.7 L730.9,148.9 L731.9,148.1 L732.9,147.3 L733.9,146.5 L734.9,145.7 L735.9,144.9 L736.9,144.1 L737.9,143.3 L738.9,142.5 L739.9,141.7 L740.9,140.9 L741.9,140.2 L742.9,139.4 L743.9,138.6 L744.9,139.1 L745.9,139.8 L746.9,140.6 L747.9,141.4 L748.9,142.2 L749.9,143.0 L750.9,143.8 L751.9,144.6 L752.9,145.3 L753.9,145.1 L754.9,144.4 L755.9,143.6 L756.9,142.8 L757.9,142.1 L758.9,141.3 L759.9,140.5 L760.9,139.8 L761.9,139.2 L762.9,139.1 L763.9,139.7 L764.9,140.4 L765.9,141.2 L766.9,141.9 L767.9,142.7 L768.9,143.4 L769.9,144.1 L770.9,144.6 L771.9,144.8 L772.9,144.4 L773.9,143.8 L774.9,143.2 L775.9,142.5 L776.9,141.8 L777.9,141.2 L778.9,140.6 L779.9,140.2 L780.9,140.0 L781.9,140.2 L782.9,140.6 L783.9,141.1 L784.9,141.7 L785.9,142.3 L786.9,142.8 L787.9,143.3 L788.9,143.6 L789.9,143.7 L790.9,143.6 L791.9,143.4 L792.9,143.0 L793.9,142.6 L794.9,142.2 L795.9,141.8 L796.9,141.4 L797.9,141.2 L798.9,141.1 L799.9,141.1 L800.9,141.3 L801.9,141.6 L802.9,141.9 L803.9,142.2 L804.9,142.5 L805.9,142.8 L806.9,143.0 L807.9,143.1 L808.9,143.2 L809.9,143.1 L810.9,143.0 L811.9,142.9 L812.9,142.8 L813.9,142.7 L814.9,142.6 L815.9,142.5 L816.9,142.6 L817.9,142.6 L818.9,142.7 L819.9,142.8 L820.9,143.0 L821.9,143.1 L822.9,143.2 L823.9,143.2 L824.9,143.1 L825.9,142.9 L826.9,142.7 L827.9,142.4 L828.9,142.1 L829.9,141.7 L830.9,141.5 L831.9,141.2 L832.9,141.1 L833.9,141.1 L834.9,141.3 L835.9,141.6 L836.9,141.9 L837.9,142.3 L838.9,142.8 L839.9,143.2 L840.9,143.5 L841.9,143.7 L842.9,143.7 L843.9,143.5 L844.9,143.1 L845.9,142.6 L846.9,142.0 L847.9,141.5 L848.9,140.9 L849.9,140.4 L850.9,140.1 L851.9,140.1 L852.9,140.3 L853.9,140.8 L854.9,141.4 L855.9,142.1 L856.9,142.8 L857.9,143.4 L858.9,144.1 L859.9,144.6 L860.9,144.8 L861.9,144.4 L862.9,143.8 L863.9,143.1 L864.9,142.4 L865.9,141.6 L866.9,140.9 L867.9,140.1 L868.9,139.4 L869.9,139.0 L870.9,139.4 L871.9,140.1 L872.9,140.8 L873.9,141.6 L874.9,142.4 L875.9,143.2 L876.9,143.9 L877.9,144.7 L878.9,145.4 L879.9,145.0 L880.9,144.3 L881.9,143.5 L882.9,142.7 L883.9,141.9 L884.9,141.1 L885.9,140.3 L886.9,139.5 L887.9,138.8 L888.9,138.9 L889.9,139.7 L890.9,140.5 L891.9,141.3 L892.9,142.1 L893.9,142.9 L894.9,143.6 L895.9,144.4 L896.9,145.2 L897.9,146.0 L898.9,146.8 L899.9,147.6 L900.9,148.4 L901.9,149.2 L902.9,150.0 L903.9,150.8 L904.9,151.6 L905.9,152.4"/>
<path d="M726.9,166.7 L727.9,165.9 L728.9,165.1 L729.9,164.3 L730.9,163.5 L731.9,162.7 L732.9,161.9 L733.9,161.1 L734.9,160.3 L735.9,159.5 L736.9,158.7 L737.9,157.9 L738.9,157.1 L739.9,156.3 L740.9,155.5 L741.9,154.7 L742.9,154.0 L743.9,153.2 L744.9,152.4 L745.9,151.6 L746.9,150.8 L747.9,150.0 L748.9,149.2 L749.9,148.4 L750.9,147.6 L751.9,146.8 L752.9,146.1 L753.9,146.3 L754.9,147.0 L755.9,147.8 L756.9,148.6 L757.9,149.4 L758.9,150.2 L759.9,150.9 L760.9,151.7 L761.9,152.3 L762.9,152.4 L763.9,151.8 L764.9,151.1 L765.9,150.3 L766.9,149.6 L767.9,148.8 L768.9,148.1 L769.9,147.4 L770.9,146.9 L771.9,146.7 L772.9,147.1 L773.9,147.7 L774.9,148.4 L775.9,149.1 L776.9,149.8 L777.9,150.4 L778.9,151.0 L779.9,151.5 L780.9,151.7 L781.9,151.5 L782.9,151.1 L783.9,150.5 L784.9,150.0 L785.9,149.4 L786.9,148.9 L787.9,148.4 L788.9,148.1 L789.9,148.0 L790.9,148.0 L791.9,148.3 L792.9,148.7 L793.9,149.1 L794.9,149.5 L795.9,149.9 L796.9,150.3 L797.9,150.5 L798.9,150.6 L799.9,150.6 L800.9,150.4 L801.9,150.2 L802.9,149.8 L803.9,149.5 L804.9,149.2 L805.9,148.9 L806.9,148.7 L807.9,148.6 L808.9,148.5 L809.9,148.6 L810.9,148.7 L811.9,148.8 L812.9,148.9 L813.9,149.0 L814.9,149.1 L815.9,149.1 L816.9,149.1 L817.9,149.1 L818.9,149.0 L819.9,148.9 L820.9,148.7 L821.9,148.6 L822.9,148.5 L823.9,148.5 L824.9,148.6 L825.9,148.8 L826.9,149.0 L827.9,149.3 L828.9,149.6 L829.9,150.0 L830.9,150.3 L831.9,150.5 L832.9,150.6 L833.9,150.6 L834.9,150.4 L835.9,150.1 L836.9,149.8 L837.9,149.4 L838.9,148.9 L839.9,148.5 L840.9,148.2 L841.9,148.0 L842.9,148.0 L843.9,148.2 L844.9,148.6 L845.9,149.1 L846.9,149.6 L847.9,150.2 L848.9,150.8 L849.9,151.3 L850.9,151.6 L851.9,151.6 L852.9,151.3 L853.9,150.8 L854.9,150.2 L855.9,149.5 L856.9,148.8 L857.9,148.1 L858.9,147.5 L859.9,146.9 L860.9,146.7 L861.9,147.1 L862.9,147.7 L863.9,148.4 L864.9,149.1 L865.9,149.9 L866.9,150.6 L867.9,151.4 L868.9,152.1 L869.9,152.5 L870.9,152.1 L871.9,151.4 L872.9,150.6 L873.9,149.9 L874.9,149.1 L875.9,148.3 L876.9,147.5 L877.9,146.7 L878.9,146.0 L879.9,146.4 L880.9,147.1 L881.9,147.9 L882.9,148.7 L883.9,149.5 L884.9,150.3 L885.9,151.1 L886.9,151.9 L887.9,152.7 L888.9,153.5 L889.9,154.3 L890.9,155.1 L891.9,155.9 L892.9,156.7 L893.9,157.5 L894.9,158.2 L895.9,159.0 L896.9,159.8 L897.9,160.6 L898.9,161.4 L899.9,162.2 L900.9,163.0 L901.9,163.8 L902.9,164.6 L903.9,165.4 L904.9,166.2 L905.9,167.0"/>
<path d="M726.9,181.3 L727.9,180.5 L728.9,179.7 L729.9,178.9 L730.9,178.1 L731.9,177.3 L732.9,176.5 L733.9,175.7 L734.9,174.9 L735.9,174.1 L736.9,173.3 L737.9,172.5 L738.9,171.7 L739.9,170.9 L740.9,170.1 L741.9,169.3 L742.9,168.5 L743.9,167.8 L744.9,167.0 L745.9,166.2 L746.9,165.4 L747.9,164.6 L748.9,163.8 L749.9,163.0 L750.9,162.2 L751.9,161.4 L752.9,160.6 L753.9,159.8 L754.9,159.0 L755.9,158.2 L756.9,157.5 L757.9,156.7 L758.9,155.9 L759.9,155.1 L760.9,154.4 L761.9,153.7 L762.9,153.7 L763.9,154.3 L764.9,155.0 L765.9,155.8 L766.9,156.5 L767.9,157.3 L768.9,158.0 L769.9,158.7 L770.9,159.3 L771.9,159.5 L772.9,159.1 L773.9,158.5 L774.9,157.8 L775.9,157.1 L776.9,156.5 L777.9,155.8 L778.9,155.2 L779.9,154.8 L780.9,154.6 L781.9,154.8 L782.9,155.2 L783.9,155.8 L784.9,156.3 L785.9,156.9 L786.9,157.5 L787.9,157.9 L788.9,158.3 L789.9,158.5 L790.9,158.4 L791.9,158.1 L792.9,157.8 L793.9,157.4 L794.9,156.9 L795.9,156.5 L796.9,156.2 L797.9,155.9 L798.9,155.8 L799.9,155.9 L800.9,156.0 L801.9,156.3 L802.9,156.6 L803.9,156.9 L804.9,157.2 L805.9,157.5 L806.9,157.7 L807.9,157.8 L808.9,157.9 L809.9,157.9 L810.9,157.8 L811.9,157.6 L812.9,157.5 L813.9,157.4 L814.9,157.3 L815.9,157.3 L816.9,157.3 L817.9,157.3 L818.9,157.4 L819.9,157.6 L820.9,157.7 L821.9,157.8 L822.9,157.9 L823.9,157.9 L824.9,157.8 L825.9,157.6 L826.9,157.4 L827.9,157.1 L828.9,156.8 L829.9,156.5 L830.9,156.2 L831.9,155.9 L832.9,155.8 L833.9,155.8 L834.9,156.0 L835.9,156.3 L836.9,156.7 L837.9,157.1 L838.9,157.5 L839.9,157.9 L840.9,158.3 L841.9,158.4 L842.9,158.4 L843.9,158.2 L844.9,157.8 L845.9,157.3 L846.9,156.7 L847.9,156.1 L848.9,155.5 L849.9,155.0 L850.9,154.7 L851.9,154.6 L852.9,154.9 L853.9,155.4 L854.9,156.1 L855.9,156.7 L856.9,157.4 L857.9,158.1 L858.9,158.8 L859.9,159.3 L860.9,159.5 L861.9,159.1 L862.9,158.5 L863.9,157.7 L864.9,157.0 L865.9,156.2 L866.9,155.5 L867.9,154.7 L868.9,154.0 L869.9,153.6 L870.9,154.0 L871.9,154.7 L872.9,155.4 L873.9,156.2 L874.9,157.0 L875.9,157.8 L876.9,158.6 L877.9,159.3 L878.9,160.1 L879.9,160.9 L880.9,161.7 L881.9,162.5 L882.9,163.3 L883.9,164.1 L884.9,164.9 L885.9,165.7 L886.9,166.5 L887.9,167.3 L888.9,168.1 L889.9,168.9 L890.9,169.7 L891.9,170.5 L892.9,171.3 L893.9,172.0 L894.9,172.8 L895.9,173.6 L896.9,174.4 L897.9,175.2 L898.9,176.0 L899.9,176.8 L900.9,177.6 L901.9,178.4 L902.9,179.2 L903.9,180.0 L904.9,180.8 L905.9,181.6"/>
<path d="M726.9,195.9 L727.9,195.1 L728.9,194.3 L729.9,193.5 L730.9,192.7 L731.9,191.9 L732.9,191.1 L733.9,190.3 L734.9,189.5 L735.9,188.7 L736.9,187.9 L737.9,187.1 L738.9,186.3 L739.9,185.5 L740.9,184.7 L741.9,183.9 L742.9,183.1 L743.9,182.4 L744.9,181.6 L745.9,180.8 L746.9,180.0 L747.9,179.2 L748.9,178.4 L749.9,177.6 L750.9,176.8 L751.9,176.0 L752.9,175.2 L753.9,174.4 L754.9,173.6 L755.9,172.8 L756.9,172.0 L757.9,171.2 L758.9,170.5 L759.9,169.7 L760.9,168.9 L761.9,168.1 L762.9,167.3 L763.9,166.5 L764.9,165.8 L765.9,165.0 L766.9,164.2 L767.9,163.5 L768.9,162.7 L769.9,162.0 L770.9,161.5 L771.9,161.3 L772.9,161.7 L773.9,162.3 L774.9,163.0 L775.9,163.7 L776.9,164.4 L777.9,165.1 L778.9,165.7 L779.9,166.2 L780.9,166.4 L781.9,166.2 L782.9,165.8 L783.9,165.3 L784.9,164.7 L785.9,164.1 L786.9,163.6 L787.9,163.1 L788.9,162.8 L789.9,162.6 L790.9,162.7 L791.9,162.9 L792.9,163.3 L793.9,163.8 L794.9,164.2 L795.9,164.6 L796.9,165.0 L797.9,165.2 L798.9,165.3 L799.9,165.3 L800.9,165.2 L801.9,164.9 L802.9,164.6 L803.9,164.3 L804.9,164.0 L805.9,163.7 L806.9,163.5 L807.9,163.4 L808.9,163.3 L809.9,163.4 L810.9,163.5 L811.9,163.6 L812.9,163.7 L813.9,163.8 L814.9,163.9 L815.9,163.9 L816.9,163.9 L817.9,163.9 L818.9,163.8 L819.9,163.7 L820.9,163.5 L821.9,163.4 L822.9,163.4 L823.9,163.4 L824.9,163.4 L825.9,163.6 L826.9,163.8 L827.9,164.1 L828.9,164.4 L829.9,164.8 L830.9,165.0 L831.9,165.2 L832.9,165.3 L833.9,165.3 L834.9,165.1 L835.9,164.8 L836.9,164.5 L837.9,164.0 L838.9,163.6 L839.9,163.2 L840.9,162.8 L841.9,162.6 L842.9,162.7 L843.9,162.9 L844.9,163.3 L845.9,163.8 L846.9,164.4 L847.9,164.9 L848.9,165.5 L849.9,166.0 L850.9,166.3 L851.9,166.3 L852.9,166.0 L853.9,165.5 L854.9,164.8 L855.9,164.1 L856.9,163.4 L857.9,162.7 L858.9,162.0 L859.9,161.5 L860.9,161.3 L861.9,161.7 L862.9,162.3 L863.9,163.0 L864.9,163.8 L865.9,164.5 L866.9,165.3 L867.9,166.1 L868.9,166.8 L869.9,167.6 L870.9,168.4 L871.9,169.2 L872.9,170.0 L873.9,170.8 L874.9,171.6 L875.9,172.4 L876.9,173.1 L877.9,173.9 L878.9,174.7 L879.9,175.5 L880.9,176.3 L881.9,177.1 L882.9,177.9 L883.9,178.7 L884.9,179.5 L885.9,180.3 L886.9,181.1 L887.9,181.9 L888.9,182.7 L889.9,183.5 L890.9,184.3 L891.9,185.1 L892.9,185.9 L893.9,186.6 L894.9,187.4 L895.9,188.2 L896.9,189.0 L897.9,189.8 L898.9,190.6 L899.9,191.4 L900.9,192.2 L901.9,193.0 L902.9,193.8 L903.9,194.6 L904.9,195.4 L905.9,196.2"/>
<path d="M726.9,210.5 L727.9,209.7 L728.9,208.9 L729.9,208.1 L730.9,207.3 L731.9,206.5 L732.9,205.7 L733.9,204.9 L734.9,204.1 L735.9,203.3 L736.9,202.5 L737.9,201.7 L738.9,200.9 L739.9,200.1 L740.9,199.3 L741.9,198.5 L742.9,197.7 L743.9,197.0 L744.9,196.2 L745.9,195.4 L746.9,194.6 L747.9,193.8 L748.9,193.0 L749.9,192.2 L750.9,191.4 L751.9,190.6 L752.9,189.8 L753.9,189.0 L754.9,188.2 L755.9,187.4 L756.9,186.6 L757.9,185.8 L758.9,185.0 L759.9,184.3 L760.9,183.5 L761.9,182.7 L762.9,181.9 L763.9,181.1 L764.9,180.3 L765.9,179.5 L766.9,178.7 L767.9,178.0 L768.9,177.2 L769.9,176.4 L770.9,175.6 L771.9,174.9 L772.9,174.1 L773.9,173.4 L774.9,172.6 L775.9,171.9 L776.9,171.2 L777.9,170.5 L778.9,169.9 L779.9,169.4 L780.9,169.2 L781.9,169.4 L782.9,169.8 L783.9,170.4 L784.9,171.0 L785.9,171.6 L786.9,172.1 L787.9,172.6 L788.9,173.0 L789.9,173.2 L790.9,173.2 L791.9,173.0 L792.9,172.6 L793.9,172.2 L794.9,171.8 L795.9,171.3 L796.9,171.0 L797.9,170.7 L798.9,170.6 L799.9,170.6 L800.9,170.8 L801.9,171.0 L802.9,171.3 L803.9,171.6 L804.9,171.9 L805.9,172.2 L806.9,172.4 L807.9,172.5 L808.9,172.6 L809.9,172.6 L810.9,172.5 L811.9,172.4 L812.9,172.3 L813.9,172.1 L814.9,172.1 L815.9,172.0 L816.9,172.0 L817.9,172.1 L818.9,172.2 L819.9,172.3 L820.9,172.4 L821.9,172.5 L822.9,172.6 L823.9,172.6 L824.9,172.5 L825.9,172.3 L826.9,172.1 L827.9,171.8 L828.9,171.5 L829.9,171.2 L830.9,170.9 L831.9,170.7 L832.9,170.6 L833.9,170.7 L834.9,170.8 L835.9,171.1 L836.9,171.5 L837.9,171.9 L838.9,172.4 L839.9,172.8 L840.9,173.1 L841.9,173.2 L842.9,173.2 L843.9,172.9 L844.9,172.4 L845.9,171.9 L846.9,171.3 L847.9,170.7 L848.9,170.1 L849.9,169.6 L850.9,169.3 L851.9,169.3 L852.9,169.6 L853.9,170.1 L854.9,170.8 L855.9,171.5 L856.9,172.2 L857.9,172.9 L858.9,173.7 L859.9,174.4 L860.9,175.2 L861.9,176.0 L862.9,176.7 L863.9,177.5 L864.9,178.3 L865.9,179.1 L866.9,179.8 L867.9,180.6 L868.9,181.4 L869.9,182.2 L870.9,183.0 L871.9,183.8 L872.9,184.6 L873.9,185.4 L874.9,186.2 L875.9,186.9 L876.9,187.7 L877.9,188.5 L878.9,189.3 L879.9,190.1 L880.9,190.9 L881.9,191.7 L882.9,192.5 L883.9,193.3 L884.9,194.1 L885.9,194.9 L886.9,195.7 L887.9,196.5 L888.9,197.3 L889.9,198.1 L890.9,198.9 L891.9,199.7 L892.9,200.5 L893.9,201.2 L894.9,202.0 L895.9,202.8 L896.9,203.6 L897.9,204.4 L898.9,205.2 L899.9,206.0 L900.9,206.8 L901.9,207.6 L902.9,208.4 L903.9,209.2 L904.9,210.0 L905.9,210.8"/>
<path d="M726.9,225.1 L727.9,224.3 L728.9,223.5 L729.9,222.7 L730.9,221.9 L731.9,221.1 L732.9,220.3 L733.9,219.5 L734.9,218.7 L735.9,217.9 L736.9,217.1 L737.9,216.3 L738.9,215.5 L739.9,214.7 L740.9,213.9 L741.9,213.1 L742.9,212.3 L743.9,211.6 L744.9,210.8 L745.9,210.0 L746.9,209.2 L747.9,208.4 L748.9,207.6 L749.9,206.8 L750.9,206.0 L751.9,205.2 L752.9,204.4 L753.9,203.6 L754.9,202.8 L755.9,202.0 L756.9,201.2 L757.9,200.4 L758.9,199.6 L759.9,198.8 L760.9,198.1 L761.9,197.3 L762.9,196.5 L763.9,195.7 L764.9,194.9 L765.9,194.1 L766.9,193.3 L767.9,192.5 L768.9,191.8 L769.9,191.0 L770.9,190.2 L771.9,189.4 L772.9,188.6 L773.9,187.9 L774.9,187.1 L775.9,186.3 L776.9,185.6 L777.9,184.8 L778.9,184.0 L779.9,183.3 L780.9,182.6 L781.9,181.8 L782.9,181.1 L783.9,180.4 L784.9,179.7 L785.9,179.1 L786.9,178.5 L787.9,178.0 L788.9,177.6 L789.9,177.4 L790.9,177.4 L791.9,177.7 L792.9,178.0 L793.9,178.4 L794.9,178.9 L795.9,179.3 L796.9,179.6 L797.9,179.9 L798.9,180.1 L799.9,180.1 L800.9,180.0 L801.9,179.8 L802.9,179.5 L803.9,179.2 L804.9,179.0 L805.9,178.7 L806.9,178.5 L807.9,178.4 L808.9,178.3 L809.9,178.3 L810.9,178.4 L811.9,178.5 L812.9,178.6 L813.9,178.7 L814.9,178.8 L815.9,178.8 L816.9,178.8 L817.9,178.7 L818.9,178.7 L819.9,178.6 L820.9,178.5 L821.9,178.4 L822.9,178.3 L823.9,178.3 L824.9,178.4 L825.9,178.6 L826.9,178.8 L827.9,179.1 L828.9,179.4 L829.9,179.6 L830.9,179.9 L831.9,180.1 L832.9,180.1 L833.9,180.0 L834.9,179.8 L835.9,179.5 L836.9,179.1 L837.9,178.7 L838.9,178.3 L839.9,177.9 L840.9,177.5 L841.9,177.4 L842.9,177.5 L843.9,177.7 L844.9,178.2 L845.9,178.7 L846.9,179.3 L847.9,180.0 L848.9,180.7 L849.9,181.4 L850.9,182.1 L851.9,182.8 L852.9,183.6 L853.9,184.3 L854.9,185.1 L855.9,185.9 L856.9,186.6 L857.9,187.4 L858.9,188.2 L859.9,188.9 L860.9,189.7 L861.9,190.5 L862.9,191.3 L863.9,192.1 L864.9,192.9 L865.9,193.6 L866.9,194.4 L867.9,195.2 L868.9,196.0 L869.9,196.8 L870.9,197.6 L871.9,198.4 L872.9,199.2 L873.9,200.0 L874.9,200.7 L875.9,201.5 L876.9,202.3 L877.9,203.1 L878.9,203.9 L879.9,204.7 L880.9,205.5 L881.9,206.3 L882.9,207.1 L883.9,207.9 L884.9,208.7 L885.9,209.5 L886.9,210.3 L887.9,211.1 L888.9,211.9 L889.9,212.7 L890.9,213.5 L891.9,214.3 L892.9,215.1 L893.9,215.8 L894.9,216.6 L895.9,217.4 L896.9,218.2 L897.9,219.0 L898.9,219.8 L899.9,220.6 L900.9,221.4 L901.9,222.2 L902.9,223.0 L903.9,223.8 L904.9,224.6 L905.9,225.4"/>
</g></g>
<g filter="url(#blur2)" fill="none" stroke="#5cc9bb" stroke-width="8" stroke-opacity="0.7">
<path d="M722.0,156.0 L770.8,118.0"/>
<path d="M722.0,170.5 L776.0,128.0"/>
<path d="M861.0,117.4 L910.0,157.5"/>
<path d="M863.4,132.3 L910.0,172.5"/>
</g>
<g fill="none" stroke="#071015" stroke-width="3.4" stroke-linecap="round">
<path d="M722.0,156.0 L770.8,118.0"/>
<path d="M722.0,170.5 L776.0,128.0"/>
<path d="M861.0,117.4 L910.0,157.5"/>
<path d="M863.4,132.3 L910.0,172.5"/>
</g>
<g filter="url(#blur2)" fill="none" stroke="#5cc9bb" stroke-width="9" stroke-opacity="0.55" stroke-linecap="round">
<path d="M781.0,105.8 L787.6,107.1"/>
<path d="M790.4,113.8 L798.8,111.4"/>
<path d="M769.0,132.0 L779.2,126.3"/>
<path d="M788.5,127.3 L797.0,124.5"/>
<path d="M779.2,136.6 L787.6,133.8"/>
<path d="M761.5,125.4 L766.2,123.5"/>
<path d="M798.6,140.0 L814.8,143.7"/>
<path d="M815.0,103.0 L835.5,108.6"/>
<path d="M818.7,118.2 L830.0,119.6"/>
<path d="M847.6,124.5 L858.8,130.0"/>
<path d="M859.7,116.0 L866.2,120.7"/>
<path d="M788.7,156.7 L797.4,153.6"/>
<path d="M803.6,154.9 L816.0,158.0"/>
<path d="M831.5,150.2 L836.5,150.6"/>
<path d="M833.0,134.7 L836.0,135.3"/>
<path d="M843.0,140.0 L847.0,141.0"/>
<path d="M772.0,118.5 L775.0,117.5"/>
<path d="M853.0,112.0 L856.0,113.5"/>
</g>
<g fill="#071015">
<ellipse cx="784.3" cy="106.4" rx="5.2" ry="1.98" transform="rotate(11.1 784.3 106.4)"/>
<ellipse cx="794.6" cy="112.6" rx="6.2" ry="2.42" transform="rotate(-15.9 794.6 112.6)"/>
<ellipse cx="774.1" cy="129.2" rx="7.6" ry="2.20" transform="rotate(-29.2 774.1 129.2)"/>
<ellipse cx="792.8" cy="125.9" rx="6.3" ry="2.09" transform="rotate(-18.2 792.8 125.9)"/>
<ellipse cx="783.4" cy="135.2" rx="6.2" ry="2.09" transform="rotate(-18.4 783.4 135.2)"/>
<ellipse cx="763.9" cy="124.5" rx="4.3" ry="1.76" transform="rotate(-22.0 763.9 124.5)"/>
<ellipse cx="806.7" cy="141.8" rx="10.1" ry="2.31" transform="rotate(12.9 806.7 141.8)"/>
<ellipse cx="825.2" cy="105.8" rx="12.4" ry="2.53" transform="rotate(15.3 825.2 105.8)"/>
<ellipse cx="824.4" cy="118.9" rx="7.5" ry="1.98" transform="rotate(7.1 824.4 118.9)"/>
<ellipse cx="853.2" cy="127.2" rx="8.0" ry="2.64" transform="rotate(26.2 853.2 127.2)"/>
<ellipse cx="863.0" cy="118.3" rx="5.8" ry="1.98" transform="rotate(35.9 863.0 118.3)"/>
<ellipse cx="793.0" cy="155.1" rx="6.4" ry="2.09" transform="rotate(-19.6 793.0 155.1)"/>
<ellipse cx="809.8" cy="156.4" rx="8.2" ry="2.09" transform="rotate(14.0 809.8 156.4)"/>
<ellipse cx="834.0" cy="150.4" rx="4.3" ry="2.20" transform="rotate(4.6 834.0 150.4)"/>
<ellipse cx="834.5" cy="135.0" rx="3.3" ry="1.65" transform="rotate(11.3 834.5 135.0)"/>
<ellipse cx="845.0" cy="140.5" rx="3.9" ry="1.65" transform="rotate(14.0 845.0 140.5)"/>
<ellipse cx="773.5" cy="118.0" rx="3.4" ry="1.65" transform="rotate(-18.4 773.5 118.0)"/>
<ellipse cx="854.5" cy="112.8" rx="3.5" ry="1.65" transform="rotate(26.6 854.5 112.8)"/>
</g>
</g>
<g clip-path="url(#clipC)" fill="none" stroke="#3e76f7" stroke-opacity="0.6" stroke-width="1.4" stroke-linejoin="round">
<path d="M726.9,-24.3 L727.6,-23.7 L728.4,-23.1 L729.1,-22.5 L729.9,-21.9 L730.6,-21.3 L731.4,-20.7 L732.1,-20.1 L732.9,-19.5 L733.6,-18.9 L734.4,-18.3 L735.1,-17.7 L735.9,-17.1 L736.6,-16.5 L737.4,-15.9 L738.1,-15.3 L738.9,-14.7 L739.6,-14.1 L740.4,-13.5 L741.1,-12.9 L741.9,-12.3 L742.6,-11.7 L743.4,-11.1 L744.1,-10.6 L744.9,-10.0 L745.6,-9.4 L746.4,-8.8 L747.1,-8.2 L747.9,-7.6 L748.6,-7.0 L749.4,-6.4 L750.1,-5.8 L750.9,-5.2 L751.6,-4.6 L752.4,-4.0 L753.1,-3.4 L753.9,-2.8 L754.6,-2.2 L755.4,-1.6 L756.1,-1.0 L756.9,-0.4 L757.6,0.2 L758.4,0.8 L759.1,1.4 L759.9,2.0 L760.6,2.6 L761.4,3.2 L762.1,3.7 L762.9,4.3 L763.6,4.9 L764.4,5.5 L765.1,6.1 L765.9,6.7 L766.6,7.3 L767.4,7.9 L768.1,8.5 L768.9,9.1 L769.6,9.7 L770.4,10.3 L771.1,10.9 L771.9,11.5 L772.6,12.0 L773.4,12.6 L774.1,13.2 L774.9,13.8 L775.6,14.4 L776.4,15.0 L777.1,15.6 L777.9,16.2 L778.6,16.8 L779.4,17.4 L780.1,17.9 L780.9,18.5 L781.6,19.1 L782.4,19.7 L783.1,20.3 L783.9,20.9 L784.6,21.5 L785.4,22.0 L786.1,22.6 L786.9,23.2 L787.6,23.8 L788.4,24.4 L789.1,24.9 L789.9,25.5 L790.6,26.1 L791.4,26.7 L792.1,27.2 L792.9,27.8 L793.6,28.4 L794.4,29.0 L795.1,29.5 L795.9,30.1 L796.6,30.6 L797.4,31.2 L798.1,31.8 L798.9,32.3 L799.6,32.9 L800.4,33.4 L801.1,33.9 L801.9,34.5 L802.6,35.0 L803.4,35.5 L804.1,36.0 L804.9,36.6 L805.6,37.0 L806.4,37.5 L807.1,38.0 L807.9,38.5 L808.6,38.9 L809.4,39.3 L810.1,39.7 L810.9,40.1 L811.6,40.4 L812.4,40.7 L813.1,40.9 L813.9,41.1 L814.6,41.3 L815.4,41.4 L816.1,41.4 L816.9,41.4 L817.6,41.3 L818.4,41.1 L819.1,41.0 L819.9,40.7 L820.6,40.4 L821.4,40.1 L822.1,39.7 L822.9,39.4 L823.6,38.9 L824.4,38.5 L825.1,38.1 L825.9,37.6 L826.6,37.1 L827.4,36.6 L828.1,36.1 L828.9,35.6 L829.6,35.1 L830.4,34.6 L831.1,34.0 L831.9,33.5 L832.6,32.9 L833.4,32.4 L834.1,31.8 L834.9,31.3 L835.6,30.7 L836.4,30.2 L837.1,29.6 L837.9,29.0 L838.6,28.5 L839.4,27.9 L840.1,27.3 L840.9,26.7 L841.6,26.2 L842.4,25.6 L843.1,25.0 L843.9,24.4 L844.6,23.9 L845.4,23.3 L846.1,22.7 L846.9,22.1 L847.6,21.5 L848.4,21.0 L849.1,20.4 L849.9,19.8 L850.6,19.2 L851.4,18.6 L852.1,18.0 L852.9,17.4 L853.6,16.8 L854.4,16.3 L855.1,15.7 L855.9,15.1 L856.6,14.5 L857.4,13.9 L858.1,13.3 L858.9,12.7 L859.6,12.1 L860.4,11.5 L861.1,10.9 L861.9,10.4 L862.6,9.8 L863.4,9.2 L864.1,8.6 L864.9,8.0 L865.6,7.4 L866.4,6.8 L867.1,6.2 L867.9,5.6 L868.6,5.0 L869.4,4.4 L870.1,3.8 L870.9,3.2 L871.6,2.6 L872.4,2.0 L873.1,1.4 L873.9,0.9 L874.6,0.3 L875.4,-0.3 L876.1,-0.9 L876.9,-1.5 L877.6,-2.1 L878.4,-2.7 L879.1,-3.3 L879.9,-3.9 L880.6,-4.5 L881.4,-5.1 L882.1,-5.7 L882.9,-6.3 L883.6,-6.9 L884.4,-7.5 L885.1,-8.1 L885.9,-8.7 L886.6,-9.3 L887.4,-9.9 L888.1,-10.5 L888.9,-11.1 L889.6,-11.7 L890.4,-12.3 L891.1,-12.9 L891.9,-13.5 L892.6,-14.1 L893.4,-14.7 L894.1,-15.2 L894.9,-15.8 L895.6,-16.4 L896.4,-17.0 L897.1,-17.6 L897.9,-18.2 L898.6,-18.8 L899.4,-19.4 L900.1,-20.0 L900.9,-20.6 L901.6,-21.2 L902.4,-21.8 L903.1,-22.4 L903.9,-23.0 L904.6,-23.6 L905.4,-24.2 L906.1,-24.8"/>
<path d="M726.9,-9.7 L727.6,-9.1 L728.4,-8.5 L729.1,-7.9 L729.9,-7.3 L730.6,-6.7 L731.4,-6.1 L732.1,-5.5 L732.9,-4.9 L733.6,-4.3 L734.4,-3.7 L735.1,-3.1 L735.9,-2.5 L736.6,-1.9 L737.4,-1.3 L738.1,-0.7 L738.9,-0.1 L739.6,0.5 L740.4,1.1 L741.1,1.7 L741.9,2.3 L742.6,2.9 L743.4,3.5 L744.1,4.0 L744.9,4.6 L745.6,5.2 L746.4,5.8 L747.1,6.4 L747.9,7.0 L748.6,7.6 L749.4,8.2 L750.1,8.8 L750.9,9.4 L751.6,10.0 L752.4,10.6 L753.1,11.2 L753.9,11.8 L754.6,12.4 L755.4,13.0 L756.1,13.6 L756.9,14.2 L757.6,14.8 L758.4,15.4 L759.1,16.0 L759.9,16.6 L760.6,17.1 L761.4,17.7 L762.1,18.3 L762.9,18.9 L763.6,19.5 L764.4,20.1 L765.1,20.7 L765.9,21.3 L766.6,21.9 L767.4,22.5 L768.1,23.1 L768.9,23.7 L769.6,24.3 L770.4,24.8 L771.1,25.4 L771.9,26.0 L772.6,26.6 L773.4,27.2 L774.1,27.8 L774.9,28.4 L775.6,29.0 L776.4,29.6 L777.1,30.1 L777.9,30.7 L778.6,31.3 L779.4,31.9 L780.1,32.5 L780.9,33.1 L781.6,33.6 L782.4,34.2 L783.1,34.8 L783.9,35.4 L784.6,36.0 L785.4,36.5 L786.1,37.1 L786.9,37.7 L787.6,38.3 L788.4,38.8 L789.1,39.4 L789.9,40.0 L790.6,40.6 L791.4,41.1 L792.1,41.7 L792.9,42.2 L793.6,42.8 L794.4,43.4 L795.1,43.9 L795.9,44.5 L796.6,45.0 L797.4,45.6 L798.1,46.1 L798.9,46.6 L799.6,47.2 L800.4,47.7 L801.1,48.2 L801.9,48.7 L802.6,49.2 L803.4,49.7 L804.1,50.2 L804.9,50.7 L805.6,51.1 L806.4,51.6 L807.1,52.0 L807.9,52.5 L808.6,52.9 L809.4,53.2 L810.1,53.6 L810.9,53.9 L811.6,54.2 L812.4,54.4 L813.1,54.6 L813.9,54.8 L814.6,54.9 L815.4,55.0 L816.1,55.0 L816.9,55.0 L817.6,55.0 L818.4,54.8 L819.1,54.7 L819.9,54.5 L820.6,54.2 L821.4,53.9 L822.1,53.6 L822.9,53.3 L823.6,52.9 L824.4,52.5 L825.1,52.1 L825.9,51.7 L826.6,51.2 L827.4,50.7 L828.1,50.3 L828.9,49.8 L829.6,49.3 L830.4,48.8 L831.1,48.3 L831.9,47.8 L832.6,47.2 L833.4,46.7 L834.1,46.2 L834.9,45.6 L835.6,45.1 L836.4,44.5 L837.1,44.0 L837.9,43.4 L838.6,42.9 L839.4,42.3 L840.1,41.8 L840.9,41.2 L841.6,40.6 L842.4,40.1 L843.1,39.5 L843.9,38.9 L844.6,38.3 L845.4,37.8 L846.1,37.2 L846.9,36.6 L847.6,36.0 L848.4,35.5 L849.1,34.9 L849.9,34.3 L850.6,33.7 L851.4,33.1 L852.1,32.6 L852.9,32.0 L853.6,31.4 L854.4,30.8 L855.1,30.2 L855.9,29.6 L856.6,29.0 L857.4,28.5 L858.1,27.9 L858.9,27.3 L859.6,26.7 L860.4,26.1 L861.1,25.5 L861.9,24.9 L862.6,24.3 L863.4,23.7 L864.1,23.2 L864.9,22.6 L865.6,22.0 L866.4,21.4 L867.1,20.8 L867.9,20.2 L868.6,19.6 L869.4,19.0 L870.1,18.4 L870.9,17.8 L871.6,17.2 L872.4,16.6 L873.1,16.0 L873.9,15.4 L874.6,14.9 L875.4,14.3 L876.1,13.7 L876.9,13.1 L877.6,12.5 L878.4,11.9 L879.1,11.3 L879.9,10.7 L880.6,10.1 L881.4,9.5 L882.1,8.9 L882.9,8.3 L883.6,7.7 L884.4,7.1 L885.1,6.5 L885.9,5.9 L886.6,5.3 L887.4,4.7 L888.1,4.1 L888.9,3.5 L889.6,2.9 L890.4,2.3 L891.1,1.7 L891.9,1.1 L892.6,0.5 L893.4,-0.1 L894.1,-0.6 L894.9,-1.2 L895.6,-1.8 L896.4,-2.4 L897.1,-3.0 L897.9,-3.6 L898.6,-4.2 L899.4,-4.8 L900.1,-5.4 L900.9,-6.0 L901.6,-6.6 L902.4,-7.2 L903.1,-7.8 L903.9,-8.4 L904.6,-9.0 L905.4,-9.6 L906.1,-10.2"/>
<path d="M726.9,4.9 L727.6,5.5 L728.4,6.1 L729.1,6.7 L729.9,7.3 L730.6,7.9 L731.4,8.5 L732.1,9.1 L732.9,9.7 L733.6,10.3 L734.4,10.9 L735.1,11.5 L735.9,12.1 L736.6,12.7 L737.4,13.3 L738.1,13.9 L738.9,14.5 L739.6,15.1 L740.4,15.7 L741.1,16.3 L741.9,16.9 L742.6,17.5 L743.4,18.1 L744.1,18.6 L744.9,19.2 L745.6,19.8 L746.4,20.4 L747.1,21.0 L747.9,21.6 L748.6,22.2 L749.4,22.8 L750.1,23.4 L750.9,24.0 L751.6,24.6 L752.4,25.2 L753.1,25.8 L753.9,26.4 L754.6,27.0 L755.4,27.6 L756.1,28.2 L756.9,28.8 L757.6,29.4 L758.4,30.0 L759.1,30.6 L759.9,31.1 L760.6,31.7 L761.4,32.3 L762.1,32.9 L762.9,33.5 L763.6,34.1 L764.4,34.7 L765.1,35.3 L765.9,35.9 L766.6,36.5 L767.4,37.1 L768.1,37.7 L768.9,38.2 L769.6,38.8 L770.4,39.4 L771.1,40.0 L771.9,40.6 L772.6,41.2 L773.4,41.8 L774.1,42.4 L774.9,42.9 L775.6,43.5 L776.4,44.1 L777.1,44.7 L777.9,45.3 L778.6,45.9 L779.4,46.4 L780.1,47.0 L780.9,47.6 L781.6,48.2 L782.4,48.7 L783.1,49.3 L783.9,49.9 L784.6,50.4 L785.4,51.0 L786.1,51.6 L786.9,52.1 L787.6,52.7 L788.4,53.3 L789.1,53.8 L789.9,54.4 L790.6,54.9 L791.4,55.5 L792.1,56.0 L792.9,56.6 L793.6,57.1 L794.4,57.6 L795.1,58.2 L795.9,58.7 L796.6,59.2 L797.4,59.7 L798.1,60.2 L798.9,60.7 L799.6,61.1 L800.4,61.6 L801.1,62.1 L801.9,62.5 L802.6,62.9 L803.4,63.3 L804.1,63.7 L804.9,64.0 L805.6,64.3 L806.4,64.5 L807.1,64.8 L807.9,64.9 L808.6,65.1 L809.4,65.2 L810.1,65.2 L810.9,65.3 L811.6,65.3 L812.4,65.2 L813.1,65.2 L813.9,65.2 L814.6,65.2 L815.4,65.1 L816.1,65.1 L816.9,65.1 L817.6,65.2 L818.4,65.2 L819.1,65.2 L819.9,65.2 L820.6,65.3 L821.4,65.3 L822.1,65.2 L822.9,65.2 L823.6,65.1 L824.4,65.0 L825.1,64.8 L825.9,64.6 L826.6,64.3 L827.4,64.0 L828.1,63.7 L828.9,63.3 L829.6,63.0 L830.4,62.5 L831.1,62.1 L831.9,61.7 L832.6,61.2 L833.4,60.7 L834.1,60.3 L834.9,59.8 L835.6,59.3 L836.4,58.7 L837.1,58.2 L837.9,57.7 L838.6,57.2 L839.4,56.6 L840.1,56.1 L840.9,55.6 L841.6,55.0 L842.4,54.5 L843.1,53.9 L843.9,53.3 L844.6,52.8 L845.4,52.2 L846.1,51.7 L846.9,51.1 L847.6,50.5 L848.4,50.0 L849.1,49.4 L849.9,48.8 L850.6,48.2 L851.4,47.7 L852.1,47.1 L852.9,46.5 L853.6,45.9 L854.4,45.3 L855.1,44.8 L855.9,44.2 L856.6,43.6 L857.4,43.0 L858.1,42.4 L858.9,41.8 L859.6,41.3 L860.4,40.7 L861.1,40.1 L861.9,39.5 L862.6,38.9 L863.4,38.3 L864.1,37.7 L864.9,37.1 L865.6,36.6 L866.4,36.0 L867.1,35.4 L867.9,34.8 L868.6,34.2 L869.4,33.6 L870.1,33.0 L870.9,32.4 L871.6,31.8 L872.4,31.2 L873.1,30.6 L873.9,30.0 L874.6,29.4 L875.4,28.9 L876.1,28.3 L876.9,27.7 L877.6,27.1 L878.4,26.5 L879.1,25.9 L879.9,25.3 L880.6,24.7 L881.4,24.1 L882.1,23.5 L882.9,22.9 L883.6,22.3 L884.4,21.7 L885.1,21.1 L885.9,20.5 L886.6,19.9 L887.4,19.3 L888.1,18.7 L888.9,18.1 L889.6,17.5 L890.4,16.9 L891.1,16.3 L891.9,15.7 L892.6,15.1 L893.4,14.5 L894.1,14.0 L894.9,13.4 L895.6,12.8 L896.4,12.2 L897.1,11.6 L897.9,11.0 L898.6,10.4 L899.4,9.8 L900.1,9.2 L900.9,8.6 L901.6,8.0 L902.4,7.4 L903.1,6.8 L903.9,6.2 L904.6,5.6 L905.4,5.0 L906.1,4.4"/>
<path d="M726.9,19.5 L727.6,20.1 L728.4,20.7 L729.1,21.3 L729.9,21.9 L730.6,22.5 L731.4,23.1 L732.1,23.7 L732.9,24.3 L733.6,24.9 L734.4,25.5 L735.1,26.1 L735.9,26.7 L736.6,27.3 L737.4,27.9 L738.1,28.5 L738.9,29.1 L739.6,29.7 L740.4,30.3 L741.1,30.9 L741.9,31.5 L742.6,32.1 L743.4,32.6 L744.1,33.2 L744.9,33.8 L745.6,34.4 L746.4,35.0 L747.1,35.6 L747.9,36.2 L748.6,36.8 L749.4,37.4 L750.1,38.0 L750.9,38.6 L751.6,39.2 L752.4,39.8 L753.1,40.4 L753.9,41.0 L754.6,41.6 L755.4,42.2 L756.1,42.8 L756.9,43.4 L757.6,44.0 L758.4,44.6 L759.1,45.1 L759.9,45.7 L760.6,46.3 L761.4,46.9 L762.1,47.5 L762.9,48.1 L763.6,48.7 L764.4,49.3 L765.1,49.9 L765.9,50.5 L766.6,51.1 L767.4,51.6 L768.1,52.2 L768.9,52.8 L769.6,53.4 L770.4,54.0 L771.1,54.6 L771.9,55.2 L772.6,55.7 L773.4,56.3 L774.1,56.9 L774.9,57.5 L775.6,58.1 L776.4,58.6 L777.1,59.2 L777.9,59.8 L778.6,60.4 L779.4,60.9 L780.1,61.5 L780.9,62.1 L781.6,62.6 L782.4,63.2 L783.1,63.8 L783.9,64.3 L784.6,64.9 L785.4,65.4 L786.1,66.0 L786.9,66.5 L787.6,67.0 L788.4,67.6 L789.1,68.1 L789.9,68.6 L790.6,69.1 L791.4,69.6 L792.1,70.1 L792.9,70.5 L793.6,71.0 L794.4,71.4 L795.1,71.8 L795.9,72.2 L796.6,72.5 L797.4,72.8 L798.1,73.0 L798.9,73.2 L799.6,73.3 L800.4,73.3 L801.1,73.2 L801.9,73.1 L802.6,73.0 L803.4,72.9 L804.1,72.7 L804.9,72.5 L805.6,72.4 L806.4,72.2 L807.1,72.1 L807.9,72.0 L808.6,72.0 L809.4,72.0 L810.1,72.0 L810.9,72.0 L811.6,72.1 L812.4,72.1 L813.1,72.2 L813.9,72.2 L814.6,72.3 L815.4,72.3 L816.1,72.3 L816.9,72.3 L817.6,72.3 L818.4,72.2 L819.1,72.2 L819.9,72.1 L820.6,72.1 L821.4,72.0 L822.1,72.0 L822.9,72.0 L823.6,72.0 L824.4,72.0 L825.1,72.1 L825.9,72.2 L826.6,72.3 L827.4,72.5 L828.1,72.7 L828.9,72.8 L829.6,73.0 L830.4,73.1 L831.1,73.2 L831.9,73.3 L832.6,73.3 L833.4,73.2 L834.1,73.0 L834.9,72.8 L835.6,72.6 L836.4,72.2 L837.1,71.9 L837.9,71.5 L838.6,71.1 L839.4,70.6 L840.1,70.1 L840.9,69.7 L841.6,69.2 L842.4,68.7 L843.1,68.2 L843.9,67.6 L844.6,67.1 L845.4,66.6 L846.1,66.0 L846.9,65.5 L847.6,64.9 L848.4,64.4 L849.1,63.8 L849.9,63.3 L850.6,62.7 L851.4,62.1 L852.1,61.6 L852.9,61.0 L853.6,60.4 L854.4,59.9 L855.1,59.3 L855.9,58.7 L856.6,58.1 L857.4,57.6 L858.1,57.0 L858.9,56.4 L859.6,55.8 L860.4,55.2 L861.1,54.7 L861.9,54.1 L862.6,53.5 L863.4,52.9 L864.1,52.3 L864.9,51.7 L865.6,51.1 L866.4,50.5 L867.1,50.0 L867.9,49.4 L868.6,48.8 L869.4,48.2 L870.1,47.6 L870.9,47.0 L871.6,46.4 L872.4,45.8 L873.1,45.2 L873.9,44.6 L874.6,44.0 L875.4,43.4 L876.1,42.9 L876.9,42.3 L877.6,41.7 L878.4,41.1 L879.1,40.5 L879.9,39.9 L880.6,39.3 L881.4,38.7 L882.1,38.1 L882.9,37.5 L883.6,36.9 L884.4,36.3 L885.1,35.7 L885.9,35.1 L886.6,34.5 L887.4,33.9 L888.1,33.3 L888.9,32.7 L889.6,32.1 L890.4,31.5 L891.1,30.9 L891.9,30.3 L892.6,29.7 L893.4,29.1 L894.1,28.6 L894.9,28.0 L895.6,27.4 L896.4,26.8 L897.1,26.2 L897.9,25.6 L898.6,25.0 L899.4,24.4 L900.1,23.8 L900.9,23.2 L901.6,22.6 L902.4,22.0 L903.1,21.4 L903.9,20.8 L904.6,20.2 L905.4,19.6 L906.1,19.0"/>
<path d="M726.9,34.1 L727.6,34.7 L728.4,35.3 L729.1,35.9 L729.9,36.5 L730.6,37.1 L731.4,37.7 L732.1,38.3 L732.9,38.9 L733.6,39.5 L734.4,40.1 L735.1,40.7 L735.9,41.3 L736.6,41.9 L737.4,42.5 L738.1,43.1 L738.9,43.7 L739.6,44.3 L740.4,44.9 L741.1,45.5 L741.9,46.1 L742.6,46.7 L743.4,47.2 L744.1,47.8 L744.9,48.4 L745.6,49.0 L746.4,49.6 L747.1,50.2 L747.9,50.8 L748.6,51.4 L749.4,52.0 L750.1,52.6 L750.9,53.2 L751.6,53.8 L752.4,54.4 L753.1,55.0 L753.9,55.6 L754.6,56.2 L755.4,56.8 L756.1,57.4 L756.9,58.0 L757.6,58.6 L758.4,59.1 L759.1,59.7 L759.9,60.3 L760.6,60.9 L761.4,61.5 L762.1,62.1 L762.9,62.7 L763.6,63.3 L764.4,63.9 L765.1,64.5 L765.9,65.0 L766.6,65.6 L767.4,66.2 L768.1,66.8 L768.9,67.4 L769.6,68.0 L770.4,68.6 L771.1,69.1 L771.9,69.7 L772.6,70.3 L773.4,70.9 L774.1,71.4 L774.9,72.0 L775.6,72.6 L776.4,73.1 L777.1,73.7 L777.9,74.3 L778.6,74.8 L779.4,75.4 L780.1,75.9 L780.9,76.5 L781.6,77.0 L782.4,77.5 L783.1,78.0 L783.9,78.5 L784.6,79.0 L785.4,79.5 L786.1,79.9 L786.9,80.4 L787.6,80.7 L788.4,81.0 L789.1,81.3 L789.9,81.4 L790.6,81.5 L791.4,81.4 L792.1,81.3 L792.9,81.1 L793.6,80.8 L794.4,80.6 L795.1,80.3 L795.9,80.0 L796.6,79.8 L797.4,79.6 L798.1,79.4 L798.9,79.3 L799.6,79.3 L800.4,79.3 L801.1,79.4 L801.9,79.5 L802.6,79.7 L803.4,79.9 L804.1,80.1 L804.9,80.3 L805.6,80.4 L806.4,80.6 L807.1,80.7 L807.9,80.8 L808.6,80.9 L809.4,80.9 L810.1,80.8 L810.9,80.8 L811.6,80.7 L812.4,80.6 L813.1,80.6 L813.9,80.5 L814.6,80.4 L815.4,80.4 L816.1,80.4 L816.9,80.4 L817.6,80.4 L818.4,80.5 L819.1,80.6 L819.9,80.6 L820.6,80.7 L821.4,80.8 L822.1,80.8 L822.9,80.9 L823.6,80.9 L824.4,80.8 L825.1,80.7 L825.9,80.6 L826.6,80.5 L827.4,80.3 L828.1,80.1 L828.9,79.9 L829.6,79.7 L830.4,79.5 L831.1,79.4 L831.9,79.3 L832.6,79.3 L833.4,79.3 L834.1,79.4 L834.9,79.6 L835.6,79.8 L836.4,80.0 L837.1,80.3 L837.9,80.5 L838.6,80.8 L839.4,81.0 L840.1,81.3 L840.9,81.4 L841.6,81.5 L842.4,81.4 L843.1,81.3 L843.9,81.1 L844.6,80.8 L845.4,80.4 L846.1,80.0 L846.9,79.6 L847.6,79.1 L848.4,78.6 L849.1,78.1 L849.9,77.6 L850.6,77.1 L851.4,76.5 L852.1,76.0 L852.9,75.5 L853.6,74.9 L854.4,74.3 L855.1,73.8 L855.9,73.2 L856.6,72.7 L857.4,72.1 L858.1,71.5 L858.9,70.9 L859.6,70.4 L860.4,69.8 L861.1,69.2 L861.9,68.6 L862.6,68.1 L863.4,67.5 L864.1,66.9 L864.9,66.3 L865.6,65.7 L866.4,65.1 L867.1,64.5 L867.9,64.0 L868.6,63.4 L869.4,62.8 L870.1,62.2 L870.9,61.6 L871.6,61.0 L872.4,60.4 L873.1,59.8 L873.9,59.2 L874.6,58.6 L875.4,58.0 L876.1,57.4 L876.9,56.9 L877.6,56.3 L878.4,55.7 L879.1,55.1 L879.9,54.5 L880.6,53.9 L881.4,53.3 L882.1,52.7 L882.9,52.1 L883.6,51.5 L884.4,50.9 L885.1,50.3 L885.9,49.7 L886.6,49.1 L887.4,48.5 L888.1,47.9 L888.9,47.3 L889.6,46.7 L890.4,46.1 L891.1,45.5 L891.9,44.9 L892.6,44.3 L893.4,43.7 L894.1,43.2 L894.9,42.6 L895.6,42.0 L896.4,41.4 L897.1,40.8 L897.9,40.2 L898.6,39.6 L899.4,39.0 L900.1,38.4 L900.9,37.8 L901.6,37.2 L902.4,36.6 L903.1,36.0 L903.9,35.4 L904.6,34.8 L905.4,34.2 L906.1,33.6"/>
<path d="M726.9,48.7 L727.6,49.3 L728.4,49.9 L729.1,50.5 L729.9,51.1 L730.6,51.7 L731.4,52.3 L732.1,52.9 L732.9,53.5 L733.6,54.1 L734.4,54.7 L735.1,55.3 L735.9,55.9 L736.6,56.5 L737.4,57.1 L738.1,57.7 L738.9,58.3 L739.6,58.9 L740.4,59.5 L741.1,60.1 L741.9,60.7 L742.6,61.3 L743.4,61.8 L744.1,62.4 L744.9,63.0 L745.6,63.6 L746.4,64.2 L747.1,64.8 L747.9,65.4 L748.6,66.0 L749.4,66.6 L750.1,67.2 L750.9,67.8 L751.6,68.4 L752.4,69.0 L753.1,69.6 L753.9,70.2 L754.6,70.8 L755.4,71.4 L756.1,72.0 L756.9,72.6 L757.6,73.1 L758.4,73.7 L759.1,74.3 L759.9,74.9 L760.6,75.5 L761.4,76.1 L762.1,76.7 L762.9,77.3 L763.6,77.9 L764.4,78.5 L765.1,79.0 L765.9,79.6 L766.6,80.2 L767.4,80.8 L768.1,81.4 L768.9,81.9 L769.6,82.5 L770.4,83.1 L771.1,83.7 L771.9,84.2 L772.6,84.8 L773.4,85.3 L774.1,85.9 L774.9,86.4 L775.6,87.0 L776.4,87.5 L777.1,88.0 L777.9,88.4 L778.6,88.9 L779.4,89.2 L780.1,89.5 L780.9,89.6 L781.6,89.6 L782.4,89.4 L783.1,89.1 L783.9,88.8 L784.6,88.4 L785.4,88.0 L786.1,87.7 L786.9,87.3 L787.6,87.0 L788.4,86.7 L789.1,86.5 L789.9,86.3 L790.6,86.3 L791.4,86.4 L792.1,86.5 L792.9,86.7 L793.6,87.0 L794.4,87.3 L795.1,87.6 L795.9,87.8 L796.6,88.1 L797.4,88.3 L798.1,88.4 L798.9,88.5 L799.6,88.5 L800.4,88.4 L801.1,88.3 L801.9,88.1 L802.6,87.9 L803.4,87.7 L804.1,87.5 L804.9,87.3 L805.6,87.1 L806.4,86.9 L807.1,86.8 L807.9,86.7 L808.6,86.7 L809.4,86.7 L810.1,86.7 L810.9,86.7 L811.6,86.8 L812.4,86.9 L813.1,87.0 L813.9,87.1 L814.6,87.1 L815.4,87.2 L816.1,87.2 L816.9,87.2 L817.6,87.1 L818.4,87.1 L819.1,87.0 L819.9,86.9 L820.6,86.8 L821.4,86.7 L822.1,86.7 L822.9,86.7 L823.6,86.7 L824.4,86.7 L825.1,86.8 L825.9,86.9 L826.6,87.1 L827.4,87.2 L828.1,87.5 L828.9,87.7 L829.6,87.9 L830.4,88.1 L831.1,88.3 L831.9,88.4 L832.6,88.5 L833.4,88.5 L834.1,88.4 L834.9,88.3 L835.6,88.1 L836.4,87.9 L837.1,87.6 L837.9,87.3 L838.6,87.0 L839.4,86.8 L840.1,86.6 L840.9,86.4 L841.6,86.3 L842.4,86.3 L843.1,86.4 L843.9,86.6 L844.6,86.9 L845.4,87.2 L846.1,87.6 L846.9,88.0 L847.6,88.4 L848.4,88.7 L849.1,89.1 L849.9,89.4 L850.6,89.6 L851.4,89.6 L852.1,89.5 L852.9,89.3 L853.6,88.9 L854.4,88.5 L855.1,88.0 L855.9,87.5 L856.6,87.0 L857.4,86.5 L858.1,86.0 L858.9,85.4 L859.6,84.9 L860.4,84.3 L861.1,83.7 L861.9,83.2 L862.6,82.6 L863.4,82.0 L864.1,81.4 L864.9,80.9 L865.6,80.3 L866.4,79.7 L867.1,79.1 L867.9,78.5 L868.6,77.9 L869.4,77.4 L870.1,76.8 L870.9,76.2 L871.6,75.6 L872.4,75.0 L873.1,74.4 L873.9,73.8 L874.6,73.2 L875.4,72.6 L876.1,72.0 L876.9,71.5 L877.6,70.9 L878.4,70.3 L879.1,69.7 L879.9,69.1 L880.6,68.5 L881.4,67.9 L882.1,67.3 L882.9,66.7 L883.6,66.1 L884.4,65.5 L885.1,64.9 L885.9,64.3 L886.6,63.7 L887.4,63.1 L888.1,62.5 L888.9,61.9 L889.6,61.3 L890.4,60.7 L891.1,60.1 L891.9,59.5 L892.6,58.9 L893.4,58.3 L894.1,57.8 L894.9,57.2 L895.6,56.6 L896.4,56.0 L897.1,55.4 L897.9,54.8 L898.6,54.2 L899.4,53.6 L900.1,53.0 L900.9,52.4 L901.6,51.8 L902.4,51.2 L903.1,50.6 L903.9,50.0 L904.6,49.4 L905.4,48.8 L906.1,48.2"/>
<path d="M726.9,63.3 L727.6,63.9 L728.4,64.5 L729.1,65.1 L729.9,65.7 L730.6,66.3 L731.4,66.9 L732.1,67.5 L732.9,68.1 L733.6,68.7 L734.4,69.3 L735.1,69.9 L735.9,70.5 L736.6,71.1 L737.4,71.7 L738.1,72.3 L738.9,72.9 L739.6,73.5 L740.4,74.1 L741.1,74.7 L741.9,75.3 L742.6,75.9 L743.4,76.4 L744.1,77.0 L744.9,77.6 L745.6,78.2 L746.4,78.8 L747.1,79.4 L747.9,80.0 L748.6,80.6 L749.4,81.2 L750.1,81.8 L750.9,82.4 L751.6,83.0 L752.4,83.6 L753.1,84.2 L753.9,84.8 L754.6,85.4 L755.4,86.0 L756.1,86.6 L756.9,87.1 L757.6,87.7 L758.4,88.3 L759.1,88.9 L759.9,89.5 L760.6,90.1 L761.4,90.7 L762.1,91.3 L762.9,91.8 L763.6,92.4 L764.4,93.0 L765.1,93.6 L765.9,94.1 L766.6,94.7 L767.4,95.3 L768.1,95.8 L768.9,96.3 L769.6,96.8 L770.4,97.2 L771.1,97.5 L771.9,97.6 L772.6,97.5 L773.4,97.1 L774.1,96.7 L774.9,96.2 L775.6,95.8 L776.4,95.3 L777.1,94.8 L777.9,94.4 L778.6,93.9 L779.4,93.6 L780.1,93.3 L780.9,93.2 L781.6,93.2 L782.4,93.4 L783.1,93.7 L783.9,94.0 L784.6,94.4 L785.4,94.8 L786.1,95.2 L786.9,95.6 L787.6,95.9 L788.4,96.1 L789.1,96.3 L789.9,96.4 L790.6,96.4 L791.4,96.3 L792.1,96.1 L792.9,95.8 L793.6,95.6 L794.4,95.3 L795.1,95.0 L795.9,94.7 L796.6,94.4 L797.4,94.2 L798.1,94.1 L798.9,94.0 L799.6,94.0 L800.4,94.1 L801.1,94.2 L801.9,94.4 L802.6,94.6 L803.4,94.8 L804.1,95.0 L804.9,95.2 L805.6,95.4 L806.4,95.6 L807.1,95.7 L807.9,95.8 L808.6,95.8 L809.4,95.8 L810.1,95.8 L810.9,95.7 L811.6,95.6 L812.4,95.6 L813.1,95.5 L813.9,95.4 L814.6,95.3 L815.4,95.3 L816.1,95.3 L816.9,95.3 L817.6,95.3 L818.4,95.4 L819.1,95.5 L819.9,95.5 L820.6,95.6 L821.4,95.7 L822.1,95.8 L822.9,95.8 L823.6,95.8 L824.4,95.8 L825.1,95.7 L825.9,95.6 L826.6,95.5 L827.4,95.3 L828.1,95.0 L828.9,94.8 L829.6,94.6 L830.4,94.4 L831.1,94.2 L831.9,94.1 L832.6,94.0 L833.4,94.0 L834.1,94.1 L834.9,94.2 L835.6,94.4 L836.4,94.7 L837.1,94.9 L837.9,95.2 L838.6,95.5 L839.4,95.8 L840.1,96.1 L840.9,96.3 L841.6,96.4 L842.4,96.4 L843.1,96.3 L843.9,96.2 L844.6,95.9 L845.4,95.6 L846.1,95.2 L846.9,94.9 L847.6,94.5 L848.4,94.1 L849.1,93.7 L849.9,93.4 L850.6,93.3 L851.4,93.2 L852.1,93.3 L852.9,93.5 L853.6,93.9 L854.4,94.3 L855.1,94.7 L855.9,95.2 L856.6,95.7 L857.4,96.2 L858.1,96.6 L858.9,97.1 L859.6,97.4 L860.4,97.6 L861.1,97.6 L861.9,97.3 L862.6,96.9 L863.4,96.4 L864.1,95.9 L864.9,95.3 L865.6,94.8 L866.4,94.2 L867.1,93.7 L867.9,93.1 L868.6,92.5 L869.4,91.9 L870.1,91.3 L870.9,90.8 L871.6,90.2 L872.4,89.6 L873.1,89.0 L873.9,88.4 L874.6,87.8 L875.4,87.2 L876.1,86.6 L876.9,86.0 L877.6,85.5 L878.4,84.9 L879.1,84.3 L879.9,83.7 L880.6,83.1 L881.4,82.5 L882.1,81.9 L882.9,81.3 L883.6,80.7 L884.4,80.1 L885.1,79.5 L885.9,78.9 L886.6,78.3 L887.4,77.7 L888.1,77.1 L888.9,76.5 L889.6,75.9 L890.4,75.3 L891.1,74.7 L891.9,74.1 L892.6,73.5 L893.4,72.9 L894.1,72.4 L894.9,71.8 L895.6,71.2 L896.4,70.6 L897.1,70.0 L897.9,69.4 L898.6,68.8 L899.4,68.2 L900.1,67.6 L900.9,67.0 L901.6,66.4 L902.4,65.8 L903.1,65.2 L903.9,64.6 L904.6,64.0 L905.4,63.4 L906.1,62.8"/>
<path d="M726.9,77.9 L727.6,78.5 L728.4,79.1 L729.1,79.7 L729.9,80.3 L730.6,80.9 L731.4,81.5 L732.1,82.1 L732.9,82.7 L733.6,83.3 L734.4,83.9 L735.1,84.5 L735.9,85.1 L736.6,85.7 L737.4,86.3 L738.1,86.9 L738.9,87.5 L739.6,88.1 L740.4,88.7 L741.1,89.3 L741.9,89.9 L742.6,90.5 L743.4,91.0 L744.1,91.6 L744.9,92.2 L745.6,92.8 L746.4,93.4 L747.1,94.0 L747.9,94.6 L748.6,95.2 L749.4,95.8 L750.1,96.4 L750.9,97.0 L751.6,97.6 L752.4,98.2 L753.1,98.8 L753.9,99.4 L754.6,100.0 L755.4,100.6 L756.1,101.1 L756.9,101.7 L757.6,102.3 L758.4,102.9 L759.1,103.5 L759.9,104.0 L760.6,104.6 L761.4,105.1 L762.1,105.4 L762.9,105.4 L763.6,105.0 L764.4,104.6 L765.1,104.0 L765.9,103.5 L766.6,102.9 L767.4,102.4 L768.1,101.9 L768.9,101.3 L769.6,100.9 L770.4,100.4 L771.1,100.1 L771.9,100.1 L772.6,100.2 L773.4,100.6 L774.1,101.0 L774.9,101.5 L775.6,101.9 L776.4,102.4 L777.1,102.9 L777.9,103.3 L778.6,103.8 L779.4,104.1 L780.1,104.4 L780.9,104.4 L781.6,104.4 L782.4,104.2 L783.1,103.9 L783.9,103.5 L784.6,103.1 L785.4,102.7 L786.1,102.3 L786.9,101.9 L787.6,101.6 L788.4,101.3 L789.1,101.1 L789.9,101.0 L790.6,101.0 L791.4,101.1 L792.1,101.3 L792.9,101.6 L793.6,101.9 L794.4,102.2 L795.1,102.5 L795.9,102.7 L796.6,103.0 L797.4,103.2 L798.1,103.3 L798.9,103.4 L799.6,103.3 L800.4,103.2 L801.1,103.1 L801.9,102.9 L802.6,102.7 L803.4,102.5 L804.1,102.2 L804.9,102.0 L805.6,101.8 L806.4,101.6 L807.1,101.5 L807.9,101.4 L808.6,101.3 L809.4,101.3 L810.1,101.4 L810.9,101.5 L811.6,101.5 L812.4,101.6 L813.1,101.7 L813.9,101.8 L814.6,101.9 L815.4,101.9 L816.1,101.9 L816.9,101.9 L817.6,101.9 L818.4,101.8 L819.1,101.7 L819.9,101.6 L820.6,101.6 L821.4,101.5 L822.1,101.4 L822.9,101.4 L823.6,101.3 L824.4,101.4 L825.1,101.5 L825.9,101.6 L826.6,101.8 L827.4,102.0 L828.1,102.2 L828.9,102.4 L829.6,102.7 L830.4,102.9 L831.1,103.1 L831.9,103.2 L832.6,103.3 L833.4,103.4 L834.1,103.3 L834.9,103.2 L835.6,103.0 L836.4,102.8 L837.1,102.5 L837.9,102.2 L838.6,101.9 L839.4,101.6 L840.1,101.4 L840.9,101.2 L841.6,101.0 L842.4,101.0 L843.1,101.1 L843.9,101.3 L844.6,101.6 L845.4,101.9 L846.1,102.2 L846.9,102.6 L847.6,103.0 L848.4,103.4 L849.1,103.8 L849.9,104.1 L850.6,104.4 L851.4,104.4 L852.1,104.4 L852.9,104.1 L853.6,103.8 L854.4,103.4 L855.1,103.0 L855.9,102.5 L856.6,102.0 L857.4,101.5 L858.1,101.0 L858.9,100.6 L859.6,100.3 L860.4,100.1 L861.1,100.1 L861.9,100.4 L862.6,100.8 L863.4,101.3 L864.1,101.8 L864.9,102.3 L865.6,102.9 L866.4,103.4 L867.1,104.0 L867.9,104.5 L868.6,105.0 L869.4,105.4 L870.1,105.4 L870.9,105.1 L871.6,104.6 L872.4,104.1 L873.1,103.5 L873.9,103.0 L874.6,102.4 L875.4,101.8 L876.1,101.2 L876.9,100.6 L877.6,100.0 L878.4,99.5 L879.1,98.9 L879.9,98.3 L880.6,97.7 L881.4,97.1 L882.1,96.5 L882.9,95.9 L883.6,95.3 L884.4,94.7 L885.1,94.1 L885.9,93.5 L886.6,92.9 L887.4,92.3 L888.1,91.7 L888.9,91.1 L889.6,90.5 L890.4,89.9 L891.1,89.3 L891.9,88.7 L892.6,88.1 L893.4,87.5 L894.1,87.0 L894.9,86.4 L895.6,85.8 L896.4,85.2 L897.1,84.6 L897.9,84.0 L898.6,83.4 L899.4,82.8 L900.1,82.2 L900.9,81.6 L901.6,81.0 L902.4,80.4 L903.1,79.8 L903.9,79.2 L904.6,78.6 L905.4,78.0 L906.1,77.4"/>
<path d="M726.9,92.5 L727.6,93.1 L728.4,93.7 L729.1,94.3 L729.9,94.9 L730.6,95.5 L731.4,96.1 L732.1,96.7 L732.9,97.3 L733.6,97.9 L734.4,98.5 L735.1,99.1 L735.9,99.7 L736.6,100.3 L737.4,100.9 L738.1,101.5 L738.9,102.1 L739.6,102.7 L740.4,103.3 L741.1,103.9 L741.9,104.5 L742.6,105.1 L743.4,105.6 L744.1,106.2 L744.9,106.8 L745.6,107.4 L746.4,108.0 L747.1,108.6 L747.9,109.2 L748.6,109.8 L749.4,110.4 L750.1,111.0 L750.9,111.6 L751.6,112.2 L752.4,112.7 L753.1,113.1 L753.9,112.9 L754.6,112.4 L755.4,111.8 L756.1,111.2 L756.9,110.6 L757.6,110.1 L758.4,109.5 L759.1,108.9 L759.9,108.4 L760.6,107.8 L761.4,107.3 L762.1,107.0 L762.9,107.0 L763.6,107.3 L764.4,107.8 L765.1,108.4 L765.9,108.9 L766.6,109.5 L767.4,110.0 L768.1,110.6 L768.9,111.1 L769.6,111.6 L770.4,112.0 L771.1,112.3 L771.9,112.4 L772.6,112.2 L773.4,111.8 L774.1,111.4 L774.9,110.9 L775.6,110.4 L776.4,109.9 L777.1,109.4 L777.9,109.0 L778.6,108.5 L779.4,108.2 L780.1,108.0 L780.9,107.9 L781.6,107.9 L782.4,108.1 L783.1,108.4 L783.9,108.8 L784.6,109.2 L785.4,109.6 L786.1,110.0 L786.9,110.4 L787.6,110.7 L788.4,111.0 L789.1,111.1 L789.9,111.2 L790.6,111.2 L791.4,111.1 L792.1,110.8 L792.9,110.6 L793.6,110.3 L794.4,110.0 L795.1,109.7 L795.9,109.4 L796.6,109.1 L797.4,108.9 L798.1,108.8 L798.9,108.7 L799.6,108.7 L800.4,108.8 L801.1,108.9 L801.9,109.1 L802.6,109.4 L803.4,109.6 L804.1,109.8 L804.9,110.0 L805.6,110.2 L806.4,110.4 L807.1,110.6 L807.9,110.6 L808.6,110.7 L809.4,110.7 L810.1,110.6 L810.9,110.5 L811.6,110.5 L812.4,110.4 L813.1,110.3 L813.9,110.2 L814.6,110.1 L815.4,110.1 L816.1,110.1 L816.9,110.1 L817.6,110.1 L818.4,110.2 L819.1,110.2 L819.9,110.3 L820.6,110.4 L821.4,110.5 L822.1,110.6 L822.9,110.7 L823.6,110.7 L824.4,110.6 L825.1,110.6 L825.9,110.4 L826.6,110.3 L827.4,110.1 L828.1,109.9 L828.9,109.6 L829.6,109.4 L830.4,109.2 L831.1,109.0 L831.9,108.8 L832.6,108.7 L833.4,108.7 L834.1,108.8 L834.9,108.9 L835.6,109.1 L836.4,109.3 L837.1,109.6 L837.9,109.9 L838.6,110.2 L839.4,110.5 L840.1,110.8 L840.9,111.0 L841.6,111.2 L842.4,111.2 L843.1,111.2 L843.9,111.0 L844.6,110.7 L845.4,110.4 L846.1,110.0 L846.9,109.7 L847.6,109.3 L848.4,108.9 L849.1,108.5 L849.9,108.2 L850.6,107.9 L851.4,107.9 L852.1,107.9 L852.9,108.2 L853.6,108.5 L854.4,108.9 L855.1,109.4 L855.9,109.8 L856.6,110.3 L857.4,110.8 L858.1,111.3 L858.9,111.8 L859.6,112.1 L860.4,112.4 L861.1,112.3 L861.9,112.0 L862.6,111.6 L863.4,111.1 L864.1,110.6 L864.9,110.1 L865.6,109.5 L866.4,109.0 L867.1,108.4 L867.9,107.9 L868.6,107.4 L869.4,107.0 L870.1,107.0 L870.9,107.3 L871.6,107.7 L872.4,108.3 L873.1,108.8 L873.9,109.4 L874.6,110.0 L875.4,110.6 L876.1,111.1 L876.9,111.7 L877.6,112.3 L878.4,112.8 L879.1,113.1 L879.9,112.8 L880.6,112.2 L881.4,111.7 L882.1,111.1 L882.9,110.5 L883.6,109.9 L884.4,109.3 L885.1,108.7 L885.9,108.1 L886.6,107.5 L887.4,106.9 L888.1,106.3 L888.9,105.7 L889.6,105.1 L890.4,104.5 L891.1,103.9 L891.9,103.3 L892.6,102.7 L893.4,102.1 L894.1,101.6 L894.9,101.0 L895.6,100.4 L896.4,99.8 L897.1,99.2 L897.9,98.6 L898.6,98.0 L899.4,97.4 L900.1,96.8 L900.9,96.2 L901.6,95.6 L902.4,95.0 L903.1,94.4 L903.9,93.8 L904.6,93.2 L905.4,92.6 L906.1,92.0"/>
<path d="M726.9,107.1 L727.6,107.7 L728.4,108.3 L729.1,108.9 L729.9,109.5 L730.6,110.1 L731.4,110.7 L732.1,111.3 L732.9,111.9 L733.6,112.5 L734.4,113.1 L735.1,113.7 L735.9,114.3 L736.6,114.9 L737.4,115.5 L738.1,116.1 L738.9,116.7 L739.6,117.3 L740.4,117.9 L741.1,118.5 L741.9,119.0 L742.6,119.6 L743.4,120.2 L744.1,120.6 L744.9,120.1 L745.6,119.6 L746.4,119.0 L747.1,118.4 L747.9,117.8 L748.6,117.2 L749.4,116.6 L750.1,116.0 L750.9,115.4 L751.6,114.9 L752.4,114.3 L753.1,113.9 L753.9,114.1 L754.6,114.7 L755.4,115.2 L756.1,115.8 L756.9,116.4 L757.6,117.0 L758.4,117.5 L759.1,118.1 L759.9,118.7 L760.6,119.2 L761.4,119.7 L762.1,120.1 L762.9,120.1 L763.6,119.7 L764.4,119.2 L765.1,118.6 L765.9,118.1 L766.6,117.5 L767.4,117.0 L768.1,116.5 L768.9,115.9 L769.6,115.4 L770.4,115.0 L771.1,114.7 L771.9,114.6 L772.6,114.8 L773.4,115.2 L774.1,115.7 L774.9,116.1 L775.6,116.6 L776.4,117.1 L777.1,117.6 L777.9,118.1 L778.6,118.5 L779.4,118.9 L780.1,119.1 L780.9,119.2 L781.6,119.1 L782.4,118.9 L783.1,118.6 L783.9,118.2 L784.6,117.8 L785.4,117.3 L786.1,116.9 L786.9,116.6 L787.6,116.2 L788.4,116.0 L789.1,115.8 L789.9,115.7 L790.6,115.7 L791.4,115.8 L792.1,116.0 L792.9,116.3 L793.6,116.6 L794.4,116.9 L795.1,117.2 L795.9,117.5 L796.6,117.8 L797.4,118.0 L798.1,118.1 L798.9,118.1 L799.6,118.1 L800.4,118.0 L801.1,117.9 L801.9,117.7 L802.6,117.4 L803.4,117.2 L804.1,116.9 L804.9,116.7 L805.6,116.5 L806.4,116.3 L807.1,116.2 L807.9,116.1 L808.6,116.1 L809.4,116.1 L810.1,116.1 L810.9,116.2 L811.6,116.3 L812.4,116.4 L813.1,116.5 L813.9,116.5 L814.6,116.6 L815.4,116.6 L816.1,116.7 L816.9,116.6 L817.6,116.6 L818.4,116.5 L819.1,116.5 L819.9,116.4 L820.6,116.3 L821.4,116.2 L822.1,116.1 L822.9,116.1 L823.6,116.0 L824.4,116.1 L825.1,116.2 L825.9,116.3 L826.6,116.5 L827.4,116.7 L828.1,116.9 L828.9,117.2 L829.6,117.4 L830.4,117.6 L831.1,117.8 L831.9,118.0 L832.6,118.1 L833.4,118.1 L834.1,118.1 L834.9,118.0 L835.6,117.8 L836.4,117.5 L837.1,117.3 L837.9,117.0 L838.6,116.7 L839.4,116.4 L840.1,116.1 L840.9,115.9 L841.6,115.7 L842.4,115.7 L843.1,115.7 L843.9,115.9 L844.6,116.2 L845.4,116.5 L846.1,116.9 L846.9,117.3 L847.6,117.7 L848.4,118.1 L849.1,118.5 L849.9,118.8 L850.6,119.1 L851.4,119.2 L852.1,119.1 L852.9,118.9 L853.6,118.6 L854.4,118.1 L855.1,117.7 L855.9,117.2 L856.6,116.7 L857.4,116.2 L858.1,115.7 L858.9,115.3 L859.6,114.9 L860.4,114.7 L861.1,114.7 L861.9,115.0 L862.6,115.4 L863.4,115.9 L864.1,116.4 L864.9,116.9 L865.6,117.5 L866.4,118.0 L867.1,118.6 L867.9,119.1 L868.6,119.6 L869.4,120.0 L870.1,120.1 L870.9,119.8 L871.6,119.3 L872.4,118.8 L873.1,118.2 L873.9,117.6 L874.6,117.0 L875.4,116.5 L876.1,115.9 L876.9,115.3 L877.6,114.7 L878.4,114.2 L879.1,113.9 L879.9,114.2 L880.6,114.8 L881.4,115.3 L882.1,115.9 L882.9,116.5 L883.6,117.1 L884.4,117.7 L885.1,118.3 L885.9,118.9 L886.6,119.5 L887.4,120.1 L888.1,120.6 L888.9,120.3 L889.6,119.7 L890.4,119.1 L891.1,118.5 L891.9,117.9 L892.6,117.3 L893.4,116.7 L894.1,116.1 L894.9,115.6 L895.6,115.0 L896.4,114.4 L897.1,113.8 L897.9,113.2 L898.6,112.6 L899.4,112.0 L900.1,111.4 L900.9,110.8 L901.6,110.2 L902.4,109.6 L903.1,109.0 L903.9,108.4 L904.6,107.8 L905.4,107.2 L906.1,106.6"/>
<path d="M726.9,121.7 L727.6,122.3 L728.4,122.9 L729.1,123.5 L729.9,124.1 L730.6,124.7 L731.4,125.3 L732.1,125.9 L732.9,126.5 L733.6,127.1 L734.4,127.7 L735.1,127.9 L735.9,127.3 L736.6,126.7 L737.4,126.1 L738.1,125.5 L738.9,124.9 L739.6,124.3 L740.4,123.7 L741.1,123.1 L741.9,122.6 L742.6,122.0 L743.4,121.4 L744.1,121.0 L744.9,121.5 L745.6,122.1 L746.4,122.6 L747.1,123.2 L747.9,123.8 L748.6,124.4 L749.4,125.0 L750.1,125.6 L750.9,126.2 L751.6,126.8 L752.4,127.3 L753.1,127.8 L753.9,127.5 L754.6,127.0 L755.4,126.4 L756.1,125.8 L756.9,125.2 L757.6,124.7 L758.4,124.1 L759.1,123.5 L759.9,122.9 L760.6,122.4 L761.4,121.9 L762.1,121.5 L762.9,121.6 L763.6,121.9 L764.4,122.5 L765.1,123.0 L765.9,123.6 L766.6,124.1 L767.4,124.7 L768.1,125.2 L768.9,125.7 L769.6,126.3 L770.4,126.7 L771.1,127.0 L771.9,127.1 L772.6,126.9 L773.4,126.5 L774.1,126.0 L774.9,125.5 L775.6,125.0 L776.4,124.5 L777.1,124.0 L777.9,123.6 L778.6,123.1 L779.4,122.8 L780.1,122.5 L780.9,122.5 L781.6,122.5 L782.4,122.8 L783.1,123.1 L783.9,123.5 L784.6,123.9 L785.4,124.3 L786.1,124.7 L786.9,125.1 L787.6,125.4 L788.4,125.7 L789.1,125.9 L789.9,126.0 L790.6,125.9 L791.4,125.8 L792.1,125.6 L792.9,125.3 L793.6,125.0 L794.4,124.7 L795.1,124.4 L795.9,124.1 L796.6,123.8 L797.4,123.6 L798.1,123.5 L798.9,123.4 L799.6,123.4 L800.4,123.5 L801.1,123.7 L801.9,123.9 L802.6,124.1 L803.4,124.3 L804.1,124.6 L804.9,124.8 L805.6,125.0 L806.4,125.2 L807.1,125.3 L807.9,125.4 L808.6,125.4 L809.4,125.4 L810.1,125.4 L810.9,125.3 L811.6,125.2 L812.4,125.1 L813.1,125.0 L813.9,124.9 L814.6,124.9 L815.4,124.8 L816.1,124.8 L816.9,124.8 L817.6,124.9 L818.4,124.9 L819.1,125.0 L819.9,125.1 L820.6,125.2 L821.4,125.3 L822.1,125.4 L822.9,125.4 L823.6,125.4 L824.4,125.4 L825.1,125.3 L825.9,125.2 L826.6,125.0 L827.4,124.8 L828.1,124.6 L828.9,124.4 L829.6,124.1 L830.4,123.9 L831.1,123.7 L831.9,123.5 L832.6,123.4 L833.4,123.4 L834.1,123.4 L834.9,123.6 L835.6,123.8 L836.4,124.0 L837.1,124.3 L837.9,124.6 L838.6,124.9 L839.4,125.3 L840.1,125.5 L840.9,125.8 L841.6,125.9 L842.4,126.0 L843.1,125.9 L843.9,125.7 L844.6,125.5 L845.4,125.1 L846.1,124.8 L846.9,124.4 L847.6,124.0 L848.4,123.5 L849.1,123.2 L849.9,122.8 L850.6,122.6 L851.4,122.5 L852.1,122.5 L852.9,122.8 L853.6,123.1 L854.4,123.5 L855.1,124.0 L855.9,124.5 L856.6,125.0 L857.4,125.5 L858.1,126.0 L858.9,126.4 L859.6,126.8 L860.4,127.1 L861.1,127.0 L861.9,126.7 L862.6,126.3 L863.4,125.8 L864.1,125.3 L864.9,124.7 L865.6,124.2 L866.4,123.6 L867.1,123.1 L867.9,122.5 L868.6,122.0 L869.4,121.6 L870.1,121.5 L870.9,121.8 L871.6,122.3 L872.4,122.9 L873.1,123.4 L873.9,124.0 L874.6,124.6 L875.4,125.2 L876.1,125.7 L876.9,126.3 L877.6,126.9 L878.4,127.4 L879.1,127.8 L879.9,127.4 L880.6,126.9 L881.4,126.3 L882.1,125.7 L882.9,125.1 L883.6,124.5 L884.4,123.9 L885.1,123.3 L885.9,122.7 L886.6,122.1 L887.4,121.5 L888.1,121.0 L888.9,121.3 L889.6,121.9 L890.4,122.5 L891.1,123.1 L891.9,123.7 L892.6,124.3 L893.4,124.9 L894.1,125.5 L894.9,126.0 L895.6,126.6 L896.4,127.2 L897.1,127.8 L897.9,127.8 L898.6,127.2 L899.4,126.6 L900.1,126.0 L900.9,125.4 L901.6,124.8 L902.4,124.2 L903.1,123.6 L903.9,123.0 L904.6,122.4 L905.4,121.8 L906.1,121.2"/>
<path d="M726.9,134.5 L727.6,133.9 L728.4,133.3 L729.1,132.7 L729.9,132.1 L730.6,131.5 L731.4,130.9 L732.1,130.3 L732.9,129.7 L733.6,129.1 L734.4,128.5 L735.1,128.3 L735.9,128.9 L736.6,129.5 L737.4,130.1 L738.1,130.7 L738.9,131.3 L739.6,131.9 L740.4,132.5 L741.1,133.1 L741.9,133.7 L742.6,134.2 L743.4,134.8 L744.1,135.2 L744.9,134.7 L745.6,134.2 L746.4,133.6 L747.1,133.0 L747.9,132.4 L748.6,131.8 L749.4,131.2 L750.1,130.6 L750.9,130.0 L751.6,129.4 L752.4,128.9 L753.1,128.5 L753.9,128.7 L754.6,129.2 L755.4,129.8 L756.1,130.4 L756.9,131.0 L757.6,131.6 L758.4,132.2 L759.1,132.7 L759.9,133.3 L760.6,133.9 L761.4,134.4 L762.1,134.8 L762.9,134.8 L763.6,134.3 L764.4,133.8 L765.1,133.3 L765.9,132.7 L766.6,132.2 L767.4,131.6 L768.1,131.1 L768.9,130.5 L769.6,130.0 L770.4,129.6 L771.1,129.3 L771.9,129.2 L772.6,129.4 L773.4,129.8 L774.1,130.3 L774.9,130.8 L775.6,131.3 L776.4,131.8 L777.1,132.3 L777.9,132.8 L778.6,133.2 L779.4,133.6 L780.1,133.8 L780.9,133.9 L781.6,133.8 L782.4,133.6 L783.1,133.2 L783.9,132.9 L784.6,132.4 L785.4,132.0 L786.1,131.6 L786.9,131.2 L787.6,130.9 L788.4,130.6 L789.1,130.4 L789.9,130.3 L790.6,130.4 L791.4,130.5 L792.1,130.7 L792.9,131.0 L793.6,131.3 L794.4,131.6 L795.1,131.9 L795.9,132.2 L796.6,132.5 L797.4,132.7 L798.1,132.8 L798.9,132.9 L799.6,132.9 L800.4,132.8 L801.1,132.6 L801.9,132.4 L802.6,132.2 L803.4,131.9 L804.1,131.7 L804.9,131.4 L805.6,131.2 L806.4,131.0 L807.1,130.9 L807.9,130.8 L808.6,130.8 L809.4,130.8 L810.1,130.8 L810.9,130.9 L811.6,131.0 L812.4,131.1 L813.1,131.2 L813.9,131.3 L814.6,131.3 L815.4,131.4 L816.1,131.4 L816.9,131.4 L817.6,131.3 L818.4,131.3 L819.1,131.2 L819.9,131.1 L820.6,131.0 L821.4,130.9 L822.1,130.8 L822.9,130.8 L823.6,130.8 L824.4,130.8 L825.1,130.9 L825.9,131.0 L826.6,131.2 L827.4,131.4 L828.1,131.6 L828.9,131.9 L829.6,132.1 L830.4,132.4 L831.1,132.6 L831.9,132.8 L832.6,132.9 L833.4,132.9 L834.1,132.8 L834.9,132.7 L835.6,132.5 L836.4,132.3 L837.1,132.0 L837.9,131.7 L838.6,131.4 L839.4,131.0 L840.1,130.8 L840.9,130.5 L841.6,130.4 L842.4,130.3 L843.1,130.4 L843.9,130.6 L844.6,130.8 L845.4,131.2 L846.1,131.5 L846.9,132.0 L847.6,132.4 L848.4,132.8 L849.1,133.2 L849.9,133.5 L850.6,133.8 L851.4,133.9 L852.1,133.9 L852.9,133.6 L853.6,133.3 L854.4,132.8 L855.1,132.4 L855.9,131.9 L856.6,131.4 L857.4,130.8 L858.1,130.3 L858.9,129.9 L859.6,129.5 L860.4,129.2 L861.1,129.2 L861.9,129.5 L862.6,130.0 L863.4,130.5 L864.1,131.0 L864.9,131.5 L865.6,132.1 L866.4,132.6 L867.1,133.2 L867.9,133.7 L868.6,134.3 L869.4,134.7 L870.1,134.8 L870.9,134.5 L871.6,133.9 L872.4,133.4 L873.1,132.8 L873.9,132.2 L874.6,131.7 L875.4,131.1 L876.1,130.5 L876.9,129.9 L877.6,129.3 L878.4,128.8 L879.1,128.4 L879.9,128.8 L880.6,129.4 L881.4,129.9 L882.1,130.5 L882.9,131.1 L883.6,131.7 L884.4,132.3 L885.1,132.9 L885.9,133.5 L886.6,134.1 L887.4,134.7 L888.1,135.2 L888.9,134.9 L889.6,134.3 L890.4,133.7 L891.1,133.1 L891.9,132.5 L892.6,131.9 L893.4,131.3 L894.1,130.8 L894.9,130.2 L895.6,129.6 L896.4,129.0 L897.1,128.4 L897.9,128.4 L898.6,129.0 L899.4,129.6 L900.1,130.2 L900.9,130.8 L901.6,131.4 L902.4,132.0 L903.1,132.6 L903.9,133.2 L904.6,133.8 L905.4,134.4 L906.1,135.0"/>
<path d="M726.9,149.1 L727.6,148.5 L728.4,147.9 L729.1,147.3 L729.9,146.7 L730.6,146.1 L731.4,145.5 L732.1,144.9 L732.9,144.3 L733.6,143.7 L734.4,143.1 L735.1,142.5 L735.9,141.9 L736.6,141.3 L737.4,140.7 L738.1,140.1 L738.9,139.5 L739.6,138.9 L740.4,138.3 L741.1,137.7 L741.9,137.2 L742.6,136.6 L743.4,136.0 L744.1,135.6 L744.9,136.1 L745.6,136.7 L746.4,137.2 L747.1,137.8 L747.9,138.4 L748.6,139.0 L749.4,139.6 L750.1,140.2 L750.9,140.8 L751.6,141.4 L752.4,142.0 L753.1,142.4 L753.9,142.1 L754.6,141.6 L755.4,141.0 L756.1,140.4 L756.9,139.8 L757.6,139.3 L758.4,138.7 L759.1,138.1 L759.9,137.5 L760.6,137.0 L761.4,136.5 L762.1,136.1 L762.9,136.1 L763.6,136.5 L764.4,137.0 L765.1,137.6 L765.9,138.2 L766.6,138.7 L767.4,139.3 L768.1,139.9 L768.9,140.4 L769.6,140.9 L770.4,141.4 L771.1,141.7 L771.9,141.8 L772.6,141.6 L773.4,141.1 L774.1,140.7 L774.9,140.2 L775.6,139.7 L776.4,139.2 L777.1,138.7 L777.9,138.2 L778.6,137.7 L779.4,137.4 L780.1,137.1 L780.9,137.0 L781.6,137.1 L782.4,137.4 L783.1,137.7 L783.9,138.1 L784.6,138.6 L785.4,139.0 L786.1,139.4 L786.9,139.8 L787.6,140.1 L788.4,140.4 L789.1,140.6 L789.9,140.7 L790.6,140.7 L791.4,140.5 L792.1,140.3 L792.9,140.0 L793.6,139.7 L794.4,139.4 L795.1,139.1 L795.9,138.8 L796.6,138.5 L797.4,138.3 L798.1,138.2 L798.9,138.1 L799.6,138.1 L800.4,138.2 L801.1,138.4 L801.9,138.6 L802.6,138.8 L803.4,139.0 L804.1,139.3 L804.9,139.5 L805.6,139.7 L806.4,139.9 L807.1,140.0 L807.9,140.1 L808.6,140.2 L809.4,140.2 L810.1,140.1 L810.9,140.0 L811.6,139.9 L812.4,139.8 L813.1,139.8 L813.9,139.7 L814.6,139.6 L815.4,139.6 L816.1,139.5 L816.9,139.6 L817.6,139.6 L818.4,139.7 L819.1,139.7 L819.9,139.8 L820.6,139.9 L821.4,140.0 L822.1,140.1 L822.9,140.2 L823.6,140.2 L824.4,140.1 L825.1,140.1 L825.9,139.9 L826.6,139.8 L827.4,139.6 L828.1,139.3 L828.9,139.1 L829.6,138.8 L830.4,138.6 L831.1,138.4 L831.9,138.2 L832.6,138.1 L833.4,138.1 L834.1,138.1 L834.9,138.3 L835.6,138.5 L836.4,138.7 L837.1,139.0 L837.9,139.3 L838.6,139.7 L839.4,140.0 L840.1,140.3 L840.9,140.5 L841.6,140.7 L842.4,140.7 L843.1,140.7 L843.9,140.5 L844.6,140.2 L845.4,139.8 L846.1,139.5 L846.9,139.0 L847.6,138.6 L848.4,138.2 L849.1,137.8 L849.9,137.4 L850.6,137.2 L851.4,137.0 L852.1,137.1 L852.9,137.3 L853.6,137.7 L854.4,138.1 L855.1,138.6 L855.9,139.1 L856.6,139.6 L857.4,140.1 L858.1,140.6 L858.9,141.1 L859.6,141.5 L860.4,141.8 L861.1,141.7 L861.9,141.4 L862.6,141.0 L863.4,140.5 L864.1,139.9 L864.9,139.4 L865.6,138.8 L866.4,138.2 L867.1,137.7 L867.9,137.1 L868.6,136.6 L869.4,136.1 L870.1,136.0 L870.9,136.4 L871.6,136.9 L872.4,137.5 L873.1,138.0 L873.9,138.6 L874.6,139.2 L875.4,139.8 L876.1,140.3 L876.9,140.9 L877.6,141.5 L878.4,142.1 L879.1,142.4 L879.9,142.0 L880.6,141.5 L881.4,140.9 L882.1,140.3 L882.9,139.7 L883.6,139.1 L884.4,138.5 L885.1,137.9 L885.9,137.3 L886.6,136.7 L887.4,136.1 L888.1,135.6 L888.9,135.9 L889.6,136.5 L890.4,137.1 L891.1,137.7 L891.9,138.3 L892.6,138.9 L893.4,139.5 L894.1,140.1 L894.9,140.6 L895.6,141.2 L896.4,141.8 L897.1,142.4 L897.9,143.0 L898.6,143.6 L899.4,144.2 L900.1,144.8 L900.9,145.4 L901.6,146.0 L902.4,146.6 L903.1,147.2 L903.9,147.8 L904.6,148.4 L905.4,149.0 L906.1,149.6"/>
<path d="M726.9,163.7 L727.6,163.1 L728.4,162.5 L729.1,161.9 L729.9,161.3 L730.6,160.7 L731.4,160.1 L732.1,159.5 L732.9,158.9 L733.6,158.3 L734.4,157.7 L735.1,157.1 L735.9,156.5 L736.6,155.9 L737.4,155.3 L738.1,154.7 L738.9,154.1 L739.6,153.5 L740.4,152.9 L741.1,152.3 L741.9,151.7 L742.6,151.1 L743.4,150.6 L744.1,150.0 L744.9,149.4 L745.6,148.8 L746.4,148.2 L747.1,147.6 L747.9,147.0 L748.6,146.4 L749.4,145.8 L750.1,145.2 L750.9,144.6 L751.6,144.0 L752.4,143.5 L753.1,143.0 L753.9,143.3 L754.6,143.8 L755.4,144.4 L756.1,145.0 L756.9,145.6 L757.6,146.2 L758.4,146.8 L759.1,147.4 L759.9,147.9 L760.6,148.5 L761.4,149.0 L762.1,149.5 L762.9,149.4 L763.6,149.0 L764.4,148.4 L765.1,147.9 L765.9,147.3 L766.6,146.8 L767.4,146.2 L768.1,145.7 L768.9,145.1 L769.6,144.6 L770.4,144.1 L771.1,143.8 L771.9,143.7 L772.6,144.0 L773.4,144.4 L774.1,144.9 L774.9,145.4 L775.6,145.9 L776.4,146.4 L777.1,146.9 L777.9,147.4 L778.6,147.9 L779.4,148.3 L780.1,148.5 L780.9,148.7 L781.6,148.6 L782.4,148.3 L783.1,148.0 L783.9,147.5 L784.6,147.1 L785.4,146.7 L786.1,146.3 L786.9,145.9 L787.6,145.5 L788.4,145.2 L789.1,145.0 L789.9,145.0 L790.6,145.0 L791.4,145.1 L792.1,145.4 L792.9,145.7 L793.6,146.0 L794.4,146.3 L795.1,146.6 L795.9,146.9 L796.6,147.2 L797.4,147.4 L798.1,147.6 L798.9,147.6 L799.6,147.6 L800.4,147.5 L801.1,147.4 L801.9,147.2 L802.6,146.9 L803.4,146.7 L804.1,146.4 L804.9,146.2 L805.6,146.0 L806.4,145.8 L807.1,145.7 L807.9,145.6 L808.6,145.5 L809.4,145.5 L810.1,145.6 L810.9,145.7 L811.6,145.7 L812.4,145.8 L813.1,145.9 L813.9,146.0 L814.6,146.1 L815.4,146.1 L816.1,146.1 L816.9,146.1 L817.6,146.1 L818.4,146.0 L819.1,146.0 L819.9,145.9 L820.6,145.8 L821.4,145.7 L822.1,145.6 L822.9,145.5 L823.6,145.5 L824.4,145.6 L825.1,145.6 L825.9,145.8 L826.6,146.0 L827.4,146.2 L828.1,146.4 L828.9,146.6 L829.6,146.9 L830.4,147.1 L831.1,147.3 L831.9,147.5 L832.6,147.6 L833.4,147.6 L834.1,147.6 L834.9,147.4 L835.6,147.2 L836.4,147.0 L837.1,146.7 L837.9,146.4 L838.6,146.0 L839.4,145.7 L840.1,145.4 L840.9,145.2 L841.6,145.0 L842.4,145.0 L843.1,145.0 L843.9,145.2 L844.6,145.5 L845.4,145.8 L846.1,146.2 L846.9,146.6 L847.6,147.1 L848.4,147.5 L849.1,147.9 L849.9,148.3 L850.6,148.5 L851.4,148.7 L852.1,148.6 L852.9,148.3 L853.6,147.9 L854.4,147.5 L855.1,147.0 L855.9,146.5 L856.6,146.0 L857.4,145.5 L858.1,145.0 L858.9,144.5 L859.6,144.0 L860.4,143.8 L861.1,143.8 L861.9,144.1 L862.6,144.5 L863.4,145.0 L864.1,145.6 L864.9,146.1 L865.6,146.7 L866.4,147.3 L867.1,147.8 L867.9,148.4 L868.6,148.9 L869.4,149.4 L870.1,149.5 L870.9,149.1 L871.6,148.6 L872.4,148.0 L873.1,147.4 L873.9,146.9 L874.6,146.3 L875.4,145.7 L876.1,145.1 L876.9,144.5 L877.6,143.9 L878.4,143.4 L879.1,143.0 L879.9,143.4 L880.6,144.0 L881.4,144.5 L882.1,145.1 L882.9,145.7 L883.6,146.3 L884.4,146.9 L885.1,147.5 L885.9,148.1 L886.6,148.7 L887.4,149.3 L888.1,149.9 L888.9,150.5 L889.6,151.1 L890.4,151.7 L891.1,152.3 L891.9,152.9 L892.6,153.5 L893.4,154.1 L894.1,154.6 L894.9,155.2 L895.6,155.8 L896.4,156.4 L897.1,157.0 L897.9,157.6 L898.6,158.2 L899.4,158.8 L900.1,159.4 L900.9,160.0 L901.6,160.6 L902.4,161.2 L903.1,161.8 L903.9,162.4 L904.6,163.0 L905.4,163.6 L906.1,164.2"/>
<path d="M726.9,178.3 L727.6,177.7 L728.4,177.1 L729.1,176.5 L729.9,175.9 L730.6,175.3 L731.4,174.7 L732.1,174.1 L732.9,173.5 L733.6,172.9 L734.4,172.3 L735.1,171.7 L735.9,171.1 L736.6,170.5 L737.4,169.9 L738.1,169.3 L738.9,168.7 L739.6,168.1 L740.4,167.5 L741.1,166.9 L741.9,166.3 L742.6,165.7 L743.4,165.2 L744.1,164.6 L744.9,164.0 L745.6,163.4 L746.4,162.8 L747.1,162.2 L747.9,161.6 L748.6,161.0 L749.4,160.4 L750.1,159.8 L750.9,159.2 L751.6,158.6 L752.4,158.0 L753.1,157.4 L753.9,156.8 L754.6,156.2 L755.4,155.6 L756.1,155.0 L756.9,154.5 L757.6,153.9 L758.4,153.3 L759.1,152.7 L759.9,152.1 L760.6,151.6 L761.4,151.0 L762.1,150.6 L762.9,150.7 L763.6,151.1 L764.4,151.6 L765.1,152.2 L765.9,152.8 L766.6,153.3 L767.4,153.9 L768.1,154.5 L768.9,155.0 L769.6,155.6 L770.4,156.0 L771.1,156.4 L771.9,156.5 L772.6,156.2 L773.4,155.8 L774.1,155.3 L774.9,154.8 L775.6,154.3 L776.4,153.8 L777.1,153.3 L777.9,152.8 L778.6,152.4 L779.4,152.0 L780.1,151.7 L780.9,151.6 L781.6,151.7 L782.4,152.0 L783.1,152.3 L783.9,152.8 L784.6,153.2 L785.4,153.6 L786.1,154.1 L786.9,154.5 L787.6,154.8 L788.4,155.1 L789.1,155.4 L789.9,155.5 L790.6,155.4 L791.4,155.3 L792.1,155.1 L792.9,154.8 L793.6,154.5 L794.4,154.1 L795.1,153.8 L795.9,153.5 L796.6,153.2 L797.4,153.0 L798.1,152.9 L798.9,152.8 L799.6,152.8 L800.4,152.9 L801.1,153.1 L801.9,153.3 L802.6,153.5 L803.4,153.8 L804.1,154.0 L804.9,154.2 L805.6,154.4 L806.4,154.6 L807.1,154.7 L807.9,154.8 L808.6,154.9 L809.4,154.9 L810.1,154.8 L810.9,154.8 L811.6,154.7 L812.4,154.6 L813.1,154.5 L813.9,154.4 L814.6,154.3 L815.4,154.3 L816.1,154.3 L816.9,154.3 L817.6,154.3 L818.4,154.4 L819.1,154.5 L819.9,154.6 L820.6,154.7 L821.4,154.8 L822.1,154.8 L822.9,154.9 L823.6,154.9 L824.4,154.8 L825.1,154.8 L825.9,154.6 L826.6,154.5 L827.4,154.3 L828.1,154.0 L828.9,153.8 L829.6,153.5 L830.4,153.3 L831.1,153.1 L831.9,152.9 L832.6,152.8 L833.4,152.8 L834.1,152.9 L834.9,153.0 L835.6,153.2 L836.4,153.5 L837.1,153.8 L837.9,154.1 L838.6,154.4 L839.4,154.7 L840.1,155.0 L840.9,155.3 L841.6,155.4 L842.4,155.5 L843.1,155.4 L843.9,155.2 L844.6,154.9 L845.4,154.5 L846.1,154.1 L846.9,153.7 L847.6,153.3 L848.4,152.8 L849.1,152.4 L849.9,152.0 L850.6,151.7 L851.4,151.6 L852.1,151.7 L852.9,151.9 L853.6,152.3 L854.4,152.7 L855.1,153.2 L855.9,153.7 L856.6,154.2 L857.4,154.8 L858.1,155.3 L858.9,155.8 L859.6,156.2 L860.4,156.5 L861.1,156.4 L861.9,156.1 L862.6,155.6 L863.4,155.1 L864.1,154.6 L864.9,154.0 L865.6,153.4 L866.4,152.8 L867.1,152.3 L867.9,151.7 L868.6,151.2 L869.4,150.7 L870.1,150.6 L870.9,151.0 L871.6,151.5 L872.4,152.0 L873.1,152.6 L873.9,153.2 L874.6,153.8 L875.4,154.4 L876.1,155.0 L876.9,155.6 L877.6,156.1 L878.4,156.7 L879.1,157.3 L879.9,157.9 L880.6,158.5 L881.4,159.1 L882.1,159.7 L882.9,160.3 L883.6,160.9 L884.4,161.5 L885.1,162.1 L885.9,162.7 L886.6,163.3 L887.4,163.9 L888.1,164.5 L888.9,165.1 L889.6,165.7 L890.4,166.3 L891.1,166.9 L891.9,167.5 L892.6,168.1 L893.4,168.7 L894.1,169.2 L894.9,169.8 L895.6,170.4 L896.4,171.0 L897.1,171.6 L897.9,172.2 L898.6,172.8 L899.4,173.4 L900.1,174.0 L900.9,174.6 L901.6,175.2 L902.4,175.8 L903.1,176.4 L903.9,177.0 L904.6,177.6 L905.4,178.2 L906.1,178.8"/>
<path d="M726.9,192.9 L727.6,192.3 L728.4,191.7 L729.1,191.1 L729.9,190.5 L730.6,189.9 L731.4,189.3 L732.1,188.7 L732.9,188.1 L733.6,187.5 L734.4,186.9 L735.1,186.3 L735.9,185.7 L736.6,185.1 L737.4,184.5 L738.1,183.9 L738.9,183.3 L739.6,182.7 L740.4,182.1 L741.1,181.5 L741.9,180.9 L742.6,180.3 L743.4,179.7 L744.1,179.2 L744.9,178.6 L745.6,178.0 L746.4,177.4 L747.1,176.8 L747.9,176.2 L748.6,175.6 L749.4,175.0 L750.1,174.4 L750.9,173.8 L751.6,173.2 L752.4,172.6 L753.1,172.0 L753.9,171.4 L754.6,170.8 L755.4,170.2 L756.1,169.6 L756.9,169.0 L757.6,168.4 L758.4,167.9 L759.1,167.3 L759.9,166.7 L760.6,166.1 L761.4,165.5 L762.1,164.9 L762.9,164.3 L763.6,163.7 L764.4,163.1 L765.1,162.6 L765.9,162.0 L766.6,161.4 L767.4,160.8 L768.1,160.3 L768.9,159.7 L769.6,159.2 L770.4,158.7 L771.1,158.4 L771.9,158.3 L772.6,158.5 L773.4,159.0 L774.1,159.5 L774.9,160.0 L775.6,160.5 L776.4,161.1 L777.1,161.6 L777.9,162.1 L778.6,162.6 L779.4,163.0 L780.1,163.3 L780.9,163.4 L781.6,163.3 L782.4,163.1 L783.1,162.7 L783.9,162.3 L784.6,161.8 L785.4,161.4 L786.1,161.0 L786.9,160.6 L787.6,160.2 L788.4,159.9 L789.1,159.7 L789.9,159.6 L790.6,159.7 L791.4,159.8 L792.1,160.0 L792.9,160.3 L793.6,160.6 L794.4,161.0 L795.1,161.3 L795.9,161.6 L796.6,161.9 L797.4,162.1 L798.1,162.3 L798.9,162.3 L799.6,162.3 L800.4,162.3 L801.1,162.1 L801.9,161.9 L802.6,161.7 L803.4,161.5 L804.1,161.2 L804.9,161.0 L805.6,160.8 L806.4,160.6 L807.1,160.5 L807.9,160.4 L808.6,160.4 L809.4,160.4 L810.1,160.4 L810.9,160.5 L811.6,160.5 L812.4,160.6 L813.1,160.7 L813.9,160.8 L814.6,160.9 L815.4,160.9 L816.1,160.9 L816.9,160.9 L817.6,160.9 L818.4,160.8 L819.1,160.7 L819.9,160.7 L820.6,160.6 L821.4,160.5 L822.1,160.4 L822.9,160.4 L823.6,160.3 L824.4,160.4 L825.1,160.5 L825.9,160.6 L826.6,160.8 L827.4,161.0 L828.1,161.2 L828.9,161.4 L829.6,161.7 L830.4,161.9 L831.1,162.1 L831.9,162.2 L832.6,162.3 L833.4,162.3 L834.1,162.3 L834.9,162.1 L835.6,161.9 L836.4,161.7 L837.1,161.3 L837.9,161.0 L838.6,160.7 L839.4,160.4 L840.1,160.1 L840.9,159.8 L841.6,159.7 L842.4,159.6 L843.1,159.7 L843.9,159.9 L844.6,160.2 L845.4,160.5 L846.1,160.9 L846.9,161.4 L847.6,161.8 L848.4,162.2 L849.1,162.6 L849.9,163.0 L850.6,163.3 L851.4,163.4 L852.1,163.3 L852.9,163.0 L853.6,162.6 L854.4,162.2 L855.1,161.7 L855.9,161.1 L856.6,160.6 L857.4,160.1 L858.1,159.5 L858.9,159.0 L859.6,158.6 L860.4,158.3 L861.1,158.3 L861.9,158.7 L862.6,159.1 L863.4,159.7 L864.1,160.2 L864.9,160.8 L865.6,161.3 L866.4,161.9 L867.1,162.5 L867.9,163.1 L868.6,163.6 L869.4,164.2 L870.1,164.8 L870.9,165.4 L871.6,166.0 L872.4,166.6 L873.1,167.2 L873.9,167.8 L874.6,168.4 L875.4,169.0 L876.1,169.5 L876.9,170.1 L877.6,170.7 L878.4,171.3 L879.1,171.9 L879.9,172.5 L880.6,173.1 L881.4,173.7 L882.1,174.3 L882.9,174.9 L883.6,175.5 L884.4,176.1 L885.1,176.7 L885.9,177.3 L886.6,177.9 L887.4,178.5 L888.1,179.1 L888.9,179.7 L889.6,180.3 L890.4,180.9 L891.1,181.5 L891.9,182.1 L892.6,182.7 L893.4,183.3 L894.1,183.8 L894.9,184.4 L895.6,185.0 L896.4,185.6 L897.1,186.2 L897.9,186.8 L898.6,187.4 L899.4,188.0 L900.1,188.6 L900.9,189.2 L901.6,189.8 L902.4,190.4 L903.1,191.0 L903.9,191.6 L904.6,192.2 L905.4,192.8 L906.1,193.4"/>
<path d="M726.9,207.5 L727.6,206.9 L728.4,206.3 L729.1,205.7 L729.9,205.1 L730.6,204.5 L731.4,203.9 L732.1,203.3 L732.9,202.7 L733.6,202.1 L734.4,201.5 L735.1,200.9 L735.9,200.3 L736.6,199.7 L737.4,199.1 L738.1,198.5 L738.9,197.9 L739.6,197.3 L740.4,196.7 L741.1,196.1 L741.9,195.5 L742.6,194.9 L743.4,194.3 L744.1,193.8 L744.9,193.2 L745.6,192.6 L746.4,192.0 L747.1,191.4 L747.9,190.8 L748.6,190.2 L749.4,189.6 L750.1,189.0 L750.9,188.4 L751.6,187.8 L752.4,187.2 L753.1,186.6 L753.9,186.0 L754.6,185.4 L755.4,184.8 L756.1,184.2 L756.9,183.6 L757.6,183.0 L758.4,182.4 L759.1,181.8 L759.9,181.3 L760.6,180.7 L761.4,180.1 L762.1,179.5 L762.9,178.9 L763.6,178.3 L764.4,177.7 L765.1,177.1 L765.9,176.5 L766.6,175.9 L767.4,175.4 L768.1,174.8 L768.9,174.2 L769.6,173.6 L770.4,173.0 L771.1,172.5 L771.9,171.9 L772.6,171.3 L773.4,170.7 L774.1,170.2 L774.9,169.6 L775.6,169.1 L776.4,168.5 L777.1,168.0 L777.9,167.5 L778.6,167.0 L779.4,166.6 L780.1,166.3 L780.9,166.2 L781.6,166.3 L782.4,166.6 L783.1,167.0 L783.9,167.4 L784.6,167.8 L785.4,168.3 L786.1,168.7 L786.9,169.1 L787.6,169.5 L788.4,169.8 L789.1,170.1 L789.9,170.2 L790.6,170.2 L791.4,170.1 L792.1,169.9 L792.9,169.6 L793.6,169.3 L794.4,169.0 L795.1,168.6 L795.9,168.3 L796.6,168.1 L797.4,167.9 L798.1,167.7 L798.9,167.6 L799.6,167.6 L800.4,167.7 L801.1,167.8 L801.9,168.0 L802.6,168.2 L803.4,168.5 L804.1,168.7 L804.9,168.9 L805.6,169.1 L806.4,169.3 L807.1,169.4 L807.9,169.5 L808.6,169.6 L809.4,169.6 L810.1,169.5 L810.9,169.5 L811.6,169.4 L812.4,169.3 L813.1,169.2 L813.9,169.1 L814.6,169.1 L815.4,169.1 L816.1,169.0 L816.9,169.0 L817.6,169.1 L818.4,169.1 L819.1,169.2 L819.9,169.3 L820.6,169.4 L821.4,169.5 L822.1,169.5 L822.9,169.6 L823.6,169.6 L824.4,169.5 L825.1,169.5 L825.9,169.3 L826.6,169.2 L827.4,169.0 L828.1,168.7 L828.9,168.5 L829.6,168.3 L830.4,168.1 L831.1,167.9 L831.9,167.7 L832.6,167.6 L833.4,167.6 L834.1,167.7 L834.9,167.8 L835.6,168.0 L836.4,168.3 L837.1,168.6 L837.9,168.9 L838.6,169.3 L839.4,169.6 L840.1,169.8 L840.9,170.1 L841.6,170.2 L842.4,170.2 L843.1,170.1 L843.9,169.9 L844.6,169.6 L845.4,169.2 L846.1,168.8 L846.9,168.3 L847.6,167.9 L848.4,167.4 L849.1,167.0 L849.9,166.6 L850.6,166.3 L851.4,166.2 L852.1,166.3 L852.9,166.6 L853.6,167.0 L854.4,167.4 L855.1,167.9 L855.9,168.5 L856.6,169.0 L857.4,169.5 L858.1,170.1 L858.9,170.7 L859.6,171.2 L860.4,171.8 L861.1,172.4 L861.9,173.0 L862.6,173.5 L863.4,174.1 L864.1,174.7 L864.9,175.3 L865.6,175.9 L866.4,176.5 L867.1,177.0 L867.9,177.6 L868.6,178.2 L869.4,178.8 L870.1,179.4 L870.9,180.0 L871.6,180.6 L872.4,181.2 L873.1,181.8 L873.9,182.4 L874.6,183.0 L875.4,183.5 L876.1,184.1 L876.9,184.7 L877.6,185.3 L878.4,185.9 L879.1,186.5 L879.9,187.1 L880.6,187.7 L881.4,188.3 L882.1,188.9 L882.9,189.5 L883.6,190.1 L884.4,190.7 L885.1,191.3 L885.9,191.9 L886.6,192.5 L887.4,193.1 L888.1,193.7 L888.9,194.3 L889.6,194.9 L890.4,195.5 L891.1,196.1 L891.9,196.7 L892.6,197.3 L893.4,197.9 L894.1,198.4 L894.9,199.0 L895.6,199.6 L896.4,200.2 L897.1,200.8 L897.9,201.4 L898.6,202.0 L899.4,202.6 L900.1,203.2 L900.9,203.8 L901.6,204.4 L902.4,205.0 L903.1,205.6 L903.9,206.2 L904.6,206.8 L905.4,207.4 L906.1,208.0"/>
<path d="M726.9,222.1 L727.6,221.5 L728.4,220.9 L729.1,220.3 L729.9,219.7 L730.6,219.1 L731.4,218.5 L732.1,217.9 L732.9,217.3 L733.6,216.7 L734.4,216.1 L735.1,215.5 L735.9,214.9 L736.6,214.3 L737.4,213.7 L738.1,213.1 L738.9,212.5 L739.6,211.9 L740.4,211.3 L741.1,210.7 L741.9,210.1 L742.6,209.5 L743.4,208.9 L744.1,208.4 L744.9,207.8 L745.6,207.2 L746.4,206.6 L747.1,206.0 L747.9,205.4 L748.6,204.8 L749.4,204.2 L750.1,203.6 L750.9,203.0 L751.6,202.4 L752.4,201.8 L753.1,201.2 L753.9,200.6 L754.6,200.0 L755.4,199.4 L756.1,198.8 L756.9,198.2 L757.6,197.6 L758.4,197.0 L759.1,196.4 L759.9,195.8 L760.6,195.3 L761.4,194.7 L762.1,194.1 L762.9,193.5 L763.6,192.9 L764.4,192.3 L765.1,191.7 L765.9,191.1 L766.6,190.5 L767.4,189.9 L768.1,189.3 L768.9,188.8 L769.6,188.2 L770.4,187.6 L771.1,187.0 L771.9,186.4 L772.6,185.8 L773.4,185.2 L774.1,184.7 L774.9,184.1 L775.6,183.5 L776.4,182.9 L777.1,182.4 L777.9,181.8 L778.6,181.2 L779.4,180.7 L780.1,180.1 L780.9,179.6 L781.6,179.0 L782.4,178.5 L783.1,177.9 L783.9,177.4 L784.6,176.9 L785.4,176.4 L786.1,175.9 L786.9,175.5 L787.6,175.1 L788.4,174.8 L789.1,174.5 L789.9,174.4 L790.6,174.4 L791.4,174.5 L792.1,174.7 L792.9,175.0 L793.6,175.3 L794.4,175.6 L795.1,176.0 L795.9,176.3 L796.6,176.6 L797.4,176.8 L798.1,177.0 L798.9,177.1 L799.6,177.1 L800.4,177.1 L801.1,177.0 L801.9,176.8 L802.6,176.6 L803.4,176.4 L804.1,176.2 L804.9,176.0 L805.6,175.8 L806.4,175.6 L807.1,175.5 L807.9,175.4 L808.6,175.3 L809.4,175.3 L810.1,175.3 L810.9,175.4 L811.6,175.5 L812.4,175.6 L813.1,175.6 L813.9,175.7 L814.6,175.8 L815.4,175.8 L816.1,175.8 L816.9,175.8 L817.6,175.8 L818.4,175.7 L819.1,175.6 L819.9,175.6 L820.6,175.5 L821.4,175.4 L822.1,175.3 L822.9,175.3 L823.6,175.3 L824.4,175.4 L825.1,175.4 L825.9,175.6 L826.6,175.7 L827.4,175.9 L828.1,176.1 L828.9,176.4 L829.6,176.6 L830.4,176.8 L831.1,176.9 L831.9,177.1 L832.6,177.1 L833.4,177.1 L834.1,177.0 L834.9,176.8 L835.6,176.6 L836.4,176.3 L837.1,176.0 L837.9,175.7 L838.6,175.4 L839.4,175.0 L840.1,174.8 L840.9,174.5 L841.6,174.4 L842.4,174.4 L843.1,174.5 L843.9,174.7 L844.6,175.1 L845.4,175.4 L846.1,175.9 L846.9,176.3 L847.6,176.8 L848.4,177.3 L849.1,177.9 L849.9,178.4 L850.6,178.9 L851.4,179.5 L852.1,180.0 L852.9,180.6 L853.6,181.2 L854.4,181.7 L855.1,182.3 L855.9,182.9 L856.6,183.4 L857.4,184.0 L858.1,184.6 L858.9,185.2 L859.6,185.7 L860.4,186.3 L861.1,186.9 L861.9,187.5 L862.6,188.1 L863.4,188.7 L864.1,189.3 L864.9,189.9 L865.6,190.4 L866.4,191.0 L867.1,191.6 L867.9,192.2 L868.6,192.8 L869.4,193.4 L870.1,194.0 L870.9,194.6 L871.6,195.2 L872.4,195.8 L873.1,196.4 L873.9,197.0 L874.6,197.5 L875.4,198.1 L876.1,198.7 L876.9,199.3 L877.6,199.9 L878.4,200.5 L879.1,201.1 L879.9,201.7 L880.6,202.3 L881.4,202.9 L882.1,203.5 L882.9,204.1 L883.6,204.7 L884.4,205.3 L885.1,205.9 L885.9,206.5 L886.6,207.1 L887.4,207.7 L888.1,208.3 L888.9,208.9 L889.6,209.5 L890.4,210.1 L891.1,210.7 L891.9,211.3 L892.6,211.9 L893.4,212.5 L894.1,213.0 L894.9,213.6 L895.6,214.2 L896.4,214.8 L897.1,215.4 L897.9,216.0 L898.6,216.6 L899.4,217.2 L900.1,217.8 L900.9,218.4 L901.6,219.0 L902.4,219.6 L903.1,220.2 L903.9,220.8 L904.6,221.4 L905.4,222.0 L906.1,222.6"/>
<path d="M726.9,236.7 L727.6,236.1 L728.4,235.5 L729.1,234.9 L729.9,234.3 L730.6,233.7 L731.4,233.1 L732.1,232.5 L732.9,231.9 L733.6,231.3 L734.4,230.7 L735.1,230.1 L735.9,229.5 L736.6,228.9 L737.4,228.3 L738.1,227.7 L738.9,227.1 L739.6,226.5 L740.4,225.9 L741.1,225.3 L741.9,224.7 L742.6,224.1 L743.4,223.5 L744.1,223.0 L744.9,222.4 L745.6,221.8 L746.4,221.2 L747.1,220.6 L747.9,220.0 L748.6,219.4 L749.4,218.8 L750.1,218.2 L750.9,217.6 L751.6,217.0 L752.4,216.4 L753.1,215.8 L753.9,215.2 L754.6,214.6 L755.4,214.0 L756.1,213.4 L756.9,212.8 L757.6,212.2 L758.4,211.6 L759.1,211.0 L759.9,210.4 L760.6,209.8 L761.4,209.3 L762.1,208.7 L762.9,208.1 L763.6,207.5 L764.4,206.9 L765.1,206.3 L765.9,205.7 L766.6,205.1 L767.4,204.5 L768.1,203.9 L768.9,203.3 L769.6,202.7 L770.4,202.2 L771.1,201.6 L771.9,201.0 L772.6,200.4 L773.4,199.8 L774.1,199.2 L774.9,198.6 L775.6,198.1 L776.4,197.5 L777.1,196.9 L777.9,196.3 L778.6,195.7 L779.4,195.2 L780.1,194.6 L780.9,194.0 L781.6,193.4 L782.4,192.9 L783.1,192.3 L783.9,191.7 L784.6,191.2 L785.4,190.6 L786.1,190.1 L786.9,189.5 L787.6,189.0 L788.4,188.4 L789.1,187.9 L789.9,187.4 L790.6,186.9 L791.4,186.4 L792.1,185.9 L792.9,185.4 L793.6,184.9 L794.4,184.5 L795.1,184.1 L795.9,183.7 L796.6,183.4 L797.4,183.1 L798.1,182.9 L798.9,182.8 L799.6,182.7 L800.4,182.7 L801.1,182.8 L801.9,182.9 L802.6,183.1 L803.4,183.3 L804.1,183.5 L804.9,183.7 L805.6,183.8 L806.4,184.0 L807.1,184.1 L807.9,184.2 L808.6,184.3 L809.4,184.3 L810.1,184.3 L810.9,184.2 L811.6,184.2 L812.4,184.1 L813.1,184.0 L813.9,184.0 L814.6,183.9 L815.4,183.9 L816.1,183.9 L816.9,183.9 L817.6,183.9 L818.4,184.0 L819.1,184.0 L819.9,184.1 L820.6,184.2 L821.4,184.2 L822.1,184.3 L822.9,184.3 L823.6,184.3 L824.4,184.2 L825.1,184.1 L825.9,184.0 L826.6,183.9 L827.4,183.7 L828.1,183.5 L828.9,183.3 L829.6,183.1 L830.4,182.9 L831.1,182.8 L831.9,182.7 L832.6,182.7 L833.4,182.7 L834.1,182.9 L834.9,183.1 L835.6,183.4 L836.4,183.7 L837.1,184.0 L837.9,184.4 L838.6,184.9 L839.4,185.3 L840.1,185.8 L840.9,186.3 L841.6,186.8 L842.4,187.3 L843.1,187.8 L843.9,188.4 L844.6,188.9 L845.4,189.4 L846.1,190.0 L846.9,190.5 L847.6,191.1 L848.4,191.7 L849.1,192.2 L849.9,192.8 L850.6,193.4 L851.4,193.9 L852.1,194.5 L852.9,195.1 L853.6,195.7 L854.4,196.2 L855.1,196.8 L855.9,197.4 L856.6,198.0 L857.4,198.6 L858.1,199.1 L858.9,199.7 L859.6,200.3 L860.4,200.9 L861.1,201.5 L861.9,202.1 L862.6,202.7 L863.4,203.3 L864.1,203.8 L864.9,204.4 L865.6,205.0 L866.4,205.6 L867.1,206.2 L867.9,206.8 L868.6,207.4 L869.4,208.0 L870.1,208.6 L870.9,209.2 L871.6,209.8 L872.4,210.4 L873.1,211.0 L873.9,211.6 L874.6,212.1 L875.4,212.7 L876.1,213.3 L876.9,213.9 L877.6,214.5 L878.4,215.1 L879.1,215.7 L879.9,216.3 L880.6,216.9 L881.4,217.5 L882.1,218.1 L882.9,218.7 L883.6,219.3 L884.4,219.9 L885.1,220.5 L885.9,221.1 L886.6,221.7 L887.4,222.3 L888.1,222.9 L888.9,223.5 L889.6,224.1 L890.4,224.7 L891.1,225.3 L891.9,225.9 L892.6,226.5 L893.4,227.1 L894.1,227.6 L894.9,228.2 L895.6,228.8 L896.4,229.4 L897.1,230.0 L897.9,230.6 L898.6,231.2 L899.4,231.8 L900.1,232.4 L900.9,233.0 L901.6,233.6 L902.4,234.2 L903.1,234.8 L903.9,235.4 L904.6,236.0 L905.4,236.6 L906.1,237.2"/>
<path d="M726.9,251.3 L727.6,250.7 L728.4,250.1 L729.1,249.5 L729.9,248.9 L730.6,248.3 L731.4,247.7 L732.1,247.1 L732.9,246.5 L733.6,245.9 L734.4,245.3 L735.1,244.7 L735.9,244.1 L736.6,243.5 L737.4,242.9 L738.1,242.3 L738.9,241.7 L739.6,241.1 L740.4,240.5 L741.1,239.9 L741.9,239.3 L742.6,238.7 L743.4,238.1 L744.1,237.6 L744.9,237.0 L745.6,236.4 L746.4,235.8 L747.1,235.2 L747.9,234.6 L748.6,234.0 L749.4,233.4 L750.1,232.8 L750.9,232.2 L751.6,231.6 L752.4,231.0 L753.1,230.4 L753.9,229.8 L754.6,229.2 L755.4,228.6 L756.1,228.0 L756.9,227.4 L757.6,226.8 L758.4,226.2 L759.1,225.6 L759.9,225.0 L760.6,224.4 L761.4,223.9 L762.1,223.3 L762.9,222.7 L763.6,222.1 L764.4,221.5 L765.1,220.9 L765.9,220.3 L766.6,219.7 L767.4,219.1 L768.1,218.5 L768.9,217.9 L769.6,217.3 L770.4,216.7 L771.1,216.2 L771.9,215.6 L772.6,215.0 L773.4,214.4 L774.1,213.8 L774.9,213.2 L775.6,212.6 L776.4,212.0 L777.1,211.4 L777.9,210.9 L778.6,210.3 L779.4,209.7 L780.1,209.1 L780.9,208.5 L781.6,208.0 L782.4,207.4 L783.1,206.8 L783.9,206.2 L784.6,205.7 L785.4,205.1 L786.1,204.5 L786.9,203.9 L787.6,203.4 L788.4,202.8 L789.1,202.3 L789.9,201.7 L790.6,201.1 L791.4,200.6 L792.1,200.0 L792.9,199.5 L793.6,199.0 L794.4,198.4 L795.1,197.9 L795.9,197.4 L796.6,196.9 L797.4,196.4 L798.1,195.9 L798.9,195.4 L799.6,194.9 L800.4,194.4 L801.1,194.0 L801.9,193.6 L802.6,193.2 L803.4,192.8 L804.1,192.4 L804.9,192.1 L805.6,191.8 L806.4,191.5 L807.1,191.3 L807.9,191.2 L808.6,191.0 L809.4,191.0 L810.1,190.9 L810.9,190.9 L811.6,190.9 L812.4,190.9 L813.1,191.0 L813.9,191.0 L814.6,191.0 L815.4,191.1 L816.1,191.1 L816.9,191.1 L817.6,191.0 L818.4,191.0 L819.1,191.0 L819.9,190.9 L820.6,190.9 L821.4,190.9 L822.1,190.9 L822.9,191.0 L823.6,191.0 L824.4,191.1 L825.1,191.3 L825.9,191.5 L826.6,191.8 L827.4,192.0 L828.1,192.4 L828.9,192.7 L829.6,193.1 L830.4,193.5 L831.1,193.9 L831.9,194.4 L832.6,194.8 L833.4,195.3 L834.1,195.8 L834.9,196.3 L835.6,196.8 L836.4,197.3 L837.1,197.8 L837.9,198.4 L838.6,198.9 L839.4,199.4 L840.1,200.0 L840.9,200.5 L841.6,201.1 L842.4,201.6 L843.1,202.2 L843.9,202.7 L844.6,203.3 L845.4,203.9 L846.1,204.4 L846.9,205.0 L847.6,205.6 L848.4,206.1 L849.1,206.7 L849.9,207.3 L850.6,207.9 L851.4,208.5 L852.1,209.0 L852.9,209.6 L853.6,210.2 L854.4,210.8 L855.1,211.4 L855.9,212.0 L856.6,212.5 L857.4,213.1 L858.1,213.7 L858.9,214.3 L859.6,214.9 L860.4,215.5 L861.1,216.1 L861.9,216.7 L862.6,217.3 L863.4,217.8 L864.1,218.4 L864.9,219.0 L865.6,219.6 L866.4,220.2 L867.1,220.8 L867.9,221.4 L868.6,222.0 L869.4,222.6 L870.1,223.2 L870.9,223.8 L871.6,224.4 L872.4,225.0 L873.1,225.6 L873.9,226.1 L874.6,226.7 L875.4,227.3 L876.1,227.9 L876.9,228.5 L877.6,229.1 L878.4,229.7 L879.1,230.3 L879.9,230.9 L880.6,231.5 L881.4,232.1 L882.1,232.7 L882.9,233.3 L883.6,233.9 L884.4,234.5 L885.1,235.1 L885.9,235.7 L886.6,236.3 L887.4,236.9 L888.1,237.5 L888.9,238.1 L889.6,238.7 L890.4,239.3 L891.1,239.9 L891.9,240.5 L892.6,241.1 L893.4,241.7 L894.1,242.2 L894.9,242.8 L895.6,243.4 L896.4,244.0 L897.1,244.6 L897.9,245.2 L898.6,245.8 L899.4,246.4 L900.1,247.0 L900.9,247.6 L901.6,248.2 L902.4,248.8 L903.1,249.4 L903.9,250.0 L904.6,250.6 L905.4,251.2 L906.1,251.8"/>
<path d="M726.9,265.9 L727.6,265.3 L728.4,264.7 L729.1,264.1 L729.9,263.5 L730.6,262.9 L731.4,262.3 L732.1,261.7 L732.9,261.1 L733.6,260.5 L734.4,259.9 L735.1,259.3 L735.9,258.7 L736.6,258.1 L737.4,257.5 L738.1,256.9 L738.9,256.3 L739.6,255.7 L740.4,255.1 L741.1,254.5 L741.9,253.9 L742.6,253.3 L743.4,252.7 L744.1,252.2 L744.9,251.6 L745.6,251.0 L746.4,250.4 L747.1,249.8 L747.9,249.2 L748.6,248.6 L749.4,248.0 L750.1,247.4 L750.9,246.8 L751.6,246.2 L752.4,245.6 L753.1,245.0 L753.9,244.4 L754.6,243.8 L755.4,243.2 L756.1,242.6 L756.9,242.0 L757.6,241.4 L758.4,240.8 L759.1,240.2 L759.9,239.6 L760.6,239.0 L761.4,238.4 L762.1,237.9 L762.9,237.3 L763.6,236.7 L764.4,236.1 L765.1,235.5 L765.9,234.9 L766.6,234.3 L767.4,233.7 L768.1,233.1 L768.9,232.5 L769.6,231.9 L770.4,231.3 L771.1,230.7 L771.9,230.2 L772.6,229.6 L773.4,229.0 L774.1,228.4 L774.9,227.8 L775.6,227.2 L776.4,226.6 L777.1,226.0 L777.9,225.4 L778.6,224.9 L779.4,224.3 L780.1,223.7 L780.9,223.1 L781.6,222.5 L782.4,221.9 L783.1,221.3 L783.9,220.8 L784.6,220.2 L785.4,219.6 L786.1,219.0 L786.9,218.5 L787.6,217.9 L788.4,217.3 L789.1,216.7 L789.9,216.2 L790.6,215.6 L791.4,215.0 L792.1,214.5 L792.9,213.9 L793.6,213.3 L794.4,212.8 L795.1,212.2 L795.9,211.7 L796.6,211.1 L797.4,210.6 L798.1,210.0 L798.9,209.5 L799.6,209.0 L800.4,208.5 L801.1,207.9 L801.9,207.4 L802.6,206.9 L803.4,206.4 L804.1,205.9 L804.9,205.5 L805.6,205.0 L806.4,204.6 L807.1,204.1 L807.9,203.7 L808.6,203.3 L809.4,202.9 L810.1,202.6 L810.9,202.3 L811.6,202.0 L812.4,201.8 L813.1,201.5 L813.9,201.4 L814.6,201.3 L815.4,201.2 L816.1,201.2 L816.9,201.2 L817.6,201.2 L818.4,201.4 L819.1,201.5 L819.9,201.7 L820.6,202.0 L821.4,202.2 L822.1,202.6 L822.9,202.9 L823.6,203.3 L824.4,203.7 L825.1,204.1 L825.9,204.5 L826.6,204.9 L827.4,205.4 L828.1,205.9 L828.9,206.4 L829.6,206.9 L830.4,207.4 L831.1,207.9 L831.9,208.4 L832.6,208.9 L833.4,209.4 L834.1,210.0 L834.9,210.5 L835.6,211.1 L836.4,211.6 L837.1,212.2 L837.9,212.7 L838.6,213.3 L839.4,213.8 L840.1,214.4 L840.9,214.9 L841.6,215.5 L842.4,216.1 L843.1,216.7 L843.9,217.2 L844.6,217.8 L845.4,218.4 L846.1,219.0 L846.9,219.5 L847.6,220.1 L848.4,220.7 L849.1,221.3 L849.9,221.9 L850.6,222.4 L851.4,223.0 L852.1,223.6 L852.9,224.2 L853.6,224.8 L854.4,225.4 L855.1,225.9 L855.9,226.5 L856.6,227.1 L857.4,227.7 L858.1,228.3 L858.9,228.9 L859.6,229.5 L860.4,230.1 L861.1,230.7 L861.9,231.3 L862.6,231.8 L863.4,232.4 L864.1,233.0 L864.9,233.6 L865.6,234.2 L866.4,234.8 L867.1,235.4 L867.9,236.0 L868.6,236.6 L869.4,237.2 L870.1,237.8 L870.9,238.4 L871.6,239.0 L872.4,239.6 L873.1,240.2 L873.9,240.7 L874.6,241.3 L875.4,241.9 L876.1,242.5 L876.9,243.1 L877.6,243.7 L878.4,244.3 L879.1,244.9 L879.9,245.5 L880.6,246.1 L881.4,246.7 L882.1,247.3 L882.9,247.9 L883.6,248.5 L884.4,249.1 L885.1,249.7 L885.9,250.3 L886.6,250.9 L887.4,251.5 L888.1,252.1 L888.9,252.7 L889.6,253.3 L890.4,253.9 L891.1,254.5 L891.9,255.1 L892.6,255.7 L893.4,256.3 L894.1,256.8 L894.9,257.4 L895.6,258.0 L896.4,258.6 L897.1,259.2 L897.9,259.8 L898.6,260.4 L899.4,261.0 L900.1,261.6 L900.9,262.2 L901.6,262.8 L902.4,263.4 L903.1,264.0 L903.9,264.6 L904.6,265.2 L905.4,265.8 L906.1,266.4"/>
<path d="M726.9,280.5 L727.6,279.9 L728.4,279.3 L729.1,278.7 L729.9,278.1 L730.6,277.5 L731.4,276.9 L732.1,276.3 L732.9,275.7 L733.6,275.1 L734.4,274.5 L735.1,273.9 L735.9,273.3 L736.6,272.7 L737.4,272.1 L738.1,271.5 L738.9,270.9 L739.6,270.3 L740.4,269.7 L741.1,269.1 L741.9,268.5 L742.6,267.9 L743.4,267.3 L744.1,266.8 L744.9,266.2 L745.6,265.6 L746.4,265.0 L747.1,264.4 L747.9,263.8 L748.6,263.2 L749.4,262.6 L750.1,262.0 L750.9,261.4 L751.6,260.8 L752.4,260.2 L753.1,259.6 L753.9,259.0 L754.6,258.4 L755.4,257.8 L756.1,257.2 L756.9,256.6 L757.6,256.0 L758.4,255.4 L759.1,254.8 L759.9,254.2 L760.6,253.6 L761.4,253.0 L762.1,252.5 L762.9,251.9 L763.6,251.3 L764.4,250.7 L765.1,250.1 L765.9,249.5 L766.6,248.9 L767.4,248.3 L768.1,247.7 L768.9,247.1 L769.6,246.5 L770.4,245.9 L771.1,245.3 L771.9,244.7 L772.6,244.2 L773.4,243.6 L774.1,243.0 L774.9,242.4 L775.6,241.8 L776.4,241.2 L777.1,240.6 L777.9,240.0 L778.6,239.4 L779.4,238.8 L780.1,238.3 L780.9,237.7 L781.6,237.1 L782.4,236.5 L783.1,235.9 L783.9,235.3 L784.6,234.7 L785.4,234.2 L786.1,233.6 L786.9,233.0 L787.6,232.4 L788.4,231.8 L789.1,231.3 L789.9,230.7 L790.6,230.1 L791.4,229.5 L792.1,229.0 L792.9,228.4 L793.6,227.8 L794.4,227.2 L795.1,226.7 L795.9,226.1 L796.6,225.6 L797.4,225.0 L798.1,224.4 L798.9,223.9 L799.6,223.3 L800.4,222.8 L801.1,222.3 L801.9,221.7 L802.6,221.2 L803.4,220.7 L804.1,220.2 L804.9,219.6 L805.6,219.2 L806.4,218.7 L807.1,218.2 L807.9,217.7 L808.6,217.3 L809.4,216.9 L810.1,216.5 L810.9,216.1 L811.6,215.8 L812.4,215.5 L813.1,215.3 L813.9,215.1 L814.6,214.9 L815.4,214.8 L816.1,214.8 L816.9,214.8 L817.6,214.9 L818.4,215.1 L819.1,215.2 L819.9,215.5 L820.6,215.8 L821.4,216.1 L822.1,216.5 L822.9,216.8 L823.6,217.3 L824.4,217.7 L825.1,218.1 L825.9,218.6 L826.6,219.1 L827.4,219.6 L828.1,220.1 L828.9,220.6 L829.6,221.1 L830.4,221.6 L831.1,222.2 L831.9,222.7 L832.6,223.3 L833.4,223.8 L834.1,224.4 L834.9,224.9 L835.6,225.5 L836.4,226.0 L837.1,226.6 L837.9,227.2 L838.6,227.7 L839.4,228.3 L840.1,228.9 L840.9,229.5 L841.6,230.0 L842.4,230.6 L843.1,231.2 L843.9,231.8 L844.6,232.3 L845.4,232.9 L846.1,233.5 L846.9,234.1 L847.6,234.7 L848.4,235.2 L849.1,235.8 L849.9,236.4 L850.6,237.0 L851.4,237.6 L852.1,238.2 L852.9,238.8 L853.6,239.4 L854.4,239.9 L855.1,240.5 L855.9,241.1 L856.6,241.7 L857.4,242.3 L858.1,242.9 L858.9,243.5 L859.6,244.1 L860.4,244.7 L861.1,245.3 L861.9,245.8 L862.6,246.4 L863.4,247.0 L864.1,247.6 L864.9,248.2 L865.6,248.8 L866.4,249.4 L867.1,250.0 L867.9,250.6 L868.6,251.2 L869.4,251.8 L870.1,252.4 L870.9,253.0 L871.6,253.6 L872.4,254.2 L873.1,254.8 L873.9,255.3 L874.6,255.9 L875.4,256.5 L876.1,257.1 L876.9,257.7 L877.6,258.3 L878.4,258.9 L879.1,259.5 L879.9,260.1 L880.6,260.7 L881.4,261.3 L882.1,261.9 L882.9,262.5 L883.6,263.1 L884.4,263.7 L885.1,264.3 L885.9,264.9 L886.6,265.5 L887.4,266.1 L888.1,266.7 L888.9,267.3 L889.6,267.9 L890.4,268.5 L891.1,269.1 L891.9,269.7 L892.6,270.3 L893.4,270.9 L894.1,271.4 L894.9,272.0 L895.6,272.6 L896.4,273.2 L897.1,273.8 L897.9,274.4 L898.6,275.0 L899.4,275.6 L900.1,276.2 L900.9,276.8 L901.6,277.4 L902.4,278.0 L903.1,278.6 L903.9,279.2 L904.6,279.8 L905.4,280.4 L906.1,281.0"/>
</g>
<path d="M728.90,269.10 v-6.3 M728.90,20.60 v6.3 M750.73,269.10 v-6.3 M750.73,20.60 v6.3 M772.55,269.10 v-6.3 M772.55,20.60 v6.3 M794.38,269.10 v-6.3 M794.38,20.60 v6.3 M816.20,269.10 v-6.3 M816.20,20.60 v6.3 M838.02,269.10 v-6.3 M838.02,20.60 v6.3 M859.85,269.10 v-6.3 M859.85,20.60 v6.3 M881.67,269.10 v-6.3 M881.67,20.60 v6.3 M903.50,269.10 v-6.3 M903.50,20.60 v6.3 M728.90,20.60 h6.3 M903.50,20.60 h-6.3 M728.90,56.10 h6.3 M903.50,56.10 h-6.3 M728.90,91.60 h6.3 M903.50,91.60 h-6.3 M728.90,127.10 h6.3 M903.50,127.10 h-6.3 M728.90,162.60 h6.3 M903.50,162.60 h-6.3 M728.90,198.10 h6.3 M903.50,198.10 h-6.3 M728.90,233.60 h6.3 M903.50,233.60 h-6.3 M728.90,269.10 h6.3 M903.50,269.10 h-6.3" stroke="#222" stroke-width="1.2" fill="none"/>
<rect x="728.90" y="20.60" width="174.60" height="248.50" fill="none" stroke="#222" stroke-width="1.3"/>
<text x="720.90" y="24.90" font-size="17.5" text-anchor="end" >-3</text>
<text x="720.90" y="95.90" font-size="17.5" text-anchor="end" >-4</text>
<text x="720.90" y="166.90" font-size="17.5" text-anchor="end" >-5</text>
<text x="720.90" y="237.90" font-size="17.5" text-anchor="end" >-6</text>
<text x="727.30" y="289.60" font-size="17.5" text-anchor="middle" >-0.2</text>
<text x="770.95" y="289.60" font-size="17.5" text-anchor="middle" >-0.1</text>
<text x="816.20" y="289.60" font-size="17.5" text-anchor="middle" >0</text>
<text x="861.75" y="289.60" font-size="17.5" text-anchor="middle" >0.1</text>
<text x="905.40" y="289.60" font-size="17.5" text-anchor="middle" >0.2</text>
<text x="781.30" y="315.3" font-size="19.5" font-style="italic">k</text>
<text x="791.60" y="319.6" font-size="13.5">∥</text>
<text x="806.60" y="315.3" font-size="19.5">[</text>
<text x="811.20" y="315.3" font-size="20" transform="translate(811.20,0) scale(1.04,1) translate(-811.20,0)">Å</text>
<text x="826.60" y="309.4" font-size="16">−</text>
<text x="837.60" y="309.4" font-size="14.5">1</text>
<text x="845.80" y="315.3" font-size="19.5">]</text>
<text transform="translate(694.90,150.35) rotate(-90)" font-size="20.2" text-anchor="middle"><tspan font-style="italic">E</tspan> − <tspan font-style="italic">ω</tspan> [eV]</text>
<text x="816.20" y="13.30" font-size="20.5" text-anchor="middle" >K</text>
<defs><linearGradient id="cbg908_0" x1="0" y1="0" x2="0" y2="1"><stop offset="0" stop-color="#000000"/><stop offset="1" stop-color="#0c3a50"/></linearGradient></defs>
<rect x="908.70" y="20.60" width="8.90" height="50.00" fill="url(#cbg908_0)"/>
<defs><linearGradient id="cbg908_1" x1="0" y1="0" x2="0" y2="1"><stop offset="0" stop-color="#0e4560"/><stop offset="1" stop-color="#1d7f97"/></linearGradient></defs>
<rect x="908.70" y="70.30" width="8.90" height="50.00" fill="url(#cbg908_1)"/>
<line x1="908.70" x2="917.60" y1="70.30" y2="70.30" stroke="#12333b" stroke-opacity="1" stroke-width="1.0"/>
<defs><linearGradient id="cbg908_2" x1="0" y1="0" x2="0" y2="1"><stop offset="0" stop-color="#2a8fa0"/><stop offset="1" stop-color="#57c3b6"/></linearGradient></defs>
<rect x="908.70" y="120.00" width="8.90" height="50.00" fill="url(#cbg908_2)"/>
<line x1="908.70" x2="917.60" y1="120.00" y2="120.00" stroke="#12333b" stroke-opacity="1" stroke-width="1.0"/>
<defs><linearGradient id="cbg908_3" x1="0" y1="0" x2="0" y2="1"><stop offset="0" stop-color="#6fcbbd"/><stop offset="1" stop-color="#b2e6dc"/></linearGradient></defs>
<rect x="908.70" y="169.70" width="8.90" height="50.00" fill="url(#cbg908_3)"/>
<line x1="908.70" x2="917.60" y1="169.70" y2="169.70" stroke="#12333b" stroke-opacity="1" stroke-width="1.0"/>
<defs><linearGradient id="cbg908_4" x1="0" y1="0" x2="0" y2="1"><stop offset="0" stop-color="#bfebe3"/><stop offset="1" stop-color="#f4fcfb"/></linearGradient></defs>
<rect x="908.70" y="219.40" width="8.90" height="50.00" fill="url(#cbg908_4)"/>
<line x1="908.70" x2="917.60" y1="219.40" y2="219.40" stroke="#12333b" stroke-opacity="1" stroke-width="1.0"/>
<rect x="908.70" y="20.60" width="8.90" height="248.50" fill="none" stroke="#333" stroke-width="1"/>
<text x="922.90" y="24.80" font-size="17.5" text-anchor="start" >0.1</text>
<text x="922.90" y="273.70" font-size="17.5" text-anchor="start" >0</text>
<text transform="translate(929.60,134.70) rotate(90)" font-size="21.3" text-anchor="middle">Intensity [arb.u.]</text>
<line x1="293.4" y1="119.2" x2="342.6" y2="17.4" stroke="#111" stroke-width="1.4"/>
<line x1="323.8" y1="137.3" x2="399.1" y2="65.7" stroke="#111" stroke-width="1.4"/>
<rect x="293.4" y="119.2" width="30.40" height="18.10" fill="#fcebf5" fill-opacity="0.88"/>
<path d="M293.4,123.7 L295.0,124.1 L296.6,124.4 L298.2,124.8 L299.8,125.0 L301.4,125.3 L303.0,125.4 L304.6,125.6 L306.2,125.7 L307.8,125.7 L309.4,125.7 L311.0,125.7 L312.6,125.6 L314.2,125.4 L315.8,125.3 L317.4,125.0 L319.0,124.8 L320.6,124.4 L322.2,124.1 L323.8,123.7" fill="none" stroke="#9fb4f0" stroke-opacity="0.8" stroke-width="1.1"/>
<path d="M293.4,134.7 L295.0,134.2 L296.6,133.8 L298.2,133.4 L299.8,133.1 L301.4,132.8 L303.0,132.6 L304.6,132.4 L306.2,132.3 L307.8,132.2 L309.4,132.2 L311.0,132.3 L312.6,132.4 L314.2,132.6 L315.8,132.8 L317.4,133.1 L319.0,133.4 L320.6,133.8 L322.2,134.2 L323.8,134.7" fill="none" stroke="#9fb4f0" stroke-opacity="0.8" stroke-width="1.1"/>
<rect x="293.4" y="119.2" width="30.40" height="18.10" fill="none" stroke="#222" stroke-width="1.3"/>
<rect x="342.6" y="17.4" width="56.50" height="48.30" fill="#fdf1f9" stroke="#222" stroke-width="1.3"/>
<path d="M370.85,17.4 v4 M370.85,65.7 v-4" stroke="#222" stroke-width="1.2"/>
<path d="M342.6,29.3 L344.0,29.8 L345.5,30.4 L346.9,30.9 L348.4,31.3 L349.8,31.8 L351.3,32.2 L352.7,32.5 L354.2,32.9 L355.6,33.2 L357.1,33.5 L358.5,33.8 L360.0,34.0 L361.4,34.2 L362.9,34.4 L364.3,34.5 L365.8,34.6 L367.2,34.7 L368.7,34.8 L370.1,34.8 L371.6,34.8 L373.0,34.8 L374.5,34.7 L375.9,34.6 L377.4,34.5 L378.8,34.4 L380.3,34.2 L381.7,34.0 L383.2,33.8 L384.6,33.5 L386.1,33.2 L387.5,32.9 L389.0,32.5 L390.4,32.2 L391.9,31.8 L393.3,31.3 L394.8,30.9 L396.2,30.4 L397.7,29.8 L399.1,29.3" fill="none" stroke="#8aa9f5" stroke-width="1.3"/>
<path d="M342.6,58.7 L344.0,58.1 L345.5,57.4 L346.9,56.9 L348.4,56.3 L349.8,55.8 L351.3,55.3 L352.7,54.9 L354.2,54.5 L355.6,54.1 L357.1,53.7 L358.5,53.4 L360.0,53.2 L361.4,52.9 L362.9,52.7 L364.3,52.5 L365.8,52.4 L367.2,52.3 L368.7,52.2 L370.1,52.2 L371.6,52.2 L373.0,52.2 L374.5,52.3 L375.9,52.4 L377.4,52.5 L378.8,52.7 L380.3,52.9 L381.7,53.2 L383.2,53.4 L384.6,53.7 L386.1,54.1 L387.5,54.5 L389.0,54.9 L390.4,55.3 L391.9,55.8 L393.3,56.3 L394.8,56.9 L396.2,57.4 L397.7,58.1 L399.1,58.7" fill="none" stroke="#8aa9f5" stroke-width="1.3"/>
<rect x="221.4" y="20.6" width="47.50" height="41.80" fill="#fff" stroke="#222" stroke-width="1.2"/>
<polygon points="265.00,41.00 254.78,58.71 234.33,58.71 224.10,41.00 234.32,23.29 254.78,23.29" fill="none" stroke="#111" stroke-width="1.6"/>
<text x="254.80" y="45.40" font-size="14.5" text-anchor="middle" >K</text>
<line x1="265.6" y1="31" x2="265.6" y2="51" stroke="#3f7fe0" stroke-width="1.4"/>
<line x1="801.3" y1="119.4" x2="849.9" y2="17.9" stroke="#111" stroke-width="1.4"/>
<line x1="831.0" y1="137.3" x2="906.3" y2="66.6" stroke="#111" stroke-width="1.4"/>
<rect x="801.3" y="119.4" width="29.70" height="17.90" fill="#fcebf5" fill-opacity="0.88"/>
<path d="M801.3,124.7 L802.9,125.2 L804.4,125.7 L806.0,126.2 L807.6,126.5 L809.1,126.8 L810.7,127.1 L812.2,127.3 L813.8,127.4 L815.4,127.4 L816.9,127.4 L818.5,127.4 L820.1,127.3 L821.6,127.1 L823.2,126.8 L824.7,126.5 L826.3,126.2 L827.9,125.7 L829.4,125.2 L831.0,124.7" fill="none" stroke="#9fb4f0" stroke-opacity="0.8" stroke-width="1.1"/>
<path d="M801.3,133.8 L802.9,133.3 L804.4,132.8 L806.0,132.4 L807.6,132.0 L809.1,131.7 L810.7,131.5 L812.2,131.3 L813.8,131.2 L815.4,131.1 L816.9,131.1 L818.5,131.2 L820.1,131.3 L821.6,131.5 L823.2,131.7 L824.7,132.0 L826.3,132.4 L827.9,132.8 L829.4,133.3 L831.0,133.8" fill="none" stroke="#9fb4f0" stroke-opacity="0.8" stroke-width="1.1"/>
<rect x="801.3" y="119.4" width="29.70" height="17.90" fill="none" stroke="#222" stroke-width="1.3"/>
<rect x="849.9" y="17.9" width="56.40" height="48.70" fill="#fdf1f9" stroke="#222" stroke-width="1.3"/>
<path d="M878.10,17.9 v4 M878.10,66.6 v-4" stroke="#222" stroke-width="1.2"/>
<path d="M849.9,32.3 L851.3,33.0 L852.8,33.8 L854.2,34.4 L855.7,35.1 L857.1,35.7 L858.6,36.2 L860.0,36.7 L861.5,37.2 L862.9,37.6 L864.4,38.0 L865.8,38.4 L867.3,38.7 L868.7,39.0 L870.1,39.2 L871.6,39.4 L873.0,39.6 L874.5,39.7 L875.9,39.8 L877.4,39.8 L878.8,39.8 L880.3,39.8 L881.7,39.7 L883.2,39.6 L884.6,39.4 L886.1,39.2 L887.5,39.0 L888.9,38.7 L890.4,38.4 L891.8,38.0 L893.3,37.6 L894.7,37.2 L896.2,36.7 L897.6,36.2 L899.1,35.7 L900.5,35.1 L902.0,34.4 L903.4,33.8 L904.9,33.0 L906.3,32.3" fill="none" stroke="#8aa9f5" stroke-width="1.3"/>
<path d="M849.9,57.1 L851.3,56.4 L852.8,55.7 L854.2,55.0 L855.7,54.4 L857.1,53.8 L858.6,53.2 L860.0,52.7 L861.5,52.3 L862.9,51.8 L864.4,51.5 L865.8,51.1 L867.3,50.8 L868.7,50.5 L870.1,50.3 L871.6,50.1 L873.0,49.9 L874.5,49.8 L875.9,49.7 L877.4,49.7 L878.8,49.7 L880.3,49.7 L881.7,49.8 L883.2,49.9 L884.6,50.1 L886.1,50.3 L887.5,50.5 L888.9,50.8 L890.4,51.1 L891.8,51.5 L893.3,51.8 L894.7,52.3 L896.2,52.7 L897.6,53.2 L899.1,53.8 L900.5,54.4 L902.0,55.0 L903.4,55.7 L904.9,56.4 L906.3,57.1" fill="none" stroke="#8aa9f5" stroke-width="1.3"/>
</svg>
</body></html>
